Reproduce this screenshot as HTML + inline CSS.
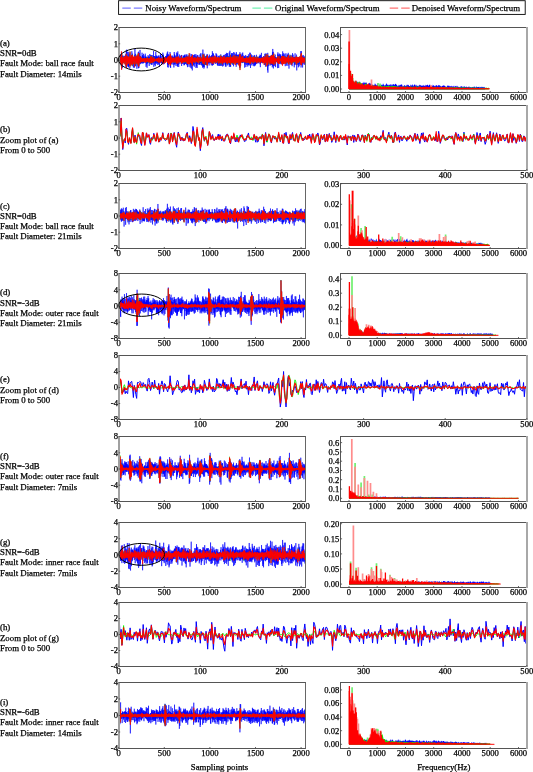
<!DOCTYPE html><html><head><meta charset="utf-8"><style>html,body{margin:0;padding:0;background:#fff;width:533px;height:772px;overflow:hidden}svg text{font-family:"Liberation Serif","Times New Roman",serif;fill:#000;stroke:#000;stroke-width:0.25px}</style></head><body><svg width="533" height="772" viewBox="0 0 533 772" style="position:absolute;left:0;top:0">
<rect width="533" height="772" fill="#fff"/>
<path transform="translate(118.7 60) scale(0.09121 0.16250)" d="M0 -19l1 29 1 111 1-160 1-8 1 106 1-77 1-6 1-20 1 65 1 17 1-19 1-37 1-8 1 38 1-3 1-20 1 9 1-9 1-7 1-16 1 35 1 8 1 1 1 5 1 9 1-37 1-16 1 54 1-4 1-54 1 34 1 55 1-59 1-41 1 56 1-26 1 1 1 20 1-31 1 10 1 62 1-53 1 2 1-25 1 1 1 38 1-24 1-3 1 14 1 20 1-21 1 8 1-17 1 9 1-6 1-14 1 43 1-24 1-11 1-11 1 15 1 10 1-14 1 11 1 11 1 6 1-23 1 16 1-26 1 29 1-26 1 27 1 13 1-29 1 8 1-18 1-15 1 73 1-62 1-17 1 52 1 13 1-87 1 80 1 21 1-38 1 10 1 17 1-95 1 43 1 44 1-72 1 87 1-23 1-37 1 13 1 16 1 16 1-18 1-18 1-8 1 1 1 6 1 56 1-92 1 41 1 54 1-32 1-23 1 7 1 12 1 29 1-72 1 4 1 63 1-52 1-19 1 14 1 8 1 31 1-27 1 65 1-99 1 10 1 53 1 3 1-18 1-14 1-3 1 3 1-7 1 30 1-13 1 9 1 0 1 13 1 12 1-63 1 39 1 6 1-16 1 22 1-17 1-57 1 13 1 31 1 5 1-25 1 68 1-42 1-35 1 58 1 2 1-11 1-10 1-5 1 18 1 12 1-40 1 27 1 34 1-30 1-33 1 17 1 23 1-24 1-4 1 14 1 6 1 34 1-77 1 24 1-23 1 51 1 17 1-26 1-10 1-75 1 89 1-12 1 30 1-31 1-44 1 74 1-27 1-28 1 8 1 11 1 22 1 2 1-3 1-3 1-33 1-3 1-7 1 36 1-23 1 8 1 58 1-68 1-2 1 22 1-18 1 30 1-32 1 25 1-15 1-15 1 41 1-54 1 50 1 20 1-53 1-32 1 53 1 45 1-23 1-79 1 0 1 36 1 42 1 22 1-76 1 17 1-19 1 7 1-20 1 40 1 5 1 26 1-9 1-26 1-7 1-49 1 72 1 13 1-44 1 43 1-17 1-19 1 9 1-17 1 28 1-17 1 24 1 7 1-15 1-1 1 13 1-10 1-23 1 34 1-22 1 25 1-1 1-65 1 11 1 43 1-31 1-5 1 10 1-12 1 28 1 13 1 9 1-39 1 38 1-15 1-20 1 34 1-14 1-43 1 51 1-35 1 26 1 8 1-4 1-21 1 16 1 9 1 4 1-6 1-23 1 22 1-1 1-3 1 9 1-42 1 32 1 9 1-52 1 17 1 34 1-28 1 3 1 25 1-31 1 5 1 3 1 53 1-59 1 11 1 16 1-5 1-2 1 24 1-4 1-44 1 32 1 4 1 33 1-42 1-4 1-3 1-15 1 37 1-27 1 22 1-20 1 3 1 1 1-30 1 25 1-13 1 33 1-10 1-27 1 10 1 7 1 11 1-6 1-10 1 19 1 23 1 5 1-48 1 20 1-25 1 10 1-15 1-16 1 44 1 15 1-41 1 28 1-11 1-29 1 42 1-22 1 10 1-4 1-3 1 34 1-18 1-20 1 26 1-40 1 56 1-22 1-32 1 45 1-50 1 46 1 0 1-12 1-36 1 60 1-33 1-12 1 14 1 5 1 4 1-12 1 2 1-10 1 17 1-5 1 4 1 10 1-36 1 42 1-75 1 60 1 23 1 15 1-49 1-15 1 10 1 18 1 2 1-3 1-28 1 13 1 13 1 27 1-53 1 27 1 11 1-36 1 15 1 44 1-8 1-27 1 14 1-14 1-46 1-7 1 51 1-17 1 0 1 23 1 18 1-51 1 28 1-5 1-9 1 29 1-44 1 17 1 4 1 21 1-30 1-6 1 36 1-27 1 18 1 24 1-26 1-24 1 8 1-6 1 37 1-5 1-23 1-14 1 29 1 19 1 3 1-57 1 2 1 48 1-36 1 7 1-4 1-4 1 18 1 7 1 32 1-47 1-10 1 10 1 1 1-9 1-13 1 45 1-20 1 4 1 3 1-42 1 24 1-16 1 10 1 30 1-36 1 6 1 16 1 0 1 18 1-13 1-1 1 0 1 16 1-29 1 5 1 34 1-15 1 2 1 3 1-12 1-9 1 26 1-1 1-21 1-45 1 46 1-10 1 32 1-33 1-23 1 33 1-27 1 41 1-8 1 20 1-35 1 26 1-15 1 3 1-22 1 23 1 17 1-6 1-2 1-16 1-12 1 17 1 4 1-25 1 9 1-6 1 14 1-3 1-18 1 20 1-21 1 14 1 5 1 1 1-19 1-4 1 19 1-17 1 16 1 13 1-17 1 0 1 7 1-31 1 45 1-30 1-25 1 3 1 44 1 11 1 14 1-42 1-37 1 95 1-9 1-63 1 22 1 54 1-56 1-18 1 54 1-24 1 27 1-66 1 30 1 31 1-5 1-23 1 11 1-13 1 15 1 14 1-40 1 10 1 4 1 7 1 7 1-39 1-22 1 68 1 9 1 16 1-74 1 11 1 68 1-65 1 26 1-27 1 43 1-28 1-3 1 27 1 4 1-6 1-19 1-28 1 29 1-12 1 15 1-3 1-1 1-14 1 14 1-18 1 0 1 11 1-21 1 29 1 26 1-27 1-5 1 2 1-17 1 11 1 11 1 4 1-14 1-13 1 10 1-1 1 57 1-62 1 46 1-27 1-52 1 50 1 24 1-60 1 50 1 5 1-15 1-30 1 0 1 23 1-7 1 35 1-41 1 23 1-19 1 18 1-3 1-32 1 49 1 15 1-42 1-9 1 19 1 12 1-62 1 54 1 15 1-19 1-2 1 2 1-10 1 6 1-12 1 50 1-50 1-7 1-22 1 82 1-44 1-50 1 43 1-8 1 32 1 16 1-34 1 17 1-31 1 39 1-26 1 48 1-36 1-21 1 6 1 5 1-6 1 17 1-42 1 38 1-3 1 11 1-15 1-9 1 36 1-13 1-9 1 9 1-14 1 12 1 0 1-2 1-33 1 24 1 4 1 3 1 4 1 6 1-10 1-24 1-8 1-4 1 62 1 6 1-29 1-38 1 41 1 2 1-32 1 22 1 10 1-9 1-15 1 33 1-22 1 7 1-8 1-2 1 27 1-31 1 20 1-17 1-6 1-16 1 17 1 3 1-17 1 20 1-13 1 49 1-62 1 11 1-4 1 51 1-45 1-14 1 58 1-4 1-9 1-16 1-34 1 1 1 53 1-37 1 37 1-39 1 44 1-24 1-8 1 30 1-49 1 23 1-13 1 21 1 6 1-3 1-7 1-28 1 21 1 28 1-57 1 66 1-47 1-2 1 52 1-37 1-3 1 51 1-36 1-1 1 0 1-29 1 38 1-25 1-19 1 17 1 29 1-20 1 7 1 0 1-17 1 3 1 30 1-17 1 38 1-49 1-24 1 42 1-17 1 9 1-9 1 29 1-32 1 7 1 25 1-62 1 62 1-26 1 50 1-18 1-12 1-33 1 22 1 11 1 16 1-9 1-26 1 26 1-13 1-22 1 64 1-19 1-70 1 38 1 7 1-10 1 22 1 2 1-22 1-10 1 73 1-60 1-5 1-19 1 17 1 36 1-44 1 28 1-35 1 18 1 8 1 3 1-42 1 64 1-32 1 4 1 1 1-2 1-19 1 0 1-16 1 42 1 30 1-17 1-16 1-18 1-25 1 12 1 36 1 12 1-50 1 42 1-13 1-15 1 5 1 1 1 0 1 2 1-1 1-32 1 85 1-35 1 1 1-32 1 8 1 6 1 43 1-38 1-23 1 19 1 13 1-12 1-21 1 71 1-80 1 8 1 44 1-17 1-9 1-10 1 40 1-55 1 37 1-3 1-13 1 15 1-7 1 13 1-32 1 23 1-2 1 3 1 16 1 10 1-44 1 5 1-9 1 44 1-1 1-10 1 13 1-29 1-8 1-2 1-23 1 9 1 44 1-20 1 17 1-11 1 14 1-60 1 26 1 28 1 17 1-30 1 18 1-16 1 7 1-11 1-13 1-1 1 49 1-29 1-10 1 13 1-6 1-42 1 73 1-31 1-8 1 5 1 49 1-57 1 35 1 0 1-89 1 51 1 53 1-4 1-60 1 13 1 22 1 32 1-35 1-41 1 44 1 42 1-41 1-3 1-48 1 34 1 50 1-52 1-9 1 47 1-7 1-23 1 0 1 26 1-18 1-9 1 27 1-51 1 54 1-40 1 5 1 2 1-1 1 14 1-16 1-19 1 51 1-30 1 19 1-25 1-18 1 59 1-24 1 19 1 2 1 4 1-69 1 4 1 84 1-33 1-50 1 53 1-15 1-25 1 7 1 30 1-16 1 6 1-4 1 6 1-13 1 4 1 21 1-31 1-14 1 30 1 2 1-8 1 33 1-25 1-21 1-21 1 33 1-6 1 2 1 6 1-6 1 23 1-15 1-20 1 36 1-45 1 40 1-22 1 16 1-2 1-21 1 1 1 17 1 9 1-7 1 7 1 20 1-46 1 19 1-32 1 35 1-4 1-36 1 40 1 5 1-33 1 10 1 41 1-86 1 28 1 60 1-12 1-31 1-3 1-19 1-12 1 40 1-15 1 13 1-1 1-32 1 68 1-38 1-10 1 35 1-9 1-3 1 8 1-40 1 7 1-4 1 18 1 10 1 10 1-5 1-3 1-14 1-6 1 17 1-17 1 26 1 11 1 1 1-7 1-8 1 2 1-5 1-9 1-39 1 58 1 2 1-3 1-6 1-30 1 19 1-34 1 57 1-35 1-14 1 42 1-25 1 1 1-1 1 43 1-33 1-8 1 25 1 19 1-39 1 9 1-8 1 17 1 13 1-33 1-16 1 4 1 35 1-37 1-4 1 61 1-30 1-22 1 17 1-30 1 28 1-8 1 28 1-30 1 29 1 17 1-13 1-37 1-7 1 20 1 31 1 5 1-46 1 26 1-23 1 34 1-61 1 21 1 20 1 5 1-2 1 27 1-61 1 9 1 36 1-4 1-35 1 20 1-5 1 38 1-56 1 34 1-20 1 10 1 18 1-35 1-3 1 58 1-24 1-30 1-10 1 21 1 8 1-12 1 42 1-66 1 27 1 1 1-14 1 10 1-4 1-11 1 8 1 12 1 4 1-5 1-2 1-27 1 12 1 32 1-10 1-3 1 29 1-11 1-9 1-12 1 20 1 24 1-42 1-35 1 67 1-18 1-35 1 26 1 38 1-26 1-13 1 9 1-55 1 2 1 46 1 10 1-6 1-22 1-2 1-20 1 40 1 18 1-51 1-14 1 27 1 49 1-9 1-28 1-20 1 17 1 24 1-16 1-26 1 18 1 28 1-25 1 6 1-3 1 8 1-15 1 36 1-54 1-20 1 63 1 25 1-24 1 12 1-49 1 1 1 21 1-60 1 52 1 27 1-19 1 37 1-48 1-17 1 25 1 42 1-35 1-30 1 8 1 7 1-3 1-9 1 40 1-48 1 47 1-61 1 43 1 1 1-14 1 16 1 18 1-2 1-61 1 38 1-5 1-18 1 55 1-6 1-28 1-37 1 58 1-11 1-3 1 0 1 18 1-40 1 2 1 57 1-56 1-32 1 75 1-26 1-5 1-18 1-2 1 41 1-36 1 5 1-17 1 40 1-26 1-27 1 36 1 27 1-36 1 29 1 5 1-27 1 6 1-12 1 21 1-38 1 26 1-26 1 36 1 13 1 27 1-39 1 4 1-55 1 41 1-6 1 35 1 4 1-19 1-37 1 27 1-6 1 36 1-35 1 12 1 4 1-21 1-20 1 28 1-26 1 48 1-7 1 12 1-28 1 28 1-34 1-22 1 36 1 27 1 3 1-17 1-41 1 21 1-11 1 12 1-2 1 21 1-48 1 32 1 49 1-75 1-21 1 95 1-42 1-40 1 59 1 3 1-4 1-42 1 55 1-56 1-18 1 22 1 25 1 5 1-15 1-14 1 10 1-23 1 10 1 5 1 29 1-9 1 5 1-16 1-2 1-34 1 45 1 0 1-8 1 9 1 13 1-65 1 37 1 23 1 3 1-3 1 1 1-16 1 12 1-21 1-4 1 20 1-34 1 41 1-26 1 3 1 11 1-22 1-3 1 37 1-6 1-29 1 69 1-48 1-10 1 6 1 33 1-29 1 20 1-6 1-28 1 18 1 9 1-43 1 21 1 53 1-13 1-42 1-11 1 15 1 14 1 11 1-30 1 36 1 7 1-24 1-8 1 16 1-2 1-5 1-28 1 27 1-28 1 10 1 17 1-26 1 61 1-64 1 13 1 28 1 11 1-16 1 19 1-66 1 57 1-4 1-30 1 12 1-8 1-3 1 8 1 37 1-52 1 33 1-23 1 17 1 15 1-23 1-46 1 74 1-8 1-6 1-17 1 17 1-59 1 49 1 44 1-37 1-1 1-39 1 19 1-12 1 27 1-17 1 5 1 17 1-45 1 12 1 26 1 0 1 29 1-46 1 11 1 1 1 7 1-7 1 24 1-36 1 1 1 23 1-32 1-7 1 20 1 6 1 25 1-37 1 49 1-32 1-2 1-1 1 8 1-20 1 25 1 4 1-40 1 43 1 19 1-29 1-41 1 66 1-18 1-2 1-31 1 29 1-40 1 33 1-5 1-14 1-5 1 52 1-26 1-23 1 44 1-36 1 3 1 4 1 21 1-32 1 12 1-17 1 13 1-9 1-20 1 44 1 12 1-21 1 0 1 0 1-20 1 37 1-15 1-24 1 7 1 3 1 14 1 0 1-10 1-7 1 25 1-31 1 34 1-26 1 30 1-25 1 6 1-7 1 12 1-23 1 26 1-3 1-21 1-10 1 25 1-5 1 16 1-1 1-16 1-18 1 23 1-29 1-3 1 59 1-37 1 19 1 36 1-27 1-19 1-29 1 23 1 15 1 7 1-3 1-16 1 7 1 16 1-11 1-51 1 37 1 8 1-19 1 23 1 3 1-11 1 20 1-5 1 1 1-22 1 16 1 7 1-31 1-1 1-1 1 4 1 29 1-20 1 10 1-9 1 10 1-15 1-14 1 43 1 0 1-31 1 19 1 0 1-27 1 9 1 42 1-28 1-7 1-10 1 21 1 18 1-22 1-41 1 65 1 3 1-33 1 15 1-50 1 79 1-18 1-34 1-4 1 16 1-6 1 7 1-43 1 36 1 20 1 2 1-4 1-33 1-7 1-7 1 35 1-23 1 22 1-8 1 23 1-16 1 1 1-31 1 94 1-25 1-82 1 42 1 80 1-81 1-10 1 4 1 47 1-40 1-22 1 19 1 30 1-22 1 20 1-49 1 16 1-11 1 30 1 9 1-23 1-10 1-4 1 0 1 10 1-13 1 18 1 39 1-44 1-15 1 26 1 11 1 2 1 10 1-41 1-5 1 50 1-34 1 7 1 9 1-40 1 58 1-14 1-30 1 33 1 11 1-32 1-22 1-7 1 35 1-31 1 15 1 58 1-34 1-60 1 32 1 46 1-97 1 80 1 25 1-29 1-24 1-1 1-33 1 102 1-28 1-33 1 0 1-21 1-4 1 72 1-9 1-25 1-26 1 25 1 13 1-38 1 15 1 11 1 31 1-33 1-11 1 17 1 4 1-33 1-12 1 34 1 4 1 39 1-60 1 19 1 0 1-6 1 8 1-23 1 30 1-2 1-17 1 5 1-3 1 5 1 14 1-23 1 3 1-7 1-2 1 16 1-3 1 4 1 22 1 26 1-85 1 10 1-22 1 55 1-3 1 5 1-27 1-12 1 41 1-18 1-1 1 56 1-49 1 10 1-15 1-20 1-15 1 45 1 13 1-52 1 35 1 18 1-36 1 1 1 16 1-9 1-6 1-7 1 9 1-23 1 30 1-23 1 52 1-43 1 15 1 2 1 16 1-36 1 37 1 13 1-34 1-4 1 30 1 4 1-33 1-4 1 32 1-44 1 29 1-19 1-19 1 26 1-8 1 36 1-18 1-54 1 76 1 4 1-21 1-23 1 15 1 26 1-29 1 2 1-38 1 41 1 11 1-26 1 33 1-48 1 3 1 36 1 2 1-9 1-15 1 7 1 7 1 11 1-51 1 43 1-5 1-13 1 34 1 18 1-55 1-5 1 26 1 11 1-25 1 28 1-10 1-49 1 13 1 22 1-12 1 53 1-51 1 21 1-21 1 16 1 21 1-16 1-12 1 19 1-31 1 16 1-28 1 46 1-49 1 26 1-15 1 24 1 35 1-25 1-18 1-26 1-11 1 44 1-3 1 26 1-4 1-53 1 9 1 29 1 49 1-48 1 13 1-23 1-18 1 11 1 1 1 20 1-9 1 16 1-15 1-29 1 56 1-31 1 13 1-27 1 27 1 5 1 6 1-21 1-3 1-29 1 3 1 7 1 30 1 7 1-1 1 2 1 7 1-36 1 40 1 2 1-38 1 22 1 25 1-63 1-1 1 26 1-8 1-34 1 48 1 12 1 1 1-16 1 13 1-49 1 18 1 5 1-8 1 0 1 14 1-11 1 21 1 6 1-9 1-19 1 31 1 25 1 5 1-30 1-16 1-4 1-14 1 34 1 16 1-29 1-33 1-10 1 64 1-17 1 0 1-21 1 4 1 6 1-2 1 7 1-15 1 18 1 28 1-21 1-28 1 15 1-25 1-5 1 49 1 48 1-58 1-18 1 35 1 7 1-29 1-4 1 6 1 0 1 14 1-7 1-13 1 6 1 9 1 14 1-6 1-22 1 4 1 43 1-63 1 25 1-7 1 6 1-18 1 13 1-6 1 44 1-50 1 38 1-16 1-25 1 5 1 5 1 14 1-4 1 6 1-36 1 1 1 26 1 6 1 5 1 15 1-39 1-1 1-1 1-43 1 39 1 62 1-5 1-39 1-56 1 21 1 51 1-11 1 9 1-27 1-20 1 38 1 3 1 0 1-7 1-1 1-13 1-13 1 70 1-39 1-12 1-3 1 21 1-2 1 16 1-58 1 38 1 2 1-15 1-1 1 14 1-25 1 33 1-16 1 6 1-30 1 21 1-10 1 25 1 18 1-23 1 0 1-15 1 4 1-9 1 5 1 26 1-19 1 8 1-3" stroke="#0000ff" stroke-width="0.6" fill="none" vector-effect="non-scaling-stroke" stroke-linejoin="round"/>
<path transform="translate(118.7 60) scale(0.09121 0.16250)" d="M0 -13l1 27 1 94 1-140 1-6 1 81 1-31 1-51 1 11 1 46 1 23 1-35 1-34 1 14 1 23 1-6 1 2 1 6 1-19 1-5 1 9 1 2 1 17 1 2 1-25 1 0 1-3 1-3 1 42 1-15 1-57 1 59 1 37 1-82 1-2 1 48 1-23 1 12 1 24 1-43 1-3 1 30 1-13 1-6 1 0 1 1 1 24 1-8 1-28 1 14 1 7 1-12 1 16 1-2 1-21 1 20 1 12 1-20 1-5 1-6 1 5 1 32 1-3 1-36 1-2 1 25 1 6 1-19 1-3 1 15 1-9 1-2 1 19 1-10 1-9 1 8 1-22 1 2 1 51 1-10 1-41 1 17 1-15 1-23 1 63 1 19 1-56 1 2 1 9 1-19 1 27 1 7 1-30 1 23 1 20 1-37 1-13 1 22 1 6 1 1 1 3 1-12 1-10 1 19 1 6 1-27 1 5 1 32 1-15 1-28 1 19 1 17 1-16 1-11 1 11 1 16 1-9 1-23 1 11 1 18 1-20 1 8 1 36 1-41 1-47 1 48 1 43 1-26 1-24 1-1 1 10 1 13 1-12 1-11 1 9 1 8 1 15 1-10 1-36 1 12 1 22 1-14 1 22 1 12 1-53 1 3 1 39 1-27 1 5 1 42 1-37 1-34 1 31 1 14 1-3 1-2 1-13 1 5 1 7 1-20 1 7 1 34 1-11 1-29 1-1 1 8 1 11 1 5 1-7 1 6 1 1 1-21 1-11 1 9 1 28 1 25 1-27 1-38 1 4 1 14 1 17 1 14 1-21 1-16 1 18 1 3 1-18 1 2 1 16 1 2 1-14 1 3 1 13 1-13 1-15 1 20 1 10 1-22 1 9 1 24 1-28 1-31 1 35 1 28 1-32 1-8 1 28 1-18 1-17 1 31 1-10 1-19 1 38 1-10 1-48 1 29 1 44 1-12 1-30 1-37 1 10 1 64 1 7 1-39 1-4 1-2 1-12 1 12 1 12 1 3 1 4 1 1 1-12 1-23 1 3 1 29 1 0 1-14 1 17 1-1 1-28 1-1 1 19 1 6 1-1 1 0 1-12 1-11 1 11 1 19 1-6 1-16 1 4 1 4 1 0 1 8 1-9 1-11 1 15 1 6 1-11 1 1 1-2 1-2 1 15 1-3 1-15 1 6 1-1 1-4 1 17 1 1 1-18 1 3 1 6 1-10 1 4 1 16 1-7 1-15 1 9 1 10 1-12 1-7 1 7 1 7 1 7 1-4 1-15 1 0 1 8 1-4 1 8 1 9 1-15 1-5 1 10 1-11 1-1 1 20 1-1 1-13 1 0 1 2 1-2 1-1 1 9 1 8 1-20 1-8 1 24 1-2 1-11 1 13 1-11 1-14 1 17 1 3 1-3 1 11 1-10 1-9 1 2 1-6 1 11 1 17 1-12 1-10 1 1 1-2 1 10 1-1 1-11 1 12 1 10 1-22 1-5 1 18 1 0 1-3 1-3 1-6 1 12 1 2 1-12 1 4 1-5 1 0 1 27 1-13 1-32 1 19 1 16 1-7 1 7 1-16 1-21 1 27 1 17 1-12 1-1 1-15 1-11 1 30 1 9 1-27 1 1 1 18 1-7 1-10 1 4 1 1 1 5 1 10 1-8 1-19 1 0 1 16 1 10 1 1 1-11 1-16 1 1 1 13 1 7 1 5 1-4 1-20 1-4 1 21 1 6 1-13 1-1 1 4 1 0 1 1 1-1 1-5 1 1 1 4 1 2 1 1 1-2 1-6 1 0 1 4 1 2 1 0 1-2 1-3 1 2 1 6 1-5 1-8 1 7 1 6 1-5 1 3 1-1 1-11 1 7 1 10 1-11 1-1 1 9 1-7 1 0 1 11 1-10 1-9 1 8 1 3 1 6 1 2 1-16 1-5 1 16 1 5 1-7 1-10 1 0 1 17 1 2 1-19 1 4 1 10 1-12 1 1 1 16 1-11 1-8 1 17 1-4 1-17 1 5 1 8 1 4 1 6 1-8 1-10 1 2 1-1 1 3 1 11 1 0 1-7 1-4 1-2 1 2 1 2 1-2 1 8 1 5 1-12 1-6 1 8 1 3 1-5 1-3 1 6 1 11 1-9 1-17 1 12 1 9 1-16 1 5 1 20 1-11 1-13 1 5 1-3 1 2 1 14 1-6 1-9 1 11 1 0 1-20 1 1 1 21 1 6 1-10 1-9 1-2 1 1 1 8 1 9 1-6 1-18 1 4 1 23 1-8 1-20 1 15 1 11 1-21 1 0 1 18 1-1 1-8 1-5 1-3 1 10 1 6 1-8 1 0 1-1 1-4 1 9 1 1 1-13 1 3 1 12 1 3 1-10 1-16 1 6 1 26 1-8 1-22 1 18 1 12 1-25 1-12 1 22 1 19 1-12 1-24 1 14 1 15 1-21 1 0 1 15 1-14 1 7 1 21 1-22 1-21 1 17 1 19 1-2 1-24 1-9 1 35 1 18 1-38 1-30 1 29 1 37 1-23 1-29 1 29 1 11 1-37 1 6 1 30 1-9 1-12 1-4 1-2 1 19 1 5 1-19 1 1 1-1 1-5 1 19 1 4 1-17 1 1 1-1 1-7 1 17 1 7 1-14 1 2 1-4 1-11 1 15 1 12 1-8 1-8 1-5 1 2 1 10 1 1 1-2 1-1 1-7 1 1 1 2 1-5 1 12 1 12 1-15 1-14 1 0 1 8 1 15 1 0 1-14 1 0 1 4 1-5 1 0 1 1 1 5 1 14 1-12 1-24 1 17 1 17 1-23 1-1 1 29 1-12 1-21 1 17 1 0 1-19 1 24 1 10 1-33 1 2 1 27 1-3 1-9 1-11 1-11 1 21 1 17 1-12 1-3 1-5 1-15 1 12 1 13 1-7 1 3 1 4 1-7 1-10 1-4 1 14 1 11 1-9 1-2 1-1 1-11 1 10 1 14 1-16 1-5 1 13 1-5 1 0 1 6 1-12 1 1 1 5 1-4 1 14 1-2 1-20 1 14 1 8 1-28 1 8 1 29 1-7 1-16 1-2 1 0 1 5 1 1 1-1 1 11 1 0 1-20 1 27 1-13 1-10 1 4 1 11 1-4 1-16 1 4 1 16 1-9 1-10 1 19 1 3 1-23 1-5 1 17 1 16 1-6 1-24 1 1 1 19 1-5 1-11 1 10 1 13 1-7 1-19 1 1 1 14 1-2 1-1 1 14 1-10 1-23 1 11 1 21 1-4 1-16 1-5 1 15 1 11 1-12 1-8 1 3 1-5 1 1 1 17 1 9 1-16 1-24 1 12 1 24 1-19 1-10 1 32 1-2 1-29 1 7 1 5 1-2 1 4 1-9 1 14 1 20 1-33 1-12 1 27 1-12 1-14 1 22 1 15 1 5 1-24 1-39 1 21 1 39 1-7 1-10 1-5 1-11 1 14 1 8 1-21 1-1 1 21 1 5 1-12 1-8 1-1 1 1 1 11 1 12 1-19 1-16 1 25 1-2 1-23 1 29 1 11 1-37 1 8 1 13 1-20 1 22 1 13 1-44 1 10 1 47 1-25 1-39 1 20 1 23 1-9 1-5 1 10 1-9 1-11 1 13 1 2 1-15 1 9 1 15 1-8 1-9 1 2 1 1 1-1 1-2 1 2 1 8 1 7 1-11 1-21 1 3 1 31 1 3 1-26 1-1 1 13 1-1 1-2 1-2 1-7 1 6 1 10 1-3 1-7 1-3 1 4 1 4 1-8 1-2 1 17 1 3 1-17 1-8 1 7 1 8 1-1 1 2 1 7 1-16 1-15 1 24 1 9 1-19 1 10 1 6 1-25 1 5 1 18 1-6 1 1 1 5 1-8 1-3 1-4 1-6 1 13 1 17 1-3 1-16 1-11 1 4 1 7 1 2 1 9 1 0 1-14 1 4 1 7 1-16 1-3 1 18 1 2 1-2 1 8 1-14 1-19 1 11 1 16 1-2 1-2 1 4 1-2 1-10 1-8 1 6 1 15 1 1 1-10 1 0 1 3 1-10 1 2 1 21 1-9 1-23 1 12 1 11 1-3 1 16 1-13 1-43 1 18 1 46 1-8 1-27 1-5 1 17 1 15 1-29 1-19 1 38 1 8 1-22 1 16 1-6 1-24 1 24 1 0 1-31 1 32 1 26 1-36 1-13 1 19 1 3 1-5 1-6 1-2 1 14 1 7 1-14 1-7 1 8 1-2 1-7 1 11 1 12 1-5 1-11 1-10 1-1 1 22 1 2 1-24 1 19 1 17 1-46 1 1 1 56 1-20 1-45 1 23 1 19 1-8 1 5 1-2 1-12 1-4 1 3 1 10 1 4 1-6 1 4 1-2 1-13 1 4 1 9 1-5 1 6 1 6 1-12 1 1 1 3 1-14 1 4 1 19 1-3 1-6 1 3 1-11 1-10 1 13 1 13 1-4 1 1 1-6 1-18 1 8 1 26 1-10 1-22 1 15 1 14 1-16 1-10 1 11 1 11 1-8 1-12 1 12 1 5 1-14 1 10 1 10 1-26 1-4 1 28 1 6 1-12 1-14 1-9 1 14 1 16 1 3 1-10 1-24 1 6 1 29 1-9 1-15 1 9 1-6 1 6 1 18 1-25 1-14 1 28 1 0 1-16 1 10 1 7 1-13 1-6 1 9 1 7 1-4 1-3 1 8 1-8 1-13 1 14 1 12 1-11 1-5 1-3 1 4 1 15 1-6 1-13 1 9 1-5 1-12 1 15 1 18 1-7 1-13 1-9 1-2 1 12 1 10 1-3 1-3 1 3 1-11 1-11 1 14 1 12 1-7 1 3 1-2 1-20 1 10 1 23 1-19 1-14 1 22 1 4 1-12 1 5 1-6 1-5 1 12 1-5 1-9 1 20 1 8 1-17 1-11 1-4 1 2 1 20 1 12 1-19 1-7 1 17 1-14 1-28 1 28 1 30 1-24 1-8 1 17 1-21 1-10 1 31 1-3 1-24 1 17 1 14 1-20 1-4 1 11 1-13 1 7 1 21 1-20 1-12 1 29 1 0 1-31 1-1 1 14 1 7 1 7 1 5 1-9 1-21 1-7 1 18 1 14 1 0 1-8 1-9 1 5 1 9 1-11 1-11 1 10 1 15 1 1 1-14 1-7 1 8 1 7 1-7 1-4 1 4 1 8 1 2 1-17 1 1 1 17 1-19 1-8 1 33 1 0 1-18 1 2 1-16 1 0 1 31 1-2 1-11 1-1 1-21 1 10 1 36 1-14 1-27 1 0 1 11 1 21 1 3 1-29 1-13 1 16 1 17 1 5 1-17 1-15 1 12 1 7 1 0 1 4 1-11 1 2 1 15 1-20 1-9 1 18 1-4 1 12 1 12 1-37 1-2 1 30 1-23 1-4 1 31 1-6 1-2 1-3 1-40 1 10 1 52 1-11 1-24 1 15 1-7 1-23 1 13 1 29 1-6 1-30 1 4 1 27 1-5 1-22 1 7 1 11 1-12 1 2 1 19 1-10 1-23 1 15 1 23 1-21 1-19 1 20 1 11 1-11 1 4 1 4 1-20 1-3 1 24 1-3 1-15 1 22 1 8 1-41 1-10 1 38 1 14 1-14 1-16 1-5 1 20 1 1 1-20 1 16 1 6 1-32 1 19 1 32 1-29 1-14 1 15 1-4 1 3 1 8 1-12 1-5 1 9 1 13 1 3 1-26 1-12 1 20 1 4 1 0 1 16 1-6 1-27 1-7 1 21 1 16 1-6 1-6 1 2 1-8 1-8 1 4 1-1 1 10 1 16 1-13 1-5 1 8 1-17 1-12 1 8 1 14 1 30 1-5 1-46 1 2 1 18 1-6 1 16 1-8 1-25 1 45 1 17 1-68 1-6 1 94 1-45 1-48 1 33 1 30 1-26 1-19 1 14 1 9 1-10 1-3 1 3 1 14 1 6 1-18 1-14 1 10 1 2 1 1 1 14 1-3 1-7 1 0 1-17 1-3 1 26 1 3 1-6 1 8 1-16 1-19 1 16 1 13 1-5 1 3 1 1 1-4 1-4 1-4 1-4 1 6 1 16 1 1 1-18 1-1 1 6 1-7 1 8 1 12 1-19 1-4 1 22 1-9 1-15 1 14 1 2 1-10 1 9 1 3 1-9 1 5 1 1 1-12 1 1 1 18 1 4 1-17 1-11 1 11 1 15 1-9 1-17 1 17 1 14 1-26 1-6 1 25 1-1 1-15 1 4 1 1 1 6 1 1 1-21 1 9 1 23 1-16 1-6 1 5 1-9 1 15 1 2 1-24 1 17 1 14 1-19 1 5 1-4 1-12 1 25 1 8 1-26 1 3 1 0 1-5 1 31 1-10 1-35 1 22 1 10 1-10 1 20 1-18 1-32 1 29 1 27 1-11 1-22 1-6 1 20 1-4 1-12 1 27 1-6 1-29 1 22 1 3 1-20 1 24 1 0 1-25 1 16 1 9 1-18 1 7 1 8 1-14 1 6 1 13 1-13 1-14 1 13 1 20 1-16 1-17 1 19 1-1 1-11 1 22 1-14 1-23 1 34 1 3 1-29 1 20 1 8 1-30 1 5 1 25 1-4 1-13 1 3 1 4 1-9 1 0 1 12 1-6 1-2 1 15 1-12 1-17 1 14 1 7 1-3 1 6 1-11 1-5 1 17 1-7 1-14 1 12 1 2 1 2 1 13 1-19 1-21 1 19 1 15 1-6 1-3 1-1 1-3 1-3 1 4 1 4 1-8 1 5 1 14 1-16 1-14 1 20 1 7 1-16 1-1 1 11 1-1 1-11 1 3 1 13 1-4 1-11 1 0 1 4 1 7 1 3 1-13 1 2 1 12 1-14 1-2 1 11 1-9 1 6 1 16 1-18 1-10 1 9 1-5 1 11 1 9 1-15 1 0 1 3 1-11 1 9 1 12 1-8 1-4 1-6 1-4 1 21 1 2 1-22 1 10 1 6 1-20 1 13 1 19 1-18 1-12 1 10 1 5 1 1 1-5 1-1 1 8 1-7 1-12 1 18 1 11 1-24 1-2 1 22 1-13 1-18 1 25 1 16 1-22 1-16 1 8 1 13 1 5 1-10 1-7 1 6 1 8 1-4 1-14 1 6 1 21 1-15 1-21 1 23 1 12 1-11 1 3 1-26 1-16 1 55 1 21 1-45 1-10 1 8 1-7 1 12 1 10 1 0 1 1 1-12 1-11 1 1 1 11 1 25 1-17 1-37 1 31 1 28 1-38 1-9 1 29 1-5 1-17 1 5 1 14 1 2 1-12 1 1 1-1 1-15 1 17 1 23 1-20 1-10 1 3 1-7 1 18 1 3 1-26 1 24 1 15 1-42 1 5 1 22 1-13 1 19 1-2 1-37 1 26 1 13 1-29 1 27 1 0 1-38 1 31 1 10 1-35 1 25 1 15 1-28 1-2 1 10 1 5 1-8 1-8 1 31 1-8 1-39 1 34 1 8 1-45 1 30 1 25 1-25 1 9 1-19 1-24 1 49 1 9 1-35 1 14 1-40 1 23 1 41 1-21 1-29 1 23 1 16 1-13 1-6 1-6 1 12 1 8 1-18 1 0 1 19 1-8 1-8 1-4 1-4 1 24 1 7 1-28 1-3 1 13 1 0 1 1 1-1 1-1 1 3 1-4 1-1 1 2 1-3 1 5 1 1 1-7 1 7 1 5 1-12 1-9 1 8 1 20 1 3 1-24 1-11 1 10 1 7 1 16 1 0 1-33 1 6 1 24 1-19 1 3 1 16 1-24 1 10 1 25 1-39 1-11 1 42 1 0 1-21 1 3 1-2 1-2 1 10 1-1 1-5 1 4 1 2 1-7 1-4 1 7 1 7 1-6 1-4 1 4 1-1 1-7 1 3 1 16 1 0 1-28 1 2 1 36 1-13 1-33 1 18 1 24 1-11 1-10 1 0 1-2 1-7 1 13 1 24 1-22 1-28 1 32 1 11 1-40 1 4 1 34 1 4 1-11 1-23 1-7 1 20 1 6 1 8 1 6 1-39 1-4 1 45 1-7 1-31 1 9 1 11 1 6 1 1 1-18 1 1 1 9 1-12 1 13 1 16 1-24 1-4 1 16 1-17 1-4 1 37 1-3 1-40 1 1 1 30 1-1 1-13 1 4 1-2 1-6 1 12 1 0 1-14 1 10 1 9 1-16 1-2 1 14 1 5 1-10 1-21 1 7 1 33 1-5 1-19 1 4 1-13 1-7 1 31 1 5 1-11 1 8 1-22 1-24 1 34 1 24 1-22 1-11 1 10 1 0 1-8 1-2 1 11 1 7 1-12 1-4 1 14 1-1 1-18 1-1 1 17 1 2 1-13 1 7 1 18 1-10 1-27 1-11 1 22 1 37 1-3 1-39 1-3 1 14 1-6 1 10 1 9 1-20 1 7 1 18 1-25 1-10 1 31 1-5 1-25 1 23 1 10 1-25 1 8 1 7 1-22 1 12 1 19 1-15 1 2 1 3 1-17 1 12 1 12 1-24 1 2 1 24 1-8 1-6 1 3 1-12 1 0 1 11 1 3 1 5 1-1 1-23 1 0 1 21 1-5 1-3 1 11 1-9 1-5 1 9 1-11 1-12 1 21 1 20 1-17 1-18 1 13 1-5 1-15 1 33 1 13 1-45 1-2 1 36 1-8 1-14 1 5 1-6 1 7 1 15 1-16 1-17 1 18 1 16 1-8 1-22 1-5 1 28 1 9 1-22 1 1 1 4 1-8 1 4 1 4 1 0 1 5 1-5 1-2 1 6 1-11 1-7 1 16 1 10 1-7 1-8 1-6 1 3 1-2 1 1 1 23 1-1 1-24 1 10 1-3 1-31 1 23 1 38 1-3 1-15 1-35 1-16 1 43 1 26 1-15 1-15 1-13 1 4 1 14 1-4 1 11 1 1 1-32 1 5 1 31 1-4 1-12 1-9 1-3 1 20 1 1 1-17 1 10 1 3 1-13 1 9 1 7 1-18 1 10 1 16 1-20 1-9 1 12 1 3 1 7 1-4 1-18 1 14 1 12 1-25 1-1 1 24 1-4 1-5 1 8 1-18" stroke="#00ff00" stroke-width="0.35" fill="none" vector-effect="non-scaling-stroke" stroke-linejoin="round"/>
<path transform="translate(118.7 60) scale(0.09121 0.16250)" d="M0 -10l1 20 1 102 1-148 1-6 1 87 1-33 1-48 1 11 1 43 1 20 1-30 1-36 1 9 1 24 1 3 1 3 1 0 1-20 1-6 1 10 1-3 1 23 1 5 1-23 1-3 1-7 1 0 1 40 1-16 1-64 1 72 1 41 1-92 1-3 1 55 1-24 1-2 1 37 1-40 1-8 1 27 1-9 1-5 1-5 1 7 1 18 1-4 1-28 1 14 1 6 1-16 1 19 1 0 1-19 1 19 1 12 1-28 1-2 1-6 1 12 1 32 1-9 1-29 1-13 1 32 1 4 1-19 1 0 1 10 1-1 1-8 1 17 1-7 1-8 1 8 1-23 1-3 1 57 1-6 1-47 1 18 1-16 1-22 1 58 1 29 1-57 1-7 1 18 1-27 1 30 1 14 1-39 1 19 1 29 1-33 1-21 1 27 1 3 1-5 1 10 1-11 1-14 1 18 1 12 1-27 1-1 1 36 1-14 1-29 1 16 1 15 1-13 1-7 1 10 1 16 1-9 1-29 1 14 1 17 1-17 1 8 1 34 1-40 1-47 1 51 1 40 1-26 1-32 1 6 1 14 1 10 1-8 1-15 1 7 1 2 1 28 1-12 1-40 1 13 1 17 1-5 1 19 1 10 1-58 1 14 1 40 1-37 1 5 1 42 1-28 1-37 1 28 1 14 1-1 1-2 1-19 1 12 1 6 1-21 1 8 1 31 1-9 1-27 1-8 1 14 1 13 1-1 1-1 1 4 1-1 1-19 1-14 1 9 1 33 1 24 1-31 1-34 1 2 1 8 1 22 1 18 1-21 1-18 1 16 1 4 1-23 1 10 1 12 1-1 1-2 1-8 1 17 1-11 1-24 1 23 1 16 1-23 1 9 1 19 1-29 1-23 1 31 1 29 1-34 1-6 1 29 1-22 1-19 1 35 1 0 1-29 1 35 1-9 1-49 1 29 1 51 1-8 1-42 1-32 1 6 1 69 1 5 1-44 1 5 1-6 1-9 1 9 1 9 1 3 1 6 1 8 1-17 1-25 1 4 1 23 1 7 1-9 1 14 1-5 1-32 1 8 1 11 1 8 1 5 1-5 1-8 1-13 1 9 1 18 1-4 1-19 1 11 1 3 1-3 1 5 1-10 1 0 1 8 1 9 1-18 1-3 1 9 1-3 1 16 1-7 1-13 1 4 1 1 1-5 1 15 1-1 1-16 1 14 1-2 1-9 1-1 1 14 1 1 1-20 1 15 1 8 1-19 1-4 1 10 1 10 1 5 1-10 1-12 1 0 1 7 1 0 1 5 1 14 1-16 1-8 1 7 1-12 1 4 1 22 1-1 1-21 1 1 1 10 1-2 1-7 1 10 1 6 1-19 1-3 1 16 1 6 1-11 1 8 1-9 1-15 1 20 1-3 1 5 1 5 1-14 1 1 1 3 1-6 1-1 1 21 1-8 1-9 1-3 1-3 1 20 1-7 1-12 1 7 1 15 1-24 1-2 1 26 1-17 1 2 1 2 1-3 1 10 1-7 1-11 1 10 1-1 1-5 1 26 1-15 1-26 1 17 1 13 1-4 1 1 1-8 1-19 1 22 1 14 1-10 1 3 1-22 1-7 1 33 1 7 1-27 1-2 1 19 1-4 1-11 1 2 1-1 1 6 1 15 1-8 1-23 1 0 1 17 1 7 1 4 1-11 1-15 1 6 1 6 1 6 1 5 1-3 1-17 1-5 1 22 1-2 1-10 1 13 1-7 1-6 1 6 1-1 1-4 1 3 1 4 1-4 1 8 1-5 1-9 1 5 1 1 1 7 1-5 1-4 1 2 1-1 1 8 1-2 1-11 1 2 1 7 1 0 1 6 1-9 1-10 1 14 1 4 1-14 1 2 1 14 1-6 1-6 1 5 1 0 1-14 1 4 1 19 1 0 1-5 1-18 1 1 1 14 1 6 1-5 1-20 1 12 1 23 1-11 1-22 1 8 1 12 1-12 1 0 1 17 1-8 1-7 1 15 1-14 1-8 1 5 1-1 1 17 1 6 1-14 1-5 1-3 1-6 1 13 1 7 1-7 1 3 1-3 1-7 1 7 1 1 1-10 1 12 1 5 1-14 1-1 1 8 1 1 1-5 1-5 1 11 1 13 1-19 1-12 1 10 1 10 1-13 1 1 1 32 1-21 1-18 1 8 1-3 1 7 1 8 1-1 1-14 1 15 1 10 1-34 1-1 1 24 1 9 1-13 1-12 1 12 1-4 1 3 1 9 1-6 1-17 1-3 1 35 1-9 1-25 1 19 1 5 1-19 1 4 1 16 1-6 1-3 1-10 1 3 1 13 1-2 1-4 1-8 1 6 1 3 1 5 1-6 1-13 1 6 1 9 1 13 1-12 1-22 1 10 1 26 1-15 1-21 1 24 1 9 1-19 1-18 1 21 1 28 1-24 1-25 1 23 1 12 1-22 1 5 1 9 1-13 1 13 1 18 1-25 1-25 1 20 1 18 1 5 1-18 1-24 1 32 1 29 1-39 1-34 1 33 1 36 1-22 1-33 1 25 1 19 1-40 1 14 1 25 1-15 1-8 1-10 1 7 1 16 1 7 1-20 1-3 1 10 1-16 1 19 1 7 1-18 1 3 1-4 1-5 1 22 1 3 1-19 1 5 1-4 1-11 1 16 1 14 1-6 1-12 1-11 1 10 1 11 1-5 1 2 1-1 1-8 1-1 1 7 1-4 1 3 1 16 1-9 1-21 1-1 1 16 1 7 1 4 1-19 1 3 1 12 1-16 1 5 1 1 1 6 1 10 1-13 1-21 1 17 1 20 1-30 1 8 1 27 1-20 1-18 1 19 1-1 1-17 1 26 1 8 1-38 1 7 1 28 1-6 1-8 1-13 1-9 1 19 1 23 1-10 1-10 1-8 1-16 1 21 1 9 1-6 1 5 1 1 1-7 1-13 1-2 1 15 1 14 1-14 1 3 1-1 1-16 1 11 1 13 1-17 1-1 1 21 1-18 1 7 1 1 1-16 1 14 1-5 1-1 1 13 1 3 1-22 1 11 1 7 1-34 1 21 1 28 1-15 1-11 1-1 1-3 1 4 1 0 1 5 1 12 1-9 1-16 1 29 1-11 1-11 1 0 1 13 1-5 1-15 1 6 1 13 1-8 1-8 1 17 1 1 1-20 1-5 1 16 1 14 1-7 1-19 1 4 1 18 1-14 1-9 1 16 1 9 1-8 1-18 1 5 1 10 1 2 1 0 1 3 1-7 1-17 1 12 1 17 1 1 1-21 1-8 1 21 1 5 1-6 1-6 1-4 1-1 1 4 1 8 1 11 1-9 1-29 1 15 1 28 1-33 1-8 1 43 1-8 1-21 1-3 1 7 1 2 1-5 1 0 1 11 1 20 1-32 1-13 1 27 1-11 1-17 1 25 1 18 1-3 1-19 1-43 1 26 1 42 1-13 1-11 1-5 1-8 1 14 1 10 1-31 1 8 1 22 1 2 1-10 1-14 1 5 1-6 1 16 1 13 1-16 1-20 1 23 1 4 1-33 1 34 1 12 1-31 1 1 1 9 1-14 1 19 1 19 1-49 1 8 1 52 1-27 1-42 1 25 1 20 1-7 1-2 1-1 1 2 1-19 1 14 1 15 1-25 1 4 1 16 1-3 1-12 1 7 1 2 1-5 1-2 1-3 1 12 1 6 1-4 1-20 1-4 1 25 1 10 1-19 1-14 1 15 1 5 1 0 1-2 1-14 1 7 1 13 1-3 1-8 1-4 1 4 1 8 1-11 1-2 1 16 1 2 1-9 1-14 1 3 1 9 1 2 1 10 1 1 1-23 1-12 1 27 1 8 1-20 1 10 1 13 1-28 1-2 1 17 1 0 1 4 1-5 1 0 1-1 1-6 1-12 1 13 1 24 1-5 1-14 1-16 1 6 1 6 1 6 1 3 1 1 1-1 1-13 1 10 1-13 1-3 1 19 1 0 1 4 1 1 1-16 1-16 1 14 1 14 1 1 1-4 1-3 1 4 1-9 1-4 1 1 1 12 1 2 1-10 1 8 1-3 1-11 1 4 1 13 1 2 1-23 1 4 1 17 1-5 1 14 1-10 1-40 1 12 1 43 1 3 1-31 1-10 1 19 1 19 1-32 1-24 1 46 1 4 1-23 1 23 1-13 1-22 1 20 1 2 1-22 1 24 1 25 1-36 1-7 1 13 1 3 1 2 1-17 1 6 1 15 1 1 1-9 1-10 1 10 1-2 1-10 1 15 1 8 1-5 1-4 1-17 1 1 1 24 1-2 1-26 1 23 1 24 1-55 1 2 1 57 1-22 1-41 1 16 1 26 1-5 1 0 1-1 1-17 1-1 1 3 1 9 1 13 1-9 1-5 1 4 1-18 1 3 1 25 1-15 1-3 1 18 1-17 1 1 1 5 1-15 1 4 1 16 1 3 1-9 1 5 1-14 1-12 1 20 1 5 1 3 1-1 1-11 1-8 1 0 1 25 1-3 1-31 1 18 1 22 1-22 1-11 1 15 1 5 1-9 1-6 1 15 1-4 1-12 1 16 1 2 1-14 1-16 1 24 1 22 1-23 1-11 1-7 1 13 1 12 1 4 1-5 1-24 1 3 1 22 1 2 1-23 1 12 1 4 1-5 1 22 1-32 1-15 1 37 1-3 1-12 1 9 1 0 1-10 1-4 1 9 1 4 1-3 1-1 1 10 1-12 1-21 1 30 1 9 1-17 1-3 1-5 1 3 1 16 1 1 1-15 1 7 1-6 1-16 1 17 1 20 1-7 1-12 1-8 1-2 1 14 1 1 1-1 1-5 1 8 1-3 1-19 1 16 1 7 1-4 1 1 1-2 1-19 1 13 1 26 1-28 1-8 1 22 1 0 1-11 1 5 1-2 1-10 1 12 1-1 1-10 1 23 1 5 1-26 1-1 1-8 1 3 1 26 1 8 1-17 1-14 1 20 1-15 1-22 1 29 1 14 1-11 1-5 1 7 1-10 1-17 1 28 1 1 1-28 1 26 1 13 1-25 1-5 1 10 1-13 1 10 1 30 1-32 1-7 1 24 1-4 1-22 1-3 1 20 1-1 1 10 1 3 1-11 1-14 1-12 1 15 1 13 1 12 1-12 1-20 1 18 1 9 1-20 1-15 1 18 1 19 1-2 1-14 1-7 1 9 1 2 1-5 1-5 1 6 1 13 1-6 1-15 1 4 1 16 1-21 1-7 1 35 1-5 1-18 1 6 1-15 1 2 1 29 1-7 1-10 1-1 1-18 1 12 1 31 1-8 1-34 1 1 1 14 1 18 1 5 1-31 1-7 1 12 1 14 1 9 1-18 1-14 1 13 1 7 1-4 1 3 1-11 1 8 1 15 1-26 1-7 1 26 1-8 1-1 1 18 1-32 1 6 1 26 1-33 1 2 1 26 1-3 1-2 1-2 1-32 1-5 1 61 1-7 1-35 1 19 1-9 1-16 1 8 1 27 1 1 1-34 1 4 1 26 1-2 1-22 1 3 1 10 1-13 1 4 1 25 1-8 1-26 1 14 1 15 1-24 1-14 1 29 1 13 1-16 1 5 1-4 1-18 1 3 1 18 1-3 1-11 1 21 1 11 1-41 1-13 1 38 1 11 1-16 1-15 1 2 1 21 1 0 1-23 1 16 1 8 1-39 1 19 1 39 1-29 1-15 1 13 1-4 1 7 1 4 1-8 1-11 1 5 1 24 1-2 1-20 1-13 1 11 1 7 1 2 1 18 1-9 1-27 1-9 1 26 1 14 1-5 1-1 1-11 1-6 1 0 1 4 1-3 1 8 1 17 1-11 1-5 1 2 1-16 1-4 1 2 1 16 1 31 1-8 1-44 1-2 1 19 1-1 1 18 1-17 1-25 1 51 1 19 1-74 1-7 1 100 1-53 1-42 1 31 1 33 1-26 1-21 1 15 1 0 1 3 1-10 1 6 1 14 1 2 1-9 1-25 1 18 1-1 1-7 1 22 1 2 1-9 1-3 1-18 1-3 1 24 1 3 1 1 1 2 1-9 1-26 1 19 1 18 1-18 1 8 1-2 1 7 1-5 1-11 1-1 1 1 1 20 1-1 1-13 1-10 1 14 1-2 1-1 1 15 1-22 1-3 1 21 1-8 1-10 1 14 1-1 1-14 1 6 1 11 1-8 1-1 1 8 1-18 1 1 1 25 1-5 1-16 1-5 1 11 1 17 1-20 1-17 1 23 1 13 1-15 1-15 1 17 1 5 1-10 1 0 1-2 1 8 1 2 1-18 1 7 1 23 1-16 1-9 1 5 1-7 1 17 1 2 1-24 1 12 1 17 1-20 1 5 1-4 1-11 1 32 1-5 1-22 1 7 1-7 1 5 1 26 1-10 1-32 1 15 1 11 1-8 1 25 1-18 1-37 1 24 1 32 1-6 1-23 1-10 1 17 1 3 1-17 1 25 1 2 1-32 1 19 1 3 1-13 1 19 1-1 1-24 1 10 1 15 1-15 1 4 1 12 1-15 1-1 1 12 1-10 1-12 1 17 1 19 1-22 1-17 1 25 1-3 1-15 1 23 1-7 1-26 1 29 1 4 1-29 1 25 1 8 1-31 1 7 1 16 1-4 1-6 1-1 1 5 1-5 1 5 1 1 1-8 1 8 1 1 1-3 1-16 1 13 1 12 1-9 1 12 1-23 1-1 1 24 1-14 1-6 1 5 1-1 1 6 1 17 1-21 1-20 1 19 1 9 1-7 1-2 1 8 1-4 1-8 1 2 1 14 1-15 1-5 1 27 1-17 1-15 1 18 1 6 1-11 1 0 1 6 1-3 1-4 1-5 1 13 1 3 1-10 1-4 1 2 1 18 1-10 1-16 1 7 1 11 1 1 1-10 1 2 1-9 1 12 1 18 1-25 1-4 1 7 1-1 1 7 1 7 1-17 1 1 1 11 1-16 1 15 1 4 1-6 1-7 1-10 1 12 1 8 1 6 1-17 1 3 1 12 1-27 1 13 1 24 1-22 1-11 1 12 1 8 1 1 1-13 1 2 1 5 1-7 1-1 1 9 1 13 1-22 1-6 1 26 1-18 1-18 1 29 1 22 1-30 1-18 1 8 1 10 1 20 1-14 1-13 1 6 1 2 1 4 1-9 1-4 1 20 1 0 1-31 1 19 1 20 1-16 1 3 1-29 1-11 1 57 1 16 1-41 1-13 1 12 1-11 1 10 1 13 1-2 1 10 1-21 1-11 1 3 1 9 1 35 1-30 1-35 1 39 1 19 1-33 1-10 1 30 1-4 1-20 1 10 1 5 1 3 1-2 1-6 1 0 1-10 1 7 1 23 1-9 1-13 1-4 1-5 1 20 1 7 1-30 1 18 1 26 1-44 1 0 1 23 1-13 1 18 1-2 1-31 1 27 1 10 1-40 1 29 1 11 1-43 1 40 1 9 1-50 1 28 1 21 1-26 1-5 1 7 1 9 1-10 1-3 1 29 1-14 1-35 1 31 1 12 1-43 1 24 1 29 1-24 1 4 1-11 1-25 1 39 1 13 1-33 1 16 1-45 1 28 1 43 1-26 1-27 1 21 1 15 1-13 1 1 1-13 1 9 1 16 1-18 1 0 1 14 1-3 1-15 1-6 1 3 1 25 1 9 1-33 1 0 1 13 1-3 1 4 1-9 1-3 1 18 1-8 1-7 1 10 1-6 1 3 1-5 1-4 1 11 1 4 1-11 1-11 1 13 1 20 1-1 1-33 1-7 1 19 1 4 1 15 1 1 1-31 1 0 1 27 1-21 1 0 1 30 1-32 1 3 1 32 1-42 1-8 1 47 1-5 1-23 1-1 1 0 1 4 1 6 1 3 1-5 1-1 1 5 1-10 1-3 1 10 1 4 1-7 1 0 1 7 1-8 1-7 1 3 1 18 1 4 1-34 1 6 1 30 1-11 1-31 1 15 1 35 1-17 1-14 1-2 1-1 1-4 1 12 1 35 1-37 1-22 1 35 1 1 1-32 1-3 1 43 1 3 1-15 1-22 1-11 1 29 1-2 1 10 1 10 1-44 1-1 1 47 1-12 1-28 1 9 1 8 1 10 1-2 1-15 1-2 1 5 1-6 1 15 1 16 1-27 1-8 1 20 1-15 1-6 1 36 1-5 1-33 1-3 1 26 1 8 1-21 1 10 1-8 1-7 1 19 1-1 1-16 1 8 1 12 1-20 1 3 1 14 1 1 1-8 1-21 1 10 1 27 1-5 1-15 1 8 1-16 1-16 1 38 1 11 1-22 1 8 1-15 1-25 1 38 1 22 1-32 1-5 1 13 1-4 1-5 1-5 1 20 1 2 1-20 1 4 1 10 1 5 1-24 1 0 1 21 1-8 1-2 1 4 1 17 1-7 1-34 1-4 1 16 1 32 1 9 1-38 1-6 1 14 1-12 1 11 1 12 1-20 1 0 1 30 1-23 1-19 1 32 1-8 1-20 1 21 1 10 1-26 1 13 1 7 1-27 1 13 1 16 1-8 1 1 1 0 1-17 1 10 1 13 1-18 1-3 1 20 1 4 1-11 1-1 1-13 1 4 1 12 1-4 1 8 1 5 1-22 1-8 1 23 1-3 1-5 1 8 1-6 1-4 1 11 1-6 1-23 1 22 1 22 1-15 1-15 1 4 1-2 1-10 1 30 1 14 1-44 1-2 1 31 1-6 1-10 1-3 1 0 1 9 1 12 1-15 1-19 1 17 1 19 1-6 1-28 1-1 1 23 1 12 1-17 1 0 1 6 1-20 1 8 1 8 1 2 1 1 1-5 1-2 1 9 1-8 1-20 1 29 1 3 1-9 1 3 1-14 1 2 1 1 1-4 1 31 1 2 1-39 1 19 1-6 1-31 1 28 1 37 1-3 1-21 1-30 1-20 1 48 1 27 1-18 1-14 1-15 1 1 1 18 1 1 1 1 1 9 1-35 1 3 1 34 1-3 1-17 1-8 1 1 1 14 1 6 1-17 1 18 1-5 1-20 1 13 1 6 1-13 1 4 1 25 1-24 1-11 1 17 1 1 1 2 1-7 1-12 1 13 1 13 1-23 1 6 1 18 1-13 1-1 1 10 1-26" stroke="#ff0000" stroke-width="0.7" fill="none" vector-effect="non-scaling-stroke" stroke-linejoin="round"/>
<path d="M118 27.5H306M118 92.5H306" stroke="#555" stroke-width="1" fill="none"/>
<line x1="119" y1="27" x2="119" y2="93" stroke="#a0a0a0" stroke-width="2"/>
<line x1="305.5" y1="27.5" x2="305.5" y2="92.5" stroke="#666" stroke-width="1"/>
<line x1="118.7" y1="27.5" x2="120.2" y2="27.5" stroke="#444" stroke-width="0.8"/>
<text x="118" y="30.4" font-size="8.6" text-anchor="end">2</text>
<line x1="118.7" y1="43.8" x2="120.2" y2="43.8" stroke="#444" stroke-width="0.8"/>
<text x="118" y="46.6" font-size="8.6" text-anchor="end">1</text>
<line x1="118.7" y1="60" x2="120.2" y2="60" stroke="#444" stroke-width="0.8"/>
<text x="118" y="62.9" font-size="8.6" text-anchor="end">0</text>
<line x1="118.7" y1="76.2" x2="120.2" y2="76.2" stroke="#444" stroke-width="0.8"/>
<text x="118" y="79.2" font-size="8.6" text-anchor="end">-1</text>
<line x1="118.7" y1="92.5" x2="120.2" y2="92.5" stroke="#444" stroke-width="0.8"/>
<text x="118" y="95.4" font-size="8.6" text-anchor="end">-2</text>
<line x1="118.7" y1="92.5" x2="118.7" y2="91" stroke="#444" stroke-width="0.8"/>
<text x="118.7" y="99.9" font-size="8.6" text-anchor="middle">0</text>
<line x1="164.3" y1="92.5" x2="164.3" y2="91" stroke="#444" stroke-width="0.8"/>
<text x="164.3" y="99.9" font-size="8.6" text-anchor="middle">500</text>
<line x1="209.9" y1="92.5" x2="209.9" y2="91" stroke="#444" stroke-width="0.8"/>
<text x="209.9" y="99.9" font-size="8.6" text-anchor="middle">1000</text>
<line x1="255.5" y1="92.5" x2="255.5" y2="91" stroke="#444" stroke-width="0.8"/>
<text x="255.5" y="99.9" font-size="8.6" text-anchor="middle">1500</text>
<line x1="301.1" y1="92.5" x2="301.1" y2="91" stroke="#444" stroke-width="0.8"/>
<text x="301.1" y="99.9" font-size="8.6" text-anchor="middle">2000</text>
<polygon points="349.0,89.0 349.0,75.6 349.5,77.1 350.0,73.6 350.5,73.9 351.0,78.5 351.5,81.2 352.0,79.0 352.5,79.3 353.0,79.7 353.5,83.7 354.0,82.7 354.5,80.7 355.0,83.0 355.5,82.4 356.0,80.0 356.5,82.2 357.0,82.6 357.5,82.3 358.0,81.0 358.5,84.7 359.0,83.1 359.5,82.1 360.0,81.2 360.5,83.6 361.0,83.2 361.5,84.6 362.0,84.1 362.5,82.4 363.0,83.7 363.5,82.7 364.0,81.5 364.5,83.6 365.0,82.3 365.5,83.1 366.0,82.5 366.5,82.6 367.0,84.0 367.5,84.4 368.0,85.0 368.5,83.4 369.0,83.6 369.5,82.5 370.0,83.8 370.5,83.6 371.0,83.5 371.5,85.0 372.0,85.1 372.5,84.7 373.0,84.5 373.5,85.4 374.0,85.3 374.5,84.7 375.0,83.1 375.5,84.4 376.0,84.5 376.5,85.2 377.0,85.6 377.5,83.3 378.0,83.2 378.5,84.7 379.0,84.4 379.5,84.5 380.0,84.9 380.5,84.7 381.0,84.3 381.5,85.2 382.0,84.4 382.5,85.4 383.0,83.2 383.5,84.2 384.0,85.2 384.5,85.8 385.0,85.0 385.5,85.6 386.0,83.7 386.5,83.3 387.0,84.4 387.5,85.0 388.0,84.3 388.5,85.2 389.0,85.6 389.5,84.8 390.0,84.5 390.5,84.1 391.0,86.0 391.5,83.8 392.0,85.9 392.5,84.3 393.0,84.5 393.5,84.0 394.0,84.5 394.5,85.2 395.0,83.8 395.5,84.0 396.0,83.7 396.5,84.9 397.0,84.7 397.5,86.2 398.0,86.2 398.5,85.5 399.0,84.4 399.5,85.5 400.0,85.6 400.5,84.5 401.0,85.0 401.5,84.3 402.1,84.5 402.6,86.4 403.1,86.4 403.6,86.2 404.1,85.1 404.6,85.2 405.1,86.0 405.6,86.2 406.1,84.4 406.6,86.2 407.1,84.2 407.6,85.5 408.1,84.7 408.6,85.0 409.1,86.1 409.6,86.0 410.1,86.6 410.6,84.3 411.1,85.7 411.6,85.5 412.1,84.2 412.6,84.8 413.1,86.2 413.6,85.6 414.1,84.8 414.6,84.6 415.1,84.6 415.6,85.4 416.1,86.5 416.6,84.6 417.1,86.0 417.6,85.4 418.1,86.4 418.6,85.9 419.1,84.4 419.6,85.2 420.1,85.6 420.6,84.7 421.1,85.9 421.6,85.6 422.1,85.6 422.6,86.0 423.1,84.7 423.6,85.8 424.1,85.4 424.6,85.8 425.1,86.6 425.6,84.4 426.1,85.8 426.6,85.1 427.1,85.1 427.6,84.4 428.1,85.2 428.6,86.2 429.1,84.4 429.6,84.9 430.1,84.6 430.6,86.0 431.1,86.3 431.6,85.9 432.1,84.5 432.6,86.4 433.1,84.9 433.6,85.6 434.1,85.8 434.6,86.5 435.1,85.1 435.6,86.4 436.1,85.2 436.6,85.3 437.1,85.2 437.6,86.4 438.1,85.8 438.6,84.8 439.1,85.5 439.6,85.3 440.1,85.5 440.6,86.3 441.1,86.5 441.6,86.7 442.1,85.5 442.6,85.9 443.1,86.0 443.6,85.0 444.1,85.7 444.6,85.4 445.1,86.3 445.6,86.6 446.1,86.9 446.6,86.8 447.1,86.2 447.6,85.3 448.1,86.1 448.6,85.3 449.1,86.7 449.6,85.4 450.1,86.5 450.6,85.9 451.1,86.8 451.6,85.4 452.1,86.8 452.6,86.4 453.1,85.4 453.6,87.0 454.1,85.5 454.6,87.2 455.1,86.2 455.6,85.7 456.1,87.0 456.6,85.6 457.1,87.2 457.6,85.6 458.1,86.9 458.6,86.8 459.1,86.8 459.6,87.2 460.1,86.8 460.6,86.5 461.1,86.7 461.6,85.9 462.1,86.6 462.6,87.0 463.1,86.6 463.6,87.1 464.1,86.3 464.6,86.4 465.1,87.1 465.6,86.7 466.1,87.3 466.6,86.3 467.1,87.3 467.6,87.3 468.1,86.9 468.6,86.8 469.1,86.3 469.6,87.2 470.1,87.2 470.6,87.0 471.1,87.4 471.6,87.2 472.1,87.0 472.6,87.3 473.1,86.6 473.6,87.4 474.1,86.5 474.6,86.7 475.1,86.8 475.6,87.7 476.1,87.1 476.6,86.3 477.1,87.3 477.6,86.9 478.1,86.9 478.6,87.1 479.1,86.4 479.6,87.7 480.1,86.7 480.6,87.2 481.1,87.5 481.6,86.8 482.1,86.8 482.6,87.1 483.1,87.5 483.6,86.9 484.1,86.8 484.6,87.8 485.1,86.8 485.1,89.0" fill="#0000ff"/>
<line x1="349" y1="89.00" x2="485.1" y2="89.00" stroke="#0000ff" stroke-width="0.9"/>
<path d="M351.0 89.0V73.6M352.7 89.0V78.1M378.1 89.0V82.9M380.1 89.0V83.6" stroke="#70f070" stroke-width="1.7"/>
<polygon points="349.0,89.0 349.0,75.1 349.5,73.7 350.0,74.1 350.5,81.4 351.0,79.2 351.5,76.8 352.0,81.9 352.5,80.0 353.0,82.5 353.5,81.7 354.0,82.8 354.5,81.8 355.0,81.0 355.5,81.8 356.0,80.9 356.5,81.8 357.0,81.4 357.5,84.1 358.0,81.7 358.5,81.9 359.0,83.5 359.5,81.5 360.0,82.1 360.5,82.7 361.0,83.3 361.5,83.0 362.0,84.4 362.5,84.2 363.0,84.0 363.5,85.6 364.0,85.6 364.5,85.1 365.0,84.7 365.5,83.5 366.0,83.8 366.5,83.4 367.0,84.7 367.5,85.5 368.0,84.9 368.5,83.8 369.0,84.4 369.5,85.6 370.0,84.8 370.5,84.9 371.0,85.2 371.5,85.9 372.0,84.9 372.6,85.4 373.1,85.5 373.6,86.5 374.1,84.7 374.6,85.7 375.1,86.1 375.6,85.8 376.1,86.1 376.6,86.5 377.1,85.9 377.6,86.2 378.1,86.6 378.6,86.8 379.1,85.4 379.6,85.7 380.1,85.4 380.6,85.9 381.1,85.6 381.6,85.7 382.1,85.9 382.6,86.8 383.1,85.8 383.6,86.6 384.1,86.5 384.6,85.5 385.1,86.2 385.6,87.0 386.1,85.9 386.6,85.8 387.1,86.7 387.6,85.7 388.1,85.8 388.6,86.0 389.1,86.1 389.6,85.8 390.1,86.8 390.6,86.3 391.1,85.9 391.6,86.3 392.1,86.7 392.6,85.7 393.1,86.0 393.6,86.1 394.1,86.0 394.6,85.8 395.1,87.0 395.6,86.1 396.1,86.4 396.6,86.3 397.1,85.9 397.6,87.2 398.1,86.7 398.6,86.2 399.1,87.3 399.6,87.1 400.1,86.5 400.6,87.0 401.1,86.3 401.6,87.1 402.1,86.9 402.6,87.3 403.1,86.2 403.6,86.7 404.1,86.8 404.6,86.7 405.1,86.3 405.6,86.9 406.1,86.7 406.6,87.0 407.1,86.2 407.6,86.4 408.1,87.0 408.6,87.2 409.1,87.0 409.6,87.1 410.1,86.5 410.6,86.4 411.1,86.3 411.6,87.4 412.1,86.5 412.6,87.5 413.1,86.3 413.6,86.5 414.1,87.3 414.6,87.1 415.1,86.4 415.6,87.1 416.1,86.4 416.6,86.4 417.1,87.0 417.6,86.7 418.1,86.5 418.6,86.9 419.2,86.6 419.7,86.7 420.2,86.7 420.7,86.5 421.2,87.4 421.7,87.5 422.2,87.3 422.7,86.7 423.2,87.3 423.7,86.8 424.2,87.1 424.7,87.3 425.2,87.1 425.7,86.9 426.2,87.5 426.7,87.6 427.2,87.4 427.7,87.5 428.2,86.9 428.7,87.3 429.2,87.4 429.7,87.4 430.2,87.6 430.7,87.6 431.2,87.2 431.7,86.9 432.2,86.6 432.7,87.0 433.2,87.0 433.7,87.5 434.2,87.4 434.7,87.3 435.2,87.2 435.7,86.6 436.2,87.5 436.7,87.5 437.2,87.4 437.7,87.5 438.2,87.7 438.7,86.8 439.2,86.8 439.7,87.5 440.2,87.2 440.7,87.1 441.2,86.7 441.7,87.3 442.2,87.4 442.7,87.6 443.2,87.6 443.7,87.1 444.2,87.2 444.7,87.0 445.2,87.0 445.7,87.1 446.2,87.4 446.7,87.5 447.2,87.2 447.7,87.0 448.2,87.7 448.7,87.8 449.2,87.8 449.7,86.9 450.2,87.3 450.7,87.6 451.2,87.1 451.7,87.6 452.2,87.1 452.7,87.8 453.2,87.9 453.7,87.5 454.2,87.5 454.7,87.0 455.2,87.1 455.7,87.8 456.2,87.0 456.7,87.0 457.2,87.8 457.7,87.4 458.2,87.7 458.7,87.7 459.2,87.1 459.7,87.6 460.2,87.5 460.7,87.2 461.2,87.7 461.7,87.7 462.2,87.6 462.7,87.3 463.2,87.2 463.7,87.5 464.2,87.9 464.7,87.3 465.2,87.4 465.8,87.6 466.3,87.6 466.8,88.0 467.3,87.8 467.8,87.9 468.3,88.0 468.8,87.2 469.3,87.4 469.8,87.8 470.3,87.8 470.8,87.4 471.3,87.8 471.8,87.5 472.3,87.4 472.8,87.8 473.3,87.6 473.8,87.8 474.3,87.5 474.8,87.6 475.3,87.9 475.8,88.1 476.3,87.3 476.8,87.5 477.3,87.9 477.8,87.8 478.3,87.9 478.8,87.7 479.3,88.1 479.8,87.6 480.3,88.1 480.8,87.6 481.3,88.0 481.8,88.1 482.3,87.8 482.8,87.5 483.3,88.0 483.8,87.7 484.3,88.1 484.8,87.7 485.3,87.8 485.8,88.1 486.3,87.7 486.8,87.6 487.3,88.0 487.8,88.1 488.3,87.6 488.8,87.9 488.8,89.0" fill="#00ff00"/>
<line x1="349" y1="89.00" x2="488.8" y2="89.00" stroke="#00ff00" stroke-width="0.9"/>
<path d="M351.4 89.0V77.0M349.5 89.0V69.1M352.8 89.0V81.0M351.3 89.0V77.4M353.5 89.0V80.5M350.7 89.0V75.7M351.7 89.0V76.9M349.4 89.0V30.0M371.5 89.0V79.6M430.9 89.0V84.9" stroke="#ff8c8c" stroke-width="1.7"/>
<path d="M349.2 89.0V64.0M350.7 89.0V76.8M353.8 89.0V84.6M352.5 89.0V73.9M350.5 89.0V70.8M349.7 89.0V71.8M351.0 89.0V75.9M352.5 89.0V81.9" stroke="#ff0000" stroke-width="1.3"/>
<path d="M349.1 89.0V41.4" stroke="#ff0000" stroke-width="1.5"/>
<polygon points="349.0,89.0 349.0,67.0 349.5,66.2 350.0,73.9 350.5,73.9 351.0,77.5 351.5,73.8 352.0,81.1 352.5,78.3 353.0,80.7 353.5,81.1 354.0,81.7 354.5,82.6 355.0,82.3 355.5,80.8 356.0,80.3 356.5,81.5 357.0,83.1 357.5,83.2 358.0,84.5 358.5,81.9 359.0,83.1 359.5,82.3 360.0,84.9 360.5,83.8 361.0,82.7 361.5,83.4 362.0,84.7 362.5,83.3 363.0,83.8 363.5,85.4 364.0,84.6 364.5,83.7 365.0,84.4 365.5,85.5 366.0,85.0 366.5,84.4 367.0,83.3 367.5,84.7 368.0,84.1 368.5,83.4 369.0,83.6 369.5,85.4 370.0,84.0 370.5,85.9 371.0,84.1 371.5,85.5 372.0,86.2 372.5,84.2 373.0,86.4 373.5,85.9 374.0,85.1 374.5,85.5 375.0,85.4 375.5,86.3 376.0,85.3 376.5,86.5 377.0,85.7 377.5,85.4 378.0,85.5 378.5,87.0 379.0,85.7 379.5,86.7 380.0,85.9 380.5,86.2 381.0,86.5 381.5,87.0 382.0,87.2 382.5,86.9 383.0,85.8 383.5,86.4 384.0,86.2 384.5,87.2 385.0,86.2 385.5,87.2 386.0,86.7 386.5,86.9 387.0,86.7 387.5,86.7 388.0,86.7 388.5,87.3 389.0,86.5 389.5,86.4 390.0,86.6 390.5,86.9 391.0,87.0 391.5,86.4 392.0,87.0 392.5,87.5 393.0,86.4 393.5,86.6 394.0,87.3 394.5,86.4 395.0,86.5 395.5,87.1 396.0,86.4 396.5,86.9 397.1,87.5 397.6,86.7 398.1,86.7 398.6,86.9 399.1,87.4 399.6,86.5 400.1,87.1 400.6,86.6 401.1,86.5 401.6,86.4 402.1,87.3 402.6,86.8 403.1,86.4 403.6,86.4 404.1,86.7 404.6,86.8 405.1,87.2 405.6,87.2 406.1,87.1 406.6,86.4 407.1,86.7 407.6,86.4 408.1,87.1 408.6,86.6 409.1,87.4 409.6,86.7 410.1,86.9 410.6,86.6 411.1,86.4 411.6,87.2 412.1,87.5 412.6,87.0 413.1,87.1 413.6,86.7 414.1,86.9 414.6,86.4 415.1,86.4 415.6,86.4 416.1,86.8 416.6,86.9 417.1,87.4 417.6,87.4 418.1,87.0 418.6,87.1 419.1,86.6 419.6,86.8 420.1,86.8 420.6,86.5 421.1,87.5 421.6,86.9 422.1,87.1 422.6,87.1 423.1,87.1 423.6,86.4 424.1,87.1 424.6,86.7 425.1,86.9 425.6,86.5 426.1,87.1 426.6,86.4 427.1,86.6 427.6,87.0 428.1,86.9 428.6,87.2 429.1,86.9 429.6,87.5 430.1,86.5 430.6,86.5 431.1,87.1 431.6,86.9 432.1,86.6 432.6,86.8 433.1,87.1 433.6,87.4 434.1,86.4 434.6,86.9 435.1,87.1 435.6,87.5 436.1,87.4 436.6,86.9 437.1,86.5 437.6,86.9 438.1,87.0 438.6,87.3 439.1,87.3 439.6,87.4 440.1,86.6 440.6,87.4 441.1,86.8 441.6,87.5 442.1,86.8 442.6,87.2 443.1,87.2 443.6,87.1 444.1,87.5 444.6,86.8 445.1,86.8 445.6,87.5 446.1,87.4 446.6,87.8 447.1,87.4 447.6,87.1 448.1,87.4 448.6,87.6 449.1,87.2 449.6,87.1 450.1,87.8 450.6,87.4 451.1,87.2 451.6,87.3 452.1,87.4 452.6,87.9 453.1,87.2 453.6,87.5 454.1,87.6 454.6,87.7 455.1,87.6 455.6,87.9 456.1,87.4 456.6,87.5 457.1,87.6 457.6,87.5 458.1,87.8 458.6,87.8 459.1,87.3 459.6,87.9 460.1,87.7 460.6,87.7 461.1,88.0 461.6,88.0 462.1,87.8 462.6,87.8 463.1,88.1 463.6,87.8 464.1,87.9 464.6,88.0 465.1,87.6 465.6,87.9 466.1,87.7 466.6,88.0 467.1,87.6 467.6,87.8 468.1,87.7 468.6,87.6 469.1,87.7 469.6,88.1 470.1,87.7 470.6,88.2 471.1,88.1 471.6,88.1 472.1,88.1 472.6,87.8 473.1,88.0 473.6,87.8 474.1,88.3 474.6,88.3 475.1,88.3 475.6,88.2 476.1,88.0 476.6,87.8 477.1,88.3 477.6,88.1 478.1,88.0 478.6,88.0 479.1,88.0 479.6,87.9 480.1,88.0 480.6,88.3 481.1,88.3 481.6,88.2 482.1,88.3 482.6,88.2 483.1,88.1 483.6,88.1 484.1,88.4 484.6,88.3 485.1,88.1 485.6,88.4 486.1,88.0 486.6,88.1 487.1,88.1 487.6,88.2 488.1,88.5 488.6,88.3 489.1,88.3 489.6,88.2 489.6,89.0" fill="#ff0000"/>
<line x1="349" y1="89.00" x2="489.6" y2="89.00" stroke="#ff0000" stroke-width="0.9"/>
<path d="M340 27.5H527M340 92.5H527" stroke="#555" stroke-width="1" fill="none"/>
<line x1="340.5" y1="27.5" x2="340.5" y2="92.5" stroke="#555" stroke-width="1"/>
<line x1="527" y1="27" x2="527" y2="93" stroke="#a8a8a8" stroke-width="2"/>
<line x1="349" y1="92.5" x2="349" y2="91" stroke="#444" stroke-width="0.8"/>
<text x="349" y="99.9" font-size="8.6" text-anchor="middle">0</text>
<line x1="377.2" y1="92.5" x2="377.2" y2="91" stroke="#444" stroke-width="0.8"/>
<text x="377.2" y="99.9" font-size="8.6" text-anchor="middle">1000</text>
<line x1="405.5" y1="92.5" x2="405.5" y2="91" stroke="#444" stroke-width="0.8"/>
<text x="405.5" y="99.9" font-size="8.6" text-anchor="middle">2000</text>
<line x1="433.7" y1="92.5" x2="433.7" y2="91" stroke="#444" stroke-width="0.8"/>
<text x="433.7" y="99.9" font-size="8.6" text-anchor="middle">3000</text>
<line x1="462" y1="92.5" x2="462" y2="91" stroke="#444" stroke-width="0.8"/>
<text x="462" y="99.9" font-size="8.6" text-anchor="middle">4000</text>
<line x1="490.2" y1="92.5" x2="490.2" y2="91" stroke="#444" stroke-width="0.8"/>
<text x="490.2" y="99.9" font-size="8.6" text-anchor="middle">5000</text>
<line x1="518.5" y1="92.5" x2="518.5" y2="91" stroke="#444" stroke-width="0.8"/>
<text x="518.5" y="99.9" font-size="8.6" text-anchor="middle">6000</text>
<path transform="translate(118.7 138) scale(0.81620 0.16250)" d="M0 -17l1 10 1-8 1-108 1 120 1 74 1-50 1-16 1 26 1-88 1-2 1 67 1 31 1-29 1 3 1 18 1-49 1-38 1 53 1 30 1-45 1 39 1-2 1-26 1-13 1 14 1 11 1 25 1 16 1-76 1-2 1 44 1 29 1-26 1-46 1 15 1 10 1-14 1 49 1 10 1-42 1 15 1-4 1-37 1 27 1 11 1 10 1-45 1 32 1 6 1 13 1-15 1-4 1-1 1-38 1 35 1 6 1 7 1-2 1-5 1-15 1-24 1 64 1-16 1-47 1 8 1 42 1-31 1-23 1 31 1 38 1 22 1-62 1-32 1 24 1 15 1 16 1-21 1-1 1 22 1-2 1-1 1-19 1-20 1-11 1 38 1 11 1-28 1 23 1 25 1-27 1-78 1 30 1 83 1-3 1-43 1-48 1 39 1 16 1 11 1 64 1-43 1-75 1-24 1 59 1 25 1-20 1 9 1 8 1 28 1-38 1-45 1 15 1 29 1-17 1-10 1 29 1 8 1-5 1-6 1 3 1-14 1-18 1 32 1-29 1 13 1 24 1-20 1 20 1 2 1 0 1-29 1-10 1-4 1 7 1 25 1 10 1 19 1-31 1-10 1 7 1-26 1 33 1 15 1-25 1 24 1-30 1 23 1-14 1-21 1 13 1-5 1 7 1 6 1 20 1-4 1-1 1-30 1-2 1-16 1 33 1 0 1 2 1 4 1-7 1 6 1-28 1 31 1 16 1-37 1 37 1-5 1-27 1 2 1-3 1-2 1-12 1 5 1 64 1-52 1-30 1 59 1-18 1-14 1-14 1 4 1 12 1 36 1-25 1-20 1 9 1 12 1-11 1 2 1 12 1-5 1-29 1 19 1 28 1-26 1-13 1 45 1 4 1-62 1 22 1-28 1 28 1 4 1 37 1-1 1-50 1 28 1-30 1-15 1 47 1-2 1 7 1-39 1 1 1 16 1 31 1-41 1 2 1-22 1 29 1 5 1 14 1-2 1-4 1-13 1 8 1 2 1-23 1 12 1-18 1 29 1 18 1-49 1 5 1 22 1 23 1-7 1-33 1 0 1-15 1 20 1 54 1-11 1-42 1 6 1 15 1-18 1-16 1 47 1-4 1-44 1 32 1-8 1-28 1 24 1-12 1 43 1-11 1-11 1-43 1 31 1 35 1-43 1 1 1 18 1 10 1-18 1 4 1 1 1-3 1 15 1-6 1 6 1-17 1 1 1 46 1-57 1 11 1-4 1-3 1 27 1-18 1-18 1 46 1-43 1 17 1 21 1-18 1-28 1 8 1 33 1 5 1-16 1-25 1 2 1 12 1 33 1-46 1 12 1 16 1-29 1-7 1 7 1 39 1 7 1-29 1-5 1 2 1-12 1 10 1 4 1 10 1-14 1 15 1-5 1 12 1-29 1 11 1-15 1-29 1 52 1-1 1-7 1 27 1-18 1-25 1-17 1 34 1-3 1-13 1 16 1 32 1-5 1-55 1-7 1 36 1 10 1-12 1-16 1 46 1-35 1-3 1 29 1-6 1-23 1 0 1 14 1 0 1 17 1-19 1-8 1 13 1-25 1 11 1 1 1 24 1-4 1-28 1-14 1 45 1-4 1-37 1 21 1 13 1 25 1-32 1-33 1 26 1-28 1 46 1 12 1-30 1 25 1 3 1-10 1-31 1-1 1 11 1 15 1 3 1-5 1-8 1 17 1 2 1-39 1 47 1-5 1-60 1 35 1 39 1-18 1-10 1-22 1 1 1 21 1 1 1-3 1-6 1 15 1-21 1 7 1-7 1 2 1-6 1 3 1 31 1 18 1-55 1-18 1 20 1 19 1-30 1 15 1 15 1-12 1 5 1 18 1 5 1-57 1 39 1-5 1 3 1 4 1 1 1 3 1 0 1-21 1 5 1 8 1-11 1-14 1 41 1 17 1-33 1-35 1 23 1 28 1-37 1-11 1 53 1-19 1-5 1 4 1 11 1 26 1-15 1-25 1-22 1 30 1-10 1-39 1 33 1 43 1-30 1-37 1 32 1 17 1-28 1-20 1 33 1 32 1-25 1-32 1 20 1 13 1-20 1-3 1 25 1 7 1-4 1-17 1-21 1 54 1-2 1-27 1-31 1 34 1 22 1-52 1 41 1-19 1 5 1 32 1-18 1-30 1 0 1 36 1-45 1 12 1 33 1 1 1-34 1 1 1 28 1-12 1 6" stroke="#0000ff" stroke-width="1.0" fill="none" vector-effect="non-scaling-stroke" stroke-linejoin="round"/>
<path transform="translate(118.7 138) scale(0.81620 0.16250)" d="M0 -1l1-5 1-9 1-90 1 102 1 52 1-28 1-15 1 0 1-34 1-10 1 41 1 23 1-19 1 13 1 11 1-59 1-31 1 60 1 24 1-31 1 21 1 23 1-44 1-27 1 21 1 9 1 11 1 17 1-29 1-27 1 33 1 27 1-21 1-17 1 3 1-4 1 0 1 9 1 6 1 7 1 3 1-16 1-16 1 13 1 17 1-16 1-21 1 21 1 26 1-14 1-12 1 10 1-8 1-17 1 13 1 13 1-8 1 5 1 1 1-20 1 9 1 34 1-18 1-42 1 17 1 32 1-18 1-20 1 22 1 23 1-3 1-25 1-21 1 7 1 17 1 1 1 1 1 7 1-3 1-3 1 6 1-7 1-17 1-1 1 14 1 7 1-5 1 4 1 20 1-9 1-48 1-1 1 63 1 15 1-58 1-25 1 24 1 13 1 15 1 32 1-12 1-60 1-24 1 39 1 30 1-19 1-11 1 35 1 16 1-41 1-32 1 21 1 20 1-8 1-3 1 10 1 1 1-5 1-3 1-2 1 2 1 5 1-2 1-9 1-2 1 9 1 5 1-1 1 4 1 1 1-9 1-12 1-4 1 7 1 17 1 12 1-13 1-16 1 8 1 6 1-14 1 4 1 15 1-13 1-15 1 21 1 19 1-12 1-11 1-6 1-9 1 3 1 17 1 8 1-2 1-3 1-7 1-11 1-1 1 13 1 8 1-12 1-3 1 20 1 0 1-29 1 0 1 22 1-7 1-6 1 17 1-2 1-14 1 10 1-6 1-24 1 21 1 33 1-25 1-28 1 29 1 21 1-28 1-24 1 11 1 25 1 9 1-14 1-12 1 5 1-3 1-6 1 20 1 14 1-28 1-22 1 27 1 18 1-24 1-5 1 29 1-1 1-30 1-3 1 15 1-4 1 2 1 18 1-4 1-16 1 8 1 1 1-24 1 2 1 33 1 5 1-28 1-6 1 24 1 11 1-22 1-23 1 9 1 22 1 5 1-6 1-5 1-7 1 3 1 10 1-5 1-9 1 5 1-1 1 0 1 17 1-3 1-28 1 6 1 29 1-7 1-21 1-4 1 0 1 16 1 28 1-14 1-34 1 7 1 13 1-13 1 7 1 20 1-10 1-9 1 12 1-9 1-20 1 9 1 20 1 7 1-5 1-18 1-9 1 19 1 6 1-20 1 3 1 26 1-2 1-25 1-7 1 12 1 12 1 1 1-9 1-6 1 3 1 7 1 1 1-7 1-7 1 8 1 14 1-7 1-16 1 2 1 9 1-1 1 3 1 5 1-4 1-8 1-6 1 4 1 15 1 2 1-21 1-3 1 27 1-1 1-28 1 10 1 26 1-23 1-28 1 27 1 27 1-20 1-10 1 16 1-9 1-18 1 14 1 12 1-16 1 1 1 17 1-7 1-9 1 14 1 0 1-21 1-3 1 12 1 2 1 5 1 16 1-2 1-28 1-12 1 20 1 9 1-20 1 4 1 35 1 0 1-39 1-10 1 20 1 6 1-2 1 4 1 0 1-7 1 0 1 2 1 0 1-3 1-3 1 9 1 9 1-12 1-9 1 12 1 0 1-14 1 5 1 14 1 1 1-1 1-9 1-15 1 10 1 16 1-12 1-6 1 18 1 1 1-14 1 2 1-2 1-9 1 11 1 10 1-11 1 0 1 13 1-4 1-14 1-6 1 5 1 18 1 4 1-18 1-5 1 12 1-4 1-4 1 14 1-4 1-21 1 9 1 23 1-3 1-18 1-9 1 0 1 14 1 17 1-3 1-14 1-6 1-3 1-1 1 9 1 8 1-7 1-1 1 15 1 0 1-26 1-10 1 20 1 10 1-6 1 2 1-1 1-12 1 12 1 19 1-22 1-28 1 17 1 22 1-4 1-5 1 4 1-2 1-8 1-7 1 9 1 15 1-13 1-22 1 20 1 23 1-17 1-9 1 13 1-11 1-12 1 15 1 6 1-7 1 3 1-5 1-3 1 22 1-2 1-32 1 5 1 23 1-17 1-7 1 31 1 3 1-33 1-2 1 28 1 3 1-29 1-11 1 27 1 17 1-23 1-8 1 24 1 0 1-25 1 3 1 12 1-4 1 1 1-3 1-7 1 22 1 13 1-31 1-15 1 23 1 3 1-10 1 4 1-3 1 3 1 21 1-9 1-30 1 13 1 18 1-22 1-6 1 28 1 1 1-19 1 2 1 8 1 0 1 0" stroke="#00ff00" stroke-width="0.9" fill="none" vector-effect="non-scaling-stroke" stroke-linejoin="round"/>
<path transform="translate(118.7 138) scale(0.81620 0.16250)" d="M0 -8l1 3 1-29 1-87 1 121 1 63 1-38 1-18 1 8 1-68 1 13 1 64 1 5 1-31 1 16 1 20 1-64 1-33 1 72 1 20 1-38 1 30 1 7 1-39 1-13 1 10 1 1 1 39 1 8 1-68 1 3 1 44 1 32 1-34 1-42 1 25 1-1 1-13 1 27 1 22 1-23 1-2 1-5 1-20 1 8 1 31 1 0 1-50 1 20 1 36 1-15 1-10 1 14 1-19 1-22 1 29 1 4 1 1 1 1 1 3 1-26 1-9 1 60 1-13 1-50 1 10 1 41 1-27 1-26 1 30 1 27 1 14 1-45 1-25 1 8 1 9 1 25 1-13 1 3 1 12 1-10 1 10 1-14 1-26 1-2 1 25 1 24 1-21 1-1 1 26 1-14 1-55 1 7 1 78 1 9 1-56 1-61 1 44 1 37 1-17 1 67 1-23 1-81 1-14 1 38 1 28 1-17 1 2 1 17 1 29 1-29 1-54 1 12 1 37 1-11 1-11 1 22 1 3 1-7 1-13 1 16 1-15 1-3 1 19 1-24 1 17 1-4 1-9 1 23 1 5 1-10 1-12 1-9 1-8 1 9 1 9 1 30 1 3 1-42 1 8 1 10 1-36 1 24 1 20 1-16 1 2 1 2 1 23 1-25 1-10 1 2 1-13 1 23 1 5 1 7 1-9 1 3 1-10 1-16 1 12 1 1 1 13 1-1 1-1 1 3 1-10 1-21 1 21 1 7 1-17 1 26 1-5 1-11 1-5 1 3 1 9 1-26 1 8 1 49 1-34 1-29 1 41 1-2 1-17 1-19 1 7 1 33 1 8 1-22 1-17 1 8 1-3 1 11 1 4 1 19 1-25 1-35 1 35 1 13 1-16 1-17 1 51 1-2 1-51 1 7 1 1 1 14 1-9 1 34 1 6 1-53 1 25 1-9 1-19 1 28 1 13 1 2 1-32 1-12 1 41 1 12 1-23 1-21 1-5 1 16 1 20 1-1 1-11 1-4 1-9 1 19 1 0 1-25 1 21 1-13 1 5 1 36 1-38 1-20 1 22 1 32 1-9 1-40 1 4 1 1 1 14 1 38 1-20 1-36 1 18 1 6 1-18 1-3 1 38 1-4 1-39 1 43 1-18 1-25 1 18 1 1 1 19 1-10 1-6 1-19 1 26 1 11 1-37 1 10 1 14 1 17 1-30 1-7 1 22 1 2 1-10 1-9 1 19 1-30 1 22 1 31 1-40 1 2 1 1 1 1 1 19 1-25 1-1 1 24 1-16 1-1 1 22 1-11 1-27 1 9 1 15 1 10 1-5 1-24 1-2 1 24 1 20 1-36 1 13 1 9 1-34 1 1 1 5 1 40 1-5 1-18 1 6 1-16 1-8 1 7 1 14 1-17 1 19 1 6 1-12 1 16 1-21 1 4 1-12 1-24 1 43 1 4 1 0 1 18 1-29 1-12 1-6 1 13 1 4 1-13 1 20 1 20 1-1 1-37 1-19 1 25 1 22 1-18 1-3 1 18 1-19 1 4 1 9 1-2 1-12 1-4 1 11 1 6 1 2 1-14 1 14 1-8 1-15 1 7 1 8 1 20 1-3 1-22 1-21 1 27 1 5 1-19 1 18 1 2 1 13 1-24 1-8 1 18 1-28 1 21 1 14 1-23 1 18 1 16 1-21 1-16 1-8 1 8 1 26 1 1 1-7 1-13 1 20 1-15 1-39 1 58 1 2 1-46 1 24 1 27 1-14 1-17 1-12 1 2 1 21 1 3 1 5 1-10 1-1 1-3 1-10 1 5 1 0 1 8 1-13 1 31 1 17 1-45 1-23 1 15 1 29 1-19 1 11 1 13 1-29 1 8 1 21 1-11 1-28 1 12 1 10 1-11 1 16 1 8 1 0 1-12 1-20 1 20 1-1 1-10 1-7 1 11 1 41 1-24 1-30 1 13 1 15 1-21 1-4 1 32 1-20 1 0 1 1 1-2 1 23 1-6 1-19 1-13 1 22 1-4 1-29 1 47 1 25 1-47 1-19 1 23 1 20 1-23 1-21 1 14 1 34 1-12 1-29 1 33 1 0 1-29 1-4 1 22 1 3 1-4 1-10 1-16 1 46 1 5 1-29 1-31 1 32 1 29 1-55 1 17 1 7 1 4 1 26 1-11 1-38 1 8 1 26 1-31 1 9 1 17 1 8 1-21 1-2 1 26 1-24 1 10" stroke="#ff0000" stroke-width="1.1" fill="none" vector-effect="non-scaling-stroke" stroke-linejoin="round"/>
<path d="M118 105.5H527M118 170.5H527" stroke="#555" stroke-width="1" fill="none"/>
<line x1="119" y1="105" x2="119" y2="171" stroke="#a0a0a0" stroke-width="2"/>
<line x1="527" y1="105" x2="527" y2="171" stroke="#a8a8a8" stroke-width="2"/>
<line x1="118.7" y1="105.5" x2="120.2" y2="105.5" stroke="#444" stroke-width="0.8"/>
<text x="118" y="108.4" font-size="8.6" text-anchor="end">2</text>
<line x1="118.7" y1="121.8" x2="120.2" y2="121.8" stroke="#444" stroke-width="0.8"/>
<text x="118" y="124.7" font-size="8.6" text-anchor="end">1</text>
<line x1="118.7" y1="138" x2="120.2" y2="138" stroke="#444" stroke-width="0.8"/>
<text x="118" y="140.9" font-size="8.6" text-anchor="end">0</text>
<line x1="118.7" y1="154.2" x2="120.2" y2="154.2" stroke="#444" stroke-width="0.8"/>
<text x="118" y="157.2" font-size="8.6" text-anchor="end">-1</text>
<line x1="118.7" y1="170.5" x2="120.2" y2="170.5" stroke="#444" stroke-width="0.8"/>
<text x="118" y="173.4" font-size="8.6" text-anchor="end">-2</text>
<line x1="118.7" y1="170.5" x2="118.7" y2="169" stroke="#444" stroke-width="0.8"/>
<text x="118.7" y="177.9" font-size="8.6" text-anchor="middle">0</text>
<line x1="200.3" y1="170.5" x2="200.3" y2="169" stroke="#444" stroke-width="0.8"/>
<text x="200.3" y="177.9" font-size="8.6" text-anchor="middle">100</text>
<line x1="281.9" y1="170.5" x2="281.9" y2="169" stroke="#444" stroke-width="0.8"/>
<text x="281.9" y="177.9" font-size="8.6" text-anchor="middle">200</text>
<line x1="363.6" y1="170.5" x2="363.6" y2="169" stroke="#444" stroke-width="0.8"/>
<text x="363.6" y="177.9" font-size="8.6" text-anchor="middle">300</text>
<line x1="445.2" y1="170.5" x2="445.2" y2="169" stroke="#444" stroke-width="0.8"/>
<text x="445.2" y="177.9" font-size="8.6" text-anchor="middle">400</text>
<line x1="526.8" y1="170.5" x2="526.8" y2="169" stroke="#444" stroke-width="0.8"/>
<text x="526.8" y="177.9" font-size="8.6" text-anchor="middle">500</text>
<path transform="translate(118.7 216) scale(0.09121 0.16250)" d="M0 27l1-35 1 8 1 5 1 9 1 4 1-43 1 26 1 2 1-27 1 2 1 26 1-17 1 9 1-22 1 44 1-9 1 14 1-33 1-11 1 28 1-16 1 23 1-54 1 40 1-36 1 17 1 17 1 35 1-33 1-47 1 81 1-2 1-46 1-5 1 30 1-5 1-5 1 12 1-28 1-26 1 38 1 27 1 3 1-7 1-27 1 37 1-32 1 21 1-12 1-58 1 75 1-21 1 8 1-16 1 4 1 13 1-43 1 10 1 86 1-55 1-27 1 12 1 2 1 10 1 2 1-30 1 38 1-6 1-4 1 1 1 1 1-27 1 35 1-67 1 75 1 29 1-37 1-4 1-34 1 11 1 21 1 6 1-1 1-71 1 56 1-8 1-21 1 37 1 8 1-17 1-2 1 11 1 6 1-16 1 27 1-10 1-7 1 1 1-39 1 29 1 39 1-23 1-17 1 11 1-22 1 4 1 1 1 35 1-37 1-16 1-1 1 20 1 58 1-59 1-11 1 18 1 35 1-48 1 13 1 24 1-31 1 15 1-16 1 7 1-7 1 7 1 26 1-28 1-16 1-15 1 24 1 1 1-28 1 74 1-18 1 8 1-40 1-3 1 10 1 6 1-11 1-1 1 23 1-9 1 7 1-34 1 17 1 6 1 26 1-20 1 19 1 15 1-44 1 0 1 20 1 22 1-60 1 1 1 15 1-13 1-23 1 24 1 50 1-32 1 0 1-6 1 19 1-35 1 16 1-7 1 14 1-5 1 7 1-37 1 58 1-29 1 35 1-24 1 27 1-16 1-9 1-49 1-1 1 31 1-2 1 13 1 6 1 9 1 14 1-35 1-28 1 54 1-9 1 9 1-61 1 17 1 29 1-40 1 19 1 0 1 24 1-3 1-26 1 21 1-11 1-20 1 21 1 26 1-17 1 34 1-28 1-28 1 15 1-16 1 47 1-13 1-30 1 27 1-16 1 26 1-19 1 1 1-2 1-22 1 28 1 8 1-25 1 4 1 20 1-11 1-37 1 64 1-3 1-7 1 35 1-52 1-28 1 44 1-10 1-11 1 30 1-8 1-11 1-4 1 4 1 4 1 5 1-37 1 15 1 11 1-13 1 9 1-13 1 21 1 35 1-23 1-32 1 5 1 20 1-22 1 24 1 17 1-26 1-21 1 31 1 1 1 3 1-71 1 84 1-25 1-18 1 20 1-19 1 43 1-25 1 3 1 19 1 2 1-42 1 46 1-59 1-5 1 44 1 15 1-31 1 16 1 6 1-4 1-12 1-6 1-10 1 20 1-25 1-26 1 49 1 0 1-7 1-12 1-2 1 3 1 14 1-10 1-2 1 27 1-32 1 40 1-12 1-28 1 46 1 6 1-50 1 47 1-14 1-66 1 26 1-2 1 2 1 34 1-18 1-9 1 9 1-17 1-12 1 34 1 31 1-62 1 38 1-24 1-19 1 73 1-48 1 10 1-46 1 9 1 16 1 21 1-32 1 19 1 42 1-39 1-29 1 25 1 27 1 3 1 7 1-21 1-57 1 50 1 9 1-16 1 0 1 17 1 36 1-33 1-2 1-21 1 21 1 3 1 16 1-20 1-42 1 27 1-3 1 23 1 12 1-37 1 20 1-22 1 3 1 24 1 42 1-78 1-10 1 32 1 5 1 6 1-2 1 17 1-14 1-7 1-10 1 38 1-51 1-6 1 40 1-25 1 6 1-3 1 20 1-45 1 59 1-68 1 34 1 39 1 0 1-44 1 8 1-35 1 101 1-54 1 26 1-30 1 23 1-28 1 23 1-24 1 23 1-2 1-11 1 2 1 26 1-29 1-42 1 23 1 58 1-29 1 14 1 20 1-73 1 33 1 21 1-66 1 21 1 39 1-29 1 9 1 27 1-32 1 19 1-91 1 48 1 67 1-19 1-13 1-9 1-42 1 23 1 25 1 0 1-24 1 10 1 13 1-35 1 36 1-2 1-25 1 32 1 12 1-21 1-3 1 6 1-31 1 11 1 20 1-19 1 18 1-10 1 1 1 10 1-37 1 17 1 17 1-1 1-14 1 12 1-3 1-11 1 22 1 8 1-23 1-12 1 32 1-5 1-24 1 17 1-6 1-20 1 22 1 32 1-34 1 20 1 2 1-13 1 17 1-10 1-39 1 34 1 1 1-30 1 51 1-14 1-41 1 18 1 3 1 13 1-8 1-15 1 11 1 15 1-8 1 15 1-32 1-6 1-1 1 16 1 18 1-23 1-19 1 12 1 20 1-37 1 56 1-3 1-22 1-11 1 29 1-26 1-7 1-14 1 66 1-35 1-13 1-13 1 63 1-12 1 20 1-87 1 34 1 26 1-22 1-1 1 22 1-43 1-46 1 81 1-22 1 34 1-6 1 0 1-44 1 51 1-26 1-45 1 75 1 0 1-34 1 22 1 23 1-5 1-39 1-20 1 31 1 8 1-21 1 12 1-41 1 2 1 64 1-38 1-30 1 35 1 35 1-42 1 27 1 21 1-68 1-23 1 59 1-3 1 43 1-11 1-46 1-6 1 33 1 18 1-32 1-2 1-10 1-12 1 9 1 8 1 21 1-22 1 30 1 20 1-50 1-3 1 19 1-3 1 6 1 39 1-37 1-26 1 69 1-62 1 18 1-8 1-35 1-25 1 72 1-9 1-24 1 28 1-5 1-19 1-17 1 67 1 9 1-51 1-40 1 46 1 3 1 6 1-23 1 34 1-60 1 53 1-5 1 17 1-4 1-28 1-30 1 34 1-10 1 3 1 29 1-13 1-37 1 30 1 26 1-12 1-32 1 11 1-9 1 52 1-45 1 34 1-10 1-61 1 14 1 42 1 0 1-16 1 3 1 1 1-17 1 32 1 39 1-74 1 20 1-16 1 48 1 12 1-31 1-60 1 15 1 28 1 12 1-18 1 34 1 5 1-53 1 37 1 17 1-7 1-29 1-14 1-9 1 50 1-16 1-6 1 16 1 9 1-19 1-22 1 42 1-16 1 26 1-54 1-23 1 51 1 13 1-28 1-1 1 27 1-8 1-1 1-5 1-50 1 71 1-8 1-8 1-28 1 43 1-18 1 19 1-18 1 5 1 11 1-17 1-14 1 3 1-5 1 2 1-7 1 20 1 18 1-47 1 41 1 1 1 18 1-65 1 40 1-35 1 17 1 32 1 12 1-31 1-25 1 17 1 0 1 1 1 9 1-9 1-9 1 4 1 24 1-21 1-4 1 6 1-4 1-17 1 12 1-39 1 9 1 62 1 3 1-30 1-14 1 82 1-67 1-12 1 31 1-21 1 2 1 32 1-37 1 29 1-33 1-7 1-6 1 39 1-18 1 6 1 13 1-31 1-3 1 32 1 37 1-25 1-60 1 30 1 1 1 50 1-30 1 0 1-25 1 11 1-7 1-30 1 35 1-12 1 29 1-32 1-18 1 41 1-21 1 21 1 5 1-16 1-7 1 12 1-1 1 22 1-6 1 7 1-9 1-36 1 44 1 8 1-10 1-7 1-17 1 34 1-43 1-8 1 14 1 51 1-25 1-41 1 30 1 7 1 3 1-19 1 26 1-50 1 31 1 26 1-42 1 58 1-21 1-40 1-25 1 74 1 5 1-46 1 3 1 24 1-10 1-40 1 46 1 11 1-15 1-34 1 8 1 27 1 11 1-46 1-32 1 57 1-20 1 53 1-15 1-18 1-50 1 42 1 5 1 16 1 47 1-64 1 39 1-50 1 30 1-10 1-19 1 28 1-1 1 29 1-50 1-44 1 27 1 52 1-39 1-5 1 35 1-22 1 13 1-19 1 10 1-37 1 61 1 0 1-45 1-8 1 47 1-11 1-23 1 0 1 31 1-26 1 33 1 1 1-14 1-16 1 12 1-23 1-21 1 50 1 26 1-67 1 2 1 36 1-8 1 8 1-24 1 12 1 6 1-5 1 9 1-1 1 1 1-20 1 18 1 10 1 13 1-59 1 55 1-57 1 30 1-7 1 4 1 16 1-46 1 20 1 10 1 15 1-40 1 20 1 30 1-32 1-15 1 27 1 19 1-25 1-46 1 49 1-8 1 3 1 28 1-42 1 24 1-12 1-30 1 71 1-11 1 8 1-11 1-54 1 28 1 16 1 29 1-39 1-6 1 17 1 12 1-11 1 10 1 18 1-54 1 19 1 5 1-9 1-17 1 35 1 3 1 0 1-63 1 69 1 13 1-47 1 25 1-11 1 19 1 24 1-47 1-16 1 14 1 22 1-29 1-21 1 60 1-9 1-60 1 41 1 38 1-35 1-22 1 31 1-17 1-13 1 40 1 1 1-41 1 19 1 4 1 19 1-10 1 2 1-29 1-29 1 59 1-30 1 4 1 8 1 12 1-16 1 13 1-9 1-1 1-39 1 70 1-35 1-28 1 31 1-40 1 32 1 2 1-4 1 27 1-18 1-9 1 23 1-23 1-15 1 46 1-11 1-15 1 7 1-26 1 14 1 26 1-28 1 21 1-11 1-14 1 30 1-9 1-8 1-14 1 6 1 3 1 1 1-18 1 19 1-36 1 12 1 45 1-40 1 56 1-54 1 11 1-8 1 18 1-7 1-11 1 1 1 22 1-4 1-2 1 11 1 11 1 0 1-27 1 22 1 7 1 3 1-22 1 4 1 13 1-62 1 45 1-14 1-13 1 15 1 30 1-36 1 1 1 44 1-46 1 22 1 31 1-34 1-22 1 18 1 6 1-44 1 19 1 63 1-12 1-46 1 21 1 10 1-21 1 3 1 24 1 17 1-89 1 62 1 12 1-41 1 4 1 37 1 3 1-55 1 25 1 44 1-34 1-20 1-11 1 28 1-9 1 41 1-15 1 5 1-38 1-6 1 17 1 40 1-77 1 57 1-61 1 19 1 56 1-20 1-2 1-37 1 27 1-31 1 48 1 5 1-35 1 3 1 36 1-25 1-28 1 21 1 20 1 3 1-31 1 21 1-17 1-33 1 49 1 27 1-14 1-56 1 11 1 14 1 36 1-35 1 6 1 45 1-71 1-1 1 21 1 0 1 5 1 49 1-52 1-33 1 49 1-9 1-3 1 15 1-22 1 23 1 14 1-56 1 48 1-33 1 26 1 5 1 16 1-43 1 8 1-6 1 31 1 8 1-9 1-31 1 18 1-53 1 45 1 0 1 40 1-33 1 20 1 8 1-12 1-17 1-2 1-54 1 73 1 15 1-9 1-89 1 34 1 58 1-18 1 1 1-30 1 45 1-5 1-6 1-46 1 27 1 41 1-81 1 32 1 51 1-58 1-29 1 28 1 13 1-19 1 31 1-18 1-30 1 48 1 8 1 0 1-4 1 25 1-24 1 7 1-12 1 16 1-26 1 1 1-11 1-4 1-15 1 32 1 36 1-43 1-23 1 26 1 8 1-38 1 19 1 35 1-24 1 0 1-41 1 70 1 10 1-43 1-8 1 25 1-18 1-16 1 52 1-29 1-23 1-14 1 40 1-22 1 5 1 9 1-16 1 11 1 18 1-18 1-22 1 67 1-29 1 1 1-22 1 31 1-13 1-5 1-9 1 13 1 19 1-15 1 34 1-52 1-15 1 23 1 39 1-6 1-13 1 4 1-59 1 33 1-9 1 58 1-53 1-2 1-4 1 11 1 24 1-14 1-9 1-15 1 44 1-27 1-38 1 25 1 27 1-1 1 2 1-57 1 14 1 3 1 55 1-38 1 51 1-61 1 8 1 22 1 1 1-22 1 26 1 23 1-62 1 60 1-25 1-9 1-34 1 42 1-39 1 55 1 52 1-65 1-9 1-1 1-22 1 34 1-22 1 1 1 12 1 21 1-50 1 12 1 0 1 5 1 21 1 9 1-16 1 22 1-49 1-7 1 31 1-12 1 4 1 1 1 21 1-33 1-25 1 30 1 18 1-19 1-1 1 2 1 46 1-39 1-17 1 10 1-3 1 25 1 8 1-9 1-30 1-29 1 56 1-18 1-11 1 52 1-16 1-11 1-14 1 26 1-36 1 27 1 28 1-41 1 19 1 6 1-35 1 15 1 16 1-33 1 19 1 15 1-42 1-5 1 2 1 33 1 5 1 53 1-68 1-53 1 72 1 8 1-15 1 22 1-36 1-39 1 11 1 57 1-1 1-21 1-5 1 11 1-31 1 30 1 34 1-32 1-32 1 20 1 1 1-22 1 44 1-20 1-16 1 17 1 57 1-58 1-7 1 18 1 9 1-40 1 21 1 20 1-14 1 0 1-66 1 87 1-9 1-5 1-5 1 25 1 0 1-8 1-11 1-66 1 40 1 42 1 0 1-57 1 1 1-28 1 76 1 5 1-45 1 35 1-31 1 23 1-4 1-9 1 17 1 21 1-65 1 29 1 37 1-42 1 8 1 16 1 2 1-48 1 16 1 32 1-12 1-6 1 33 1-47 1 16 1-9 1 23 1 4 1-42 1 8 1 62 1-64 1 26 1-27 1 13 1 39 1-17 1-27 1-15 1 32 1-33 1 18 1 6 1 4 1-18 1-4 1 7 1-13 1 27 1 3 1 2 1-10 1 29 1-6 1-28 1 10 1 14 1 1 1-20 1 17 1-9 1 6 1 10 1 9 1-36 1 28 1-24 1 9 1-31 1 47 1-21 1-8 1-3 1-13 1 60 1-23 1-40 1 29 1 21 1-30 1-26 1 48 1-6 1-30 1 23 1-19 1-10 1 13 1 28 1 6 1 27 1-71 1 12 1 19 1 1 1 19 1-35 1 18 1-37 1 12 1 22 1 1 1-4 1-20 1-7 1 0 1 4 1-11 1 72 1-38 1-24 1 12 1 12 1-17 1 5 1-34 1-4 1 30 1 36 1-8 1-44 1 11 1 30 1-37 1 36 1 3 1-9 1 32 1-27 1-12 1 7 1-11 1 25 1 24 1-46 1-4 1-11 1 19 1-4 1 8 1-39 1 61 1-10 1-11 1-26 1 28 1 13 1-28 1 45 1-39 1-28 1 68 1-36 1-15 1 16 1 11 1-31 1 17 1-18 1 10 1 27 1-25 1-18 1 37 1-6 1-63 1 34 1 24 1-13 1 9 1 12 1-14 1 40 1 8 1-43 1-42 1 20 1 5 1 43 1-14 1 1 1-19 1-20 1 5 1 33 1 1 1-43 1 46 1 30 1-45 1-11 1 3 1 20 1-22 1 11 1-8 1 15 1-26 1-1 1 18 1-4 1 17 1 14 1-15 1-9 1-24 1 21 1 7 1-18 1 4 1-8 1 5 1 4 1-8 1 50 1-37 1 5 1 0 1 6 1 0 1 14 1-6 1-15 1 22 1-23 1-18 1 10 1-12 1-11 1 52 1-11 1-39 1 33 1-12 1-8 1 42 1-35 1 0 1 34 1-28 1-45 1 45 1 33 1-21 1 4 1 11 1-21 1-3 1 4 1 1 1 21 1-34 1-16 1 37 1 4 1-15 1-12 1 8 1 9 1-11 1 14 1-48 1 41 1-47 1 39 1 8 1-22 1 4 1 15 1 1 1 11 1 6 1-29 1 53 1-75 1 8 1 20 1-26 1 11 1 8 1 46 1-3 1-52 1 17 1 2 1 34 1-43 1 16 1 10 1-14 1-36 1 69 1-34 1 6 1 1 1-15 1-18 1 33 1-7 1-6 1 11 1 28 1-35 1-20 1 30 1-32 1-5 1 59 1-43 1 19 1 10 1-41 1-25 1 54 1 4 1-19 1-5 1 12 1-11 1-1 1 30 1-41 1 30 1-29 1 44 1-1 1 10 1-17 1-9 1-6 1 1 1 6 1 14 1-3 1-13 1 9 1-20 1 26 1 15 1-45 1 22 1-5 1 18 1 7 1 3 1-20 1-45 1 48 1-10 1 5 1-7 1 21 1-41 1 15 1 4 1-17 1 52 1-19 1-26 1-15 1 39 1-48 1 7 1 41 1-18 1-14 1 27 1-29 1 66 1-75 1-18 1 12 1 30 1 9 1 45 1-75 1-20 1 16 1 55 1 14 1-40 1 35 1-44 1-18 1 46 1-30 1 42 1 5 1-62 1 23 1 10 1 12 1-18 1 4 1-31 1 40 1 13 1-26 1-21 1 18 1 9 1 5 1-43 1 8 1 58 1 12 1-82 1 37 1-1 1-21 1 17 1 13 1-4 1 32 1-26 1 1 1-44 1-1 1 50 1-4 1-19 1-22 1 10 1 16 1-23 1 45 1-41 1 27 1 12 1-21 1 12 1-21 1-15 1 52 1-21 1-16 1 14 1-18 1-6 1 13 1-9 1 22 1 37 1-47 1 10 1 20 1-17 1 6 1-24 1 59 1-39 1-33 1 1 1 59 1-12 1-48 1 16 1 4 1 16 1-9 1 8 1-31 1 38 1-22 1-8 1 27 1-26 1 29 1-34 1 24 1-5 1 8 1-2 1-10 1-8 1 32 1-7 1-29 1 4 1 30 1-23 1-27 1 35 1-41 1 36 1 27 1 16 1-43 1-13 1 8 1 23 1-49 1 40 1-23 1 0 1 45 1 2 1-54 1 28 1-1 1 50 1-36 1-24 1-19 1-9 1 38 1-37 1 38 1-2 1-13 1 13 1 30 1-38 1 16 1-22 1-41 1 75 1-55 1 42 1 1 1-23 1-12 1-12 1 14 1 30 1-3 1-19 1 11 1-24 1 39 1-54 1 43 1 24 1-10 1-15 1-6 1-26 1 43 1-16 1-13 1 18 1-12 1-2 1 27 1 0 1-44 1 26 1 33 1-23 1-30 1 11 1-8 1-16 1 38 1-7 1 11 1-43 1 14 1 27 1 17 1-19 1 3 1 4 1-22 1 23 1-12 1 29 1-19 1-54 1 16 1 40 1-37 1 24 1-11 1 2 1 21 1 2 1-59 1 35 1 22 1-31 1 40 1-11 1-1 1 3 1-33 1 24 1 31 1-9 1-43 1-13 1 37 1-26 1-4 1 22 1-15 1 18 1 38 1-42 1 7 1-32 1 61 1 4 1-48 1 34 1-18 1-18 1 20 1-16 1-10 1 27 1-17 1-16 1 30 1 36 1-29 1-54 1 43 1-1 1-28 1 30 1-17 1 63 1-46" stroke="#0000ff" stroke-width="0.6" fill="none" vector-effect="non-scaling-stroke" stroke-linejoin="round"/>
<path transform="translate(118.7 216) scale(0.09121 0.16250)" d="M0 -4l1-2 1 8 1 6 1-3 1-16 1-1 1 26 1-4 1-29 1 18 1 23 1-22 1-15 1 7 1 11 1 13 1-10 1-19 1 6 1 9 1 6 1-2 1-17 1 8 1 13 1-16 1 4 1 15 1-21 1-4 1 24 1-7 1-14 1 12 1 2 1-14 1 6 1 12 1-5 1-12 1 2 1 16 1-4 1-17 1 3 1 11 1 7 1 4 1-19 1-21 1 19 1 26 1-6 1-13 1-1 1-7 1-12 1 20 1 29 1-18 1-30 1 8 1 15 1-1 1-1 1-2 1-1 1 5 1-5 1-6 1 6 1 7 1-4 1-9 1 3 1 15 1-7 1-13 1 9 1-2 1-7 1 22 1-3 1-20 1 13 1-6 1-16 1 32 1 3 1-32 1 16 1 12 1-21 1 9 1 4 1-18 1 21 1 12 1-32 1 3 1 22 1-12 1-7 1 14 1-11 1-8 1 23 1 5 1-18 1-12 1-5 1 21 1 30 1-25 1-35 1 25 1 19 1-24 1-1 1 20 1-6 1-11 1 4 1 4 1-1 1-1 1 3 1-4 1-12 1 12 1 23 1-16 1-26 1 11 1 18 1-2 1-9 1-4 1 9 1 7 1-15 1-9 1 15 1 13 1-5 1-15 1-10 1 8 1 18 1 5 1-6 1-13 1-17 1 2 1 33 1 15 1-31 1-15 1 26 1-6 1-28 1 21 1 26 1-17 1-8 1 9 1-5 1-13 1-4 1 14 1 23 1-5 1-22 1-6 1 4 1 4 1 7 1 1 1 6 1 4 1-20 1-14 1 15 1 8 1 0 1 3 1-3 1 6 1-2 1-28 1 0 1 32 1 5 1-13 1-5 1 0 1 4 1-5 1-5 1 10 1 2 1-8 1 6 1 10 1-10 1-16 1 5 1 16 1-2 1-4 1 5 1-10 1-9 1 21 1 8 1-25 1-1 1 13 1-3 1 4 1 2 1-6 1 0 1-10 1-1 1 18 1-2 1 6 1 11 1-44 1-14 1 53 1-1 1-28 1 25 1 2 1-31 1 4 1 9 1-3 1 18 1 12 1-27 1-22 1 21 1 19 1-18 1-9 1 21 1 3 1-13 1-3 1-2 1-1 1 6 1 6 1 6 1-3 1-16 1-7 1 15 1 9 1-12 1-1 1 19 1-5 1-31 1 5 1 26 1-4 1-5 1 10 1-8 1-13 1 1 1 6 1 8 1-3 1 1 1 8 1-16 1-9 1 22 1-4 1-16 1 13 1 7 1-5 1 2 1-12 1-6 1 21 1-4 1-11 1 13 1-1 1-9 1 8 1-7 1-7 1 9 1 3 1 6 1 2 1-18 1 2 1 8 1-8 1 10 1 7 1-20 1 8 1 16 1-25 1-4 1 23 1-1 1-8 1-7 1 0 1 22 1-11 1-24 1 27 1 6 1-25 1 10 1 3 1-12 1 23 1 14 1-29 1-24 1 7 1 32 1 9 1-24 1 5 1 14 1-29 1-14 1 30 1 12 1-12 1-2 1 3 1-6 1-5 1 3 1 3 1 2 1 7 1-1 1-11 1-1 1 1 1-1 1 11 1 0 1-10 1 6 1 3 1-10 1 1 1 5 1 2 1 2 1-12 1-2 1 21 1-3 1-18 1 4 1 3 1 0 1 13 1-10 1-10 1 11 1 0 1 8 1 3 1-40 1 0 1 47 1 2 1-17 1-3 1-12 1 4 1 1 1-15 1 26 1 25 1-20 1-16 1-9 1-3 1 25 1-1 1-21 1 17 1 16 1-7 1-12 1-22 1 3 1 28 1-1 1-5 1 13 1-16 1-27 1 18 1 18 1-4 1 7 1-12 1-14 1 28 1-3 1-39 1 17 1 26 1-16 1 0 1 20 1-2 1-27 1-31 1 20 1 55 1-4 1-37 1 0 1 0 1-4 1 15 1 0 1-5 1 10 1-10 1-8 1 15 1-2 1-11 1 6 1-3 1 4 1 15 1-15 1-10 1 17 1-8 1-12 1 15 1 4 1-2 1 5 1-16 1-1 1 16 1-19 1 0 1 34 1-14 1-21 1 18 1-7 1-19 1 19 1 15 1-5 1-4 1-12 1-6 1 13 1 8 1-7 1-7 1 7 1 7 1-8 1-8 1 7 1 5 1-1 1-5 1-4 1 10 1 6 1-15 1-4 1 9 1 3 1 2 1-9 1-4 1 20 1-6 1-23 1 18 1 10 1-19 1 6 1 8 1-10 1 8 1 4 1-18 1 1 1 18 1-2 1-14 1 3 1 14 1-5 1-19 1 9 1 15 1-10 1-3 1 2 1 0 1 20 1-10 1-45 1 17 1 41 1-10 1-3 1 3 1-29 1-3 1 19 1-4 1 16 1 17 1-28 1-20 1 15 1 3 1-5 1 12 1 9 1-8 1-12 1 1 1 7 1-7 1-4 1 13 1 8 1-4 1-7 1-17 1 4 1 33 1-10 1-40 1 21 1 37 1-24 1-13 1 15 1-20 1-10 1 30 1 10 1-2 1-6 1-33 1-3 1 42 1 7 1-25 1-4 1 4 1-4 1 6 1 16 1-6 1-26 1 5 1 23 1-6 1-9 1 11 1-9 1-10 1 22 1-9 1-20 1 28 1 6 1-17 1 12 1-19 1-23 1 40 1 14 1-24 1 12 1-1 1-39 1 2 1 52 1 16 1-45 1-25 1 25 1 2 1 3 1 33 1-21 1-45 1 19 1 22 1-5 1 7 1-4 1-13 1 6 1-2 1-5 1 18 1-4 1-20 1 15 1 17 1-14 1-16 1-3 1 14 1 10 1-7 1 6 1 3 1-22 1-4 1 14 1 2 1 7 1 4 1-17 1-3 1 11 1-2 1-6 1-8 1 4 1 34 1 10 1-41 1-32 1 17 1 35 1 3 1-23 1 17 1 15 1-46 1-15 1 41 1 10 1-12 1-3 1-4 1 6 1-1 1-16 1 10 1 18 1-11 1-10 1 1 1 8 1 11 1-12 1-17 1 13 1 8 1-4 1 5 1-7 1 1 1 11 1-28 1-5 1 45 1-7 1-29 1 14 1-3 1-7 1 22 1-10 1-19 1 23 1 7 1-25 1 6 1 10 1-7 1 2 1 3 1 2 1-2 1-19 1 7 1 22 1-3 1 1 1-18 1-30 1 40 1 37 1-44 1-15 1 26 1-10 1 1 1 12 1-17 1 1 1 15 1-9 1 0 1 6 1-13 1-2 1 18 1-1 1-19 1 2 1 23 1-4 1-22 1 6 1 10 1-10 1 9 1 11 1-17 1-8 1 8 1 9 1 7 1-20 1-15 1 28 1 13 1-19 1-2 1-1 1-9 1 9 1 13 1-1 1-1 1-12 1-14 1 14 1 13 1-6 1-5 1 4 1 9 1-9 1-22 1 9 1 25 1-5 1-11 1 3 1-5 1-5 1 12 1 9 1-12 1-14 1 14 1 11 1-15 1 5 1 11 1-24 1-6 1 30 1 1 1-19 1 1 1 7 1 3 1-4 1-13 1 8 1 17 1-10 1-9 1 5 1 1 1 3 1 1 1-13 1 0 1 17 1 4 1-13 1-1 1 6 1-14 1-4 1 27 1 1 1-23 1 6 1 9 1-10 1 1 1 2 1 0 1 5 1-3 1-3 1 14 1-12 1-24 1 20 1 17 1-12 1 7 1 5 1-21 1-9 1 6 1 9 1 9 1 6 1 6 1-15 1-26 1 12 1 7 1-16 1 26 1 34 1-17 1-35 1-29 1 10 1 50 1 4 1-25 1 7 1-3 1-7 1 5 1-24 1 2 1 54 1-1 1-50 1-5 1 29 1 4 1-13 1-3 1 7 1 0 1 2 1 9 1-15 1-13 1 21 1-8 1-15 1 39 1 5 1-40 1 6 1 5 1-16 1 26 1 13 1-27 1 8 1 10 1-24 1 1 1 18 1-3 1-2 1 4 1-6 1-1 1 5 1-12 1-6 1 27 1 14 1-30 1-21 1 23 1 19 1-12 1-13 1 0 1 10 1 4 1-11 1 5 1 17 1-10 1-29 1-3 1 33 1 20 1-23 1-16 1 15 1-8 1-14 1 21 1 9 1-8 1 7 1-15 1-23 1 26 1 27 1-22 1-19 1 9 1 12 1 1 1-9 1-3 1 9 1 0 1-8 1 0 1-2 1 7 1 18 1-9 1-32 1 4 1 31 1 2 1-20 1-4 1 11 1 5 1-8 1-2 1 8 1-6 1-16 1 17 1 28 1-22 1-28 1 20 1 10 1-18 1 10 1 12 1-16 1 0 1 15 1-11 1-15 1 7 1 16 1 6 1-10 1-11 1 2 1 0 1 3 1 12 1-4 1-15 1 5 1 12 1-3 1-8 1-4 1 3 1 8 1 1 1-2 1 0 1-5 1-6 1 5 1 7 1 0 1-4 1 0 1 2 1-4 1-3 1 5 1 8 1-5 1-14 1 6 1 17 1-5 1-14 1 5 1-2 1-3 1 18 1-2 1-20 1 15 1 1 1-24 1 22 1 19 1-36 1-3 1 34 1-5 1-22 1 3 1 9 1-2 1-4 1 6 1 7 1-8 1-6 1 4 1-2 1 1 1 7 1 0 1-8 1-6 1 8 1 16 1-12 1-24 1 20 1 17 1-20 1 5 1 6 1-22 1 11 1 19 1-19 1-1 1 10 1-10 1 7 1 7 1-19 1 3 1 22 1-12 1-21 1 12 1 22 1-4 1-22 1 0 1 15 1-5 1-8 1 17 1 5 1-28 1 1 1 29 1-14 1-18 1 23 1 0 1-15 1 19 1-4 1-25 1 16 1 6 1-10 1 17 1-3 1-17 1 13 1-8 1-11 1 26 1-4 1-16 1 21 1-7 1-24 1 19 1 12 1-17 1 6 1 4 1-13 1 11 1 6 1-19 1 1 1 19 1 1 1-17 1-6 1 17 1 3 1-12 1 9 1-7 1-21 1 24 1 27 1-14 1-24 1-18 1 18 1 29 1-14 1-2 1 16 1-33 1-11 1 35 1-11 1-6 1 33 1-17 1-28 1 10 1 6 1 7 1 4 1-13 1 10 1 9 1-23 1-4 1 8 1 1 1 20 1 3 1-28 1-6 1 10 1 1 1 14 1 8 1-18 1-8 1-3 1 3 1 21 1-7 1-18 1 20 1 5 1-19 1 3 1-9 1-11 1 43 1 22 1-52 1-24 1 34 1 11 1-17 1 6 1 9 1-4 1 0 1-16 1-12 1 37 1 8 1-42 1 14 1 33 1-33 1-16 1 27 1 0 1-5 1 8 1-12 1-4 1 14 1-5 1-6 1 8 1 0 1-7 1 3 1 6 1-5 1-4 1 3 1 3 1 0 1-5 1-1 1 16 1-4 1-30 1 11 1 30 1-16 1-10 1 21 1-13 1-20 1 10 1 14 1 13 1-6 1-30 1 7 1 21 1-13 1 3 1 11 1-17 1 1 1 16 1-17 1-7 1 21 1 1 1-7 1-6 1-8 1 14 1 10 1-17 1 0 1 13 1-8 1-5 1 1 1 3 1 14 1-13 1-15 1 29 1-7 1-39 1 31 1 35 1-32 1-16 1 14 1-4 1-10 1 8 1 30 1 12 1-47 1-34 1 30 1 39 1-2 1-33 1 3 1 37 1-28 1-49 1 40 1 39 1-21 1-4 1-1 1-23 1 2 1 17 1 8 1 3 1-11 1-8 1 7 1-2 1-7 1 16 1 0 1-13 1 14 1 0 1-16 1 2 1-12 1 6 1 45 1-7 1-39 1 4 1-8 1 1 1 40 1-13 1-31 1 35 1 7 1-37 1 2 1 1 1-1 1 37 1 2 1-36 1 2 1 6 1-11 1 15 1 11 1-18 1 0 1 16 1-3 1-15 1-6 1 10 1 12 1-5 1-3 1 10 1-8 1-19 1 1 1 10 1 14 1 18 1-16 1-35 1 7 1 25 1-6 1-6 1 19 1-3 1-23 1-1 1 8 1 0 1 11 1 7 1-11 1-7 1-2 1-2 1 9 1 2 1-7 1 14 1 10 1-28 1-18 1 20 1 17 1 4 1-2 1-25 1-13 1 29 1 16 1-21 1-2 1 6 1-16 1 7 1 24 1-13 1-15 1 13 1-4 1-11 1 22 1 7 1-30 1 3 1 19 1-13 1 3 1 17 1-23 1-12 1 27 1 7 1-15 1-7 1 1 1 9 1-4 1-8 1 22 1 7 1-37 1-1 1 31 1-8 1-19 1 9 1 20 1 8 1-19 1-34 1-3 1 33 1 40 1-2 1-56 1-22 1 36 1 14 1-6 1 12 1-8 1-23 1 4 1 10 1 4 1 14 1-6 1-31 1 2 1 24 1 1 1-2 1 6 1-7 1-21 1-3 1 25 1 10 1-11 1 7 1-4 1-36 1 7 1 44 1-5 1-26 1 5 1 9 1 1 1-5 1-18 1-1 1 34 1 13 1-31 1-18 1 15 1 7 1-3 1 10 1-5 1-14 1 11 1 5 1-12 1 9 1 4 1-21 1 7 1 23 1-11 1-13 1 11 1 0 1-16 1 5 1 22 1-4 1-16 1 3 1 0 1-4 1 18 1-3 1-27 1 18 1 20 1-22 1-2 1 7 1-11 1 14 1 0 1-23 1 31 1 15 1-49 1-4 1 38 1-3 1-9 1 0 1-9 1 8 1 4 1-11 1 10 1 11 1-18 1-10 1 12 1 9 1 1 1-5 1-7 1-6 1 0 1 17 1 12 1-18 1-16 1 15 1 7 1-15 1 4 1 20 1-8 1-27 1 5 1 28 1 8 1-20 1-23 1 1 1 28 1 15 1-20 1-14 1 7 1 7 1-1 1-7 1-4 1 11 1 11 1-7 1-10 1-2 1 0 1 2 1 6 1 8 1-3 1-11 1-3 1 11 1-6 1-13 1 21 1 15 1-25 1-5 1 17 1-19 1-3 1 34 1-15 1-21 1 34 1-9 1-39 1 24 1 23 1-13 1 4 1-15 1-10 1 33 1-12 1-26 1 38 1-3 1-41 1 30 1 25 1-31 1-11 1 5 1 9 1 20 1-9 1-14 1 2 1-18 1 7 1 39 1-10 1-25 1 9 1-12 1-3 1 33 1-3 1-31 1 14 1 15 1-19 1-3 1 14 1-4 1-6 1 7 1 6 1-6 1-7 1 1 1 0 1-2 1 12 1 10 1-14 1-17 1 7 1 17 1-3 1-14 1 3 1 16 1-5 1-17 1 10 1 10 1-18 1 1 1 19 1-10 1-3 1 14 1-18 1-13 1 28 1 0 1-19 1 18 1 3 1-24 1 6 1 9 1-2 1 9 1-7 1-12 1 15 1-5 1-9 1 19 1-4 1-22 1 13 1 14 1-1 1-10 1-15 1 12 1 12 1-19 1 15 1 21 1-40 1-15 1 39 1 4 1-13 1 0 1-9 1 3 1 11 1-5 1 0 1 0 1-9 1 10 1 9 1-13 1-4 1 6 1-3 1 2 1 5 1 1 1-2 1-5 1-5 1-1 1 9 1 14 1-6 1-14 1 4 1-7 1-14 1 29 1 20 1-29 1 3 1 16 1-43 1-8 1 54 1-1 1-23 1 20 1-13 1-31 1 22 1 10 1-11 1 26 1-1 1-39 1 12 1 22 1-15 1-3 1 4 1-7 1 18 1 8 1-26 1-8 1 18 1 5 1-6 1-4 1-2 1 6 1 7 1-2 1-10 1-5 1 5 1 7 1 0 1 1 1 1 1-5 1-7 1-3 1 8 1 10 1-1 1-4 1-4 1-7 1 5 1 10 1-9 1-4 1 10 1-1 1-1 1 5 1-12 1-8 1 14 1 6 1-5 1 0 1-1 1-2 1 0 1-7 1 5 1 12 1-5 1-9 1 7 1 3 1-8 1-4 1 5 1 7 1-4 1-8 1 13 1 13 1-24 1-22 1 20 1 16 1 0 1 13 1-17 1-39 1 19 1 30 1-14 1 6 1 12 1-29 1-8 1 14 1 0 1 21 1 9 1-40 1-14 1 24 1 18 1 4 1-15 1-18 1 9 1 6 1-2 1 9 1-1 1-7 1 1 1-9 1-4 1 23 1 2 1-14 1 6 1-4 1-15 1 10 1 11 1-2 1-1 1 2 1 0 1-18 1-3 1 26 1 1 1-15 1 11 1-6 1-15 1 14 1 4 1-5 1 9 1-10 1-9 1 17 1 1 1-11 1-1 1 1 1 11 1 4 1-18 1-4 1 16 1 0 1-8 1 6 1 0 1-10 1 2 1 13 1-8 1-12 1 25 1 6 1-44 1 5 1 43 1-12 1-19 1 11 1-11 1-1 1 20 1-9 1-7 1 11 1-7 1-5 1 11 1-7 1-4 1 13 1-6 1-6 1 13 1-6 1-15 1 7 1 19 1-2 1-21 1-2 1 19 1 4 1-7 1-8 1-16 1 9 1 35 1 2 1-35 1-16 1 19 1 20 1-6 1-12 1 2 1 3 1 1 1 3 1-10 1-7 1 14 1 10 1-10 1-9 1 5 1 6 1-7 1-1 1 12 1-6 1-13 1 13 1 8 1-13 1-2 1 3 1 0 1 6 1-4 1-6 1 15 1 1 1-21 1-1 1 16 1 3 1-7 1 0 1 9 1-4 1-25 1-1 1 35 1 10 1-19 1-15 1-5 1 15 1 15 1-21 1-7 1 27 1-9 1-15 1 23 1-10 1-31 1 24 1 25 1-17 1-3 1 3 1-17 1-1 1 20 1 11 1-9 1-18 1-2 1 13 1 2 1 4 1 2 1-17 1-6 1 16 1 2 1 3 1 3 1-21 1 0 1 22 1-9 1-10 1 10 1-7 1 9 1 18 1-27 1-20 1 21 1 13 1 0 1-2 1-7 1-2 1-11 1-2 1 31 1 4 1-30 1 3 1 12 1-10 1 4 1 6 1-9 1 1 1 14 1-1 1-26 1-3 1 37 1-1 1-31 1 15 1 5 1-23 1 19 1 14 1-21 1 8 1 1 1-22 1 17 1 19 1-19 1-9 1 12 1 7 1-9 1-11 1 14 1 0 1-19" stroke="#00ff00" stroke-width="0.35" fill="none" vector-effect="non-scaling-stroke" stroke-linejoin="round"/>
<path transform="translate(118.7 216) scale(0.09121 0.16250)" d="M0 0l1-6 1 9 1 1 1 1 1-15 1-5 1 31 1-5 1-33 1 25 1 20 1-24 1-17 1 7 1 13 1 12 1-3 1-21 1 5 1 7 1 3 1 2 1-19 1 2 1 19 1-7 1-4 1 18 1-21 1-12 1 27 1-8 1-8 1 9 1-1 1-8 1 4 1 13 1-1 1-19 1-10 1 26 1 7 1-23 1 3 1 11 1 5 1-2 1-15 1-16 1 18 1 23 1-9 1-6 1-1 1-12 1-12 1 24 1 28 1-23 1-26 1 10 1 12 1 2 1-1 1-4 1-4 1 4 1 4 1-11 1 1 1 18 1-8 1-8 1-2 1 11 1-2 1-12 1 15 1-7 1-5 1 20 1-10 1-17 1 16 1-1 1-20 1 33 1 1 1-38 1 23 1 12 1-19 1 5 1-1 1-12 1 23 1 12 1-34 1 7 1 15 1-13 1-4 1 15 1-7 1-17 1 35 1 2 1-31 1-3 1-2 1 23 1 21 1-28 1-27 1 29 1 16 1-23 1-5 1 16 1 0 1-11 1 0 1 2 1 10 1-7 1 6 1-4 1-22 1 23 1 17 1-20 1-22 1 21 1 12 1-3 1-6 1-17 1 19 1 5 1-17 1-6 1 21 1 9 1-8 1-12 1-16 1 12 1 15 1 13 1-12 1-17 1-5 1-7 1 32 1 22 1-37 1-16 1 34 1-12 1-29 1 27 1 22 1-22 1-4 1 12 1-3 1-13 1-16 1 21 1 23 1-2 1-19 1-14 1 7 1 2 1 15 1-6 1 2 1 13 1-24 1-12 1 7 1 13 1 5 1-2 1 1 1 2 1-1 1-27 1-7 1 35 1 17 1-23 1-10 1 14 1-8 1-4 1 2 1 2 1 9 1-9 1 0 1 10 1 0 1-22 1 3 1 23 1-13 1 4 1 0 1-10 1-2 1 16 1 10 1-26 1 3 1 7 1-2 1 0 1 4 1 3 1-3 1-14 1-4 1 25 1-6 1 6 1 11 1-46 1-8 1 49 1 2 1-31 1 29 1 1 1-38 1 13 1 4 1-6 1 23 1 11 1-25 1-20 1 18 1 16 1-19 1-7 1 22 1 4 1-13 1-3 1-2 1-5 1 6 1 14 1 2 1-6 1-17 1-3 1 18 1-1 1-1 1-5 1 14 1 5 1-39 1 2 1 27 1 3 1-4 1 7 1-8 1-17 1 5 1 1 1 11 1-2 1 3 1 12 1-26 1-5 1 23 1-6 1-16 1 11 1 14 1-6 1-4 1-8 1-4 1 15 1-4 1-6 1 10 1 2 1-6 1-3 1 1 1-8 1 4 1 10 1 6 1 0 1-20 1 0 1 9 1-3 1 9 1 6 1-24 1 5 1 23 1-20 1-7 1 20 1-7 1-7 1 2 1-1 1 21 1-14 1-24 1 28 1 7 1-26 1 7 1 10 1-23 1 31 1 19 1-37 1-18 1-1 1 31 1 12 1-21 1 8 1 16 1-35 1-21 1 36 1 12 1-6 1-5 1-2 1-3 1-5 1 1 1 2 1 9 1 7 1-9 1-11 1 7 1-6 1 7 1 6 1-7 1 4 1-3 1 5 1-9 1-5 1 10 1 4 1 2 1-15 1-3 1 19 1 5 1-17 1-3 1 8 1-3 1 4 1-2 1-5 1 12 1-5 1 5 1 7 1-44 1 2 1 48 1 4 1-15 1-11 1-8 1-1 1 9 1-11 1 12 1 35 1-24 1-17 1-7 1-7 1 34 1-5 1-20 1 15 1 13 1-5 1-14 1-17 1-1 1 32 1 1 1-7 1 10 1-24 1-14 1 18 1 11 1 2 1 3 1-14 1-12 1 31 1-1 1-44 1 15 1 28 1-19 1 6 1 17 1 2 1-23 1-42 1 23 1 50 1 0 1-30 1-5 1 1 1-3 1 15 1-5 1-2 1 7 1-8 1-6 1 16 1 3 1-24 1 6 1 5 1 5 1 14 1-20 1-9 1 17 1-6 1-8 1 12 1 0 1 0 1 6 1-10 1-9 1 12 1-11 1-5 1 39 1-11 1-25 1 16 1-9 1-13 1 10 1 20 1-2 1-2 1-15 1-10 1 23 1-9 1 2 1 1 1-3 1 12 1-10 1-9 1 5 1 15 1-9 1-9 1 6 1 2 1 4 1-7 1-1 1 4 1 2 1-1 1-6 1-4 1 16 1-1 1-21 1 19 1 3 1-15 1 5 1 5 1-7 1 6 1 7 1-21 1 7 1 19 1-9 1-16 1 6 1 18 1-10 1-18 1 11 1 15 1-9 1-5 1-1 1 3 1 18 1-8 1-41 1 11 1 40 1-8 1 8 1-12 1-26 1 5 1 3 1 9 1 9 1 24 1-23 1-31 1 20 1-3 1-6 1 19 1 11 1-12 1-14 1 2 1 9 1-9 1-2 1 17 1-6 1 4 1-4 1-20 1 10 1 29 1-13 1-38 1 22 1 31 1-18 1-12 1 14 1-18 1-17 1 34 1 16 1-12 1-8 1-24 1-4 1 42 1 6 1-27 1-5 1 1 1 7 1 2 1 13 1-4 1-25 1 5 1 14 1-1 1-8 1 14 1-5 1-15 1 20 1-11 1-20 1 29 1 7 1-12 1 12 1-28 1-16 1 36 1 15 1-20 1 5 1 7 1-44 1 2 1 52 1 17 1-44 1-25 1 26 1-5 1 13 1 25 1-26 1-31 1 15 1 22 1-9 1 8 1 0 1-19 1 4 1 7 1-6 1 13 1-5 1-13 1 17 1 9 1-11 1-24 1 2 1 19 1 6 1-2 1 3 1 3 1-21 1-9 1 9 1 12 1 14 1-7 1-20 1 6 1 9 1-6 1-3 1-13 1 6 1 38 1 9 1-41 1-31 1 10 1 39 1 7 1-28 1 23 1 9 1-47 1-12 1 44 1 13 1-26 1 4 1-2 1 7 1 1 1-23 1 11 1 23 1-9 1-24 1 8 1 18 1 4 1-14 1-17 1 18 1 1 1-4 1 8 1-7 1 7 1 4 1-28 1-1 1 39 1-7 1-24 1 15 1-5 1-12 1 20 1 5 1-26 1 14 1 16 1-29 1 7 1 11 1-5 1 4 1-5 1 9 1-7 1-20 1 11 1 19 1 3 1 1 1-23 1-30 1 38 1 39 1-44 1-14 1 31 1-14 1-4 1 18 1-20 1-1 1 20 1-10 1-3 1 5 1-8 1 0 1 12 1 5 1-23 1-4 1 28 1-3 1-19 1 5 1 8 1-9 1 4 1 13 1-13 1-12 1 12 1 9 1 6 1-24 1-13 1 34 1 2 1-11 1-5 1-2 1-2 1 2 1 13 1-1 1 5 1-15 1-15 1 13 1 9 1 1 1-7 1 6 1 12 1-12 1-26 1 4 1 26 1 6 1-12 1 3 1-5 1-16 1 16 1 12 1-11 1-15 1 13 1 16 1-17 1-1 1 12 1-18 1-9 1 29 1 4 1-20 1 3 1 0 1 1 1 6 1-15 1 6 1 18 1-12 1-10 1 6 1 6 1-4 1 7 1-16 1-6 1 28 1-2 1-13 1-1 1 9 1-17 1-5 1 32 1-2 1-26 1 11 1 12 1-18 1 2 1 2 1 5 1 7 1-11 1-4 1 16 1-7 1-28 1 24 1 16 1-14 1 4 1 9 1-22 1-12 1 14 1 4 1 11 1 3 1 11 1-26 1-24 1 26 1-5 1-12 1 24 1 35 1-17 1-33 1-32 1 6 1 59 1 1 1-27 1 7 1 0 1-12 1 11 1-27 1-3 1 63 1-9 1-45 1-1 1 19 1 6 1-5 1-8 1 7 1 3 1-8 1 17 1-13 1-18 1 24 1-11 1-12 1 40 1 2 1-37 1 0 1 4 1-8 1 24 1 17 1-31 1 2 1 16 1-22 1-7 1 26 1-1 1-14 1 13 1-9 1 3 1 4 1-14 1-6 1 17 1 28 1-29 1-27 1 25 1 16 1-9 1-14 1-6 1 19 1 4 1-17 1 11 1 13 1-8 1-28 1-8 1 37 1 17 1-24 1-6 1 8 1-8 1-14 1 14 1 19 1-14 1 16 1-20 1-30 1 39 1 15 1-16 1-18 1 6 1 12 1 0 1-7 1-1 1 17 1-15 1-11 1 7 1 1 1 10 1 12 1-9 1-28 1 2 1 26 1 5 1-19 1-5 1 16 1 1 1-8 1 0 1 6 1-11 1-17 1 31 1 25 1-32 1-26 1 21 1 17 1-22 1 6 1 14 1-12 1 0 1 10 1-11 1-19 1 21 1 10 1-3 1 2 1-17 1-2 1 9 1 0 1 2 1 10 1-14 1-6 1 17 1-3 1-9 1-6 1 8 1 6 1 0 1 4 1-8 1 0 1-9 1-5 1 23 1 0 1-7 1 0 1-2 1-1 1-13 1 15 1 13 1-14 1-7 1 2 1 17 1-8 1-13 1 10 1-6 1-5 1 23 1-2 1-23 1 19 1-4 1-23 1 26 1 7 1-26 1 6 1 25 1-9 1-20 1 1 1 7 1 11 1-7 1-3 1 11 1-11 1-2 1 6 1-10 1 7 1 10 1-7 1-2 1-10 1 7 1 19 1-17 1-15 1 13 1 18 1-17 1 1 1 11 1-27 1 14 1 19 1-23 1 1 1 17 1-18 1 6 1 16 1-28 1 8 1 18 1-10 1-24 1 13 1 33 1-14 1-21 1-2 1 15 1-1 1-11 1 17 1 10 1-28 1-9 1 31 1-5 1-19 1 12 1 6 1-8 1 12 1-8 1-22 1 18 1 8 1-8 1 17 1-6 1-26 1 13 1 4 1-8 1 21 1-8 1-14 1 21 1-9 1-25 1 22 1 13 1-18 1 7 1 5 1-16 1 11 1 6 1-21 1 5 1 18 1 5 1-20 1-12 1 19 1 11 1-11 1-2 1-2 1-24 1 23 1 37 1-15 1-30 1-20 1 21 1 30 1-16 1-2 1 16 1-32 1-8 1 33 1-13 1-9 1 38 1-15 1-35 1 14 1 4 1 12 1 3 1-15 1 10 1 5 1-16 1-9 1 9 1 4 1 19 1 3 1-26 1-11 1 4 1 11 1 13 1 8 1-17 1-9 1 1 1-10 1 23 1 5 1-26 1 22 1 10 1-25 1 2 1-5 1-12 1 37 1 32 1-60 1-28 1 54 1 1 1-25 1 10 1 13 1-13 1 4 1-7 1-21 1 38 1 9 1-39 1 9 1 33 1-27 1-19 1 21 1 0 1 7 1 1 1-11 1-1 1 7 1-7 1-4 1 16 1-4 1-9 1 3 1 7 1-2 1-10 1 6 1 8 1-8 1-6 1 6 1 16 1-6 1-39 1 23 1 34 1-27 1-7 1 18 1-5 1-31 1 12 1 31 1-3 1-10 1-21 1 13 1 12 1-18 1 9 1 7 1-13 1 7 1 13 1-24 1-1 1 21 1-4 1-5 1-9 1 3 1 11 1 1 1-13 1 3 1 12 1-10 1-1 1-6 1 4 1 18 1-15 1-12 1 30 1-13 1-34 1 33 1 25 1-24 1-19 1 10 1 7 1-13 1 1 1 35 1 12 1-50 1-31 1 28 1 41 1-4 1-34 1 6 1 38 1-28 1-51 1 41 1 37 1-22 1-7 1 6 1-22 1-1 1 23 1-1 1 8 1-13 1-14 1 11 1 0 1-3 1 15 1-3 1-13 1 13 1-4 1-9 1 6 1-22 1 3 1 55 1-7 1-40 1 1 1-8 1 7 1 32 1-10 1-35 1 29 1 24 1-41 1 2 1 1 1-5 1 37 1-4 1-33 1 7 1 10 1-16 1 17 1 12 1-23 1 2 1 14 1-4 1-13 1-4 1 8 1 15 1 1 1-12 1 7 1-6 1-21 1 7 1 9 1 16 1 17 1-20 1-31 1 2 1 24 1 0 1-5 1 16 1-3 1-23 1-7 1 15 1 4 1 5 1 11 1-17 1-4 1-3 1-6 1 19 1-4 1-9 1 22 1 9 1-34 1-21 1 22 1 20 1 5 1 0 1-25 1-17 1 27 1 17 1-14 1-10 1 6 1-7 1-1 1 25 1-14 1-12 1 15 1-10 1-7 1 21 1 10 1-36 1 1 1 28 1-17 1 6 1 15 1-28 1-8 1 28 1 10 1-24 1-9 1 16 1-2 1 2 1-5 1 13 1 8 1-41 1 6 1 32 1-8 1-22 1 14 1 17 1 2 1-14 1-36 1 2 1 28 1 44 1 1 1-64 1-21 1 38 1 15 1-14 1 24 1-10 1-28 1 5 1 10 1 12 1 1 1 0 1-27 1-8 1 27 1 9 1 0 1-4 1-5 1-23 1-2 1 30 1 6 1-9 1 11 1-10 1-37 1 10 1 38 1 2 1-27 1 4 1 13 1-7 1 2 1-21 1-2 1 32 1 13 1-23 1-26 1 20 1 8 1-7 1 11 1-6 1-16 1 7 1 18 1-13 1 6 1 1 1-23 1 10 1 15 1 1 1-9 1 5 1-6 1-18 1 14 1 19 1-3 1-18 1 7 1 1 1-13 1 18 1 1 1-23 1 15 1 23 1-24 1-4 1 8 1-15 1 18 1 0 1-22 1 36 1 9 1-53 1-2 1 38 1 5 1-13 1-5 1-8 1 9 1 6 1-13 1 13 1 10 1-19 1-8 1 8 1 7 1 2 1 1 1-6 1-11 1-1 1 23 1 8 1-23 1-13 1 17 1 11 1-16 1-3 1 21 1 0 1-33 1 6 1 32 1-4 1-15 1-16 1 0 1 24 1 19 1-23 1-19 1 17 1-1 1 1 1-3 1-6 1 9 1 13 1-5 1-16 1 1 1-1 1 0 1 10 1 13 1-11 1-12 1 3 1 4 1 2 1-18 1 19 1 23 1-30 1-7 1 17 1-17 1 0 1 32 1-17 1-18 1 31 1-7 1-44 1 23 1 31 1-13 1 4 1-18 1-12 1 31 1-8 1-25 1 38 1-6 1-42 1 43 1 11 1-29 1-7 1 0 1 9 1 24 1-3 1-23 1 1 1-19 1 15 1 36 1-13 1-22 1 3 1-3 1-5 1 31 1-8 1-26 1 14 1 16 1-12 1-15 1 15 1 1 1-9 1 7 1 10 1-8 1-8 1 3 1-4 1-5 1 18 1 15 1-24 1-14 1 8 1 17 1-1 1-18 1 9 1 9 1-1 1-15 1 4 1 7 1-10 1 6 1 12 1-9 1-9 1 21 1-20 1-19 1 40 1-7 1-21 1 28 1-1 1-29 1 7 1 3 1 3 1 18 1-14 1-13 1 20 1-3 1-20 1 16 1 4 1-21 1 17 1 9 1-5 1-2 1-22 1 15 1 15 1-23 1 12 1 24 1-33 1-22 1 41 1 1 1-11 1 2 1-13 1 9 1 3 1 0 1 4 1-8 1-10 1 12 1 16 1-13 1-10 1-2 1 8 1 0 1 6 1 5 1-10 1-1 1-7 1-1 1 12 1 11 1-3 1-16 1-2 1-1 1-10 1 26 1 23 1-36 1 2 1 22 1-47 1-7 1 57 1 0 1-28 1 24 1-14 1-35 1 29 1 4 1-12 1 31 1-6 1-34 1 15 1 14 1-12 1 1 1-6 1-5 1 26 1 5 1-28 1-3 1 10 1 12 1-5 1-17 1 7 1 7 1 9 1-2 1-17 1-2 1 9 1 1 1 0 1 12 1-7 1-8 1-1 1-13 1 15 1 15 1-5 1-7 1-5 1 2 1-3 1 9 1-8 1-5 1 22 1-13 1 2 1 9 1-20 1-2 1 5 1 11 1 1 1-3 1-2 1 2 1-5 1-8 1 7 1 9 1 0 1-14 1 12 1 4 1-12 1 0 1-2 1 15 1-12 1-6 1 18 1 10 1-20 1-33 1 28 1 20 1-6 1 16 1-21 1-36 1 18 1 27 1-11 1 6 1 15 1-28 1-9 1 8 1-4 1 29 1 2 1-28 1-16 1 19 1 27 1-12 1-10 1-19 1 13 1 13 1-8 1 10 1-10 1 3 1 0 1-17 1 7 1 22 1-7 1-19 1 22 1-1 1-24 1 6 1 11 1 3 1-1 1-1 1 2 1-11 1-10 1 26 1 0 1-20 1 17 1-6 1-9 1 11 1-3 1 0 1 7 1-9 1-8 1 16 1-1 1-11 1 6 1-3 1 14 1-2 1-22 1 3 1 14 1 3 1-11 1 10 1 4 1-21 1 0 1 19 1-4 1-16 1 21 1 12 1-47 1 4 1 54 1-22 1-22 1 11 1-8 1 6 1 13 1-5 1-12 1 11 1-3 1-5 1 10 1-13 1 1 1 7 1 5 1-3 1 3 1-2 1-22 1 9 1 19 1 4 1-22 1-8 1 28 1 0 1-10 1-6 1-15 1 3 1 38 1 10 1-41 1-14 1 17 1 14 1-3 1-5 1 2 1-1 1 1 1 0 1-8 1-8 1 19 1 9 1-12 1-7 1 0 1 8 1-7 1-1 1 13 1-1 1-19 1 13 1 12 1-20 1 6 1 0 1-4 1 8 1-4 1 1 1 10 1-2 1-21 1-1 1 16 1 9 1-8 1-5 1 12 1-6 1-29 1 9 1 33 1 3 1-14 1-19 1 0 1 17 1 9 1-19 1-10 1 31 1-9 1-16 1 24 1-10 1-30 1 22 1 20 1-12 1-1 1-2 1-10 1-4 1 17 1 12 1-7 1-15 1-11 1 13 1 11 1-1 1 5 1-11 1-20 1 21 1 2 1 0 1 12 1-32 1 9 1 24 1-16 1-9 1 14 1-9 1 2 1 23 1-24 1-18 1 11 1 22 1 5 1-18 1-2 1 4 1-15 1-2 1 35 1 1 1-30 1-3 1 18 1-4 1-2 1 7 1-16 1 2 1 24 1 2 1-37 1-6 1 44 1-4 1-28 1 18 1 0 1-27 1 25 1 15 1-25 1 10 1 4 1-24 1 12 1 22 1-16 1-11 1 9 1 7 1-2 1-15 1 18 1 2 1-35" stroke="#ff0000" stroke-width="0.7" fill="none" vector-effect="non-scaling-stroke" stroke-linejoin="round"/>
<path d="M118 183.5H306M118 248.5H306" stroke="#555" stroke-width="1" fill="none"/>
<line x1="119" y1="183" x2="119" y2="249" stroke="#a0a0a0" stroke-width="2"/>
<line x1="305.5" y1="183.5" x2="305.5" y2="248.5" stroke="#666" stroke-width="1"/>
<line x1="118.7" y1="183.5" x2="120.2" y2="183.5" stroke="#444" stroke-width="0.8"/>
<text x="118" y="186.4" font-size="8.6" text-anchor="end">2</text>
<line x1="118.7" y1="199.8" x2="120.2" y2="199.8" stroke="#444" stroke-width="0.8"/>
<text x="118" y="202.7" font-size="8.6" text-anchor="end">1</text>
<line x1="118.7" y1="216" x2="120.2" y2="216" stroke="#444" stroke-width="0.8"/>
<text x="118" y="218.9" font-size="8.6" text-anchor="end">0</text>
<line x1="118.7" y1="232.2" x2="120.2" y2="232.2" stroke="#444" stroke-width="0.8"/>
<text x="118" y="235.2" font-size="8.6" text-anchor="end">-1</text>
<line x1="118.7" y1="248.5" x2="120.2" y2="248.5" stroke="#444" stroke-width="0.8"/>
<text x="118" y="251.4" font-size="8.6" text-anchor="end">-2</text>
<line x1="118.7" y1="248.5" x2="118.7" y2="247" stroke="#444" stroke-width="0.8"/>
<text x="118.7" y="255.9" font-size="8.6" text-anchor="middle">0</text>
<line x1="164.3" y1="248.5" x2="164.3" y2="247" stroke="#444" stroke-width="0.8"/>
<text x="164.3" y="255.9" font-size="8.6" text-anchor="middle">500</text>
<line x1="209.9" y1="248.5" x2="209.9" y2="247" stroke="#444" stroke-width="0.8"/>
<text x="209.9" y="255.9" font-size="8.6" text-anchor="middle">1000</text>
<line x1="255.5" y1="248.5" x2="255.5" y2="247" stroke="#444" stroke-width="0.8"/>
<text x="255.5" y="255.9" font-size="8.6" text-anchor="middle">1500</text>
<line x1="301.1" y1="248.5" x2="301.1" y2="247" stroke="#444" stroke-width="0.8"/>
<text x="301.1" y="255.9" font-size="8.6" text-anchor="middle">2000</text>
<polygon points="349.0,245.5 349.0,234.1 349.5,235.9 350.0,231.2 350.5,227.9 351.0,236.5 351.5,234.6 352.0,234.5 352.5,233.7 353.0,230.1 353.5,235.8 354.0,238.2 354.5,232.4 355.0,236.1 355.5,237.9 356.0,236.0 356.5,235.0 357.0,237.7 357.5,239.1 358.0,236.5 358.5,238.3 359.0,239.2 359.5,234.2 360.0,236.0 360.5,239.5 361.0,238.2 361.5,238.0 362.0,238.4 362.5,240.7 363.0,238.4 363.5,237.7 364.0,238.7 364.6,239.8 365.1,240.6 365.6,238.4 366.1,238.3 366.6,237.7 367.1,240.0 367.6,238.3 368.1,240.9 368.6,239.9 369.1,238.6 369.6,241.3 370.1,237.9 370.6,241.5 371.1,237.9 371.6,238.9 372.1,240.2 372.6,239.6 373.1,239.0 373.6,240.6 374.1,241.9 374.6,239.9 375.1,240.0 375.6,241.7 376.1,238.4 376.6,239.5 377.1,242.0 377.6,241.1 378.1,240.2 378.6,240.9 379.1,239.9 379.6,238.5 380.1,240.1 380.6,239.9 381.1,240.5 381.6,241.2 382.1,239.2 382.6,241.9 383.1,240.2 383.6,240.9 384.1,241.7 384.6,239.8 385.1,238.4 385.6,241.2 386.1,241.5 386.6,239.0 387.1,240.6 387.6,239.9 388.1,241.3 388.6,240.3 389.1,238.9 389.6,240.4 390.1,239.9 390.6,240.2 391.1,238.5 391.6,240.9 392.1,241.3 392.6,238.6 393.1,240.1 393.6,239.6 394.1,238.9 394.6,241.6 395.1,238.8 395.7,241.7 396.2,239.2 396.7,240.9 397.2,239.1 397.7,238.9 398.2,239.6 398.7,242.0 399.2,238.9 399.7,239.2 400.2,238.6 400.7,240.7 401.2,240.8 401.7,239.3 402.2,241.4 402.7,241.2 403.2,240.4 403.7,240.7 404.2,241.5 404.7,239.0 405.2,241.3 405.7,240.6 406.2,239.9 406.7,239.0 407.2,238.6 407.7,241.0 408.2,240.6 408.7,241.5 409.2,241.7 409.7,239.6 410.2,241.3 410.7,241.0 411.2,240.2 411.7,240.0 412.2,240.2 412.7,239.9 413.2,241.1 413.7,239.7 414.2,241.1 414.7,242.1 415.2,242.0 415.7,240.4 416.2,240.9 416.7,240.7 417.2,242.1 417.7,240.4 418.2,240.0 418.7,241.7 419.2,240.7 419.7,240.4 420.2,242.3 420.7,239.7 421.2,239.6 421.7,241.1 422.2,240.5 422.7,241.1 423.2,241.4 423.7,239.8 424.2,239.6 424.7,242.0 425.2,240.9 425.7,240.3 426.2,240.9 426.8,240.4 427.3,241.3 427.8,241.4 428.3,240.1 428.8,241.6 429.3,240.7 429.8,241.8 430.3,241.3 430.8,240.1 431.3,241.9 431.8,240.2 432.3,241.6 432.8,239.7 433.3,240.4 433.8,242.1 434.3,240.8 434.8,240.4 435.3,239.6 435.8,240.3 436.3,242.1 436.8,240.1 437.3,240.7 437.8,242.2 438.3,242.6 438.8,241.5 439.3,242.0 439.8,242.0 440.3,241.9 440.8,240.3 441.3,240.5 441.8,242.8 442.3,240.8 442.8,240.4 443.3,241.6 443.8,241.9 444.3,240.8 444.8,243.0 445.3,243.0 445.8,241.5 446.3,240.9 446.8,241.6 447.3,241.8 447.8,242.4 448.3,241.3 448.8,241.4 449.3,241.2 449.8,242.9 450.3,242.5 450.8,242.6 451.3,241.9 451.8,242.9 452.3,241.7 452.8,241.6 453.3,242.7 453.8,242.2 454.3,243.4 454.8,242.1 455.3,241.6 455.8,242.5 456.3,241.8 456.8,242.8 457.3,242.2 457.9,242.7 458.4,242.4 458.9,242.3 459.4,243.1 459.9,242.3 460.4,243.1 460.9,242.9 461.4,242.1 461.9,241.9 462.4,242.8 462.9,243.1 463.4,243.0 463.9,242.0 464.4,243.5 464.9,242.6 465.4,242.2 465.9,242.9 466.4,242.5 466.9,243.4 467.4,242.2 467.9,242.6 468.4,242.1 468.9,243.0 469.4,243.3 469.9,242.6 470.4,243.0 470.9,242.2 471.4,242.7 471.9,242.9 472.4,242.8 472.9,242.9 473.4,243.0 473.9,243.1 474.4,243.3 474.9,243.7 475.4,242.5 475.9,243.6 476.4,243.4 476.9,243.6 477.4,243.5 477.9,243.7 478.4,243.5 478.9,242.5 479.4,243.1 479.9,243.0 480.4,242.6 480.9,243.7 481.4,242.5 481.9,244.0 482.4,243.5 482.9,243.5 483.4,243.4 483.4,245.5" fill="#0000ff"/>
<line x1="349" y1="245.50" x2="483.4" y2="245.50" stroke="#0000ff" stroke-width="0.9"/>
<path d="M351.3 245.5V204.3M354.4 245.5V218.7M361.1 245.5V228.0M365.1 245.5V225.9M400.7 245.5V236.2M445.6 245.5V234.6M392.2 245.5V236.8" stroke="#70f070" stroke-width="1.7"/>
<polygon points="349.0,245.5 349.0,235.6 349.5,235.3 350.0,231.6 350.5,231.1 351.0,235.1 351.5,231.8 352.0,231.9 352.5,234.6 353.0,233.4 353.5,233.7 354.0,234.1 354.5,235.7 355.0,238.1 355.5,235.7 356.0,239.1 356.5,236.3 357.0,235.7 357.5,239.0 358.0,239.3 358.5,237.3 359.0,239.1 359.5,239.4 360.0,240.7 360.5,239.2 361.0,237.9 361.5,241.1 362.0,241.0 362.5,240.1 363.0,238.4 363.5,238.7 364.0,239.6 364.5,241.0 365.0,239.6 365.5,240.3 366.0,240.6 366.5,239.7 367.0,241.6 367.5,241.0 368.0,242.0 368.5,240.8 369.0,241.7 369.5,242.4 370.0,240.5 370.5,242.3 371.0,242.5 371.5,241.5 372.0,240.8 372.6,241.9 373.1,242.2 373.6,241.3 374.1,241.7 374.6,242.3 375.1,240.9 375.6,241.7 376.1,241.5 376.6,241.4 377.1,242.7 377.6,240.8 378.1,242.5 378.6,241.5 379.1,242.4 379.6,241.6 380.1,242.3 380.6,242.2 381.1,241.2 381.6,242.6 382.1,241.4 382.6,240.6 383.1,240.9 383.6,242.4 384.1,241.2 384.6,241.5 385.1,242.5 385.6,241.1 386.1,240.7 386.6,242.2 387.1,241.7 387.6,242.2 388.1,242.7 388.6,242.6 389.1,241.8 389.6,242.0 390.1,242.5 390.6,240.9 391.1,240.9 391.6,241.5 392.1,242.5 392.6,241.8 393.1,240.9 393.6,242.4 394.1,242.0 394.6,241.9 395.1,242.7 395.6,241.4 396.1,242.2 396.6,242.4 397.1,242.6 397.6,240.7 398.1,240.9 398.6,240.6 399.1,242.5 399.6,241.1 400.1,242.5 400.6,241.2 401.1,242.8 401.6,242.9 402.1,242.9 402.6,241.5 403.1,242.3 403.6,241.8 404.1,242.8 404.6,242.3 405.1,242.8 405.6,242.7 406.1,242.4 406.6,241.2 407.1,240.9 407.6,242.8 408.1,241.8 408.6,241.5 409.1,242.1 409.6,241.9 410.1,242.5 410.6,241.9 411.1,242.9 411.6,241.2 412.1,242.7 412.6,242.9 413.1,242.7 413.6,241.9 414.1,241.6 414.6,242.6 415.1,241.5 415.6,243.0 416.1,241.0 416.6,242.5 417.1,241.0 417.6,242.8 418.1,242.4 418.6,241.0 419.2,241.0 419.7,242.2 420.2,241.8 420.7,241.5 421.2,241.5 421.7,241.7 422.2,241.8 422.7,241.3 423.2,243.1 423.7,241.3 424.2,242.6 424.7,242.0 425.2,241.2 425.7,242.9 426.2,241.6 426.7,242.5 427.2,241.8 427.7,242.1 428.2,241.7 428.7,242.7 429.2,242.6 429.7,241.3 430.2,242.4 430.7,243.1 431.2,241.9 431.7,241.8 432.2,243.1 432.7,242.9 433.2,243.1 433.7,241.3 434.2,243.0 434.7,241.9 435.2,242.1 435.7,243.1 436.2,241.9 436.7,242.9 437.2,243.2 437.7,241.5 438.2,241.7 438.7,242.2 439.2,241.4 439.7,242.0 440.2,242.8 440.7,241.9 441.2,242.7 441.7,242.3 442.2,242.3 442.7,241.5 443.2,243.1 443.7,241.9 444.2,242.1 444.7,242.3 445.2,243.2 445.7,241.5 446.2,241.7 446.7,242.9 447.2,242.6 447.7,242.7 448.2,242.6 448.7,241.6 449.2,242.0 449.7,243.3 450.2,243.3 450.7,242.7 451.2,243.4 451.7,242.4 452.2,242.9 452.7,242.2 453.2,243.1 453.7,243.5 454.2,243.3 454.7,243.0 455.2,242.7 455.7,242.2 456.2,242.3 456.7,242.3 457.2,243.4 457.7,242.6 458.2,243.1 458.7,243.4 459.2,243.5 459.7,243.2 460.2,242.4 460.7,242.4 461.2,243.4 461.7,243.0 462.2,242.5 462.7,242.9 463.2,243.4 463.7,242.3 464.2,243.4 464.7,243.3 465.2,243.8 465.8,242.7 466.3,242.6 466.8,242.5 467.3,243.0 467.8,243.8 468.3,242.7 468.8,242.8 469.3,242.8 469.8,242.6 470.3,243.7 470.8,243.4 471.3,243.6 471.8,243.8 472.3,243.8 472.8,243.2 473.3,243.7 473.8,243.9 474.3,243.9 474.8,243.5 475.3,243.4 475.8,243.6 476.3,244.0 476.8,243.7 477.3,243.5 477.8,243.6 478.3,244.0 478.8,243.9 479.3,243.7 479.8,243.7 480.3,244.1 480.8,243.4 481.3,244.1 481.8,243.8 482.3,243.7 482.8,244.1 483.3,244.0 483.8,243.8 484.3,243.4 484.8,244.3 485.3,244.0 485.8,244.3 486.3,244.0 486.8,243.9 487.3,243.6 487.8,244.0 488.3,244.4 488.8,244.1 488.8,245.5" fill="#00ff00"/>
<line x1="349" y1="245.50" x2="488.8" y2="245.50" stroke="#00ff00" stroke-width="0.9"/>
<path d="M388.0 245.5V242.1M383.6 245.5V239.7M417.2 245.5V241.7M393.0 245.5V240.6M429.7 245.5V239.6M396.4 245.5V241.4M424.3 245.5V239.6M473.0 245.5V243.2M371.2 245.5V240.3M462.4 245.5V242.8M473.4 245.5V242.2M467.3 245.5V241.3M389.3 245.5V240.1M398.9 245.5V241.8M475.1 245.5V241.6M443.1 245.5V243.1M421.0 245.5V240.3M451.2 245.5V240.5M436.7 245.5V240.9M435.2 245.5V242.6M419.1 245.5V242.9M352.4 245.5V219.8M358.9 245.5V236.4M351.7 245.5V220.8M353.2 245.5V230.4M365.4 245.5V238.5M366.4 245.5V239.3M363.0 245.5V237.0M358.7 245.5V236.7M366.8 245.5V237.6M353.9 245.5V228.6M356.7 245.5V236.7M362.5 245.5V238.2M357.2 245.5V236.7M354.8 245.5V224.6M361.0 245.5V238.4M358.1 245.5V232.7M358.5 245.5V236.3M350.3 245.5V217.9M352.3 245.5V225.5M353.2 245.5V221.1M349.8 245.5V200.2M350.7 245.5V208.4M358.3 245.5V215.6M361.9 245.5V230.3M398.7 245.5V233.1M402.4 245.5V237.3M419.6 245.5V238.3M421.0 245.5V238.3M439.4 245.5V234.0M445.6 245.5V236.0M443.6 245.5V237.1M450.7 245.5V240.3M468.7 245.5V240.8M385.7 245.5V239.3M411.1 245.5V239.3M428.1 245.5V239.7" stroke="#ff8c8c" stroke-width="1.7"/>
<path d="M382.8 245.5V238.6M470.2 245.5V240.7M460.8 245.5V240.5M422.5 245.5V239.5M358.1 245.5V237.5M358.2 245.5V231.2M353.4 245.5V229.1M362.2 245.5V235.4M352.5 245.5V223.0M364.4 245.5V239.7M353.2 245.5V229.4M358.5 245.5V231.7M368.6 245.5V241.8M362.3 245.5V236.3M351.9 245.5V226.2M361.1 245.5V232.4M359.5 245.5V234.2M367.7 245.5V236.6M360.4 245.5V234.7M360.3 245.5V235.8M361.8 245.5V233.5M357.9 245.5V231.3M360.2 245.5V234.2M368.6 245.5V241.7M349.3 245.5V194.2M354.6 245.5V218.7M358.3 245.5V225.7M366.2 245.5V227.0M378.7 245.5V234.6" stroke="#ff0000" stroke-width="1.3"/>
<path d="M352.6 245.5V190.7" stroke="#ff0000" stroke-width="1.9"/>
<polygon points="349.0,245.5 349.0,231.7 349.5,233.0 350.0,233.1 350.5,235.5 351.0,233.9 351.5,233.4 352.0,235.5 352.5,236.4 353.0,233.2 353.5,235.8 354.0,237.2 354.5,238.5 355.0,237.0 355.5,236.3 356.0,239.5 356.5,237.5 357.0,236.2 357.5,238.7 358.0,236.2 358.5,237.1 359.0,240.3 359.5,236.8 360.0,240.4 360.5,239.6 361.0,236.3 361.5,238.2 362.0,236.9 362.5,239.0 363.0,239.7 363.5,237.0 364.0,236.7 364.5,239.9 365.0,240.2 365.6,237.9 366.1,239.2 366.6,239.3 367.1,239.0 367.6,241.0 368.1,241.5 368.6,241.7 369.1,241.2 369.6,241.3 370.1,242.2 370.6,241.7 371.1,241.8 371.6,241.7 372.1,240.4 372.6,240.5 373.1,240.7 373.6,241.6 374.1,241.2 374.6,242.2 375.1,241.7 375.6,241.1 376.1,241.2 376.6,242.2 377.1,240.9 377.6,241.5 378.1,241.4 378.6,242.0 379.1,241.3 379.6,242.1 380.1,241.1 380.6,241.6 381.1,242.0 381.6,240.7 382.1,241.9 382.6,240.9 383.1,241.4 383.6,241.1 384.1,240.9 384.6,242.7 385.1,242.7 385.6,242.1 386.1,241.0 386.6,242.1 387.1,242.0 387.6,241.0 388.1,241.1 388.6,241.3 389.1,241.4 389.6,240.9 390.1,242.2 390.6,241.2 391.1,241.7 391.6,241.3 392.1,240.5 392.6,242.2 393.1,241.5 393.6,242.3 394.1,241.9 394.6,241.0 395.1,242.6 395.6,241.1 396.1,242.1 396.6,241.7 397.1,242.5 397.6,241.8 398.1,242.0 398.7,241.5 399.2,241.5 399.7,241.4 400.2,240.5 400.7,241.7 401.2,242.0 401.7,241.7 402.2,241.6 402.7,242.1 403.2,242.4 403.7,242.0 404.2,240.7 404.7,240.5 405.2,242.0 405.7,240.7 406.2,242.4 406.7,241.5 407.2,242.6 407.7,242.4 408.2,242.4 408.7,241.3 409.2,242.5 409.7,240.5 410.2,242.5 410.7,240.5 411.2,241.8 411.7,241.5 412.2,242.7 412.7,240.5 413.2,242.6 413.7,242.5 414.2,241.0 414.7,242.4 415.2,240.4 415.7,240.9 416.2,241.2 416.7,242.4 417.2,241.3 417.7,241.8 418.2,242.3 418.7,241.3 419.2,240.5 419.7,240.8 420.2,240.4 420.7,242.3 421.2,240.2 421.7,240.6 422.2,240.3 422.7,240.8 423.2,241.2 423.7,241.0 424.2,240.5 424.7,242.0 425.2,242.4 425.7,240.6 426.2,242.2 426.7,241.5 427.2,240.4 427.7,242.5 428.2,241.6 428.7,241.2 429.2,240.6 429.7,240.5 430.2,240.5 430.7,242.3 431.3,242.3 431.8,242.1 432.3,241.1 432.8,240.6 433.3,240.3 433.8,242.6 434.3,242.2 434.8,241.5 435.3,240.2 435.8,241.3 436.3,241.0 436.8,241.3 437.3,242.6 437.8,240.3 438.3,240.6 438.8,240.3 439.3,241.8 439.8,240.2 440.3,240.2 440.8,240.4 441.3,242.2 441.8,241.5 442.3,241.6 442.8,241.3 443.3,241.0 443.8,242.2 444.3,241.2 444.8,241.8 445.3,240.2 445.8,242.2 446.3,242.0 446.8,241.8 447.3,241.7 447.8,241.9 448.3,240.3 448.8,241.1 449.3,242.3 449.8,242.2 450.3,241.3 450.8,242.2 451.3,240.7 451.8,240.8 452.3,242.3 452.8,241.1 453.3,241.2 453.8,242.4 454.3,242.4 454.8,242.2 455.3,243.0 455.8,241.6 456.3,242.3 456.8,243.3 457.3,243.0 457.8,242.8 458.3,243.1 458.8,243.3 459.3,243.2 459.8,242.7 460.3,242.2 460.8,243.1 461.3,242.8 461.8,243.0 462.3,242.8 462.8,242.5 463.3,242.7 463.9,243.6 464.4,242.8 464.9,243.2 465.4,243.7 465.9,243.6 466.4,242.7 466.9,243.1 467.4,243.7 467.9,244.0 468.4,243.1 468.9,243.2 469.4,243.7 469.9,243.4 470.4,243.4 470.9,244.0 471.4,243.8 471.9,243.5 472.4,243.4 472.9,243.7 473.4,243.6 473.9,243.3 474.4,243.5 474.9,244.0 475.4,243.7 475.9,244.0 476.4,244.0 476.9,244.1 477.4,244.3 477.9,244.2 478.4,244.2 478.9,244.3 479.4,244.3 479.9,243.8 480.4,243.8 480.9,244.0 481.4,244.1 481.9,244.2 482.4,244.2 482.9,244.0 483.4,244.0 483.9,244.5 484.4,244.0 484.9,244.7 485.4,244.4 485.9,244.4 486.4,244.3 486.9,244.5 487.4,244.6 487.9,244.6 488.4,244.8 488.9,244.4 489.4,244.7 489.9,244.9 489.9,245.5" fill="#ff0000"/>
<line x1="349" y1="245.50" x2="489.9" y2="245.50" stroke="#ff0000" stroke-width="0.9"/>
<path d="M340 183.5H527M340 248.5H527" stroke="#555" stroke-width="1" fill="none"/>
<line x1="340.5" y1="183.5" x2="340.5" y2="248.5" stroke="#555" stroke-width="1"/>
<line x1="527" y1="183" x2="527" y2="249" stroke="#a8a8a8" stroke-width="2"/>
<line x1="349" y1="248.5" x2="349" y2="247" stroke="#444" stroke-width="0.8"/>
<text x="349" y="255.9" font-size="8.6" text-anchor="middle">0</text>
<line x1="377.2" y1="248.5" x2="377.2" y2="247" stroke="#444" stroke-width="0.8"/>
<text x="377.2" y="255.9" font-size="8.6" text-anchor="middle">1000</text>
<line x1="405.5" y1="248.5" x2="405.5" y2="247" stroke="#444" stroke-width="0.8"/>
<text x="405.5" y="255.9" font-size="8.6" text-anchor="middle">2000</text>
<line x1="433.7" y1="248.5" x2="433.7" y2="247" stroke="#444" stroke-width="0.8"/>
<text x="433.7" y="255.9" font-size="8.6" text-anchor="middle">3000</text>
<line x1="462" y1="248.5" x2="462" y2="247" stroke="#444" stroke-width="0.8"/>
<text x="462" y="255.9" font-size="8.6" text-anchor="middle">4000</text>
<line x1="490.2" y1="248.5" x2="490.2" y2="247" stroke="#444" stroke-width="0.8"/>
<text x="490.2" y="255.9" font-size="8.6" text-anchor="middle">5000</text>
<line x1="518.5" y1="248.5" x2="518.5" y2="247" stroke="#444" stroke-width="0.8"/>
<text x="518.5" y="255.9" font-size="8.6" text-anchor="middle">6000</text>
<path transform="translate(118.7 306) scale(0.09121 0.04063)" d="M0 -37l1-111 1-59 1 97 1 248 1-51 1 10 1-61 1 119 1-63 1 44 1 17 1-319 1 154 1-102 1-21 1-18 1 165 1 239 1-306 1 64 1 166 1 97 1-398 1 5 1-9 1-24 1 18 1 83 1 13 1-83 1 45 1 49 1-48 1 124 1 43 1-292 1-28 1 108 1 199 1-71 1-143 1 83 1 81 1-212 1 168 1 0 1-2 1 81 1-163 1 267 1-187 1-56 1-88 1 85 1 184 1-203 1 14 1 79 1 64 1 51 1-100 1-38 1-264 1 227 1 40 1 208 1-59 1-69 1-40 1 3 1-139 1-60 1 33 1 213 1-20 1 30 1 55 1-10 1-158 1 135 1-161 1 100 1 27 1-77 1-19 1-283 1 388 1-109 1 170 1-104 1-196 1 93 1-135 1 381 1-80 1-99 1 119 1-52 1 76 1-209 1 109 1-38 1 137 1-87 1-226 1 93 1 71 1 90 1-53 1-32 1-205 1 181 1 57 1-3 1 83 1-140 1 149 1-26 1-36 1-277 1 45 1 198 1-119 1 61 1-50 1 85 1-79 1-108 1 180 1-119 1 158 1-107 1 180 1-173 1 159 1-24 1-96 1-214 1 215 1-102 1 55 1 96 1 94 1-25 1 97 1-217 1 53 1-29 1-42 1-159 1 246 1-73 1-33 1-24 1 107 1-167 1 202 1-65 1 200 1-209 1 42 1 33 1 32 1-145 1-30 1-166 1 339 1-152 1-21 1-69 1 230 1 5 1-106 1 58 1-22 1 103 1-115 1-130 1 121 1-25 1-39 1-5 1 39 1 202 1-37 1-254 1 226 1-86 1-125 1 208 1 112 1-124 1-149 1-10 1-67 1-81 1 362 1 365 1-133 1-516 1 141 1-381 1 538 1 127 1 222 1-271 1-419 1-92 1 256 1-87 1 295 1 50 1-151 1 45 1-93 1-61 1 68 1 102 1-34 1 17 1-37 1-25 1-195 1 174 1-177 1 310 1 88 1-230 1 43 1-262 1 215 1-71 1 43 1-88 1-6 1 260 1 27 1-138 1-123 1-1 1 155 1-267 1 223 1-182 1 138 1 138 1-95 1-149 1 5 1 119 1-211 1 177 1-63 1 4 1 104 1 108 1-145 1 18 1 47 1-77 1 44 1-152 1 28 1 145 1-204 1 172 1 150 1-53 1-88 1-95 1 130 1-174 1-98 1 321 1-127 1 116 1-225 1 309 1-287 1 149 1-59 1-29 1 95 1 26 1-292 1 150 1 41 1-121 1 222 1-164 1 115 1 139 1-94 1-87 1 93 1-1 1-152 1 80 1 50 1 97 1-228 1-42 1 113 1-57 1 78 1-148 1 22 1 92 1-79 1 91 1-177 1 57 1 145 1-148 1 93 1 43 1-48 1 81 1-94 1 85 1-34 1-229 1 482 1-203 1-198 1 209 1 76 1-253 1-57 1 195 1-63 1 92 1 57 1-175 1-18 1 74 1 134 1-124 1 65 1-18 1-73 1 36 1 152 1-243 1 119 1-6 1 90 1-36 1 82 1-146 1 62 1-39 1-159 1 208 1-162 1 178 1-104 1 162 1-172 1-39 1 392 1-235 1-135 1 10 1 72 1-41 1-60 1 26 1 201 1-243 1 167 1-97 1-15 1 42 1-162 1 50 1 26 1-126 1 237 1-26 1-109 1 97 1 81 1-145 1-25 1 189 1-201 1 154 1-58 1-38 1-130 1 138 1-82 1 127 1-49 1 112 1-219 1 114 1 64 1-169 1 13 1 52 1 40 1-15 1-29 1 47 1 61 1-85 1 78 1-177 1 144 1-11 1 180 1-133 1-40 1 164 1-102 1 20 1-84 1-89 1 290 1-241 1-91 1 8 1 139 1 153 1-230 1 57 1-58 1-23 1 85 1 132 1-58 1 96 1-190 1 52 1 176 1 25 1-267 1 176 1 35 1-280 1 121 1 45 1-45 1-131 1 135 1-161 1 72 1 77 1-90 1 218 1 17 1-97 1-171 1 217 1-54 1 37 1-92 1 77 1-140 1 136 1-72 1-83 1 209 1 35 1-23 1 51 1-291 1 101 1-84 1 159 1-42 1-127 1 41 1-80 1 180 1 166 1-97 1-3 1-69 1 54 1 37 1-42 1 86 1-166 1 12 1-66 1-89 1 153 1-205 1 238 1 22 1-4 1 31 1-218 1 355 1-251 1-10 1 18 1 25 1-95 1-62 1 193 1-42 1-124 1 311 1-304 1 205 1-42 1-152 1 17 1 82 1 69 1 17 1-96 1-68 1-29 1 73 1 2 1-89 1 171 1-35 1-43 1 46 1-104 1 115 1 4 1-280 1 349 1-168 1 23 1 100 1-100 1 178 1-9 1-234 1 340 1 125 1 1 1-142 1-380 1-21 1-269 1 439 1 279 1 263 1-158 1-665 1 68 1-48 1-14 1 250 1 595 1-329 1-278 1 56 1-72 1-52 1 155 1 120 1 105 1-133 1-93 1-102 1-146 1 223 1 291 1-75 1-258 1 142 1-73 1-159 1-155 1 490 1-326 1 87 1 52 1 164 1-62 1-233 1 334 1-424 1 174 1 49 1 199 1-240 1-86 1 73 1-12 1 19 1-13 1-44 1-133 1 290 1-56 1-115 1 153 1 129 1-205 1 76 1-178 1-13 1 8 1-29 1 36 1 137 1 90 1-168 1-168 1 150 1-100 1 83 1 61 1 169 1-146 1-123 1 130 1 1 1 108 1 30 1-71 1 98 1-257 1-76 1 305 1-206 1 50 1 79 1-62 1-178 1 196 1-74 1 126 1-59 1 228 1-228 1-70 1 238 1-163 1 223 1-282 1 94 1-80 1 232 1-206 1-1 1 152 1-248 1-99 1 221 1 63 1-130 1-175 1 268 1 88 1-119 1 93 1-104 1 127 1-4 1-313 1 150 1 118 1-14 1-233 1 225 1-156 1 56 1-55 1 37 1 132 1 24 1-97 1 39 1-136 1 135 1 131 1-131 1-229 1 356 1-140 1-91 1-83 1 123 1-162 1 207 1-72 1 73 1 154 1-190 1 265 1-432 1-50 1 117 1 222 1-75 1-100 1-72 1 167 1 19 1-72 1-122 1 203 1-212 1 152 1 71 1-33 1 45 1-106 1 43 1 57 1-105 1 94 1-64 1-102 1 22 1 98 1-14 1 2 1 323 1-270 1-11 1-118 1-51 1 180 1 33 1 34 1-191 1-5 1 141 1-180 1 7 1 125 1 22 1 21 1-55 1 226 1-55 1-154 1-49 1-87 1 352 1-402 1 354 1-227 1 34 1 145 1-198 1 74 1 21 1-50 1 137 1-5 1 86 1-249 1-16 1 141 1 23 1-96 1 89 1-154 1-25 1 226 1-145 1 60 1-139 1 291 1-334 1 136 1-29 1 53 1 159 1-216 1-63 1 5 1 80 1 122 1 14 1-224 1 123 1-41 1 51 1 28 1-123 1 175 1-238 1 67 1-40 1 18 1-72 1 150 1-87 1 31 1 16 1 39 1 122 1-256 1-67 1 136 1-85 1 139 1 137 1-319 1 207 1 75 1-158 1 161 1-189 1-3 1 103 1-75 1 172 1-233 1 126 1 113 1-131 1 23 1-51 1-46 1 47 1 47 1 5 1-2 1-106 1 250 1-227 1 36 1 220 1-149 1-47 1-124 1 123 1 67 1-98 1-8 1-9 1-229 1 263 1 185 1-272 1 187 1-286 1 142 1 81 1-19 1-19 1-100 1 50 1 56 1 108 1-134 1-48 1 75 1 31 1 85 1-305 1 210 1-12 1 6 1 67 1 18 1-347 1 353 1-42 1 92 1-129 1-58 1 82 1-214 1 78 1 175 1 25 1-309 1 246 1-13 1-164 1 33 1 118 1-38 1 5 1 15 1 66 1-173 1 66 1 7 1 73 1 69 1-210 1 93 1 88 1-95 1 204 1-176 1-116 1 67 1 82 1-24 1 15 1-25 1-10 1 158 1-22 1-109 1-35 1-79 1 43 1 11 1 150 1-172 1 243 1-128 1-71 1 104 1-212 1-8 1 252 1 3 1-144 1 28 1-226 1 138 1-160 1 386 1-37 1-34 1 57 1-6 1-310 1 144 1-50 1 19 1 69 1 83 1-158 1-91 1 347 1-319 1 53 1 139 1 67 1-107 1 24 1-103 1 82 1 131 1-140 1 50 1-176 1-1 1 83 1-66 1 103 1 14 1-241 1 399 1-286 1-89 1 78 1 191 1-190 1 113 1-38 1 89 1-15 1-141 1 213 1 31 1-32 1 36 1-193 1-113 1-26 1 409 1-133 1-140 1 0 1 58 1-125 1 39 1 132 1 169 1-91 1-221 1-247 1-77 1 199 1 604 1 111 1-372 1-144 1-310 1-79 1 161 1 154 1 339 1 137 1-177 1-117 1-133 1-47 1-18 1 178 1 83 1 15 1-145 1-312 1 197 1 75 1 43 1 196 1-165 1-42 1-68 1-95 1 245 1-3 1-6 1 102 1-159 1 98 1-46 1-6 1-214 1 32 1 23 1 86 1-13 1 48 1-34 1-24 1-78 1 331 1-319 1-20 1 93 1-183 1 123 1 71 1 30 1-70 1 142 1-275 1 361 1-128 1-61 1 85 1 115 1-292 1 391 1-364 1 89 1-48 1-13 1 192 1-81 1 203 1-34 1-260 1-198 1 203 1 99 1-158 1 41 1-70 1-45 1 68 1 67 1 181 1-128 1 3 1 21 1-91 1 32 1 79 1-156 1 64 1 94 1-111 1 80 1-111 1-95 1 309 1-170 1 55 1-73 1-101 1-69 1 214 1 69 1-307 1 103 1 92 1-59 1 220 1-212 1 39 1 37 1 110 1-150 1-197 1 394 1-349 1 138 1-11 1 107 1-296 1 253 1 94 1-8 1-198 1-22 1 352 1-29 1-118 1 176 1-171 1 14 1-162 1-56 1 163 1-119 1 379 1-222 1 22 1-125 1 69 1-162 1 173 1-32 1 143 1-297 1 285 1-295 1 169 1-234 1 91 1 263 1-90 1 42 1-2 1-97 1-1 1 102 1 15 1-176 1 81 1 17 1-247 1 201 1 65 1-76 1-39 1 2 1 62 1 134 1-162 1-169 1 214 1-9 1 108 1-53 1-27 1 87 1-161 1 122 1 84 1-18 1-127 1 265 1-454 1 79 1 68 1 132 1 19 1-59 1-248 1 123 1-38 1-21 1 246 1 71 1-161 1 98 1-176 1 60 1-19 1 47 1 47 1-165 1 167 1-104 1 184 1-56 1-38 1-194 1-81 1 164 1-67 1 86 1-166 1 333 1-129 1-68 1-85 1 179 1 42 1-80 1 61 1 57 1 40 1-77 1-168 1 27 1 35 1-23 1 92 1-189 1 253 1-57 1-58 1 208 1-232 1-184 1 204 1-71 1 151 1-55 1 103 1-35 1 130 1-370 1 17 1 102 1-9 1 18 1-33 1-41 1-46 1 156 1-11 1-115 1 86 1-43 1 34 1-55 1 127 1-18 1 9 1-21 1-134 1 119 1-78 1 0 1-9 1-126 1 241 1 62 1-13 1-61 1-124 1 172 1-87 1 55 1 96 1 5 1-12 1-66 1-73 1 81 1-243 1 219 1 28 1 61 1-138 1-35 1-46 1 66 1 7 1 20 1-105 1 223 1 25 1-25 1-60 1-174 1 89 1-43 1 15 1 87 1-187 1 243 1-109 1 49 1 72 1-52 1-78 1-39 1-76 1 287 1-74 1-164 1 75 1-39 1 274 1-260 1 51 1-4 1-79 1 94 1 126 1-80 1 55 1-336 1 420 1-229 1 174 1-204 1 140 1 100 1-127 1-141 1-62 1-4 1-63 1 196 1-69 1-50 1 28 1 70 1 133 1-9 1 209 1-211 1-110 1-215 1 37 1 202 1 131 1-50 1 137 1-207 1-175 1-174 1 503 1-77 1 179 1-342 1 147 1-89 1-86 1 51 1 5 1 3 1-23 1 223 1-54 1-142 1 17 1-27 1 201 1-104 1 28 1-112 1 87 1-258 1 174 1 76 1-32 1-126 1 172 1 63 1-172 1 9 1 80 1-72 1-37 1 71 1-252 1 308 1-26 1 133 1-328 1 81 1 17 1 175 1-318 1-39 1 249 1 182 1-236 1 170 1-67 1-168 1 166 1-125 1 38 1-21 1-5 1 56 1 37 1 6 1 170 1-290 1 164 1-21 1 85 1-119 1 88 1-122 1 105 1-154 1 68 1-18 1 173 1-163 1 149 1-136 1 194 1-205 1 0 1-54 1 67 1-74 1 2 1 165 1-52 1 205 1-343 1-56 1 313 1-136 1-18 1 80 1-17 1-169 1 139 1-83 1 112 1 21 1-215 1 229 1-119 1-16 1 43 1-237 1 291 1-235 1 52 1-54 1 564 1-2 1 72 1-458 1-92 1-258 1 543 1-206 1 273 1-45 1-161 1-115 1-240 1 266 1 38 1 29 1 195 1-111 1-171 1-48 1 76 1-4 1 95 1 46 1-117 1 4 1-113 1-129 1 197 1-112 1 178 1 58 1-163 1 49 1 53 1-111 1 138 1-71 1-62 1 154 1-48 1 31 1 99 1-128 1 118 1 58 1-190 1 35 1-52 1 18 1-87 1-43 1 52 1 48 1-34 1 226 1-241 1 28 1 43 1 81 1-157 1-72 1 271 1-146 1 131 1 93 1-175 1-40 1 0 1 26 1-38 1-33 1 187 1 9 1-136 1-99 1-34 1 194 1 7 1-210 1 46 1 62 1 36 1-9 1 89 1-377 1 339 1 65 1-77 1-135 1 111 1 159 1-253 1 118 1-126 1 159 1-107 1-123 1 72 1-33 1 153 1-72 1 36 1 68 1-182 1 89 1 194 1-31 1-236 1 72 1 96 1-150 1 130 1-10 1-89 1-42 1-121 1 48 1 121 1 104 1-89 1 41 1-185 1 97 1 164 1 19 1-226 1-36 1 138 1 121 1-71 1-23 1 78 1 45 1-30 1-212 1 261 1-200 1 190 1 71 1-85 1-203 1-80 1 256 1 124 1-449 1 140 1-33 1 258 1-236 1 206 1-223 1 149 1 14 1 59 1-189 1 185 1 18 1-64 1-19 1 36 1-250 1 76 1 2 1 302 1-13 1-7 1-164 1-25 1-122 1 141 1-228 1 243 1-186 1 236 1 77 1-170 1-48 1 42 1-33 1-27 1 55 1 72 1-164 1 159 1-31 1 18 1 142 1-183 1 112 1-65 1 0 1-41 1-111 1 14 1 47 1-83 1 285 1-247 1-83 1 295 1-173 1 167 1-47 1-41 1-9 1 6 1 134 1-98 1-143 1 69 1-8 1 270 1-124 1-275 1-9 1 166 1 144 1-128 1-138 1 137 1-87 1 213 1-167 1-10 1 114 1-2 1-217 1 162 1 10 1-2 1-30 1 145 1-94 1-222 1 217 1-117 1 53 1 27 1-89 1-11 1 11 1 156 1-65 1-95 1 136 1-251 1 375 1-69 1 16 1-165 1 74 1-141 1 161 1 28 1-20 1-84 1-124 1 181 1-58 1 117 1-34 1-111 1-23 1 170 1-23 1-217 1 296 1-204 1 123 1-150 1-97 1 261 1-129 1 177 1-150 1-4 1 21 1-72 1 54 1-22 1 42 1 275 1-119 1-184 1-27 1 57 1-123 1 162 1 25 1-6 1-171 1 36 1-160 1 130 1-50 1 246 1-213 1 168 1-70 1 9 1-36 1 37 1 49 1 65 1-106 1-125 1 64 1 137 1-268 1 226 1 160 1-80 1 97 1-273 1 67 1 35 1-55 1 17 1-178 1 276 1-70 1-71 1-94 1 551 1-164 1-112 1-218 1-545 1 132 1 230 1 635 1-267 1 329 1-299 1-496 1 132 1 171 1 95 1 154 1-156 1 82 1-221 1-32 1-63 1 264 1 25 1 122 1 93 1-296 1-121 1-33 1 194 1-62 1 357 1-195 1-167 1-111 1-80 1 95 1 142 1-35 1-88 1 80 1-96 1-34 1 252 1-73 1-28 1 118 1-92 1-162 1 130 1 25 1 20 1-63 1 56 1 69 1-165 1 204 1-43 1-237 1 129 1-33 1 101 1 91 1-174 1 202 1-417 1 383 1-202 1 107 1 109 1-252 1 121 1 89 1 144 1-234 1-209 1 49 1 274 1-288 1 123 1-8 1-67 1 248 1-66 1-268 1 235 1-13 1 90 1-115 1-76 1-121 1 90 1 93 1 34 1-134 1 111 1 46 1 155 1-137 1-41 1 8 1-39 1-131 1 374 1-273 1 38 1 187 1-206 1 15 1 170 1-173 1-34 1 56 1-91 1 148 1-81 1 2 1-62 1 175 1-363 1 421 1-301 1 116 1-16 1-104 1 214 1 80 1-259 1-98 1-82 1 189 1 338 1-307 1-42 1 53 1-25 1-23 1 20 1 87 1 142 1-74 1-158 1-67 1-13 1 106 1 145 1-182 1 184 1-147 1 187 1-212 1-18 1 147 1-97 1-26 1 87 1-41 1 19 1 163 1-108 1-280 1 187 1 217 1-225 1-6 1 31 1-63 1-45 1-93 1 73 1 131 1 194 1-8 1-255 1 51 1 46 1-130 1 261 1-27 1-55 1-72 1 142 1-132 1 27 1-23 1 10 1 154 1-217 1-40 1 283 1-110 1-112 1-9 1 190 1-136 1 83 1-226 1 58 1-88 1 216 1-138 1 163 1-136 1 78 1 98 1-34 1-62 1-110 1 229 1-408 1 212 1 31 1-7 1 73 1-41 1-149 1 297 1-188 1-66 1-22 1 310 1-223 1 217 1-117 1-62 1-9 1 32 1-88 1-39 1 66 1 129 1-35 1-111 1-38 1 90 1 166 1-91 1-90 1 149 1-132 1 40 1-99 1-25 1 187 1-263 1-11 1 209 1-27 1 59 1 15 1 70 1 137 1-288 1-169 1 288 1-179 1 131 1-89 1 44 1-72 1-17 1-12 1-5 1-55 1 236 1-51 1-162 1 215 1-215 1 94 1-96 1 96 1 19 1-21" stroke="#0000ff" stroke-width="0.6" fill="none" vector-effect="non-scaling-stroke" stroke-linejoin="round"/>
<path transform="translate(118.7 306) scale(0.09121 0.04063)" d="M0 0l1 11 1-166 1 70 1 216 1-77 1-80 1-44 1 72 1 66 1-31 1-56 1-26 1 12 1 22 1 21 1-1 1-1 1-5 1-7 1 8 1 14 1-9 1-20 1 6 1 14 1-8 1-7 1 11 1 0 1-17 1-5 1 9 1 3 1 6 1 10 1 2 1 0 1 4 1-15 1-29 1 2 1 31 1 13 1-10 1-11 1-6 1-1 1 11 1 6 1-12 1-4 1 16 1 4 1-15 1-8 1 7 1 10 1 7 1-7 1-20 1-4 1 19 1 7 1-10 1 2 1 10 1-6 1-6 1 9 1 4 1-13 1-10 1 4 1 9 1 3 1-11 1-13 1 7 1 23 1 7 1-8 1 4 1 3 1-18 1-15 1 10 1 13 1-4 1-8 1-1 1 1 1 1 1 2 1 2 1 8 1 8 1-9 1-13 1 4 1 8 1-6 1-5 1 8 1 8 1-3 1-8 1-7 1-2 1 8 1 5 1-7 1-3 1 11 1 2 1-12 1-1 1 14 1 7 1-5 1-1 1-1 1-7 1-9 1-7 1-2 1 10 1 10 1-8 1-5 1 23 1 22 1-16 1-25 1 5 1 8 1-15 1-8 1 18 1 10 1-12 1-8 1 3 1-4 1-5 1 13 1 17 1 3 1-8 1-5 1 1 1-1 1-6 1-8 1 0 1 4 1-3 1-2 1 5 1 4 1-1 1 6 1 10 1-4 1-15 1 2 1 19 1 6 1-23 1-24 1 11 1 30 1-6 1-39 1-4 1 45 1 22 1-29 1-22 1 13 1 13 1-2 1-2 1-8 1-9 1 13 1 20 1-10 1-21 1 3 1 2 1-15 1 2 1 32 1 7 1-104 1 94 1 252 1 29 1-125 1-340 1-38 1-84 1 222 1 344 1 109 1-98 1-266 1-300 1-20 1 106 1 283 1 141 1 4 1-163 1-121 1-138 1 48 1 135 1 86 1 100 1-81 1-104 1-99 1 62 1 8 1 61 1 50 1-42 1-37 1-48 1 4 1 32 1 42 1 7 1 3 1-19 1-46 1-7 1 23 1 25 1 0 1 3 1 7 1-22 1-17 1-4 1-1 1 3 1 23 1 21 1 2 1-18 1-20 1-5 1 13 1 16 1-9 1-5 1 13 1 3 1-20 1-6 1 8 1 2 1 4 1 11 1-11 1-24 1 0 1 15 1 6 1 10 1 13 1-9 1-14 1 10 1 4 1-18 1-6 1 14 1-3 1-14 1 1 1 1 1-5 1 15 1 21 1-3 1-10 1 6 1-1 1-14 1 2 1 5 1-18 1-11 1 25 1 20 1-16 1-20 1 5 1 15 1 5 1-2 1-8 1-4 1 9 1 12 1-7 1-21 1-6 1 14 1 12 1-2 1-8 1-5 1-5 1 4 1 21 1 14 1-19 1-22 1 9 1 14 1-16 1-15 1 23 1 24 1-17 1-27 1 7 1 23 1 1 1-18 1-9 1 9 1 18 1 5 1-16 1-15 1 8 1 18 1 0 1-15 1-8 1 4 1 5 1 4 1 3 1-5 1-8 1-2 1 9 1 12 1 6 1-7 1-18 1-8 1 12 1 12 1-1 1-1 1 0 1-11 1-15 1 5 1 18 1 2 1-6 1 7 1 10 1-5 1-12 1-5 1-3 1-4 1 2 1 9 1 9 1 8 1 2 1-9 1-7 1 2 1-7 1-19 1 1 1 25 1 6 1-19 1 0 1 23 1 1 1-14 1 10 1 15 1-16 1-21 1 2 1-3 1-10 1 19 1 27 1-17 1-30 1 12 1 23 1-6 1-3 1 17 1-3 1-22 1 1 1 12 1-13 1-11 1 16 1 6 1-15 1 5 1 22 1-9 1-24 1 5 1 19 1 0 1-4 1 6 1-3 1-16 1-8 1 4 1 14 1 16 1-3 1-22 1 0 1 24 1-2 1-25 1-2 1 13 1-13 1-7 1 29 1 16 1-19 1-14 1 3 1-2 1 7 1 19 1-10 1-27 1 12 1 29 1-12 1-26 1 8 1 12 1-14 1-12 1 5 1 12 1 21 1 15 1-17 1-26 1 1 1 5 1-1 1 18 1 14 1-30 1-26 1 26 1 22 1-27 1-16 1 25 1 10 1-14 1 6 1 17 1-5 1-15 1-1 1 5 1-1 1-9 1-10 1 4 1 16 1 1 1-12 1 6 1 18 1-1 1-10 1-1 1-7 1-16 1 6 1 25 1 7 1-20 1-18 1 2 1 17 1 12 1-12 1-11 1 16 1 21 1-9 1-21 1-2 1 6 1-6 1-9 1 5 1 12 1 3 1-10 1-5 1 8 1 6 1-2 1 7 1 16 1-6 1-29 1-12 1 20 1 15 1-9 1-79 1 81 1 150 1 125 1-142 1-283 1-248 1-30 1 340 1 322 1 168 1-151 1-277 1-183 1-90 1 187 1 191 1 140 1-12 1-191 1-94 1-57 1 74 1 44 1 127 1 13 1-37 1-99 1-65 1-53 1 90 1 85 1 22 1-30 1-27 1-30 1-27 1 2 1 46 1 29 1-26 1-4 1-16 1-7 1 13 1 17 1 11 1-16 1 2 1-25 1-8 1 21 1 16 1-11 1-1 1 8 1 1 1-16 1 0 1 5 1-1 1 3 1 2 1-12 1-3 1 16 1 6 1-11 1 3 1 9 1-10 1-8 1 12 1-1 1-22 1 0 1 25 1 11 1-5 1-5 1-11 1-11 1 8 1 7 1-13 1 0 1 25 1 3 1-25 1-4 1 23 1 6 1-13 1-2 1 3 1-4 1 1 1 3 1-9 1-9 1 5 1 3 1-10 1 4 1 21 1 11 1-6 1-7 1 0 1 2 1 1 1-5 1-16 1-15 1 5 1 17 1 5 1-1 1 10 1 10 1-10 1-18 1-4 1 6 1 2 1 3 1 8 1 3 1-6 1-3 1 1 1-2 1 3 1 2 1-9 1-13 1 2 1 16 1 8 1-8 1-9 1 2 1 11 1 5 1-6 1-2 1 15 1 6 1-20 1-24 1-2 1 9 1 0 1 6 1 19 1 8 1-11 1-7 1 10 1 4 1-17 1-16 1 3 1 10 1 3 1 0 1 1 1 4 1 4 1 1 1 0 1 3 1 1 1-13 1-17 1 1 1 11 1-1 1-6 1 9 1 17 1 5 1-7 1-13 1-7 1 6 1 12 1 2 1-3 1 1 1-10 1-19 1-4 1 14 1 10 1 2 1 0 1 0 1 3 1 12 1 1 1-18 1-11 1 9 1 7 1-7 1-8 1-3 1 6 1 18 1 9 1-23 1-22 1 17 1 23 1-7 1-15 1 8 1 18 1-1 1-24 1-18 1 12 1 21 1-7 1-19 1 8 1 22 1-3 1-8 1 10 1 1 1-16 1-5 1 2 1-11 1-2 1 25 1 18 1-11 1-17 1-12 1-4 1 19 1 27 1-1 1-24 1-8 1 4 1-5 1-5 1 6 1 4 1-2 1 5 1 5 1-1 1 6 1 10 1-6 1-17 1-8 1 4 1-1 1-13 1-8 1 22 1 35 1 4 1-25 1-9 1 11 1-5 1-13 1 7 1 4 1-24 1-9 1 33 1 27 1-15 1-25 1 1 1 15 1 2 1-6 1 0 1 8 1-1 1-12 1-4 1 9 1-5 1-14 1 10 1 23 1-2 1-17 1 3 1 6 1-16 1-6 1 24 1 16 1-15 1-18 1 2 1 6 1 1 1 2 1 1 1 4 1 7 1-6 1-22 1-6 1 20 1 8 1-17 1-5 1 20 1 9 1-12 1 3 1 16 1-7 1-23 1 0 1 12 1-7 1-11 1 6 1 5 1-4 1 12 1 13 1-14 1-13 1 11 1 6 1-10 1 7 1 13 1-15 1-15 1 18 1 7 1-27 1-10 1 24 1 6 1-12 1 9 1 16 1-8 1-14 1 1 1 2 1-1 1 6 1 2 1-6 1-6 1-10 1-4 1 26 1 28 1-12 1-28 1-2 1 0 1-14 1 8 1 30 1 2 1-18 1-2 1 0 1-14 1 4 1 23 1 7 1-11 1-3 1-1 1-6 1 3 1 2 1-12 1-6 1 11 1 3 1-5 1 9 1 7 1-10 1 0 1 19 1 4 1-14 1-4 1-6 1-23 1-8 1 24 1 20 1-8 1-10 1 10 1 14 1-1 1-12 1-10 1 1 1 9 1 3 1-7 1-4 1-3 1-7 1 4 1 18 1 6 1-17 1-7 1 14 1 3 1-16 1-2 1 22 1 11 1-12 1-12 1-3 1-3 1-3 1 1 1 7 1 9 1 0 1-12 1-8 1 9 1 11 1 5 1 5 1 81 1-122 1-262 1-45 1 165 1 327 1 201 1-76 1-212 1-297 1-74 1 25 1 281 1 152 1 285 1-247 1-257 1-180 1 17 1 156 1 146 1 47 1 20 1-125 1-140 1-20 1 9 1 126 1 115 1 21 1-96 1-71 1-29 1 25 1 36 1 47 1 20 1-34 1-32 1-46 1 7 1 4 1 28 1 34 1 28 1-22 1-35 1-27 1 10 1 16 1 23 1-4 1-25 1-12 1 5 1 12 1 21 1 23 1-2 1-36 1-26 1-2 1 6 1 14 1 11 1 0 1 0 1 10 1-4 1-17 1 2 1 14 1-8 1-12 1 12 1 6 1-14 1-1 1 12 1 2 1-1 1 7 1-4 1-16 1 0 1 7 1-8 1-10 1 10 1 16 1 6 1-2 1-5 1-7 1-1 1 4 1 5 1 0 1-9 1-11 1 1 1 11 1 6 1-2 1-3 1 3 1 5 1-9 1-24 1-5 1 33 1 28 1-13 1-16 1 7 1-2 1-13 1 10 1 14 1-25 1-30 1 14 1 24 1-8 1-8 1 22 1 25 1-10 1-30 1-5 1 30 1 18 1-31 1-35 1 10 1 23 1-5 1-7 1 11 1 4 1-11 1 0 1 9 1 4 1 2 1 1 1-9 1-8 1-1 1 1 1 11 1 19 1-3 1-33 1-18 1 17 1 21 1 2 1-11 1-7 1 8 1 19 1 2 1-22 1-13 1 7 1 5 1-4 1 4 1 10 1 9 1 1 1-13 1-20 1-1 1 17 1 9 1-8 1-12 1-3 1 8 1 13 1 6 1-1 1 2 1-6 1-17 1-6 1 11 1 1 1-7 1 12 1 17 1-10 1-20 1-2 1 8 1 5 1 9 1 4 1-9 1-10 1 3 1 7 1 3 1-7 1-15 1-6 1 15 1 16 1 4 1-1 1-2 1-17 1-14 1 11 1 21 1-1 1-16 1-2 1 13 1 5 1-12 1-10 1 6 1 3 1-10 1 3 1 22 1 4 1-18 1-2 1 15 1-2 1-11 1-1 1-3 1-6 1 10 1 5 1-20 1-10 1 26 1 16 1-11 1 4 1 22 1-8 1-37 1-14 1 17 1 12 1-1 1 2 1 4 1-7 1-8 1 1 1 7 1 1 1 5 1 11 1 0 1-21 1-11 1 12 1 9 1-6 1 2 1 4 1-15 1-13 1 24 1 28 1-11 1-25 1 1 1 10 1-7 1-6 1 9 1 5 1-14 1-13 1 10 1 25 1 11 1-16 1-14 1 12 1 15 1-12 1-20 1 1 1 6 1-8 1-9 1 11 1 19 1 7 1-10 1-17 1-2 1 16 1 12 1 1 1 2 1-1 1-18 1-22 1 1 1 14 1 11 1 3 1-8 1-15 1 9 1 30 1-7 1-42 1 1 1 51 1 17 1-34 1-17 1 12 1-4 1-15 1 8 1 12 1-10 1-8 1 14 1 12 1-9 1-10 1 5 1 6 1-9 1-4 1 23 1 19 1-24 1-8 1-32 1-77 1-4 1 1 1 181 1 28 1 86 1-173 1-138 1-88 1 10 1 231 1 124 1-7 1-69 1-120 1-123 1 21 1 143 1 74 1 9 1-32 1-25 1-39 1-76 1 44 1 71 1 33 1-16 1-33 1-44 1 0 1 24 1 26 1 25 1-12 1-18 1-7 1-8 1-11 1-3 1 28 1 21 1-4 1-21 1-10 1-12 1-1 1 16 1 24 1 4 1-17 1-6 1 2 1-3 1-7 1 5 1 12 1 5 1-5 1-10 1-5 1-4 1-2 1 3 1 11 1 11 1-2 1-12 1-6 1 10 1 10 1-8 1-14 1 6 1 16 1 0 1-14 1-9 1 0 1 0 1 4 1 15 1 13 1-11 1-28 1-6 1 28 1 18 1-16 1-13 1 12 1 1 1-20 1 2 1 25 1 3 1-19 1-3 1 11 1-9 1-18 1 6 1 22 1 12 1-4 1-11 1-7 1 2 1 3 1-4 1-4 1 8 1 9 1-5 1-13 1-2 1 9 1 7 1 43 1-61 1-140 1-79 1 76 1 305 1 130 1 51 1-265 1-211 1-80 1 114 1 107 1 161 1 25 1-48 1-169 1-223 1 141 1 57 1 137 1 52 1-27 1-107 1-61 1-43 1 75 1 45 1 20 1 28 1-56 1-40 1-10 1 5 1 41 1 38 1 9 1-41 1-32 1 11 1 19 1-1 1-4 1-3 1 2 1 4 1-1 1-9 1 0 1 22 1 10 1-19 1-23 1-2 1 14 1 17 1 6 1-10 1-8 1 4 1-6 1-12 1 13 1 28 1-7 1-33 1-9 1 18 1 6 1-6 1 6 1 12 1-4 1-12 1 0 1 14 1 7 1-12 1-12 1 3 1 4 1-11 1-5 1 15 1 13 1-8 1-14 1 2 1 12 1 2 1-8 1-1 1 15 1 6 1-18 1-14 1 12 1 15 1-5 1-9 1 0 1-8 1-13 1 4 1 16 1 10 1 4 1-1 1-11 1-8 1 9 1 10 1-3 1-5 1 2 1-5 1-7 1 6 1 8 1-11 1-13 1 3 1 4 1-5 1 6 1 22 1 9 1-8 1 4 1 8 1-18 1-25 1 1 1 7 1-9 1 2 1 27 1 8 1-27 1-14 1 21 1 13 1-8 1 3 1 11 1-13 1-23 1 11 1 26 1-13 1-31 1 12 1 31 1-11 1-27 1 18 1 27 1-25 1-30 1 19 1 25 1-7 1 1 1 14 1-17 1-30 1 10 1 27 1-6 1-16 1 12 1 14 1-11 1-20 1-6 1 13 1 19 1 1 1-12 1 6 1 12 1-15 1-21 1 10 1 11 1-11 1 1 1 19 1-4 1-18 1 8 1 10 1-12 1-4 1 12 1-2 1-4 1 21 1 10 1-33 1-25 1 17 1 12 1-16 1-3 1 22 1 11 1-4 1 4 1 9 1-10 1-20 1-3 1 3 1-13 1-9 1 24 1 35 1 1 1-30 1-14 1 7 1 0 1-7 1 9 1 14 1-4 1-12 1 6 1 17 1 0 1-19 1-8 1 7 1-1 1-8 1 8 1 11 1-10 1-9 1 16 1 14 1-9 1-12 1-5 1-6 1 10 1 19 1-5 1-20 1 8 1 17 1-12 1-11 1 15 1-1 1-27 1 2 1 28 1 2 1-19 1 0 1 7 1-3 1 7 1 17 1-3 1-16 1-2 1 4 1-3 1-1 1 1 1-10 1-12 1 4 1 13 1 7 1 2 1 8 1 12 1-4 1-18 1-9 1 6 1 0 1-9 1 2 1 6 1-8 1-5 1 16 1 14 1-6 1-5 1 5 1-2 1-11 1-9 1-3 1 10 1 18 1 3 1-8 1-1 1-9 1-22 1 5 1 33 1 3 1-22 1 7 1 14 1-21 1-12 1 28 1 9 1-26 1-5 1 19 1-4 1-15 1 7 1 5 1-7 1 11 1 18 1-91 1 82 1 286 1-32 1-75 1-352 1-480 1 82 1 434 1 417 1-64 1 169 1-405 1-348 1 1 1 180 1 279 1 144 1-30 1-115 1-242 1-77 1 115 1 100 1 67 1 157 1-119 1-123 1-84 1 0 1 59 1 66 1 49 1 21 1-92 1-47 1-3 1-2 1 60 1 48 1 14 1-61 1-32 1-10 1 15 1 4 1 19 1-6 1-3 1 6 1 13 1-9 1-7 1 17 1 4 1-29 1-14 1 15 1 5 1-16 1 3 1 38 1 14 1-36 1-29 1 18 1 15 1-17 1 3 1 32 1-1 1-30 1 3 1 18 1-12 1-13 1 17 1 1 1-27 1-7 1 22 1 17 1 4 1 1 1-10 1-6 1 6 1-6 1-16 1 13 1 20 1-16 1-20 1 12 1 8 1-10 1 11 1 19 1-16 1-17 1 18 1 5 1-26 1-1 1 25 1-2 1-14 1 16 1 9 1-24 1-10 1 21 1 2 1-20 1 1 1 20 1 1 1-13 1-3 1 1 1 6 1 16 1 6 1-22 1-24 1 6 1 20 1 11 1 4 1-3 1-17 1-16 1 5 1 12 1-3 1-1 1 14 1 4 1-13 1 0 1 16 1 0 1-19 1-9 1 8 1 7 1-7 1-14 1 4 1 32 1 18 1-27 1-26 1 14 1 14 1-16 1-8 1 12 1-4 1-11 1 23 1 25 1-16 1-25 1 7 1 12 1-6 1-12 1-4 1 5 1 11 1 3 1-10 1-6 1 4 1 2 1 12 1 20 1-7 1-34 1-8 1 26 1 9 1-14 1-10 1-7 1 0 1 18 1 13 1-11 1-2 1 19 1-8 1-32 1 2 1 29 1 5 1-13 1-1 1-9 1-18 1 7 1 24 1 7 1-6 1 4 1 2 1-10 1-6 1 1 1-5 1-5 1 7 1 10 1-3 1-8 1 1 1 6 1-1 1-1 1 11 1 5 1-16 1-9 1 15 1 7 1-16 1-4 1 7 1-10 1-4 1 24 1 7 1-32 1-7 1 35 1 19 1-13 1-15 1-17 1-17 1 20 1 39 1-1 1-32 1-7 1 6 1-8 1 3 1 17 1-2 1-9 1 10 1 10 1-12 1-8 1 7 1 0 1-6 1 7 1 2 1-13 1-2 1 15 1 0 1-15 1 2 1 15 1 1 1-12 1 3 1 12 1-2 1-14 1-5" stroke="#00ff00" stroke-width="0.35" fill="none" vector-effect="non-scaling-stroke" stroke-linejoin="round"/>
<path transform="translate(118.7 306) scale(0.09121 0.04063)" d="M0 -37l1 8 1-185 1 47 1 335 1-41 1-80 1-51 1 61 1-27 1 20 1-16 1-84 1 32 1-71 1 74 1-21 1 28 1 77 1-90 1 47 1 65 1 10 1-171 1 70 1-67 1-42 1 94 1 2 1-8 1-5 1-38 1 23 1 11 1 34 1 21 1-99 1 26 1 40 1 33 1-48 1-29 1 29 1 21 1-71 1 48 1 18 1 32 1 10 1-87 1 107 1-96 1-7 1-5 1 51 1 55 1-106 1 61 1 11 1-11 1-10 1-33 1 63 1-140 1 62 1 63 1 55 1-58 1 54 1-30 1-54 1-25 1-18 1 2 1 71 1 3 1 7 1 48 1-23 1-75 1 76 1-92 1 99 1-33 1-25 1 32 1-218 1 235 1-39 1-8 1 71 1-136 1-27 1 50 1 89 1-14 1 34 1-22 1-5 1-1 1-100 1 109 1-87 1 61 1 68 1-159 1 13 1 76 1-12 1 18 1 12 1-163 1 99 1 72 1-52 1 32 1-24 1 42 1 6 1-11 1-122 1 16 1 36 1-36 1 79 1-20 1 11 1-49 1-49 1 125 1-67 1-1 1 39 1 73 1-136 1 110 1-22 1-81 1-35 1 111 1-96 1 53 1 64 1-12 1-1 1 23 1-71 1 83 1-20 1-82 1-119 1 144 1 30 1-22 1-28 1 53 1-84 1 52 1 0 1 79 1-77 1 80 1-4 1-81 1-37 1 24 1-104 1 190 1-61 1-82 1-2 1 164 1-6 1-117 1 50 1 1 1 17 1 0 1-78 1 0 1 56 1 9 1-60 1 47 1 74 1-25 1-96 1 53 1 16 1-63 1 82 1 86 1-93 1-115 1 8 1-20 1 25 1 300 1 166 1-133 1-435 1 3 1-136 1 366 1 191 1 138 1-121 1-295 1-254 1 41 1 56 1 315 1 97 1-53 1-96 1-101 1-84 1 41 1 125 1 56 1 9 1-71 1-15 1-136 1 123 1-129 1 139 1 147 1-157 1-41 1-106 1 118 1 10 1-18 1-15 1 49 1 70 1-22 1-141 1 5 1 136 1-39 1-103 1 138 1-177 1 87 1 75 1-75 1-38 1-23 1 119 1-33 1-20 1 10 1 4 1-26 1 80 1-36 1 3 1 29 1-85 1 41 1-53 1-15 1 80 1-66 1 90 1 20 1-56 1-31 1 13 1 55 1-64 1 12 1 55 1-67 1 47 1-20 1 16 1-55 1 63 1-55 1 15 1 12 1 16 1-61 1 39 1 22 1-55 1 48 1-15 1 34 1 28 1-22 1-40 1 8 1 7 1-12 1 6 1 0 1 4 1-48 1 38 1 29 1-17 1-5 1-30 1 20 1 24 1-18 1-2 1-15 1 17 1 9 1-31 1 29 1-34 1 14 1 33 1-3 1 29 1-63 1-18 1 40 1 11 1-33 1 15 1 50 1-66 1 30 1-21 1 2 1 24 1-13 1 13 1-40 1 28 1 18 1-5 1 4 1-50 1 18 1 26 1 16 1-37 1-8 1 9 1 23 1 4 1 36 1-37 1-19 1-6 1 3 1-3 1-6 1 43 1-54 1 49 1-43 1 22 1 64 1-67 1 20 1-28 1-12 1-1 1-6 1 33 1 62 1-44 1-38 1 18 1 16 1-37 1-17 1 15 1 8 1-30 1 34 1 33 1-16 1 20 1-26 1-3 1 26 1-47 1-29 1 31 1 16 1 22 1-29 1 0 1 3 1 31 1-17 1 33 1-69 1-3 1 48 1-57 1-8 1 38 1 34 1-13 1-45 1 40 1 20 1-28 1 21 1-27 1 30 1-36 1 23 1-13 1-32 1 52 1-16 1 27 1-13 1-20 1 45 1-30 1-25 1-9 1 37 1-22 1 2 1 20 1-22 1 6 1-7 1 17 1-17 1 59 1-38 1-24 1 53 1 29 1-63 1-28 1 40 1-54 1 33 1 31 1-38 1 7 1 30 1-40 1-11 1 23 1-14 1 41 1 17 1-42 1-24 1 25 1 18 1 2 1-28 1 40 1-49 1-7 1 12 1-2 1 45 1-2 1-19 1-7 1-27 1 37 1 0 1 4 1-5 1-1 1-46 1 9 1 38 1-12 1-4 1-11 1 30 1 14 1-4 1 1 1-9 1-20 1-2 1 22 1-29 1 1 1 0 1-4 1 14 1 25 1-28 1-24 1 56 1-34 1 17 1-3 1 5 1-11 1-49 1 55 1 21 1-58 1 13 1-7 1 78 1-33 1-41 1-11 1 24 1 53 1-39 1-21 1-23 1 10 1 45 1-36 1-7 1 49 1 5 1-33 1-2 1-3 1 4 1-12 1-22 1 65 1-27 1 2 1-3 1-6 1 31 1-4 1-110 1 133 1 170 1 66 1-125 1-305 1-209 1-74 1 332 1 351 1 166 1-131 1-344 1-154 1-79 1 173 1 216 1 169 1-58 1-224 1-32 1-48 1 38 1 60 1 100 1 32 1-35 1-102 1-63 1-80 1 99 1 165 1-20 1-90 1 39 1-44 1-64 1-5 1 110 1-45 1-11 1 32 1-13 1-9 1 6 1 32 1-25 1 6 1-37 1 39 1-47 1 8 1 55 1-50 1-1 1 28 1-9 1-40 1 40 1 18 1-16 1-12 1 40 1-31 1-15 1-5 1-17 1 29 1 6 1 0 1 13 1 2 1-7 1-46 1-9 1-9 1 81 1 9 1-25 1 13 1-50 1 27 1 12 1-38 1 38 1-1 1 7 1 3 1-18 1 5 1-13 1 17 1-16 1-8 1-18 1 32 1 3 1 20 1-23 1 23 1-24 1 13 1 29 1-95 1 67 1 0 1-7 1-9 1 37 1 4 1-50 1 39 1-36 1-36 1 21 1 5 1 39 1-47 1 39 1 25 1-14 1-21 1-25 1 59 1-43 1-21 1 41 1-13 1 13 1-31 1 10 1 22 1-13 1-17 1 35 1-50 1 25 1 22 1-22 1-2 1 20 1 15 1-24 1-20 1 38 1-26 1 16 1-11 1 1 1-52 1 24 1 28 1-6 1 42 1-36 1 29 1-47 1-31 1 71 1 2 1-37 1 2 1-9 1 14 1 24 1-23 1-65 1 93 1-30 1 15 1 15 1-21 1 22 1-32 1 0 1 0 1 4 1 3 1-5 1-38 1 35 1 55 1-26 1-1 1-8 1-5 1-25 1 16 1 10 1-13 1 57 1-77 1-27 1 33 1 43 1-20 1-22 1 52 1-33 1 4 1 24 1 12 1-57 1 13 1 9 1-32 1 73 1-81 1 47 1-33 1 33 1 29 1-84 1 56 1 11 1-31 1 5 1 32 1 40 1-76 1-4 1-5 1 14 1 10 1-19 1-11 1-9 1 50 1 7 1-15 1-3 1 41 1-76 1 34 1-1 1-28 1 29 1-22 1 15 1-10 1 1 1 28 1-23 1-16 1 50 1 11 1-40 1-3 1 4 1-16 1-25 1 39 1 1 1-18 1-11 1 34 1-12 1-5 1 20 1 26 1-7 1-56 1 3 1 8 1-35 1 31 1 13 1-16 1 53 1-3 1-14 1 17 1-24 1-19 1-2 1 8 1 1 1-42 1 47 1 24 1-12 1-9 1-2 1 1 1-8 1 15 1-14 1-1 1-17 1 47 1-20 1-2 1 23 1-60 1 44 1-1 1-5 1 7 1-13 1 12 1-52 1-8 1 66 1 19 1-50 1 6 1-22 1 27 1 19 1-14 1 16 1-20 1-17 1 20 1 19 1-32 1-5 1 35 1-36 1 4 1-15 1 31 1 22 1-31 1 21 1 28 1-63 1 51 1-9 1-18 1-36 1 21 1 29 1-52 1 14 1 36 1 4 1-43 1 25 1 12 1-14 1-1 1 32 1-24 1-22 1 12 1-4 1-9 1-9 1 12 1 43 1-14 1-25 1-1 1 11 1 16 1 30 1-47 1-9 1 27 1-7 1 0 1-22 1-23 1 1 1 55 1 41 1-45 1-16 1-1 1-14 1-8 1 31 1 3 1 33 1-29 1-36 1 10 1 2 1-14 1 49 1 11 1-58 1 31 1-23 1-10 1-14 1 64 1 1 1-42 1 10 1 28 1-50 1 32 1 3 1-21 1 24 1 10 1-31 1-7 1 25 1-41 1 9 1 10 1 25 1 4 1 13 1-20 1-15 1 25 1-30 1 19 1-24 1-14 1 79 1-49 1-19 1 12 1-43 1 54 1-39 1 24 1 9 1 36 1-35 1-15 1 25 1 0 1-23 1-3 1 48 1-17 1-5 1 17 1-69 1-6 1 38 1 43 1 7 1-47 1 3 1 31 1-80 1 42 1 24 1 16 1 71 1-136 1-248 1-62 1 194 1 319 1 206 1-107 1-217 1-274 1-84 1 57 1 251 1 176 1 251 1-213 1-249 1-189 1 38 1 91 1 175 1 50 1-4 1-138 1-121 1 27 1-5 1 140 1 117 1 4 1-124 1-72 1-24 1 22 1 50 1 54 1 10 1-41 1 5 1-68 1 23 1-28 1 41 1 24 1 19 1-5 1-56 1 5 1 0 1-11 1 62 1-33 1-14 1 5 1 5 1-17 1 28 1 8 1-16 1 10 1-51 1 38 1-16 1 38 1 1 1 13 1-45 1 54 1-37 1-27 1 19 1 15 1 22 1-36 1 11 1 24 1-35 1-49 1 52 1 30 1-44 1 9 1-21 1 2 1 17 1 12 1 23 1-42 1 18 1 20 1-19 1-1 1-11 1-9 1 33 1-27 1-21 1 35 1-6 1-16 1 36 1-12 1-12 1 23 1-21 1-39 1 71 1-18 1-87 1 57 1 28 1-43 1 50 1-14 1 13 1-1 1-18 1-5 1 3 1 21 1-91 1 85 1 5 1-30 1-15 1 16 1 44 1-11 1-53 1 10 1 57 1 21 1-21 1-2 1-55 1 16 1-3 1-2 1 31 1-51 1 62 1-20 1-13 1 21 1 12 1-9 1-17 1-48 1 57 1-27 1 39 1-14 1-2 1-50 1-7 1 38 1 52 1-10 1-23 1-8 1-27 1 59 1 22 1-57 1-24 1 2 1-8 1 19 1 8 1 21 1 18 1-27 1 12 1-17 1-29 1 12 1 5 1 15 1-11 1 16 1 7 1-38 1 31 1 30 1-4 1-12 1-29 1 43 1-63 1 3 1 16 1 37 1 9 1-46 1-42 1 46 1-4 1-28 1 53 1 30 1-43 1 10 1-7 1 13 1-13 1-10 1-7 1-26 1 44 1 13 1 17 1-21 1-4 1-39 1-6 1 22 1-7 1 35 1-48 1 59 1 1 1-49 1 9 1 4 1-11 1 32 1-19 1-9 1 43 1 16 1-29 1-6 1-11 1-36 1 62 1-32 1-1 1 21 1-34 1 31 1-19 1-44 1 39 1 42 1-7 1 1 1 40 1-51 1 13 1-63 1 6 1 17 1 15 1 2 1-19 1 12 1-26 1 32 1-5 1-11 1 5 1 14 1 15 1-12 1 24 1-69 1 43 1 21 1-55 1 52 1-33 1-40 1 17 1 4 1 47 1-11 1 3 1 13 1-29 1 32 1-46 1 30 1 1 1-39 1 55 1-14 1-7 1 15 1-23 1-1 1 13 1 24 1-66 1 18 1-10 1 13 1 4 1-1 1 6 1 33 1-23 1-9 1 14 1-8 1 40 1-62 1 2 1 26 1-31 1 25 1-34 1 29 1 8 1 10 1-59 1 8 1 28 1 26 1 26 1-64 1 12 1 33 1 32 1-69 1-5 1 20 1-38 1 12 1 25 1-1 1 0 1-52 1 100 1-28 1-38 1 8 1 35 1 1 1-14 1-46 1 32 1 32 1-55 1-4 1-29 1-69 1-4 1 29 1 175 1 26 1 111 1-179 1-148 1-108 1 13 1 210 1 134 1 8 1-39 1-123 1-159 1-17 1 204 1 59 1 57 1-88 1-18 1-45 1-88 1 78 1 32 1 23 1 32 1-11 1-72 1-9 1 24 1 10 1 73 1-44 1-15 1 5 1-22 1-55 1 42 1 46 1-9 1-1 1-8 1-23 1-28 1 6 1 65 1 7 1-15 1-2 1-39 1 31 1-22 1 2 1-3 1 12 1-14 1 59 1-71 1-14 1 30 1 18 1-16 1 11 1 22 1-27 1 36 1-61 1 20 1 48 1-68 1 33 1-13 1 19 1 32 1-74 1 58 1-36 1-9 1 2 1 40 1 15 1-9 1-54 1 9 1 21 1 33 1-28 1 14 1-8 1 5 1-27 1-21 1 9 1 27 1-10 1 6 1-15 1 17 1 20 1-47 1 6 1 47 1 10 1-40 1 10 1 1 1-21 1 17 1-43 1 27 1 21 1-25 1 3 1-7 1 38 1 5 1-1 1-29 1-151 1-77 1 74 1 338 1 104 1 79 1-321 1-191 1-103 1 162 1 111 1 174 1 11 1-109 1-132 1-231 1 118 1 125 1 105 1 60 1-54 1-118 1-29 1-48 1 89 1 42 1 20 1 18 1-80 1-34 1 3 1 3 1 2 1 92 1-1 1-65 1-5 1-8 1 29 1 17 1-17 1-14 1 14 1 27 1-24 1 2 1-4 1 36 1 1 1-41 1 20 1-51 1 2 1 25 1 7 1 19 1-25 1-5 1 40 1-42 1 9 1 15 1 22 1-41 1-32 1 38 1-18 1 45 1 9 1-20 1-15 1-14 1 18 1 4 1 25 1-29 1 0 1 1 1-19 1-3 1 3 1 32 1-20 1 18 1-31 1-7 1 31 1 16 1-57 1 12 1 53 1-5 1-40 1-11 1 33 1 0 1 19 1-44 1 19 1 27 1-89 1 25 1 16 1 27 1 22 1-32 1 4 1-45 1 55 1 27 1-48 1-3 1 37 1-2 1-54 1 23 1 21 1-13 1-31 1 0 1 5 1-4 1 36 1 4 1 2 1-19 1 19 1 16 1-25 1-35 1 3 1 10 1 29 1-11 1 11 1 12 1-24 1-7 1-3 1 54 1-33 1 14 1-8 1 20 1-60 1-25 1 78 1-6 1-61 1 23 1 35 1 4 1-45 1 27 1-1 1 13 1-70 1 65 1-15 1 4 1 11 1 24 1-14 1-27 1 20 1-27 1-13 1 24 1-1 1 49 1-36 1-28 1-26 1 41 1 17 1-11 1-60 1 91 1 19 1-61 1-10 1 3 1-9 1 18 1 4 1 15 1-16 1-7 1 2 1 2 1 15 1-27 1 71 1-32 1-53 1 45 1 13 1-30 1-58 1 33 1 41 1-25 1-27 1 32 1 29 1 2 1 22 1-40 1-10 1-8 1 30 1 0 1-66 1 19 1 4 1 85 1-25 1-45 1-12 1 22 1 36 1-62 1 0 1 17 1 4 1 45 1-56 1-3 1 66 1-28 1-65 1 46 1 2 1 0 1-10 1 30 1-45 1-21 1 89 1-22 1-29 1-3 1 9 1-24 1-13 1 50 1 12 1-51 1 9 1 19 1 42 1-52 1 12 1 9 1-20 1-30 1 43 1 6 1-15 1 17 1-30 1 5 1 9 1 39 1-6 1-65 1 15 1 16 1 24 1-20 1 15 1-5 1-36 1-34 1 23 1 54 1-26 1 49 1-7 1-6 1-32 1-48 1 46 1 3 1 17 1 16 1-20 1-32 1 6 1 32 1-35 1 23 1-10 1 8 1-20 1 30 1-30 1-15 1 0 1 70 1-8 1-39 1 26 1-37 1-46 1 54 1 42 1-7 1-51 1 26 1-2 1 10 1-25 1 30 1 32 1-37 1 4 1-15 1 23 1-16 1-20 1 17 1-30 1 24 1 25 1-86 1 70 1 329 1-78 1-68 1-307 1-506 1 53 1 426 1 439 1-94 1 229 1-409 1-372 1 19 1 157 1 287 1 156 1-51 1-95 1-279 1-55 1 95 1 114 1 84 1 145 1-96 1-130 1-74 1-44 1 92 1 63 1 59 1 6 1-120 1-25 1 15 1-8 1 53 1 17 1-6 1-20 1-33 1-13 1 40 1-35 1 36 1 22 1 10 1-28 1 19 1 18 1-48 1 9 1 15 1 4 1-47 1 15 1 23 1-55 1 25 1 6 1 58 1 18 1-100 1 55 1-20 1 16 1-18 1 22 1 5 1-26 1 9 1 0 1 31 1-58 1-9 1 37 1-34 1-11 1 55 1-11 1-2 1 44 1-2 1-93 1 43 1 19 1-29 1 8 1 18 1-20 1-12 1 8 1 9 1-9 1 22 1 10 1 0 1-23 1 22 1 0 1-32 1-27 1 89 1-47 1-15 1 56 1-35 1 5 1 17 1-46 1 2 1 15 1-39 1 45 1 22 1-36 1 1 1 28 1-42 1 53 1-39 1-1 1-19 1 13 1 26 1 5 1-23 1-4 1-30 1 11 1 56 1-25 1 0 1-36 1 25 1 28 1-28 1 8 1 3 1 15 1-5 1-42 1-8 1 31 1 42 1-45 1-31 1 34 1 67 1-53 1-11 1 5 1 8 1-18 1-36 1 3 1 38 1 43 1-5 1-43 1-5 1 45 1-28 1-4 1-10 1-22 1 17 1-14 1 9 1 1 1 62 1-21 1-67 1 54 1-3 1 8 1 37 1-49 1-37 1 36 1 39 1-53 1 32 1-35 1-11 1 62 1-27 1-19 1 9 1 15 1 5 1-37 1 32 1 14 1 5 1-35 1 6 1-41 1 9 1-2 1 29 1 1 1 2 1 22 1 22 1-30 1-22 1 14 1-38 1 38 1-27 1 27 1-3 1-25 1-5 1 22 1 16 1-14 1-1 1 61 1-84 1 27 1 11 1 12 1-6 1-45 1 5 1 20 1-3 1 9 1 10 1-21 1-33 1 57 1 47 1-58 1-28 1 30 1-12 1-7 1 29 1-8 1-16 1 3 1-33 1 35 1 8 1-5 1 20 1-32 1 49 1-11 1-41 1 31 1-25 1 10 1-29 1 29 1 9 1-24 1-4 1 46 1-42 1-6 1 25 1-21 1 31 1-42 1 10 1 17 1 26 1-14 1-14" stroke="#ff0000" stroke-width="0.7" fill="none" vector-effect="non-scaling-stroke" stroke-linejoin="round"/>
<path d="M118 273.5H306M118 338.5H306" stroke="#555" stroke-width="1" fill="none"/>
<line x1="119" y1="273" x2="119" y2="339" stroke="#a0a0a0" stroke-width="2"/>
<line x1="305.5" y1="273.5" x2="305.5" y2="338.5" stroke="#666" stroke-width="1"/>
<line x1="118.7" y1="273.5" x2="120.2" y2="273.5" stroke="#444" stroke-width="0.8"/>
<text x="118" y="276.4" font-size="8.6" text-anchor="end">8</text>
<line x1="118.7" y1="289.8" x2="120.2" y2="289.8" stroke="#444" stroke-width="0.8"/>
<text x="118" y="292.6" font-size="8.6" text-anchor="end">4</text>
<line x1="118.7" y1="306" x2="120.2" y2="306" stroke="#444" stroke-width="0.8"/>
<text x="118" y="308.9" font-size="8.6" text-anchor="end">0</text>
<line x1="118.7" y1="322.2" x2="120.2" y2="322.2" stroke="#444" stroke-width="0.8"/>
<text x="118" y="325.1" font-size="8.6" text-anchor="end">-4</text>
<line x1="118.7" y1="338.5" x2="120.2" y2="338.5" stroke="#444" stroke-width="0.8"/>
<text x="118" y="341.4" font-size="8.6" text-anchor="end">-8</text>
<line x1="118.7" y1="338.5" x2="118.7" y2="337" stroke="#444" stroke-width="0.8"/>
<text x="118.7" y="345.9" font-size="8.6" text-anchor="middle">0</text>
<line x1="164.3" y1="338.5" x2="164.3" y2="337" stroke="#444" stroke-width="0.8"/>
<text x="164.3" y="345.9" font-size="8.6" text-anchor="middle">500</text>
<line x1="209.9" y1="338.5" x2="209.9" y2="337" stroke="#444" stroke-width="0.8"/>
<text x="209.9" y="345.9" font-size="8.6" text-anchor="middle">1000</text>
<line x1="255.5" y1="338.5" x2="255.5" y2="337" stroke="#444" stroke-width="0.8"/>
<text x="255.5" y="345.9" font-size="8.6" text-anchor="middle">1500</text>
<line x1="301.1" y1="338.5" x2="301.1" y2="337" stroke="#444" stroke-width="0.8"/>
<text x="301.1" y="345.9" font-size="8.6" text-anchor="middle">2000</text>
<polygon points="349.0,335.3 349.0,330.0 349.5,329.8 350.0,330.0 350.5,330.5 351.0,330.5 351.5,330.3 352.0,328.8 352.5,332.0 353.0,329.4 353.5,331.8 354.0,330.7 354.5,331.2 355.0,329.5 355.5,330.1 356.0,332.4 356.5,331.7 357.0,331.1 357.5,332.5 358.0,330.7 358.5,331.3 359.0,332.2 359.5,332.6 360.0,330.7 360.5,331.1 361.0,332.0 361.5,331.7 362.0,332.7 362.5,331.3 363.0,331.9 363.5,332.0 364.0,333.2 364.5,332.3 365.0,331.5 365.5,333.4 366.0,333.1 366.5,332.1 367.0,333.2 367.5,331.9 368.0,332.6 368.5,332.9 369.0,332.3 369.5,331.8 370.0,331.9 370.5,332.5 371.0,332.3 371.5,333.4 372.0,333.6 372.5,333.0 373.0,332.9 373.5,332.8 374.0,332.2 374.5,333.4 375.0,333.7 375.5,333.2 376.0,332.7 376.5,333.8 377.0,332.7 377.6,332.8 378.1,333.6 378.6,333.3 379.1,332.6 379.6,333.8 380.1,333.9 380.6,332.6 381.1,333.4 381.6,333.2 382.1,333.6 382.6,332.6 383.1,332.7 383.6,333.8 384.1,332.7 384.6,332.8 385.1,333.0 385.6,332.9 386.1,333.4 386.6,333.1 387.1,333.6 387.6,334.0 388.1,333.8 388.6,333.8 389.1,333.2 389.6,333.5 390.1,333.4 390.6,334.0 391.1,333.5 391.6,333.7 392.1,333.5 392.6,333.5 393.1,334.0 393.6,333.6 394.1,333.3 394.6,333.8 395.1,334.0 395.6,332.9 396.1,333.5 396.6,333.6 397.1,333.2 397.6,333.6 398.1,333.0 398.6,333.7 399.1,332.9 399.6,333.6 400.1,333.1 400.6,333.3 401.1,333.3 401.6,333.3 402.1,333.3 402.6,333.3 403.1,333.9 403.6,333.9 404.1,334.1 404.6,333.4 405.1,333.4 405.6,333.9 406.1,333.2 406.6,333.5 407.1,333.4 407.6,333.8 408.1,333.6 408.6,333.9 409.1,333.3 409.6,334.0 410.1,333.2 410.6,334.2 411.1,333.6 411.6,333.5 412.1,333.7 412.6,333.3 413.1,334.1 413.6,334.1 414.1,333.4 414.6,333.3 415.1,334.1 415.6,334.0 416.1,333.5 416.6,333.8 417.1,333.4 417.6,333.7 418.1,333.2 418.6,333.1 419.1,333.7 419.6,333.8 420.1,334.0 420.6,333.9 421.1,334.2 421.6,333.5 422.1,333.5 422.6,333.9 423.1,334.0 423.6,334.0 424.1,334.1 424.6,333.4 425.1,334.2 425.6,333.1 426.1,333.4 426.6,333.9 427.1,333.3 427.6,333.1 428.1,333.3 428.6,333.1 429.1,333.7 429.6,333.9 430.1,334.2 430.6,334.1 431.1,334.0 431.6,334.0 432.1,333.2 432.6,333.4 433.1,333.3 433.6,334.0 434.2,333.1 434.7,333.3 435.2,334.2 435.7,333.8 436.2,334.2 436.7,333.7 437.2,333.6 437.7,333.8 438.2,333.5 438.7,333.4 439.2,334.1 439.7,333.8 440.2,333.5 440.7,333.8 441.2,333.2 441.7,333.5 442.2,333.5 442.7,333.3 443.2,333.8 443.7,333.3 444.2,334.1 444.7,333.8 445.2,333.6 445.7,333.2 446.2,333.1 446.7,334.2 447.2,333.4 447.7,333.6 448.2,333.1 448.7,333.4 449.2,333.1 449.7,333.2 450.2,333.4 450.7,333.6 451.2,333.1 451.7,333.2 452.2,334.1 452.7,334.1 453.2,333.2 453.7,334.2 454.2,333.9 454.7,334.1 455.2,333.2 455.7,333.9 456.2,334.1 456.7,334.0 457.2,333.3 457.7,333.9 458.2,334.0 458.7,333.8 459.2,333.2 459.7,333.5 460.2,334.2 460.7,333.3 461.2,333.3 461.7,334.1 462.2,333.9 462.7,334.1 463.2,333.2 463.7,333.4 464.2,333.2 464.7,333.8 465.2,334.1 465.7,333.9 466.2,334.2 466.7,333.9 467.2,333.6 467.7,333.2 468.2,334.2 468.7,334.1 469.2,333.8 469.7,333.4 470.2,333.3 470.7,333.3 471.2,334.1 471.7,334.1 472.2,334.0 472.7,333.4 473.2,333.3 473.7,333.6 474.2,333.7 474.7,333.4 475.2,333.4 475.7,333.8 476.2,333.7 476.7,333.8 477.2,333.4 477.7,333.3 478.2,333.8 478.7,333.2 479.2,333.3 479.7,333.8 480.2,333.7 480.7,333.2 481.2,333.5 481.7,333.6 482.2,333.8 482.7,334.2 483.2,333.7 483.7,333.6 484.2,333.3 484.7,333.7 485.2,333.3 485.7,333.8 486.2,333.2 486.7,333.6 487.2,333.3 487.7,334.3 488.2,333.6 488.7,333.6 489.2,333.7 489.7,333.5 490.2,333.4 490.8,333.3 491.3,333.4 491.8,333.9 492.3,333.7 492.8,333.4 492.8,335.3" fill="#0000ff"/>
<line x1="349" y1="335.30" x2="492.8" y2="335.30" stroke="#0000ff" stroke-width="0.9"/>
<path d="M352.0 335.3V276.3M352.7 335.3V307.2M358.0 335.3V323.6M365.9 335.3V326.9M370.5 335.3V328.3" stroke="#70f070" stroke-width="1.7"/>
<polygon points="349.0,335.3 349.0,326.5 349.5,329.5 350.0,329.1 350.5,328.3 351.0,329.9 351.5,327.6 352.0,327.6 352.5,328.5 353.0,327.1 353.5,327.7 354.0,327.5 354.5,330.2 355.0,328.5 355.5,328.0 356.0,327.1 356.5,329.1 357.0,326.8 357.5,330.3 358.0,330.0 358.5,330.9 359.0,327.8 359.5,330.4 360.0,331.7 360.5,329.1 361.0,329.7 361.5,330.5 362.0,331.6 362.5,332.7 363.0,331.8 363.5,332.4 364.0,332.2 364.5,331.8 365.0,331.3 365.5,330.5 366.0,330.1 366.5,331.3 367.0,331.5 367.5,331.4 368.0,331.1 368.5,327.5 369.0,328.5 369.6,329.7 370.1,327.9 370.6,328.7 371.1,329.2 371.6,328.8 372.1,330.6 372.6,330.6 373.1,330.1 373.6,331.0 374.1,330.9 374.6,331.2 375.1,332.3 375.6,331.3 376.1,332.7 376.6,331.6 377.1,331.7 377.6,332.5 378.1,332.8 378.6,333.8 379.1,333.6 379.6,333.5 380.1,333.5 380.6,333.8 381.1,334.0 381.6,333.7 382.1,333.9 382.6,334.2 383.1,334.2 383.6,333.6 384.1,334.2 384.6,334.1 385.1,334.1 385.6,333.6 386.1,333.8 386.6,333.7 387.1,333.9 387.6,334.2 388.1,333.8 388.6,334.2 389.1,334.1 389.6,334.0 390.1,334.2 390.6,334.1 391.1,333.7 391.6,334.1 392.1,334.3 392.6,334.0 393.1,333.8 393.6,334.0 394.1,333.7 394.6,333.7 395.1,334.2 395.6,334.1 396.1,333.7 396.6,333.7 397.1,334.3 397.6,333.7 398.1,333.7 398.6,333.8 399.1,334.1 399.6,333.8 400.1,333.7 400.6,334.2 401.1,333.8 401.6,334.4 402.1,333.9 402.6,334.0 403.1,334.3 403.6,333.9 404.1,334.3 404.6,334.2 405.1,333.9 405.6,333.8 406.1,334.4 406.6,334.1 407.1,334.3 407.6,334.0 408.1,333.8 408.6,333.8 409.1,333.9 409.6,334.5 410.2,334.0 410.7,334.4 411.2,334.1 411.7,334.0 412.2,334.1 412.7,333.8 413.2,334.3 413.7,333.8 414.2,334.2 414.7,334.2 415.2,334.1 415.7,334.3 416.2,334.1 416.7,334.2 417.2,334.3 417.7,334.3 418.2,334.3 418.7,333.9 419.2,334.1 419.7,333.9 420.2,334.0 420.7,334.4 421.2,333.9 421.7,334.1 422.2,334.4 422.7,334.2 423.2,333.9 423.7,334.4 424.2,334.1 424.7,334.1 425.2,334.0 425.7,334.3 426.2,334.2 426.7,334.5 427.2,334.0 427.7,334.1 428.2,334.2 428.7,334.0 429.2,334.4 429.7,334.5 430.2,334.5 430.7,334.2 431.2,334.1 431.7,334.4 432.2,334.0 432.7,334.4 433.2,334.3 433.7,334.0 434.2,334.4 434.7,334.2 435.2,334.2 435.7,334.5 436.2,334.3 436.7,334.6 437.2,334.5 437.7,334.4 438.2,334.3 438.7,334.2 439.2,334.4 439.7,334.3 440.2,334.0 440.7,334.5 441.2,334.3 441.7,334.5 442.2,334.2 442.7,334.6 443.2,334.3 443.7,334.4 444.2,334.2 444.7,334.2 445.2,334.4 445.7,334.3 446.2,334.3 446.7,334.5 447.2,334.3 447.7,334.4 448.2,334.2 448.7,334.3 449.2,334.4 449.7,334.5 450.2,334.3 450.7,334.2 451.3,334.6 451.8,334.3 452.3,334.5 452.8,334.4 453.3,334.4 453.8,334.3 454.3,334.7 454.8,334.2 455.3,334.3 455.8,334.3 456.3,334.7 456.8,334.5 457.3,334.2 457.8,334.3 458.3,334.5 458.8,334.5 459.3,334.4 459.8,334.6 460.3,334.5 460.8,334.6 461.3,334.4 461.8,334.6 462.3,334.4 462.8,334.7 463.3,334.7 463.8,334.4 464.3,334.7 464.8,334.6 465.3,334.5 465.8,334.6 466.3,334.4 466.8,334.5 467.3,334.5 467.8,334.6 468.3,334.5 468.8,334.7 469.3,334.5 469.8,334.6 470.3,334.6 470.8,334.6 471.3,334.6 471.8,334.4 472.3,334.7 472.8,334.5 473.3,334.5 473.8,334.5 474.3,334.6 474.8,334.4 475.3,334.4 475.8,334.5 476.3,334.6 476.8,334.8 477.3,334.8 477.8,334.6 478.3,334.7 478.8,334.5 479.3,334.7 479.8,334.8 480.3,334.6 480.8,334.5 481.3,334.6 481.8,334.6 482.3,334.6 482.8,334.5 483.3,334.8 483.8,334.8 484.3,334.7 484.8,334.5 485.3,334.5 485.8,334.7 486.3,334.6 486.8,334.7 487.3,334.7 487.8,334.8 488.3,334.7 488.8,334.9 489.3,334.6 489.8,334.8 490.3,334.8 490.8,334.6 491.3,334.8 491.9,334.7 492.4,334.9 492.9,334.9 493.4,334.6 493.9,334.7 494.4,334.9 494.9,334.7 495.4,334.6 495.9,334.8 495.9,335.3" fill="#00ff00"/>
<line x1="349" y1="335.30" x2="495.9" y2="335.30" stroke="#00ff00" stroke-width="0.9"/>
<path d="M369.6 335.3V328.8M364.7 335.3V329.8M368.5 335.3V330.7M369.4 335.3V328.4M366.8 335.3V327.3M364.6 335.3V330.6M366.0 335.3V329.2M368.1 335.3V331.5M372.6 335.3V331.1M366.6 335.3V328.7M374.0 335.3V329.4M349.6 335.3V316.5M354.3 335.3V325.3M356.2 335.3V325.6M356.2 335.3V324.0M351.7 335.3V326.1M349.4 335.3V325.0M352.7 335.3V322.0M357.6 335.3V330.2M355.2 335.3V324.2M350.8 335.3V322.4M352.4 335.3V324.3M354.9 335.3V323.3M349.3 335.3V323.7M355.3 335.3V323.9M357.9 335.3V325.1M355.4 335.3V321.7M354.6 335.3V321.3M355.3 335.3V321.5M351.2 335.3V322.8M350.0 335.3V317.8M352.0 335.3V295.0M355.1 335.3V307.9M354.4 335.3V321.2M366.5 335.3V324.2M368.8 335.3V324.8M371.0 335.3V325.5M372.7 335.3V326.9M357.5 335.3V329.7M377.2 335.3V331.1" stroke="#ff8c8c" stroke-width="1.7"/>
<path d="M375.5 335.3V330.7M371.0 335.3V330.0M371.9 335.3V332.0M366.4 335.3V327.8M367.9 335.3V327.7M368.2 335.3V327.9M366.2 335.3V328.6M374.0 335.3V328.7M369.3 335.3V330.9M351.6 335.3V319.0M350.5 335.3V319.2M352.6 335.3V324.5M356.2 335.3V329.3M354.1 335.3V320.9M356.0 335.3V328.4M349.0 335.3V314.8M351.7 335.3V321.6M350.0 335.3V319.0M350.9 335.3V323.0M349.4 335.3V282.1M352.7 335.3V307.2" stroke="#ff0000" stroke-width="1.3"/>
<path d="M349.6 335.3V308.6" stroke="#ff0000" stroke-width="1.9"/>
<polygon points="349.0,335.3 349.0,320.6 349.5,314.5 350.0,320.6 350.5,323.6 351.0,319.0 351.5,315.7 352.0,321.3 352.5,320.7 353.0,321.1 353.5,315.2 354.0,322.8 354.5,321.9 355.0,317.8 355.5,321.4 356.0,320.6 356.5,319.3 357.0,322.5 357.5,320.9 358.0,325.1 358.5,326.0 359.0,330.0 359.5,328.5 360.0,330.7 360.5,328.4 361.0,331.5 361.5,329.7 362.0,330.6 362.5,332.0 363.0,333.0 363.5,332.3 364.0,330.8 364.5,329.0 365.0,328.0 365.5,327.3 366.0,329.9 366.5,328.0 367.0,329.0 367.5,326.1 368.1,328.1 368.6,325.6 369.1,328.3 369.6,328.4 370.1,328.6 370.6,325.8 371.1,329.1 371.6,326.8 372.1,326.0 372.6,326.0 373.1,328.8 373.6,328.7 374.1,330.5 374.6,329.2 375.1,328.6 375.6,331.3 376.1,330.3 376.6,331.6 377.1,333.0 377.6,333.2 378.1,332.7 378.6,332.6 379.1,332.9 379.6,333.4 380.1,333.4 380.6,333.3 381.1,334.2 381.6,333.9 382.1,333.7 382.6,333.9 383.1,333.7 383.6,334.0 384.1,333.3 384.6,333.4 385.1,333.9 385.6,333.7 386.1,333.6 386.6,334.1 387.1,333.3 387.6,333.8 388.1,333.7 388.6,333.9 389.1,333.6 389.6,333.4 390.1,333.4 390.6,333.5 391.1,333.3 391.6,333.8 392.1,333.5 392.6,333.9 393.1,333.9 393.6,333.5 394.1,333.4 394.6,334.1 395.1,333.8 395.6,334.0 396.1,333.8 396.6,334.1 397.1,333.8 397.6,333.9 398.1,334.1 398.6,333.8 399.1,334.0 399.6,334.1 400.1,334.0 400.6,333.9 401.1,333.4 401.6,333.5 402.1,333.8 402.6,333.9 403.1,333.4 403.6,334.1 404.1,334.0 404.6,333.6 405.2,333.4 405.7,333.3 406.2,333.5 406.7,333.6 407.2,334.1 407.7,333.7 408.2,333.4 408.7,334.2 409.2,333.8 409.7,333.9 410.2,333.6 410.7,333.8 411.2,334.0 411.7,333.4 412.2,333.7 412.7,333.9 413.2,333.5 413.7,333.7 414.2,334.0 414.7,333.5 415.2,333.9 415.7,333.7 416.2,333.8 416.7,334.0 417.2,334.2 417.7,333.5 418.2,334.0 418.7,333.9 419.2,333.4 419.7,334.0 420.2,333.3 420.7,334.0 421.2,334.2 421.7,334.1 422.2,333.4 422.7,333.8 423.2,333.2 423.7,333.2 424.2,333.6 424.7,332.7 425.2,333.6 425.7,332.3 426.2,332.8 426.7,332.6 427.2,332.1 427.7,332.7 428.2,331.7 428.7,332.5 429.2,332.1 429.7,332.4 430.2,332.3 430.7,333.4 431.2,333.2 431.7,332.6 432.2,333.8 432.7,333.0 433.2,333.5 433.7,334.0 434.2,333.6 434.7,333.4 435.2,333.4 435.7,334.1 436.2,333.6 436.7,333.8 437.2,333.5 437.7,333.6 438.2,333.7 438.7,334.2 439.2,334.2 439.7,333.7 440.2,333.8 440.7,333.8 441.2,333.8 441.7,333.8 442.3,334.3 442.8,333.7 443.3,333.8 443.8,334.2 444.3,334.2 444.8,334.1 445.3,334.1 445.8,334.3 446.3,334.0 446.8,333.9 447.3,334.1 447.8,333.8 448.3,334.3 448.8,334.4 449.3,334.1 449.8,333.9 450.3,334.4 450.8,334.2 451.3,334.1 451.8,334.1 452.3,334.2 452.8,334.3 453.3,334.2 453.8,334.1 454.3,334.2 454.8,334.2 455.3,334.2 455.8,334.4 456.3,334.2 456.8,334.5 457.3,334.1 457.8,334.3 458.3,334.6 458.8,334.4 459.3,334.3 459.8,334.2 460.3,334.3 460.8,334.7 461.3,334.3 461.8,334.4 462.3,334.3 462.8,334.6 463.3,334.5 463.8,334.6 464.3,334.5 464.8,334.6 465.3,334.5 465.8,334.6 466.3,334.7 466.8,334.3 467.3,334.6 467.8,334.8 468.3,334.7 468.8,334.5 469.3,334.7 469.8,334.4 470.3,334.4 470.8,334.6 471.3,334.5 471.8,334.7 472.3,334.6 472.8,334.5 473.3,334.6 473.8,334.5 474.3,334.5 474.8,334.5 475.3,334.8 475.8,334.5 476.3,334.7 476.8,334.7 477.3,334.8 477.8,334.6 478.3,334.6 478.8,334.8 479.4,334.8 479.9,334.7 480.4,334.6 480.9,334.8 481.4,334.8 481.9,334.7 482.4,334.8 482.9,334.7 483.4,334.9 483.9,334.8 484.4,334.8 484.9,334.9 485.4,334.8 485.9,334.8 486.4,334.9 486.9,334.7 487.4,334.8 487.9,334.8 488.4,335.0 488.9,334.9 489.4,334.8 489.9,335.0 490.4,334.9 490.9,334.8 491.4,334.8 491.9,334.9 492.4,335.0 492.9,335.0 493.4,335.0 493.9,334.9 494.4,334.9 494.9,335.0 495.4,334.9 495.9,335.1 496.4,334.9 496.9,334.9 497.4,335.0 497.9,335.0 498.4,335.1 498.4,335.3" fill="#ff0000"/>
<line x1="349" y1="335.30" x2="498.4" y2="335.30" stroke="#ff0000" stroke-width="0.9"/>
<path d="M340 273.5H527M340 338.5H527" stroke="#555" stroke-width="1" fill="none"/>
<line x1="340.5" y1="273.5" x2="340.5" y2="338.5" stroke="#555" stroke-width="1"/>
<line x1="527" y1="273" x2="527" y2="339" stroke="#a8a8a8" stroke-width="2"/>
<line x1="349" y1="338.5" x2="349" y2="337" stroke="#444" stroke-width="0.8"/>
<text x="349" y="345.9" font-size="8.6" text-anchor="middle">0</text>
<line x1="377.2" y1="338.5" x2="377.2" y2="337" stroke="#444" stroke-width="0.8"/>
<text x="377.2" y="345.9" font-size="8.6" text-anchor="middle">1000</text>
<line x1="405.5" y1="338.5" x2="405.5" y2="337" stroke="#444" stroke-width="0.8"/>
<text x="405.5" y="345.9" font-size="8.6" text-anchor="middle">2000</text>
<line x1="433.7" y1="338.5" x2="433.7" y2="337" stroke="#444" stroke-width="0.8"/>
<text x="433.7" y="345.9" font-size="8.6" text-anchor="middle">3000</text>
<line x1="462" y1="338.5" x2="462" y2="337" stroke="#444" stroke-width="0.8"/>
<text x="462" y="345.9" font-size="8.6" text-anchor="middle">4000</text>
<line x1="490.2" y1="338.5" x2="490.2" y2="337" stroke="#444" stroke-width="0.8"/>
<text x="490.2" y="345.9" font-size="8.6" text-anchor="middle">5000</text>
<line x1="518.5" y1="338.5" x2="518.5" y2="337" stroke="#444" stroke-width="0.8"/>
<text x="518.5" y="345.9" font-size="8.6" text-anchor="middle">6000</text>
<path transform="translate(118.7 387.5) scale(0.81620 0.04000)" d="M0 -37l1-111 1-59 1 97 1 248 1-51 1 10 1-61 1 119 1-63 1 44 1 17 1-319 1 154 1-102 1-21 1-18 1 165 1 239 1-306 1 64 1 166 1 97 1-398 1 5 1-9 1-24 1 18 1 83 1 13 1-83 1 45 1 49 1-48 1 124 1 43 1-292 1-28 1 108 1 199 1-71 1-143 1 83 1 81 1-212 1 168 1 0 1-2 1 81 1-163 1 267 1-187 1-56 1-88 1 85 1 184 1-203 1 14 1 79 1 64 1 51 1-100 1-38 1-264 1 227 1 40 1 208 1-59 1-69 1-40 1 3 1-139 1-60 1 33 1 213 1-20 1 30 1 55 1-10 1-158 1 135 1-161 1 100 1 27 1-77 1-19 1-283 1 388 1-109 1 170 1-104 1-196 1 93 1-135 1 381 1-80 1-99 1 119 1-52 1 76 1-209 1 109 1-38 1 137 1-87 1-226 1 93 1 71 1 90 1-53 1-32 1-205 1 181 1 57 1-3 1 83 1-140 1 149 1-26 1-36 1-277 1 45 1 198 1-119 1 61 1-50 1 85 1-79 1-108 1 180 1-119 1 158 1-107 1 180 1-173 1 159 1-24 1-96 1-214 1 215 1-102 1 55 1 96 1 94 1-25 1 97 1-217 1 53 1-29 1-42 1-159 1 246 1-73 1-33 1-24 1 107 1-167 1 202 1-65 1 200 1-209 1 42 1 33 1 32 1-145 1-30 1-166 1 339 1-152 1-21 1-69 1 230 1 5 1-106 1 58 1-22 1 103 1-115 1-130 1 121 1-25 1-39 1-5 1 39 1 202 1-37 1-254 1 226 1-86 1-125 1 208 1 112 1-124 1-149 1-10 1-67 1-81 1 362 1 365 1-133 1-516 1 141 1-381 1 538 1 127 1 222 1-271 1-419 1-92 1 256 1-87 1 295 1 50 1-151 1 45 1-93 1-61 1 68 1 102 1-34 1 17 1-37 1-25 1-195 1 174 1-177 1 310 1 88 1-230 1 43 1-262 1 215 1-71 1 43 1-88 1-6 1 260 1 27 1-138 1-123 1-1 1 155 1-267 1 223 1-182 1 138 1 138 1-95 1-149 1 5 1 119 1-211 1 177 1-63 1 4 1 104 1 108 1-145 1 18 1 47 1-77 1 44 1-152 1 28 1 145 1-204 1 172 1 150 1-53 1-88 1-95 1 130 1-174 1-98 1 321 1-127 1 116 1-225 1 309 1-287 1 149 1-59 1-29 1 95 1 26 1-292 1 150 1 41 1-121 1 222 1-164 1 115 1 139 1-94 1-87 1 93 1-1 1-152 1 80 1 50 1 97 1-228 1-42 1 113 1-57 1 78 1-148 1 22 1 92 1-79 1 91 1-177 1 57 1 145 1-148 1 93 1 43 1-48 1 81 1-94 1 85 1-34 1-229 1 482 1-203 1-198 1 209 1 76 1-253 1-57 1 195 1-63 1 92 1 57 1-175 1-18 1 74 1 134 1-124 1 65 1-18 1-73 1 36 1 152 1-243 1 119 1-6 1 90 1-36 1 82 1-146 1 62 1-39 1-159 1 208 1-162 1 178 1-104 1 162 1-172 1-39 1 392 1-235 1-135 1 10 1 72 1-41 1-60 1 26 1 201 1-243 1 167 1-97 1-15 1 42 1-162 1 50 1 26 1-126 1 237 1-26 1-109 1 97 1 81 1-145 1-25 1 189 1-201 1 154 1-58 1-38 1-130 1 138 1-82 1 127 1-49 1 112 1-219 1 114 1 64 1-169 1 13 1 52 1 40 1-15 1-29 1 47 1 61 1-85 1 78 1-177 1 144 1-11 1 180 1-133 1-40 1 164 1-102 1 20 1-84 1-89 1 290 1-241 1-91 1 8 1 139 1 153 1-230 1 57 1-58 1-23 1 85 1 132 1-58 1 96 1-190 1 52 1 176 1 25 1-267 1 176 1 35 1-280 1 121 1 45 1-45 1-131 1 135 1-161 1 72 1 77 1-90 1 218 1 17 1-97 1-171 1 217 1-54 1 37 1-92 1 77 1-140 1 136 1-72 1-83 1 209 1 35 1-23 1 51 1-291 1 101 1-84 1 159 1-42 1-127 1 41 1-80 1 180 1 166 1-97 1-3 1-69 1 54 1 37 1-42 1 86 1-166 1 12 1-66 1-89 1 153 1-205 1 238 1 22 1-4 1 31 1-218 1 355 1-251 1-10 1 18" stroke="#0000ff" stroke-width="1.0" fill="none" vector-effect="non-scaling-stroke" stroke-linejoin="round"/>
<path transform="translate(118.7 387.5) scale(0.81620 0.04000)" d="M0 0l1 11 1-166 1 70 1 216 1-77 1-80 1-44 1 72 1 66 1-31 1-56 1-26 1 12 1 22 1 21 1-1 1-1 1-5 1-7 1 8 1 14 1-9 1-20 1 6 1 14 1-8 1-7 1 11 1 0 1-17 1-5 1 9 1 3 1 6 1 10 1 2 1 0 1 4 1-15 1-29 1 2 1 31 1 13 1-10 1-11 1-6 1-1 1 11 1 6 1-12 1-4 1 16 1 4 1-15 1-8 1 7 1 10 1 7 1-7 1-20 1-4 1 19 1 7 1-10 1 2 1 10 1-6 1-6 1 9 1 4 1-13 1-10 1 4 1 9 1 3 1-11 1-13 1 7 1 23 1 7 1-8 1 4 1 3 1-18 1-15 1 10 1 13 1-4 1-8 1-1 1 1 1 1 1 2 1 2 1 8 1 8 1-9 1-13 1 4 1 8 1-6 1-5 1 8 1 8 1-3 1-8 1-7 1-2 1 8 1 5 1-7 1-3 1 11 1 2 1-12 1-1 1 14 1 7 1-5 1-1 1-1 1-7 1-9 1-7 1-2 1 10 1 10 1-8 1-5 1 23 1 22 1-16 1-25 1 5 1 8 1-15 1-8 1 18 1 10 1-12 1-8 1 3 1-4 1-5 1 13 1 17 1 3 1-8 1-5 1 1 1-1 1-6 1-8 1 0 1 4 1-3 1-2 1 5 1 4 1-1 1 6 1 10 1-4 1-15 1 2 1 19 1 6 1-23 1-24 1 11 1 30 1-6 1-39 1-4 1 45 1 22 1-29 1-22 1 13 1 13 1-2 1-2 1-8 1-9 1 13 1 20 1-10 1-21 1 3 1 2 1-15 1 2 1 32 1 7 1-104 1 94 1 252 1 29 1-125 1-340 1-38 1-84 1 222 1 344 1 109 1-98 1-266 1-300 1-20 1 106 1 283 1 141 1 4 1-163 1-121 1-138 1 48 1 135 1 86 1 100 1-81 1-104 1-99 1 62 1 8 1 61 1 50 1-42 1-37 1-48 1 4 1 32 1 42 1 7 1 3 1-19 1-46 1-7 1 23 1 25 1 0 1 3 1 7 1-22 1-17 1-4 1-1 1 3 1 23 1 21 1 2 1-18 1-20 1-5 1 13 1 16 1-9 1-5 1 13 1 3 1-20 1-6 1 8 1 2 1 4 1 11 1-11 1-24 1 0 1 15 1 6 1 10 1 13 1-9 1-14 1 10 1 4 1-18 1-6 1 14 1-3 1-14 1 1 1 1 1-5 1 15 1 21 1-3 1-10 1 6 1-1 1-14 1 2 1 5 1-18 1-11 1 25 1 20 1-16 1-20 1 5 1 15 1 5 1-2 1-8 1-4 1 9 1 12 1-7 1-21 1-6 1 14 1 12 1-2 1-8 1-5 1-5 1 4 1 21 1 14 1-19 1-22 1 9 1 14 1-16 1-15 1 23 1 24 1-17 1-27 1 7 1 23 1 1 1-18 1-9 1 9 1 18 1 5 1-16 1-15 1 8 1 18 1 0 1-15 1-8 1 4 1 5 1 4 1 3 1-5 1-8 1-2 1 9 1 12 1 6 1-7 1-18 1-8 1 12 1 12 1-1 1-1 1 0 1-11 1-15 1 5 1 18 1 2 1-6 1 7 1 10 1-5 1-12 1-5 1-3 1-4 1 2 1 9 1 9 1 8 1 2 1-9 1-7 1 2 1-7 1-19 1 1 1 25 1 6 1-19 1 0 1 23 1 1 1-14 1 10 1 15 1-16 1-21 1 2 1-3 1-10 1 19 1 27 1-17 1-30 1 12 1 23 1-6 1-3 1 17 1-3 1-22 1 1 1 12 1-13 1-11 1 16 1 6 1-15 1 5 1 22 1-9 1-24 1 5 1 19 1 0 1-4 1 6 1-3 1-16 1-8 1 4 1 14 1 16 1-3 1-22 1 0 1 24 1-2 1-25 1-2 1 13 1-13 1-7 1 29 1 16 1-19 1-14 1 3 1-2 1 7 1 19 1-10 1-27 1 12 1 29 1-12 1-26 1 8 1 12 1-14 1-12 1 5 1 12 1 21 1 15 1-17 1-26 1 1 1 5 1-1 1 18 1 14 1-30 1-26 1 26 1 22 1-27 1-16 1 25 1 10 1-14 1 6 1 17 1-5 1-15 1-1 1 5 1-1 1-9 1-10 1 4 1 16 1 1 1-12 1 6 1 18 1-1 1-10 1-1" stroke="#00ff00" stroke-width="0.9" fill="none" vector-effect="non-scaling-stroke" stroke-linejoin="round"/>
<path transform="translate(118.7 387.5) scale(0.81620 0.04000)" d="M0 -37l1 8 1-185 1 47 1 335 1-41 1-80 1-51 1 61 1-27 1 20 1-16 1-84 1 32 1-71 1 74 1-21 1 28 1 77 1-90 1 47 1 65 1 10 1-171 1 70 1-67 1-42 1 94 1 2 1-8 1-5 1-38 1 23 1 11 1 34 1 21 1-99 1 26 1 40 1 33 1-48 1-29 1 29 1 21 1-71 1 48 1 18 1 32 1 10 1-87 1 107 1-96 1-7 1-5 1 51 1 55 1-106 1 61 1 11 1-11 1-10 1-33 1 63 1-140 1 62 1 63 1 55 1-58 1 54 1-30 1-54 1-25 1-18 1 2 1 71 1 3 1 7 1 48 1-23 1-75 1 76 1-92 1 99 1-33 1-25 1 32 1-218 1 235 1-39 1-8 1 71 1-136 1-27 1 50 1 89 1-14 1 34 1-22 1-5 1-1 1-100 1 109 1-87 1 61 1 68 1-159 1 13 1 76 1-12 1 18 1 12 1-163 1 99 1 72 1-52 1 32 1-24 1 42 1 6 1-11 1-122 1 16 1 36 1-36 1 79 1-20 1 11 1-49 1-49 1 125 1-67 1-1 1 39 1 73 1-136 1 110 1-22 1-81 1-35 1 111 1-96 1 53 1 64 1-12 1-1 1 23 1-71 1 83 1-20 1-82 1-119 1 144 1 30 1-22 1-28 1 53 1-84 1 52 1 0 1 79 1-77 1 80 1-4 1-81 1-37 1 24 1-104 1 190 1-61 1-82 1-2 1 164 1-6 1-117 1 50 1 1 1 17 1 0 1-78 1 0 1 56 1 9 1-60 1 47 1 74 1-25 1-96 1 53 1 16 1-63 1 82 1 86 1-93 1-115 1 8 1-20 1 25 1 300 1 166 1-133 1-435 1 3 1-136 1 366 1 191 1 138 1-121 1-295 1-254 1 41 1 56 1 315 1 97 1-53 1-96 1-101 1-84 1 41 1 125 1 56 1 9 1-71 1-15 1-136 1 123 1-129 1 139 1 147 1-157 1-41 1-106 1 118 1 10 1-18 1-15 1 49 1 70 1-22 1-141 1 5 1 136 1-39 1-103 1 138 1-177 1 87 1 75 1-75 1-38 1-23 1 119 1-33 1-20 1 10 1 4 1-26 1 80 1-36 1 3 1 29 1-85 1 41 1-53 1-15 1 80 1-66 1 90 1 20 1-56 1-31 1 13 1 55 1-64 1 12 1 55 1-67 1 47 1-20 1 16 1-55 1 63 1-55 1 15 1 12 1 16 1-61 1 39 1 22 1-55 1 48 1-15 1 34 1 28 1-22 1-40 1 8 1 7 1-12 1 6 1 0 1 4 1-48 1 38 1 29 1-17 1-5 1-30 1 20 1 24 1-18 1-2 1-15 1 17 1 9 1-31 1 29 1-34 1 14 1 33 1-3 1 29 1-63 1-18 1 40 1 11 1-33 1 15 1 50 1-66 1 30 1-21 1 2 1 24 1-13 1 13 1-40 1 28 1 18 1-5 1 4 1-50 1 18 1 26 1 16 1-37 1-8 1 9 1 23 1 4 1 36 1-37 1-19 1-6 1 3 1-3 1-6 1 43 1-54 1 49 1-43 1 22 1 64 1-67 1 20 1-28 1-12 1-1 1-6 1 33 1 62 1-44 1-38 1 18 1 16 1-37 1-17 1 15 1 8 1-30 1 34 1 33 1-16 1 20 1-26 1-3 1 26 1-47 1-29 1 31 1 16 1 22 1-29 1 0 1 3 1 31 1-17 1 33 1-69 1-3 1 48 1-57 1-8 1 38 1 34 1-13 1-45 1 40 1 20 1-28 1 21 1-27 1 30 1-36 1 23 1-13 1-32 1 52 1-16 1 27 1-13 1-20 1 45 1-30 1-25 1-9 1 37 1-22 1 2 1 20 1-22 1 6 1-7 1 17 1-17 1 59 1-38 1-24 1 53 1 29 1-63 1-28 1 40 1-54 1 33 1 31 1-38 1 7 1 30 1-40 1-11 1 23 1-14 1 41 1 17 1-42 1-24 1 25 1 18 1 2 1-28 1 40 1-49 1-7 1 12 1-2 1 45 1-2 1-19 1-7 1-27 1 37 1 0 1 4 1-5 1-1 1-46 1 9 1 38 1-12 1-4 1-11 1 30 1 14 1-4 1 1 1-9 1-20 1-2 1 22 1-29 1 1 1 0 1-4 1 14 1 25 1-28 1-24 1 56 1-34 1 17 1-3" stroke="#ff0000" stroke-width="1.1" fill="none" vector-effect="non-scaling-stroke" stroke-linejoin="round"/>
<path d="M118 355.5H527M118 419.5H527" stroke="#555" stroke-width="1" fill="none"/>
<line x1="119" y1="355" x2="119" y2="420" stroke="#a0a0a0" stroke-width="2"/>
<line x1="527" y1="355" x2="527" y2="420" stroke="#a8a8a8" stroke-width="2"/>
<line x1="118.7" y1="355.5" x2="120.2" y2="355.5" stroke="#444" stroke-width="0.8"/>
<text x="118" y="358.4" font-size="8.6" text-anchor="end">8</text>
<line x1="118.7" y1="371.5" x2="120.2" y2="371.5" stroke="#444" stroke-width="0.8"/>
<text x="118" y="374.4" font-size="8.6" text-anchor="end">4</text>
<line x1="118.7" y1="387.5" x2="120.2" y2="387.5" stroke="#444" stroke-width="0.8"/>
<text x="118" y="390.4" font-size="8.6" text-anchor="end">0</text>
<line x1="118.7" y1="403.5" x2="120.2" y2="403.5" stroke="#444" stroke-width="0.8"/>
<text x="118" y="406.4" font-size="8.6" text-anchor="end">-4</text>
<line x1="118.7" y1="419.5" x2="120.2" y2="419.5" stroke="#444" stroke-width="0.8"/>
<text x="118" y="422.4" font-size="8.6" text-anchor="end">-8</text>
<line x1="118.7" y1="419.5" x2="118.7" y2="418" stroke="#444" stroke-width="0.8"/>
<text x="118.7" y="426.9" font-size="8.6" text-anchor="middle">0</text>
<line x1="200.3" y1="419.5" x2="200.3" y2="418" stroke="#444" stroke-width="0.8"/>
<text x="200.3" y="426.9" font-size="8.6" text-anchor="middle">100</text>
<line x1="281.9" y1="419.5" x2="281.9" y2="418" stroke="#444" stroke-width="0.8"/>
<text x="281.9" y="426.9" font-size="8.6" text-anchor="middle">200</text>
<line x1="363.6" y1="419.5" x2="363.6" y2="418" stroke="#444" stroke-width="0.8"/>
<text x="363.6" y="426.9" font-size="8.6" text-anchor="middle">300</text>
<line x1="445.2" y1="419.5" x2="445.2" y2="418" stroke="#444" stroke-width="0.8"/>
<text x="445.2" y="426.9" font-size="8.6" text-anchor="middle">400</text>
<line x1="526.8" y1="419.5" x2="526.8" y2="418" stroke="#444" stroke-width="0.8"/>
<text x="526.8" y="426.9" font-size="8.6" text-anchor="middle">500</text>
<path transform="translate(118.7 469) scale(0.09121 0.04063)" d="M0 -175l1 128 1-79 1-21 1 14 1 72 1 47 1 1 1-41 1 248 1-125 1-183 1-99 1 153 1 256 1-20 1-161 1-257 1 182 1 202 1 119 1-228 1-220 1 302 1 136 1 35 1-295 1-92 1 10 1 166 1 27 1-174 1 1 1-82 1 318 1-56 1-84 1-267 1 308 1-2 1 4 1-178 1 44 1 12 1 102 1 51 1-110 1-56 1-69 1 284 1-205 1-49 1 81 1-44 1 203 1-152 1 149 1-230 1 183 1 10 1-28 1-86 1 38 1-92 1 93 1-104 1 18 1-125 1 109 1-73 1 136 1 176 1-312 1 200 1-105 1 84 1-109 1 51 1-4 1 108 1-75 1-161 1 67 1-67 1 232 1-184 1 85 1-37 1 98 1 34 1 9 1-86 1-14 1-92 1 90 1-10 1 53 1-10 1-105 1 39 1-13 1 146 1-120 1 79 1-216 1 124 1 37 1-23 1-35 1 23 1 93 1 92 1-166 1 27 1 152 1-160 1 42 1 14 1 191 1-248 1 4 1-307 1 301 1 260 1-150 1-330 1-105 1 292 1 351 1-248 1-66 1-137 1 111 1 306 1-269 1-175 1 118 1 10 1 260 1-209 1 6 1 21 1-109 1 114 1-65 1-102 1-37 1 201 1-94 1 73 1 24 1-33 1-56 1 128 1-150 1-134 1 93 1 228 1-153 1 132 1-117 1-22 1 99 1 51 1-111 1 97 1-66 1 155 1-257 1 145 1-73 1 62 1 27 1-247 1 48 1 282 1-195 1 85 1-70 1 47 1 15 1 4 1-175 1 181 1-116 1-12 1 81 1-71 1 144 1-76 1 132 1-133 1 24 1 43 1-7 1-186 1 14 1 107 1 9 1 96 1-114 1-95 1 48 1-135 1 372 1-42 1-55 1 41 1-157 1-43 1-10 1 59 1-66 1 47 1 126 1 142 1-261 1 137 1-113 1-3 1-139 1 113 1 83 1 4 1 116 1-56 1-332 1 205 1 113 1-104 1-287 1 108 1 254 1 259 1-269 1-173 1-86 1 379 1 147 1-140 1-349 1 48 1 52 1 370 1-215 1 23 1-341 1 238 1 18 1 78 1-180 1-46 1 206 1 284 1-324 1-43 1-107 1 117 1 53 1 15 1-21 1-20 1-149 1 233 1-124 1-21 1 110 1-75 1-49 1 122 1-47 1-41 1 28 1-61 1 60 1 32 1-58 1 158 1-131 1 44 1 11 1-138 1 258 1-195 1-66 1 156 1-40 1-128 1 204 1-71 1 3 1-32 1-45 1 32 1 189 1-28 1-262 1-66 1 263 1-67 1 18 1-36 1 25 1-103 1 115 1-111 1 108 1-92 1 12 1 83 1-112 1 143 1-79 1-157 1-21 1 190 1 84 1-157 1-41 1 98 1-63 1 207 1-308 1 239 1-38 1-69 1 116 1-297 1 236 1 100 1 1 1-212 1 120 1-66 1 71 1-44 1-203 1 9 1 439 1-109 1-140 1-233 1 103 1 387 1-3 1-315 1-131 1 90 1 132 1 97 1-91 1-139 1 90 1 123 1-151 1-2 1-76 1 137 1 157 1-113 1-134 1-21 1-67 1 339 1 3 1-322 1 1 1 120 1 112 1 37 1-126 1-125 1 174 1-9 1-154 1 66 1 25 1-76 1 175 1-163 1 169 1-181 1 38 1 21 1 37 1 35 1 47 1-130 1 111 1 16 1 46 1-231 1 131 1-107 1-36 1 107 1 56 1 72 1-124 1-151 1 213 1 89 1-112 1-35 1-85 1-24 1 72 1-27 1-8 1 22 1 25 1 50 1-10 1 56 1 22 1-125 1 63 1 22 1-185 1 259 1-93 1-1 1-81 1 2 1 165 1-181 1 15 1 53 1-1 1 68 1-160 1 26 1 75 1 9 1 47 1-160 1 95 1 4 1 108 1 14 1 16 1-215 1-5 1 307 1-321 1-71 1 127 1 253 1 144 1-256 1-357 1-21 1 156 1 485 1-356 1-317 1 150 1 283 1-122 1 117 1-400 1 129 1 345 1-106 1 8 1-280 1 197 1 84 1-172 1 147 1-249 1 86 1 188 1-126 1 99 1-49 1 109 1-92 1-61 1 91 1-223 1 124 1 89 1-31 1-55 1-155 1 386 1-247 1-84 1 223 1-91 1 128 1-153 1 64 1-51 1 22 1-186 1 83 1 202 1-90 1-101 1 75 1 201 1-343 1 159 1 174 1-121 1-39 1-155 1 215 1-14 1-34 1-13 1-70 1 91 1 204 1-318 1 134 1-87 1 8 1-79 1 144 1-125 1 104 1-10 1-15 1-55 1-40 1 134 1-174 1 381 1-314 1-25 1 33 1 147 1-117 1-205 1 7 1 198 1 57 1 40 1-22 1-73 1 40 1 78 1 17 1-7 1-10 1-220 1 32 1 147 1-31 1-34 1-63 1-6 1 128 1-31 1 96 1-400 1 72 1 325 1-90 1-46 1-163 1 61 1 56 1 293 1-42 1-349 1 24 1 310 1 45 1-117 1-152 1-186 1 399 1 125 1-258 1-105 1-57 1 137 1 181 1-171 1 26 1-28 1 27 1 7 1-1 1-22 1-223 1 184 1 53 1-98 1 32 1 104 1 84 1-189 1 1 1 217 1-195 1 119 1-58 1-34 1-75 1-24 1 31 1 158 1-50 1-48 1-7 1 29 1-58 1-36 1 14 1 156 1-26 1-71 1-118 1-46 1 128 1 28 1 34 1-19 1-14 1-32 1-42 1 82 1-49 1-12 1-33 1 60 1 86 1-47 1 24 1 72 1 151 1-342 1 116 1-104 1 217 1-60 1 110 1-181 1 117 1 13 1-75 1-137 1 36 1 24 1 82 1-38 1-101 1-90 1 115 1-20 1 66 1 35 1 29 1-110 1-52 1 111 1-140 1 219 1-79 1-75 1 137 1-114 1 256 1-178 1-153 1-62 1 179 1 170 1-263 1 24 1-260 1 354 1 125 1-51 1-104 1-208 1 249 1 92 1-4 1-240 1-131 1 200 1 237 1-90 1-118 1-102 1 110 1 178 1-129 1-120 1-41 1 116 1-68 1 145 1 23 1-31 1-57 1 64 1 176 1-334 1 5 1 177 1-32 1 29 1-43 1-118 1 11 1 118 1-32 1-75 1 124 1 1 1-125 1-206 1 171 1-91 1 273 1-37 1 3 1-122 1 93 1-172 1 87 1 45 1-149 1 15 1 21 1 149 1 98 1-118 1-97 1 124 1-76 1 188 1-87 1 19 1-38 1 68 1-135 1 48 1 37 1 63 1-158 1 176 1-200 1 187 1-279 1 22 1 39 1 15 1 22 1 82 1 1 1-32 1-219 1 243 1-91 1 53 1-28 1-93 1 59 1 21 1-77 1 40 1 162 1-111 1-148 1 107 1 124 1 322 1-201 1-113 1-404 1 268 1 417 1-302 1-253 1-2 1 67 1 305 1-114 1-163 1 90 1 82 1 103 1-75 1-146 1 7 1 54 1-62 1 244 1-158 1-95 1 249 1-25 1-70 1-68 1-2 1-26 1 138 1-29 1 28 1-189 1 55 1 32 1-7 1 6 1 96 1-83 1-87 1 41 1 12 1-43 1 101 1 151 1-188 1 87 1-108 1 73 1-205 1 247 1-158 1-22 1-42 1 231 1-232 1 182 1-155 1 10 1 22 1 42 1 149 1-293 1 226 1-121 1 65 1 191 1-241 1 13 1 92 1-12 1 3 1-34 1 27 1-34 1-147 1 258 1 12 1-34 1-32 1-4 1-43 1 89 1-189 1 121 1 54 1 22 1-115 1 28 1 63 1-215 1-81 1 153 1-86 1-143 1 151 1 141 1-114 1-19 1 80 1-5 1 73 1-147 1 281 1-122 1-71 1-140 1 70 1 172 1 112 1-303 1 45 1-26 1 416 1-218 1-282 1-22 1 116 1 313 1-25 1-385 1-4 1 251 1 135 1-179 1-149 1 121 1 88 1-56 1 37 1-287 1 152 1 117 1 2 1 78 1-139 1-220 1 196 1 120 1-12 1-114 1-59 1 101 1 82 1 54 1-149 1 133 1-43 1-84 1 11 1-108 1 22 1-1 1 161 1 89 1-240 1 125 1-17 1 164 1-129 1-115 1-27 1 71 1 0 1-82 1-175 1 264 1 185 1-332 1 177 1-33 1-192 1 281 1-99 1 31 1-19 1-125 1 199 1-114 1-46 1 36 1-67 1 116 1-45 1 91 1-92 1-65 1 185 1-101 1-90 1 149 1 49 1-30 1-100 1 84 1-117 1 170 1-168 1 186 1-137 1 55 1-72 1-9 1-5 1 149 1 19 1-30 1 99 1-117 1-88 1 37 1 79 1 30 1 8 1-84 1-44 1 22 1 50 1-292 1 80 1 89 1 288 1 153 1-676 1-38 1 299 1 353 1-216 1-502 1 228 1 171 1 197 1-233 1-74 1-136 1 349 1 41 1-150 1-171 1-26 1 171 1 37 1-6 1-272 1 230 1-8 1 274 1-192 1-264 1 70 1 85 1 178 1-102 1-44 1-110 1 173 1-65 1 76 1 14 1-112 1 67 1 119 1-152 1 133 1-11 1-24 1-46 1-124 1 244 1-151 1 13 1-50 1 61 1-23 1 89 1 57 1-295 1 190 1-48 1-59 1 119 1 15 1-19 1-94 1 199 1-219 1-25 1-65 1 168 1 2 1-24 1-74 1-64 1 59 1-18 1 55 1 119 1 14 1-131 1 102 1 18 1-106 1 72 1 99 1-180 1 142 1 23 1-153 1-6 1 205 1-107 1-75 1 74 1-12 1 59 1-133 1-28 1 159 1-91 1-8 1-65 1 5 1 51 1 35 1 34 1 86 1 56 1-401 1 115 1-80 1 292 1-14 1-162 1-3 1 120 1 267 1-116 1-249 1-59 1 25 1 109 1 72 1-49 1-275 1 310 1-3 1 291 1-284 1-265 1 75 1 236 1-81 1-127 1 60 1 16 1 48 1-182 1 124 1-133 1 34 1 92 1 7 1-23 1-130 1 122 1-5 1 13 1-40 1 123 1-32 1 33 1-33 1 37 1 87 1-213 1 76 1 32 1-61 1 43 1-80 1 123 1-99 1 0 1-187 1 247 1 80 1 30 1-111 1-31 1-15 1 61 1 51 1-153 1-107 1-27 1 146 1-32 1 18 1 66 1-55 1 58 1 39 1-34 1-141 1-22 1 149 1-51 1 50 1-9 1 14 1-51 1 35 1 54 1-10 1-52 1 216 1-308 1 167 1 153 1-211 1 51 1-178 1 140 1 2 1 7 1-67 1-13 1 51 1 54 1-159 1 89 1-93 1 97 1 81 1 7 1-242 1 246 1 227 1-241 1-243 1-3 1 306 1-15 1-106 1-133 1-61 1 299 1 226 1-144 1-396 1 3 1 149 1 308 1-127 1-202 1-10 1 230 1 95 1-52 1-266 1-82 1 278 1 67 1-80 1 37 1-139 1-125 1 102 1 194 1-178 1 36 1-1 1-15 1-41 1 61 1-63 1-59 1 177 1-62 1-12 1-129 1 188 1-37 1 104 1-300 1 234 1 80 1-67 1-90 1 18 1-91 1-4 1 106 1 136 1-225 1-19 1 26 1 45 1 71 1-103 1 72 1 11 1 71 1-189 1 15 1 149 1-87 1 37 1 70 1-50 1-160 1 125 1-70 1 107 1-140 1 10 1-76 1 129 1 16 1-47 1-57 1 58 1-46 1 34 1 181 1-122 1 1 1 41 1 33 1 53 1-109 1 135 1 1 1-116 1-135 1 29 1 36 1 75 1-47 1 61 1 6 1 16 1-85 1-128 1 187 1-44 1 14 1-233 1 102 1 305 1-136 1 58 1-364 1 129 1 237 1 3 1-112 1-177 1 276 1 17 1 67 1-193 1-76 1-78 1 387 1-142 1-252 1 154 1-130 1 132 1 79 1-196 1 77 1-96 1 164 1 106 1-166 1-267 1 335 1 9 1 131 1-184 1-188 1 264 1-169 1 199 1-160 1 81 1-81 1 127 1-238 1 190 1-6 1 182 1-269 1 114 1-28 1-106 1 128 1-129 1-86 1 75 1-20 1 216 1-83 1 74 1-12 1-11 1-50 1-89 1 234 1-239 1 234 1-203 1 76 1-51 1 29 1 6 1-29 1 49 1-50 1-42 1 177 1-141 1-74 1 58 1-11 1 51 1 84 1-75 1-107 1 77 1-61 1 96 1-53 1 112 1-132 1 62 1-45 1 65 1-85 1 82 1 82 1-81 1 31 1 22 1-223 1 70 1 142 1-123 1-12 1 78 1 71 1-175 1 26 1 72 1 208 1-252 1-140 1-88 1 341 1 20 1 52 1-259 1-10 1 138 1 218 1-20 1-371 1 63 1 116 1 199 1-84 1-285 1 88 1 129 1 91 1-78 1-75 1-98 1 102 1 67 1 66 1-169 1-18 1 142 1-98 1-40 1-111 1 177 1 129 1 30 1-131 1-28 1-20 1-11 1 128 1-62 1-47 1 24 1-15 1-95 1 125 1-105 1-22 1 228 1-140 1-164 1 101 1 97 1-169 1 139 1-95 1 57 1 0 1-60 1 88 1 4 1 67 1-63 1 21 1-62 1-5 1 51 1-13 1 182 1-203 1-82 1 95 1 61 1-47 1 33 1 1 1 12 1-69 1 173 1-109 1-188 1 61 1 123 1-12 1-96 1-54 1 76 1 158 1-136 1-66 1 219 1-211 1 170 1-93 1-37 1 177 1-234 1 38 1-33 1 146 1-126 1-31 1 113 1 94 1-110 1 5 1 271 1-253 1-120 1-53 1 513 1-112 1-144 1-250 1-59 1 432 1-116 1-288 1-33 1 76 1 385 1-127 1-318 1 83 1 182 1-91 1 127 1-40 1-206 1 254 1-56 1 44 1-87 1 58 1-112 1 73 1 130 1-111 1-129 1 19 1 119 1 40 1-257 1 101 1 57 1 178 1-138 1 131 1-161 1 102 1-135 1-5 1 88 1-5 1-2 1-119 1 170 1-216 1 183 1-98 1 144 1-257 1 26 1 229 1-40 1-87 1-96 1 3 1 177 1-180 1 104 1 87 1-122 1 128 1 28 1-83 1-33 1-7 1 2 1-76 1 187 1-157 1 90 1-231 1 228 1 57 1-167 1-9 1 207 1-206 1 17 1 41 1 3 1 12 1-29 1 23 1 20 1-4 1-134 1 102 1 42 1-24 1-55 1 177 1-21 1-131 1-20 1 64 1-61 1 85 1 29 1-120 1 31 1 178 1-142 1 79 1-305 1 202 1 257 1-30 1-169 1-197 1-105 1 364 1 180 1-399 1-37 1 11 1 115 1 105 1-149 1 117 1-24 1-62 1 118 1-77 1-130 1-45 1 455 1-253 1 70 1-44 1 24 1 64 1 66 1-311 1 21 1 86 1 90 1-58 1 24 1-19 1-134 1 109 1 54 1-28 1-176 1 168 1-71 1 238 1-285 1-49 1 87 1-57 1 217 1-28 1-90 1 11 1 59 1-56 1-209 1 320 1-74 1 11 1-129 1 17 1 82 1 129 1-116 1-6 1-25 1 65 1-33 1-96 1 45 1 106 1-63 1 7 1-138 1 106 1 68 1-15 1 19 1-59 1 82 1-217 1 123 1-85 1 86 1 31 1-10 1-124 1 330 1-366 1 256 1-86 1 38 1-272 1 183 1 141 1-115 1 30 1-74 1 43 1-90 1 135 1-31 1-35 1-45 1-87 1 292 1-168 1-88 1 220 1-72 1 84 1 21 1-99 1-306 1-15 1 485 1-107 1-122 1-197 1 211 1 162 1 27 1-366 1-135 1 81 1 380 1-69 1 64 1-282 1 62 1 199 1 41 1-76 1-9 1-174 1 57 1 67 1-160 1 32 1 38 1 161 1-66 1-173 1 120 1 120 1-206 1 267 1-93 1-124 1 83 1 38 1-35 1-167 1 71 1 187 1-117 1 37 1-100 1 10 1 116 1-162 1 285 1-130 1-30 1-64 1 55 1 18 1-58 1 52 1 56 1-287 1 300 1-62 1-155 1 211 1-58 1 230 1-342 1 62 1 63 1 120 1-3 1-54 1-206 1 31 1-62 1 211 1-9 1-154 1 84 1 56 1 31 1 1 1 5 1-113 1 37 1-55 1 4 1-30 1 115 1 45 1-34 1 81 1-229 1 75 1-157 1 201 1-52 1 142 1-18 1-76 1 28 1-119 1 40 1-45 1-21 1 49 1 14 1-18 1 74 1-148 1-159 1 352 1 246 1-42 1-679 1 216 1 326 1 172 1-200 1-141 1-186 1 126 1 396 1-225 1-171 1-123 1 118 1 456 1-293 1-218 1 24 1 167 1 28 1 163 1-363 1-67 1 241 1-61 1 87 1-264 1 166 1 153 1-246 1 79 1-88 1 210 1-10 1-195 1 124 1 208 1-235 1 93 1 13 1-170 1 102 1-227 1 113 1 122 1-39 1 0 1-58 1 118 1-100 1 252 1-119 1-88 1-104 1 76 1 254 1-146 1 2 1-47 1 45 1 69 1-275 1 199 1-71 1-33 1 103 1-107 1 11 1 51 1-84 1 48 1-43 1-8 1-90 1 102 1-101 1 58 1 6 1 134 1-42 1 48 1 13 1 135 1-203 1-131 1 36 1 211 1-128 1 63 1-115 1 7 1 30 1 138 1-93 1 3 1 249 1-122 1-147 1 61 1-57 1-37 1-61 1 15 1-75 1 86 1-147 1-17 1 247 1 143 1-204 1-134 1 72 1 299 1 66 1-245 1-185 1 135 1 157 1 43 1-200 1-156 1 53 1 381 1-10 1-109 1-389 1 175 1 78 1 48 1 41 1-122 1-1 1 200 1-61 1-99 1 16 1 59 1-35 1 146 1-234 1 28 1 146 1-273 1 383 1-93 1 26 1-224 1-21 1 83 1-38 1-2 1 87 1 11 1 25 1-99 1 29 1 106 1-64 1-172 1 98 1 283 1-275 1-95 1 170 1 57 1-190 1 148 1-57 1 66 1-92 1-64 1 135 1-140 1 79 1-7 1 163 1-194" stroke="#0000ff" stroke-width="0.6" fill="none" vector-effect="non-scaling-stroke" stroke-linejoin="round"/>
<path transform="translate(118.7 469) scale(0.09121 0.04063)" d="M0 9l1 5 1-6 1-16 1-3 1 42 1-80 1-104 1 132 1 249 1-103 1-210 1-145 1 194 1 252 1-80 1-244 1-229 1 326 1 159 1-8 1-262 1-111 1 205 1 239 1-52 1-228 1-60 1 112 1 136 1-25 1-145 1-68 1 107 1 96 1-28 1-95 1-52 1 83 1 63 1-17 1-63 1-33 1 51 1 45 1-21 1-49 1 5 1 33 1 27 1-23 1-27 1-9 1 20 1 28 1 2 1-26 1-17 1 20 1 16 1-17 1-15 1 15 1 10 1-6 1-8 1 1 1-2 1 1 1 4 1 1 1 2 1 4 1-3 1-8 1-1 1 0 1-1 1 9 1 15 1-6 1-20 1-5 1 12 1 8 1-1 1-8 1-7 1 5 1 9 1-7 1-11 1 7 1 11 1 2 1 1 1-4 1-10 1 9 1 21 1-11 1-32 1 2 1 23 1-8 1-16 1 13 1 12 1-8 1 2 1 13 1-8 1-19 1 1 1 12 1 10 1-2 1 21 1 124 1-93 1-248 1-50 1 278 1 214 1-155 1-273 1-63 1 272 1 179 1-145 1-224 1-51 1 262 1 119 1-117 1-227 1 43 1 161 1 152 1-170 1-95 1 7 1 87 1 47 1-30 1-80 1-21 1 87 1 40 1-44 1-51 1 4 1 45 1 21 1-12 1-47 1-12 1 33 1 17 1-4 1-11 1 0 1-10 1 14 1 11 1-12 1-21 1 15 1 25 1-3 1-27 1-4 1 18 1 11 1-17 1-12 1 9 1 17 1-1 1-14 1-8 1-1 1 5 1 9 1 5 1-1 1-4 1-5 1 3 1 12 1 1 1-17 1-11 1 11 1 8 1-11 1-5 1 15 1 9 1-9 1-6 1 7 1 3 1-9 1-9 1 3 1 12 1 6 1-5 1-7 1-2 1-1 1 1 1 8 1 2 1-8 1-1 1 9 1-2 1-10 1 3 1 7 1-5 1-4 1 33 1-136 1-38 1 217 1 161 1-171 1-316 1 30 1 250 1 228 1-113 1-343 1-63 1 306 1 222 1-173 1-256 1 17 1 199 1 178 1-135 1-192 1-32 1 157 1 116 1-104 1-149 1-23 1 161 1 88 1-81 1-95 1 2 1 79 1 46 1-38 1-62 1-22 1 67 1 37 1-29 1-61 1-3 1 47 1 33 1-20 1-23 1-7 1 22 1 11 1-5 1-9 1-6 1-12 1 10 1 18 1-10 1-19 1 2 1 13 1 1 1 1 1 5 1 3 1-6 1 7 1-1 1-13 1-5 1 9 1-3 1-14 1 1 1 18 1 14 1-2 1-11 1-9 1 4 1 8 1-10 1-12 1 13 1 20 1-9 1-17 1 9 1 15 1-8 1-12 1-2 1-5 1-5 1 10 1 14 1 3 1-3 1-2 1-6 1-3 1 12 1 9 1-9 1-13 1-5 1-5 1-1 1 12 1-20 1 88 1 32 1-94 1-245 1 131 1 234 1 45 1-171 1-273 1 146 1 238 1 112 1-213 1-150 1 35 1 241 1-18 1-118 1-151 1 96 1 156 1-6 1-90 1-79 1-8 1 111 1 60 1-90 1-93 1 40 1 76 1 36 1-47 1-46 1 26 1 51 1 2 1-49 1-39 1 15 1 42 1 29 1-38 1-27 1 25 1 31 1-10 1-23 1-12 1 10 1 10 1 8 1-8 1-17 1-4 1 23 1 19 1-17 1-26 1-1 1 16 1 0 1 1 1 9 1 8 1-8 1-6 1-1 1 1 1 10 1 7 1-19 1-26 1 4 1 22 1 0 1-12 1 11 1 20 1-4 1-15 1 1 1 10 1 0 1-7 1-9 1-5 1 4 1 10 1 2 1-5 1-7 1-4 1 5 1 13 1 4 1-9 1-6 1 5 1-1 1-7 1 7 1 13 1-6 1-15 1 3 1 11 1-4 1-38 1 62 1 189 1-175 1-273 1 116 1 225 1 202 1-187 1-342 1-3 1 321 1 240 1-264 1-304 1 95 1 202 1 89 1-105 1-239 1 76 1 186 1 13 1-22 1-215 1 48 1 118 1 101 1-59 1-113 1-35 1 107 1 54 1-41 1-84 1 15 1 62 1 33 1-48 1-58 1 11 1 53 1 15 1-29 1-26 1 19 1 24 1 4 1-23 1-11 1 19 1-3 1 10 1 1 1-24 1-10 1 14 1 10 1-10 1-4 1 11 1 9 1-2 1-9 1-2 1 0 1 3 1-1 1-1 1 0 1 3 1-1 1 1 1 0 1-8 1-5 1 10 1 9 1-1 1-1 1 3 1-12 1-14 1 7 1 12 1-7 1-4 1 19 1 14 1-14 1-19 1 2 1 12 1 1 1-12 1-10 1 5 1 14 1 6 1-2 1-5 1-4 1 0 1 6 1 3 1-8 1-7 1 3 1 7 1 0 1-5 1-4 1 5 1-20 1 49 1 50 1-14 1-250 1-27 1 254 1 83 1-50 1-190 1-8 1 174 1 123 1-97 1-217 1-26 1 226 1 140 1-143 1-127 1-46 1 127 1 145 1-89 1-144 1-35 1 129 1 76 1-63 1-80 1-1 1 63 1 50 1-43 1-63 1 25 1 34 1 28 1-33 1-37 1 0 1 47 1-4 1-18 1-8 1-8 1 25 1 12 1-8 1-24 1-9 1 25 1 20 1-10 1-7 1-5 1 1 1 5 1-9 1-13 1 0 1 22 1 8 1-12 1-2 1 10 1-8 1-10 1 12 1 13 1-13 1-14 1 4 1 5 1-2 1 4 1 9 1-1 1-9 1-6 1 4 1 7 1 1 1-9 1-7 1 4 1 5 1 2 1 7 1 10 1 0 1-12 1-15 1-9 1 7 1 17 1 6 1-10 1-7 1 3 1 0 1 1 1 6 1 3 1-8 1-7 1 5 1 10 1 6 1-2 1-13 1-19 1 4 1 118 1 15 1-200 1-64 1 120 1 185 1-85 1-159 1-181 1 255 1 166 1 2 1-228 1-111 1 180 1 67 1 56 1-196 1-131 1 183 1 125 1-54 1-101 1-56 1 96 1 119 1-38 1-89 1-42 1 64 1 64 1-26 1-62 1-21 1 35 1 35 1-2 1-32 1-7 1 9 1 16 1 5 1-5 1-21 1 9 1 17 1 3 1-17 1-16 1 11 1 5 1-5 1-6 1 6 1 11 1 7 1-1 1-11 1-7 1 0 1 14 1 0 1-6 1-6 1-3 1 2 1 10 1 5 1-9 1-8 1 9 1 13 1-3 1-13 1-6 1 2 1 2 1 0 1 0 1 4 1 5 1-2 1-6 1 3 1 9 1-2 1-10 1 0 1 6 1-5 1-8 1 7 1 12 1-1 1-9 1-5 1 2 1 6 1 2 1-6 1-5 1 5 1 4 1 27 1-86 1-29 1 100 1 205 1-116 1-216 1-128 1 247 1 226 1-106 1-240 1-61 1 186 1 149 1-101 1-153 1-41 1 136 1 117 1-44 1-158 1-27 1 123 1 90 1-56 1-120 1-13 1 94 1 79 1-44 1-83 1-37 1 78 1 53 1-25 1-51 1-22 1 35 1 36 1-1 1-27 1-18 1 16 1 15 1-4 1-20 1 0 1 11 1 14 1-2 1-16 1-3 1 20 1 16 1-20 1-25 1 2 1 16 1 7 1-11 1-6 1 5 1 6 1 4 1 3 1 3 1-5 1-8 1 1 1 7 1-9 1-14 1 8 1 18 1 0 1-16 1-1 1 8 1 0 1-4 1 1 1 4 1 6 1 7 1-6 1-11 1 0 1 5 1-4 1-4 1 3 1-4 1-6 1 11 1 17 1-2 1-11 1-5 1-4 1-3 1 9 1 10 1-4 1-3 1 5 1-4 1-12 1-2 1 9 1 4 1 1 1 3 1-4 1 20 1-87 1-36 1 107 1 180 1-120 1-218 1-6 1 192 1 124 1-61 1-240 1-48 1 217 1 107 1-53 1-191 1-41 1 166 1 92 1-31 1-217 1-1 1 161 1 105 1-65 1-102 1-54 1 87 1 31 1 24 1-72 1-33 1 68 1 70 1-41 1-58 1-13 1 27 1 35 1-13 1-43 1 20 1 21 1 13 1-16 1-14 1-5 1 6 1 10 1 0 1-13 1-11 1 24 1 16 1-17 1-18 1 3 1 3 1 1 1 8 1 6 1-6 1 2 1 9 1-10 1-15 1 7 1 11 1-6 1-8 1 6 1 4 1-2 1 3 1 1 1-5 1 2 1 4 1-8 1-9 1 9 1 13 1-4 1-12 1 1 1 8 1 2 1-4 1 0 1 3 1-8 1-11 1 9 1 17 1-5 1-10 1 10 1 10 1-16 1-15 1 8 1 4 1-7 1 8 1 12 1-6 1-6 1 44 1-118 1-47 1 163 1 192 1-94 1-485 1 70 1 307 1 270 1-245 1-344 1 70 1 266 1 151 1-108 1-261 1-26 1 229 1 149 1-103 1-179 1-78 1 198 1 87 1-26 1-175 1 47 1 71 1 73 1-66 1-110 1-23 1 120 1 62 1-55 1-68 1-18 1 80 1 26 1-36 1-42 1 13 1 33 1 0 1 3 1-21 1-2 1 0 1 5 1 12 1-10 1-7 1 9 1 14 1-11 1-13 1 9 1 3 1-6 1-4 1 4 1 3 1 0 1 8 1 4 1-9 1-9 1 6 1 5 1-9 1-10 1 3 1 10 1 5 1 5 1 1 1-6 1-5 1 4 1 2 1-10 1-7 1 9 1 5 1-11 1-2 1 20 1 15 1-15 1-21 1 1 1 15 1 2 1-10 1-1 1 7 1-1 1-9 1 3 1 12 1 1 1-4 1 5 1 2 1-18 1-25 1-6 1 172 1 7 1-184 1-88 1 119 1 159 1 14 1-270 1-91 1 174 1 204 1 21 1-264 1-132 1 146 1 187 1 2 1-174 1-89 1 100 1 167 1 23 1-205 1-48 1 71 1 83 1-30 1-73 1-44 1 71 1 51 1 18 1-74 1-44 1 49 1 60 1-37 1-36 1 3 1 27 1 14 1-23 1-13 1 5 1 9 1 8 1-8 1-10 1 5 1 19 1 17 1-22 1-24 1 9 1 5 1 3 1-2 1 2 1 9 1 2 1-3 1-16 1-8 1 7 1 7 1 5 1-1 1-9 1-1 1 13 1 5 1-7 1-1 1 0 1-9 1-2 1 12 1 2 1-10 1-5 1 4 1 4 1 7 1 4 1-10 1-9 1 3 1 2 1 0 1 9 1 8 1-6 1-5 1 7 1 2 1-16 1-14 1 2 1 10 1 5 1 0 1 2 1 6 1 1 1-1 1 1 1-1 1-8 1 25 1-85 1-107 1 169 1 250 1-195 1-203 1-158 1 323 1 112 1-25 1-276 1-75 1 265 1 185 1-92 1-268 1-4 1 170 1 194 1-113 1-161 1-61 1 137 1 142 1-72 1-121 1-80 1 130 1 111 1-61 1-85 1-5 1 56 1 51 1-62 1-48 1-32 1 61 1 45 1-12 1-39 1-6 1 24 1 17 1-3 1-31 1-1 1 32 1 16 1-24 1-35 1-4 1 29 1 11 1-4 1-8 1 2 1 5 1 11 1-7 1-23 1-5 1 22 1 14 1-8 1-9 1 0 1 1 1-2 1-1 1-4 1 2 1 12 1 3 1-12 1-2 1 9 1-3 1-6 1 7 1 1 1-8 1 3 1 3 1-19 1-8 1 30 1 20 1-12 1-5 1 6 1-16 1-12 1 18 1 5 1-27 1-5 1 26 1 2 1-17 1 4 1 17 1-1 1-7 1 2 1 7 1 8 1-2 1-22 1-42 1 80 1 68 1-106 1-209 1 153 1 181 1 15 1-156 1-164 1 66 1 289 1-43 1-159 1-166 1 135 1 173 1 44 1-175 1-105 1 51 1 169 1-31 1-88 1-61 1 20 1 94 1 29 1-52 1-38 1 24 1 33 1 9 1-38 1-66 1 48 1 68 1-10 1-43 1-24 1 26 1 28 1 3 1-28 1-19 1 12 1 27 1 7 1-22 1-17 1 7 1 23 1 7 1-25 1-10 1 15 1 4 1-16 1-9 1 14 1 14 1 6 1-1 1-8 1-10 1-1 1 2 1-1 1 4 1 7 1 0 1-6 1-3 1 3 1 4 1-4 1-14 1-5 1 20 1 18 1-3 1-13 1-8 1-2 1 6 1 10 1-1 1-8 1-2 1-5 1-11 1 3 1 14 1 2 1 1 1 16 1 3 1-21 1-10 1 12 1 6 1-5 1-2 1-5 1-9 1 4 1 7 1-7 1 1 1 18 1 3 1-32 1 49 1 76 1-58 1-182 1-41 1 245 1 128 1-143 1-240 1 68 1 171 1 146 1-162 1-213 1 38 1 193 1 163 1-193 1-112 1-11 1 126 1 48 1-59 1-76 1 12 1 74 1 48 1-62 1-82 1 22 1 67 1 21 1-35 1-54 1 3 1 59 1 29 1-44 1-28 1 17 1 37 1 6 1-16 1-32 1-4 1 17 1 22 1-14 1-28 1-6 1 20 1 22 1 0 1-12 1-6 1 9 1 8 1 0 1-9 1-7 1-4 1-1 1 3 1 6 1 3 1-4 1 2 1 10 1-1 1-18 1-11 1 13 1 20 1-4 1-17 1 0 1 12 1-6 1-14 1 13 1 22 1-4 1-16 1 0 1-1 1-15 1-1 1 19 1 9 1-4 1-3 1-3 1-7 1 3 1 3 1-8 1 0 1 18 1 7 1-15 1-12 1 0 1 2 1 8 1 10 1-2 1-27 1 107 1 58 1-204 1-84 1 43 1 352 1-52 1-253 1-155 1 103 1 304 1 31 1-284 1-174 1 165 1 198 1 30 1-219 1-123 1 132 1 145 1 21 1-151 1-72 1 52 1 117 1 2 1-92 1-29 1 34 1 58 1 32 1-74 1-31 1 9 1 53 1 6 1-47 1-35 1 34 1 14 1 15 1-18 1-14 1 0 1 17 1 3 1-8 1 5 1 5 1-3 1 5 1 3 1-19 1 2 1 18 1-9 1-22 1-1 1 18 1 0 1 2 1 9 1-2 1-9 1 2 1-1 1-9 1-1 1 10 1 8 1 0 1-5 1-9 1 7 1 18 1-9 1-27 1 4 1 23 1-9 1-22 1 8 1 20 1 1 1-1 1 0 1-13 1-12 1 16 1 20 1-1 1-14 1-10 1 0 1 12 1 6 1-16 1-13 1 14 1 12 1-15 1-12 1 19 1 19 1-7 1-18 1-1 1 9 1 28 1-41 1-121 1 54 1 295 1 6 1-255 1-177 1 109 1 195 1 110 1-228 1-245 1 147 1 165 1 39 1-105 1-93 1 39 1 165 1 42 1-145 1-76 1 52 1 124 1-16 1-79 1-57 1 22 1 81 1 31 1-78 1-41 1 21 1 81 1-7 1-35 1-37 1 12 1 35 1 11 1-35 1-16 1 9 1 37 1-3 1-22 1-21 1 1 1 16 1 14 1-9 1-11 1 19 1 3 1-17 1-5 1 14 1 5 1-2 1 1 1-4 1-11 1-2 1 5 1-3 1-3 1 6 1 6 1 6 1 2 1-10 1-10 1 9 1 15 1-4 1-14 1-2 1 5 1-2 1-1 1 2 1 3 1 1 1-2 1-3 1 2 1 4 1-3 1-4 1 5 1 11 1 1 1-12 1-13 1-1 1 8 1 6 1-2 1 1 1 5 1 3 1-1 1-1 1-8 1-7 1 5 1 5 1-6 1 2 1 0 1 86 1 46 1-139 1-185 1 136 1 220 1-14 1-158 1-168 1 78 1 248 1 45 1-213 1-188 1 88 1 246 1 65 1-201 1-126 1 49 1 161 1 36 1-116 1-68 1 47 1 66 1 52 1-100 1-81 1 53 1 71 1 34 1-65 1-45 1 19 1 38 1-6 1-21 1-15 1 25 1 28 1-2 1-28 1-8 1 10 1 17 1-1 1-26 1-10 1 28 1 17 1-13 1-19 1-1 1 8 1 8 1 7 1-6 1-18 1-7 1 15 1 18 1-7 1-13 1 7 1 12 1-9 1-13 1 1 1 6 1 1 1 7 1 8 1-9 1-18 1 0 1 15 1 3 1-7 1 0 1 8 1 1 1-10 1-10 1 3 1 16 1 12 1-4 1-11 1-8 1-5 1 0 1 6 1 6 1 2 1 0 1-5 1-12 1 3 1 24 1 9 1-21 1-17 1 11 1 14 1-5 1-11 1-1 1 7 1 18 1-114 1 5 1 104 1 159 1-41 1-409 1 71 1 281 1 115 1-103 1-199 1-46 1 190 1 191 1-113 1-217 1-100 1 261 1 162 1-177 1-135 1 16 1 98 1 119 1-87 1-121 1-46 1 125 1 85 1-48 1-90 1-10 1 78 1 34 1-54 1-52 1 12 1 56 1 45 1-48 1-49 1 6 1 39 1 1 1-10 1-13 1-1 1 4 1 10 1 14 1-16 1-13 1 18 1 9 1-22 1-4 1 17 1 2 1-14 1 5 1 2 1-13 1 1 1 24 1 4 1-16 1-4 1 10 1 1 1-6 1-1 1-3 1-3 1 3 1 1 1-3 1 2 1 3 1-1 1-1 1 4 1 8 1 5 1-9 1-15 1-1 1 12 1 1 1-8 1 3 1 7 1-7 1-7 1 8 1 7 1-4 1-4 1-2 1 0 1 7 1 8 1 0 1-5 1-5 1-9 1-8 1 7 1 26 1-25 1-141 1 67 1 181 1 53 1-179 1-222 1 154 1 252 1 91 1-296 1-197 1 165 1 193 1 112 1-257 1-155 1 104 1 200 1 24 1-165 1-107 1 72 1 151 1 40 1-135 1-93 1 55 1 97 1 0 1-64 1-74 1 40 1 73 1-3 1-27 1-29 1 20 1 39 1-3 1-28 1-23 1 19 1 26 1-6 1-29 1-15 1 4 1 19 1 13 1-4 1-10 1 11 1 17 1-7 1-17 1-10 1 8 1 13 1 0 1-11 1-7 1 1 1 6 1 2 1-1 1-4 1-6 1 3 1 8 1 5 1-3 1 6" stroke="#00ff00" stroke-width="0.35" fill="none" vector-effect="non-scaling-stroke" stroke-linejoin="round"/>
<path transform="translate(118.7 469) scale(0.09121 0.04063)" d="M0 -21l1 23 1-5 1-5 1-6 1 39 1-59 1-98 1 104 1 252 1-117 1-202 1-124 1 165 1 252 1-54 1-229 1-223 1 287 1 164 1 24 1-276 1-124 1 207 1 245 1-54 1-244 1-33 1 84 1 148 1-26 1-140 1-61 1 63 1 134 1-31 1-81 1-74 1 118 1 29 1-43 1-39 1-39 1 55 1 58 1-12 1-63 1 0 1 36 1 37 1-34 1-18 1 2 1-10 1 37 1-8 1-11 1-30 1 45 1 12 1-22 1-10 1 6 1 10 1-2 1-21 1-5 1-6 1 43 1-51 1 4 1 49 1-21 1 15 1-14 1-4 1-19 1 20 1-13 1 32 1 10 1-56 1 6 1 13 1 19 1-5 1-2 1-41 1 33 1 25 1-14 1-13 1 1 1-7 1 13 1 14 1-9 1-11 1 6 1 38 1-34 1-31 1 4 1 10 1-3 1-8 1 18 1 27 1-24 1 11 1 5 1-6 1-43 1 29 1 56 1-43 1-6 1 30 1 133 1-110 1-246 1-57 1 286 1 224 1-167 1-295 1-9 1 247 1 171 1-133 1-207 1-62 1 223 1 170 1-154 1-222 1 69 1 119 1 176 1-175 1-67 1 0 1 54 1 73 1-36 1-113 1-4 1 112 1 11 1-11 1-60 1 4 1 34 1 31 1-20 1-68 1-4 1 46 1 10 1 21 1-8 1-27 1 2 1 13 1 3 1 4 1-23 1 46 1-37 1 13 1-11 1-2 1-15 1 13 1 12 1 0 1 7 1 1 1 3 1-40 1 0 1 6 1-6 1 48 1-42 1 34 1-27 1-18 1 50 1-2 1 23 1-46 1-1 1 12 1-16 1-41 1 26 1 35 1-17 1 19 1-11 1-12 1 20 1-22 1 15 1-5 1 3 1 26 1-28 1-30 1 32 1 12 1-36 1 23 1 4 1-1 1-3 1 11 1-23 1 7 1 7 1-30 1 30 1 4 1 6 1-81 1-89 1 222 1 160 1-162 1-304 1 2 1 265 1 225 1-140 1-338 1-22 1 343 1 169 1-171 1-263 1 3 1 202 1 206 1-161 1-149 1-51 1 147 1 103 1-105 1-140 1-20 1 172 1 118 1-128 1-96 1 0 1 78 1 56 1-29 1-61 1-33 1 57 1 68 1-60 1-53 1 18 1 39 1 28 1-6 1-34 1-36 1 26 1 28 1-8 1-17 1 4 1-6 1 8 1 32 1-11 1-14 1 6 1-25 1 5 1 17 1 4 1-9 1-6 1 8 1 7 1-3 1-12 1-10 1 33 1-16 1-16 1 9 1 14 1 2 1-5 1-9 1-4 1-2 1 23 1-30 1 16 1 12 1-18 1 3 1-4 1 28 1-17 1-30 1 11 1-3 1 17 1-4 1-16 1 22 1 2 1 37 1-63 1 0 1 44 1-2 1 4 1-39 1-7 1 9 1 10 1-10 1-9 1 81 1 32 1-90 1-251 1 125 1 269 1 20 1-157 1-274 1 145 1 237 1 91 1-210 1-166 1 59 1 231 1 11 1-124 1-172 1 125 1 127 1-3 1-81 1-100 1 28 1 106 1 45 1-110 1-73 1 71 1 45 1 37 1-57 1-55 1 54 1 31 1 37 1-66 1-52 1 33 1 14 1 65 1-69 1-14 1 22 1 25 1 1 1-48 1 4 1 27 1-24 1 13 1 38 1-24 1-41 1 78 1-19 1-32 1-22 1 18 1 3 1-25 1 36 1 20 1 0 1-19 1-34 1 18 1 25 1 29 1 7 1-73 1-44 1 34 1 6 1 35 1 2 1-26 1 49 1-20 1-8 1-11 1 0 1 43 1-39 1-15 1 0 1 20 1 23 1-33 1-1 1-13 1 33 1-17 1-8 1 30 1-22 1-8 1 13 1 24 1-20 1-14 1 21 1 9 1-45 1 16 1 22 1 9 1-56 1 35 1 223 1-204 1-245 1 118 1 223 1 225 1-219 1-330 1-15 1 269 1 289 1-265 1-314 1 112 1 214 1 72 1-90 1-277 1 93 1 217 1-17 1-22 1-202 1 67 1 107 1 67 1-35 1-137 1-13 1 135 1 11 1-35 1-80 1 44 1 46 1 2 1-23 1-75 1 41 1 56 1-32 1-9 1-21 1 33 1 29 1-14 1-13 1-18 1 7 1 7 1 33 1-14 1-45 1-13 1 15 1 12 1 23 1-28 1 16 1 45 1-56 1 9 1 30 1-35 1-3 1 19 1 3 1-24 1 5 1 13 1-13 1 5 1 24 1-53 1 41 1 6 1-22 1 33 1-11 1-67 1 30 1 7 1 28 1 2 1-52 1 57 1 7 1-11 1-35 1-20 1 18 1 59 1-25 1-63 1 13 1 31 1 15 1 17 1-35 1-5 1-7 1 34 1 38 1-46 1-19 1-12 1 24 1 0 1 12 1-14 1-32 1 17 1 45 1 44 1 5 1-279 1-37 1 269 1 103 1-62 1-203 1 26 1 162 1 115 1-87 1-246 1 0 1 224 1 131 1-133 1-147 1-11 1 119 1 132 1-108 1-141 1 11 1 96 1 75 1-43 1-93 1-10 1 91 1 34 1-40 1-70 1 1 1 46 1 16 1-14 1-56 1 21 1 79 1-16 1-6 1-19 1-40 1 43 1 2 1-16 1-30 1 18 1 15 1-9 1 57 1-29 1-31 1 30 1-39 1 15 1 3 1 2 1-6 1 27 1-25 1-6 1 24 1-51 1 33 1 5 1 19 1 3 1-16 1-8 1-23 1 20 1-13 1 22 1 1 1-15 1 10 1 25 1 6 1-33 1 15 1-25 1 9 1-25 1 80 1-48 1-5 1 46 1-52 1-6 1 5 1 28 1 9 1-23 1-17 1-23 1 6 1 0 1 28 1 10 1 28 1-26 1-27 1 14 1 2 1 37 1-37 1-26 1-14 1-1 1 158 1 21 1-196 1-80 1 108 1 167 1-84 1-145 1-185 1 270 1 156 1 26 1-235 1-133 1 202 1 45 1 46 1-179 1-137 1 183 1 150 1-63 1-88 1-68 1 79 1 131 1-29 1-82 1-100 1 91 1 70 1-37 1-37 1-33 1 50 1 40 1 8 1-69 1-7 1 43 1-18 1 28 1 5 1-61 1 2 1 56 1 14 1-58 1-1 1 19 1-15 1-17 1 9 1 11 1 29 1-7 1-4 1-29 1 33 1-16 1 4 1 2 1-23 1 3 1 28 1 6 1-15 1 6 1-34 1 34 1-9 1 4 1 13 1-24 1 17 1 9 1-20 1-13 1 26 1 16 1-19 1 37 1-47 1 22 1-43 1 10 1-17 1 0 1 36 1-12 1 8 1-10 1 7 1 17 1-11 1 11 1-23 1 4 1-21 1 12 1 6 1-16 1 38 1 15 1-112 1 14 1 95 1 188 1-106 1-217 1-153 1 255 1 234 1-96 1-232 1-86 1 190 1 165 1-119 1-147 1-2 1 96 1 84 1 9 1-177 1-35 1 136 1 92 1-56 1-135 1 15 1 81 1 90 1-62 1-74 1-18 1 56 1 59 1-52 1-15 1-54 1 57 1 32 1-25 1 13 1-17 1-5 1 6 1-6 1-31 1 21 1 20 1 16 1 1 1-10 1-16 1 11 1-19 1 44 1-28 1-33 1 35 1 0 1-46 1 48 1-30 1-11 1 29 1 16 1 3 1-12 1 2 1-13 1 11 1 13 1 1 1-25 1 9 1 11 1-31 1 22 1-8 1-26 1 47 1-14 1-18 1 55 1-16 1-24 1-3 1 13 1-13 1 33 1-36 1 7 1 9 1-28 1 27 1-18 1 2 1 5 1 0 1-44 1-3 1 63 1-4 1-4 1-16 1 16 1 0 1-25 1 14 1-4 1 24 1-11 1 6 1-14 1 37 1-120 1-14 1 100 1 184 1-101 1-221 1-9 1 154 1 152 1-45 1-277 1-25 1 249 1 83 1-87 1-185 1-18 1 168 1 66 1 6 1-238 1 25 1 153 1 75 1-31 1-140 1-35 1 68 1 21 1 60 1-79 1-33 1 63 1 78 1-31 1-52 1-15 1 19 1 17 1-7 1-26 1 3 1 2 1 24 1 7 1-53 1 18 1 0 1 45 1 9 1-48 1 1 1 5 1 20 1-27 1-32 1 34 1 23 1-10 1-11 1-7 1-20 1 47 1-2 1-15 1-11 1-8 1 41 1-6 1-9 1-27 1 3 1 24 1-18 1 19 1-9 1-10 1 30 1-18 1-20 1 20 1 17 1 6 1-40 1 12 1-4 1 10 1-2 1 8 1-1 1-4 1-19 1 15 1 21 1-6 1-6 1 16 1-10 1-11 1-12 1-4 1 6 1 33 1-21 1-28 1 51 1-23 1 46 1-128 1-55 1 187 1 169 1-84 1-464 1 64 1 290 1 264 1-236 1-359 1 59 1 262 1 186 1-104 1-251 1-40 1 234 1 139 1-94 1-197 1-86 1 197 1 91 1-28 1-178 1 76 1 36 1 113 1-74 1-140 1 12 1 99 1 79 1-56 1-103 1 9 1 92 1-10 1 0 1-52 1-8 1 55 1 15 1-8 1-30 1-4 1 19 1-15 1 8 1 41 1-62 1 17 1 28 1-33 1 6 1 12 1-6 1-37 1 34 1 7 1-28 1 46 1-7 1-12 1 4 1-20 1-6 1 11 1-2 1 8 1-21 1 25 1-24 1 13 1 17 1-46 1 40 1 10 1-4 1-20 1-10 1 45 1-30 1-11 1 15 1-14 1 57 1-24 1-39 1 20 1 15 1 2 1-28 1-11 1 33 1-2 1-24 1 21 1 14 1-18 1-8 1-4 1 16 1-6 1-20 1 7 1 157 1-17 1-197 1-57 1 81 1 180 1 29 1-262 1-75 1 173 1 187 1 18 1-245 1-152 1 135 1 173 1 8 1-162 1-84 1 117 1 108 1 85 1-206 1-67 1 84 1 76 1-29 1-76 1-29 1 52 1 57 1-14 1-85 1-35 1 46 1 87 1-27 1-33 1 7 1 11 1 23 1-33 1-21 1 27 1-1 1 35 1-44 1-20 1 20 1 5 1 39 1-28 1-18 1 5 1 16 1 5 1-29 1 18 1-15 1 22 1 8 1 0 1-20 1-21 1-10 1 42 1 11 1-14 1-34 1-11 1 59 1-32 1 28 1-5 1-38 1 8 1 14 1 32 1-22 1-15 1-29 1 9 1 40 1 19 1-19 1-32 1 15 1-6 1 21 1-23 1 43 1-20 1-8 1 23 1-19 1 8 1-54 1 24 1 30 1 7 1-33 1-14 1 12 1 38 1-12 1-17 1 15 1-37 1 52 1-72 1-125 1 191 1 234 1-190 1-237 1-110 1 318 1 92 1-6 1-289 1-86 1 271 1 193 1-96 1-279 1 3 1 183 1 176 1-105 1-158 1-49 1 134 1 120 1-12 1-180 1-89 1 143 1 118 1-37 1-125 1 9 1 49 1 56 1-42 1-53 1-34 1 29 1 65 1-18 1-36 1 6 1 18 1 30 1-4 1-57 1-6 1 61 1-14 1 3 1-71 1 22 1 60 1-8 1-9 1-9 1-10 1 19 1 7 1-13 1-47 1 22 1 33 1-6 1 16 1-37 1 0 1 26 1-10 1-25 1 12 1 33 1-2 1-20 1-25 1 35 1 13 1-17 1-16 1 16 1-14 1-4 1-7 1-1 1 16 1-17 1-14 1 55 1 8 1-33 1 17 1 4 1-27 1 20 1 12 1-23 1-23 1 18 1 18 1-20 1 0 1 13 1 9 1-12 1-5 1 29 1-23 1 18 1-12 1-50 1 79 1 28 1-72 1-201 1 147 1 174 1 2 1-114 1-195 1 83 1 280 1-46 1-146 1-186 1 153 1 176 1 39 1-186 1-96 1 42 1 183 1-47 1-101 1-33 1-5 1 111 1 52 1-70 1-37 1-4 1 46 1 26 1-56 1-78 1 72 1 51 1 10 1-47 1-36 1 51 1 10 1 15 1-42 1-1 1-7 1 26 1-4 1-11 1-20 1 52 1-8 1 0 1-17 1-31 1 25 1-4 1-14 1 3 1 2 1 41 1-25 1 15 1 10 1-20 1 14 1-32 1 3 1 4 1 32 1-30 1-4 1 23 1-7 1-9 1 5 1-23 1-11 1 25 1 48 1-35 1-20 1 12 1-6 1 31 1 4 1-39 1-3 1 25 1-40 1-4 1 4 1 32 1 10 1-13 1 21 1 0 1-20 1-3 1 6 1 13 1-20 1 16 1-22 1-7 1-2 1-9 1 25 1-7 1 27 1-8 1-40 1 61 1 87 1-85 1-160 1-44 1 237 1 112 1-121 1-228 1 41 1 183 1 154 1-170 1-190 1 22 1 165 1 185 1-167 1-139 1-33 1 163 1 62 1-91 1-67 1-12 1 84 1 59 1-50 1-80 1 9 1 76 1-1 1-24 1-74 1 2 1 99 1 14 1-33 1-32 1-5 1 70 1-1 1-37 1-31 1 3 1 30 1 7 1-34 1-51 1 27 1 54 1 5 1-11 1-3 1-6 1-12 1 20 1-10 1 33 1-23 1-41 1 22 1-18 1 27 1 3 1-19 1 18 1 7 1 3 1 0 1-1 1 0 1-4 1-19 1 27 1-14 1-2 1 3 1-22 1 10 1 40 1 4 1-41 1 2 1-1 1-9 1 11 1-11 1 29 1 5 1-26 1-1 1 17 1-12 1 22 1-11 1-24 1 38 1-11 1-19 1-18 1 6 1 5 1 22 1-1 1 1 1-2 1 86 1 57 1-191 1-86 1 11 1 399 1-60 1-279 1-144 1 76 1 327 1 13 1-280 1-143 1 144 1 241 1-12 1-234 1-100 1 111 1 133 1 40 1-103 1-89 1 30 1 105 1 15 1-91 1-5 1 26 1 22 1 57 1-72 1-71 1 49 1 48 1 6 1-35 1-60 1 26 1 36 1-2 1 13 1-6 1 5 1-21 1 5 1 15 1-16 1-7 1 0 1 22 1-8 1 4 1-9 1 3 1-33 1 18 1-4 1 26 1 17 1-36 1-11 1 17 1-14 1 23 1 8 1-25 1 19 1 0 1 6 1-11 1-14 1 6 1-28 1 68 1-22 1-28 1-9 1 9 1 36 1-39 1 8 1 42 1-59 1 22 1-2 1-4 1 15 1 8 1 2 1-17 1 6 1-37 1 23 1 19 1-22 1 5 1 10 1 0 1 6 1 11 1-30 1-20 1 54 1 2 1-44 1 11 1 23 1-8 1-14 1-145 1 79 1 306 1-12 1-211 1-216 1 51 1 265 1 119 1-274 1-214 1 142 1 129 1 45 1-83 1-54 1 43 1 116 1 32 1-117 1-89 1 37 1 172 1-59 1-68 1-41 1 23 1 77 1 20 1-91 1-32 1 46 1 74 1-27 1-5 1-68 1 21 1 52 1-14 1-15 1-53 1 24 1 39 1 30 1-71 1-18 1 33 1-30 1 66 1-15 1-5 1 41 1-31 1-34 1-31 1 62 1 0 1 6 1-42 1-4 1 30 1 14 1 3 1-52 1 26 1 26 1-25 1 14 1-23 1 22 1-3 1-18 1 20 1 3 1-3 1 13 1-22 1-11 1 13 1-17 1 23 1-30 1 24 1 4 1-28 1 31 1 24 1-65 1 60 1 8 1-10 1-52 1 2 1 22 1-2 1 14 1-26 1 19 1 1 1 8 1 11 1-21 1-8 1-32 1 54 1 1 1-57 1 45 1 1 1 79 1 45 1-130 1-189 1 117 1 266 1-60 1-152 1-162 1 61 1 267 1 35 1-198 1-205 1 66 1 301 1 35 1-193 1-145 1 106 1 145 1 13 1-85 1-93 1 35 1 51 1 67 1-116 1-65 1 66 1 60 1 53 1-100 1-15 1 34 1-15 1 35 1-15 1-28 1 20 1 39 1-12 1-48 1 6 1 23 1 14 1 3 1-49 1 3 1 30 1-7 1 38 1-28 1-26 1 5 1 33 1-15 1-1 1-18 1-2 1 20 1 15 1-14 1-21 1 27 1 7 1 5 1-45 1 15 1-1 1 20 1 6 1-20 1 34 1-35 1-35 1 49 1 1 1-2 1-18 1 7 1 9 1-10 1-15 1 17 1 17 1-11 1 11 1-16 1 16 1-21 1 6 1-5 1-17 1 28 1-38 1 43 1-26 1 11 1 32 1-8 1-15 1-16 1 23 1-14 1-21 1 9 1 20 1-20 1 24 1-105 1-32 1 136 1 175 1-41 1-420 1 74 1 277 1 148 1-126 1-224 1-56 1 206 1 226 1-147 1-215 1-82 1 223 1 191 1-183 1-148 1 49 1 80 1 114 1-62 1-164 1-31 1 130 1 90 1-52 1-109 1 38 1 78 1-4 1-76 1-45 1 61 1 34 1 28 1-35 1-53 1 28 1 46 1-16 1-15 1-33 1 2 1 8 1 27 1 29 1-42 1 7 1-8 1-10 1 45 1-45 1 16 1 6 1-28 1 29 1 4 1 11 1-32 1 28 1 28 1-70 1 28 1-3 1-1 1 9 1-18 1-2 1-9 1 33 1-4 1-34 1 12 1 6 1 8 1-4 1 5 1-23 1 35 1 0 1-14 1-12 1 18 1 1 1-19 1 16 1 8 1-30 1 21 1 5 1-15 1-2 1 29 1-18 1-7 1 25 1 1 1-11 1 5 1-12 1-13 1-18 1-8 1 40 1-10 1-150 1 72 1 194 1 38 1-181 1-202 1 133 1 265 1 72 1-282 1-188 1 146 1 204 1 106 1-236 1-178 1 96 1 242 1 3 1-158 1-134 1 69 1 154 1 52 1-119 1-111 1 60 1 125 1-44 1-66 1-45 1 30 1 76 1 10 1-41 1-40 1 23 1 29 1 25 1-22 1-17 1-10 1 20 1 4 1-40 1-15 1 14 1 17 1 26 1-21 1 1 1 11 1 20 1-18 1-13 1 33 1-66 1 11 1 31 1-1 1 5 1-19 1 18 1 14 1-46 1-4 1 37 1-29 1 3 1 14 1-11 1 32" stroke="#ff0000" stroke-width="0.7" fill="none" vector-effect="non-scaling-stroke" stroke-linejoin="round"/>
<path d="M118 436.5H306M118 501.5H306" stroke="#555" stroke-width="1" fill="none"/>
<line x1="119" y1="436" x2="119" y2="502" stroke="#a0a0a0" stroke-width="2"/>
<line x1="305.5" y1="436.5" x2="305.5" y2="501.5" stroke="#666" stroke-width="1"/>
<line x1="118.7" y1="436.5" x2="120.2" y2="436.5" stroke="#444" stroke-width="0.8"/>
<text x="118" y="439.4" font-size="8.6" text-anchor="end">8</text>
<line x1="118.7" y1="452.8" x2="120.2" y2="452.8" stroke="#444" stroke-width="0.8"/>
<text x="118" y="455.6" font-size="8.6" text-anchor="end">4</text>
<line x1="118.7" y1="469" x2="120.2" y2="469" stroke="#444" stroke-width="0.8"/>
<text x="118" y="471.9" font-size="8.6" text-anchor="end">0</text>
<line x1="118.7" y1="485.2" x2="120.2" y2="485.2" stroke="#444" stroke-width="0.8"/>
<text x="118" y="488.1" font-size="8.6" text-anchor="end">-4</text>
<line x1="118.7" y1="501.5" x2="120.2" y2="501.5" stroke="#444" stroke-width="0.8"/>
<text x="118" y="504.4" font-size="8.6" text-anchor="end">-8</text>
<line x1="118.7" y1="501.5" x2="118.7" y2="500" stroke="#444" stroke-width="0.8"/>
<text x="118.7" y="508.9" font-size="8.6" text-anchor="middle">0</text>
<line x1="164.3" y1="501.5" x2="164.3" y2="500" stroke="#444" stroke-width="0.8"/>
<text x="164.3" y="508.9" font-size="8.6" text-anchor="middle">500</text>
<line x1="209.9" y1="501.5" x2="209.9" y2="500" stroke="#444" stroke-width="0.8"/>
<text x="209.9" y="508.9" font-size="8.6" text-anchor="middle">1000</text>
<line x1="255.5" y1="501.5" x2="255.5" y2="500" stroke="#444" stroke-width="0.8"/>
<text x="255.5" y="508.9" font-size="8.6" text-anchor="middle">1500</text>
<line x1="301.1" y1="501.5" x2="301.1" y2="500" stroke="#444" stroke-width="0.8"/>
<text x="301.1" y="508.9" font-size="8.6" text-anchor="middle">2000</text>
<polygon points="349.0,498.3 349.0,496.0 349.5,496.4 350.0,496.5 350.5,496.7 351.0,497.1 351.5,496.6 352.0,496.7 352.5,497.1 353.0,496.5 353.5,496.3 354.0,496.9 354.5,496.7 355.0,496.6 355.5,496.7 356.0,496.9 356.5,496.4 357.0,496.9 357.5,497.0 358.0,496.5 358.5,496.3 359.0,497.1 359.5,496.2 360.0,496.8 360.5,496.5 361.0,496.5 361.5,496.9 362.0,496.4 362.5,496.3 363.0,496.3 363.5,496.8 364.0,496.2 364.5,497.2 365.0,496.7 365.5,496.2 366.0,496.9 366.5,496.6 367.0,496.4 367.5,496.4 368.0,496.6 368.5,497.0 369.0,496.3 369.5,497.2 370.0,496.6 370.5,497.1 371.0,496.8 371.5,496.8 372.0,496.8 372.5,497.3 373.0,497.3 373.5,497.0 374.0,496.4 374.5,496.4 375.0,496.6 375.5,496.8 376.0,496.6 376.5,497.4 377.0,497.0 377.5,496.6 378.0,497.0 378.5,496.9 379.0,497.2 379.5,497.2 380.0,496.6 380.5,496.7 381.0,496.9 381.5,497.4 382.0,496.6 382.6,497.0 383.1,497.0 383.6,496.6 384.1,496.9 384.6,496.8 385.1,496.5 385.6,496.5 386.1,497.1 386.6,497.0 387.1,497.1 387.6,497.2 388.1,496.9 388.6,497.1 389.1,496.8 389.6,497.4 390.1,497.4 390.6,497.3 391.1,497.3 391.6,497.4 392.1,497.0 392.6,497.2 393.1,496.9 393.6,497.2 394.1,496.9 394.6,496.8 395.1,497.0 395.6,496.8 396.1,497.0 396.6,496.9 397.1,497.3 397.6,496.6 398.1,497.2 398.6,496.9 399.1,496.7 399.6,497.0 400.1,497.0 400.6,497.2 401.1,497.2 401.6,496.6 402.1,496.8 402.6,496.6 403.1,497.0 403.6,497.3 404.1,497.0 404.6,496.9 405.1,496.9 405.6,497.3 406.1,497.3 406.6,497.4 407.1,497.3 407.6,496.8 408.1,497.3 408.6,497.1 409.1,497.0 409.6,497.2 410.1,497.4 410.6,497.0 411.1,497.0 411.6,496.7 412.1,497.3 412.6,496.7 413.1,496.8 413.6,496.8 414.1,497.4 414.6,497.3 415.1,497.1 415.6,497.0 416.1,496.7 416.6,497.3 417.1,497.5 417.6,496.8 418.1,496.9 418.6,496.8 419.1,496.7 419.6,496.9 420.1,496.8 420.6,496.7 421.1,496.7 421.6,497.2 422.1,496.9 422.6,497.0 423.1,496.9 423.6,497.3 424.1,497.4 424.6,497.3 425.1,497.5 425.6,496.9 426.1,497.4 426.6,496.9 427.1,497.5 427.6,497.4 428.1,496.9 428.6,497.1 429.1,497.1 429.6,497.3 430.1,497.5 430.6,497.3 431.1,497.0 431.6,497.0 432.1,496.8 432.6,497.4 433.1,496.8 433.6,497.5 434.1,497.4 434.6,497.0 435.1,496.9 435.6,497.0 436.1,497.2 436.6,496.9 437.1,497.3 437.6,496.9 438.1,497.5 438.6,496.9 439.1,497.1 439.6,497.3 440.1,496.9 440.6,497.0 441.1,497.6 441.6,497.2 442.1,497.0 442.6,497.5 443.1,497.3 443.6,497.0 444.1,497.4 444.6,497.0 445.1,496.9 445.6,497.0 446.1,497.2 446.6,497.1 447.1,497.4 447.6,497.1 448.1,497.5 448.6,497.4 449.2,497.5 449.7,497.4 450.2,497.3 450.7,497.2 451.2,497.5 451.7,497.5 452.2,497.1 452.7,497.3 453.2,497.3 453.7,497.5 454.2,497.4 454.7,497.3 455.2,497.5 455.7,497.3 456.2,497.0 456.7,497.4 457.2,497.3 457.7,497.0 458.2,497.2 458.7,497.1 459.2,497.3 459.7,497.2 460.2,497.1 460.7,497.2 461.2,497.5 461.7,497.1 462.2,497.5 462.7,497.3 463.2,497.7 463.7,497.4 464.2,497.4 464.7,497.6 465.2,497.3 465.7,497.7 466.2,497.7 466.7,497.6 467.2,497.1 467.7,497.1 468.2,497.4 468.7,497.5 469.2,497.6 469.7,497.4 470.2,497.4 470.7,497.4 471.2,497.5 471.7,497.6 472.2,497.7 472.7,497.3 473.2,497.6 473.7,497.2 474.2,497.2 474.7,497.2 475.2,497.3 475.7,497.5 476.2,497.7 476.7,497.4 477.2,497.3 477.7,497.3 478.2,497.5 478.7,497.6 479.2,497.4 479.7,497.3 480.2,497.4 480.7,497.2 481.2,497.3 481.7,497.2 482.2,497.4 482.7,497.6 483.2,497.3 483.7,497.7 484.2,497.8 484.7,497.8 485.2,497.4 485.7,497.3 486.2,497.4 486.7,497.6 487.2,497.7 487.7,497.5 488.2,497.5 488.7,497.4 489.2,497.5 489.7,497.4 490.2,497.6 490.2,498.3" fill="#0000ff"/>
<line x1="349" y1="498.30" x2="490.2" y2="498.30" stroke="#0000ff" stroke-width="0.9"/>
<path d="M355.1 498.3V463.0M361.1 498.3V482.5M364.4 498.3V476.0M368.8 498.3V494.6M372.2 498.3V494.6" stroke="#70f070" stroke-width="1.7"/>
<polygon points="349.0,498.3 349.0,493.8 349.5,494.2 350.0,494.9 350.5,495.2 351.0,495.5 351.5,495.6 352.0,495.2 352.5,495.7 353.0,495.4 353.5,495.6 354.0,495.9 354.5,494.6 355.0,495.0 355.5,495.3 356.0,496.2 356.5,495.7 357.0,495.4 357.5,494.9 358.0,495.0 358.5,495.3 359.0,495.9 359.5,496.3 360.0,495.5 360.5,495.2 361.0,496.5 361.5,495.2 362.0,496.6 362.5,496.6 363.0,495.9 363.5,496.1 364.0,496.2 364.5,496.1 365.0,495.8 365.5,496.3 366.0,496.8 366.5,496.2 367.0,496.8 367.5,496.8 368.1,496.5 368.6,497.1 369.1,496.9 369.6,496.3 370.1,496.5 370.6,496.8 371.1,497.1 371.6,497.0 372.1,497.0 372.6,497.0 373.1,496.8 373.6,497.4 374.1,496.9 374.6,497.2 375.1,497.2 375.6,497.2 376.1,497.5 376.6,497.7 377.1,497.6 377.6,497.6 378.1,497.5 378.6,497.4 379.1,497.8 379.6,497.4 380.1,497.5 380.6,497.4 381.1,497.5 381.6,497.5 382.1,497.4 382.6,497.7 383.1,497.7 383.6,497.5 384.1,497.7 384.6,497.5 385.1,497.4 385.6,497.7 386.1,497.6 386.6,497.7 387.1,497.6 387.6,497.5 388.1,497.6 388.6,497.7 389.1,497.8 389.6,497.7 390.1,497.7 390.6,497.4 391.1,497.7 391.6,497.6 392.1,497.6 392.6,497.4 393.1,497.7 393.6,497.4 394.1,497.5 394.6,497.8 395.1,497.8 395.6,497.7 396.1,497.7 396.6,497.6 397.1,497.6 397.6,497.7 398.1,497.6 398.6,497.6 399.1,497.5 399.6,497.8 400.1,497.6 400.6,497.5 401.1,497.5 401.6,497.5 402.1,497.5 402.6,497.7 403.1,497.7 403.6,497.6 404.1,497.6 404.6,497.6 405.2,497.6 405.7,497.6 406.2,497.7 406.7,497.5 407.2,497.5 407.7,497.7 408.2,497.5 408.7,497.6 409.2,497.5 409.7,497.6 410.2,497.6 410.7,497.6 411.2,497.8 411.7,497.5 412.2,497.8 412.7,497.8 413.2,497.6 413.7,497.9 414.2,497.7 414.7,497.8 415.2,497.8 415.7,497.7 416.2,497.7 416.7,497.8 417.2,497.7 417.7,497.9 418.2,497.6 418.7,497.5 419.2,497.9 419.7,497.5 420.2,497.9 420.7,497.6 421.2,497.7 421.7,497.8 422.2,497.5 422.7,497.7 423.2,497.7 423.7,497.6 424.2,497.7 424.7,497.6 425.2,497.7 425.7,497.6 426.2,497.7 426.7,497.7 427.2,497.7 427.7,497.8 428.2,497.6 428.7,497.7 429.2,497.7 429.7,497.6 430.2,497.6 430.7,497.6 431.2,497.6 431.7,497.7 432.2,497.7 432.7,497.9 433.2,497.6 433.7,497.6 434.2,497.6 434.7,497.8 435.2,497.8 435.7,497.8 436.2,497.8 436.7,497.7 437.2,497.9 437.7,497.9 438.2,497.9 438.7,497.8 439.2,497.8 439.7,497.9 440.2,497.8 440.7,497.7 441.2,497.6 441.7,497.7 442.3,497.8 442.8,497.7 443.3,497.9 443.8,497.7 444.3,497.8 444.8,497.8 445.3,497.9 445.8,497.9 446.3,497.6 446.8,497.9 447.3,497.8 447.8,497.8 448.3,497.9 448.8,497.7 449.3,497.8 449.8,497.8 450.3,497.8 450.8,497.8 451.3,497.8 451.8,497.8 452.3,497.8 452.8,497.8 453.3,497.9 453.8,498.0 454.3,497.9 454.8,497.9 455.3,497.8 455.8,497.7 456.3,497.8 456.8,497.9 457.3,497.9 457.8,497.7 458.3,497.7 458.8,497.8 459.3,497.8 459.8,497.9 460.3,497.8 460.8,497.8 461.3,497.8 461.8,497.9 462.3,497.8 462.8,497.9 463.3,497.9 463.8,497.7 464.3,497.9 464.8,497.8 465.3,497.9 465.8,497.8 466.3,498.0 466.8,497.8 467.3,497.8 467.8,497.9 468.3,497.7 468.8,497.9 469.3,497.9 469.8,497.8 470.3,498.0 470.8,497.9 471.3,497.8 471.8,497.9 472.3,498.0 472.8,497.9 473.3,497.8 473.8,498.0 474.3,497.8 474.8,497.9 475.3,497.9 475.8,497.9 476.3,497.8 476.8,497.9 477.3,497.8 477.8,497.9 478.3,497.9 478.8,497.8 479.3,497.8 479.9,497.8 480.4,498.0 480.9,497.9 481.4,497.9 481.9,497.8 482.4,497.9 482.9,497.9 483.4,497.8 483.9,497.8 484.4,498.0 484.9,498.0 485.4,497.8 485.9,497.8 486.4,497.9 486.9,498.0 487.4,497.9 487.9,498.0 488.4,498.0 488.9,498.0 489.4,498.0 489.9,498.0 490.4,497.9 490.9,498.0 491.4,497.8 491.9,497.9 492.4,498.0 492.9,498.0 493.4,497.9 493.9,497.9 494.4,498.0 494.9,497.9 495.4,497.9 495.9,497.9 496.4,498.0 496.9,498.0 497.4,497.9 497.9,497.9 498.4,497.9 498.9,497.9 499.4,497.9 499.9,497.9 500.4,497.9 500.9,497.9 501.4,498.0 501.9,498.0 502.4,497.9 502.9,497.9 503.4,497.9 503.9,498.0 504.4,498.0 504.9,498.0 505.4,498.0 505.9,498.0 506.4,497.9 506.9,497.9 507.4,498.0 507.9,498.0 508.4,498.0 508.9,498.0 509.4,497.9 509.9,498.0 510.4,498.0 510.9,497.9 511.4,498.0 511.9,498.0 512.4,498.0 512.9,498.0 513.4,498.1 513.9,497.9 514.4,498.0 514.9,498.0 515.4,498.1 515.9,498.1 516.4,497.9 517.0,498.1 517.5,498.0 518.0,498.0 518.5,498.0 518.5,498.3" fill="#00ff00"/>
<line x1="349" y1="498.30" x2="518.5" y2="498.30" stroke="#00ff00" stroke-width="0.9"/>
<path d="M351.8 498.3V438.9M355.1 498.3V466.7M358.3 498.3V484.4M361.1 498.3V487.2M364.4 498.3V477.9M367.5 498.3V480.7M370.5 498.3V483.0M373.4 498.3V491.8M376.5 498.3V493.2" stroke="#ff8c8c" stroke-width="1.7"/>
<path d="M349.4 498.3V486.2" stroke="#ff0000" stroke-width="1.3"/>
<polygon points="349.0,498.3 349.0,493.2 349.5,493.7 350.0,491.2 350.5,490.5 351.0,490.9 351.5,491.2 352.0,492.9 352.5,491.1 353.0,492.6 353.5,492.1 354.0,493.6 354.5,492.9 355.0,491.4 355.5,494.2 356.0,495.3 356.5,495.5 357.0,495.5 357.5,496.8 358.0,496.4 358.5,496.0 359.0,496.9 359.5,496.9 360.0,496.3 360.5,496.0 361.0,496.7 361.5,497.0 362.0,496.9 362.5,496.6 363.0,496.2 363.5,496.4 364.0,496.4 364.5,497.0 365.0,497.0 365.5,496.5 366.0,497.1 366.5,496.9 367.0,497.1 367.5,496.8 368.1,497.0 368.6,496.7 369.1,496.8 369.6,496.7 370.1,497.2 370.6,496.9 371.1,496.9 371.6,496.9 372.1,497.0 372.6,497.3 373.1,497.1 373.6,497.0 374.1,497.2 374.6,496.9 375.1,496.7 375.6,497.2 376.1,497.0 376.6,496.9 377.1,497.5 377.6,497.5 378.1,497.2 378.6,497.1 379.1,497.4 379.6,497.1 380.1,497.4 380.6,497.4 381.1,497.4 381.6,497.5 382.1,497.2 382.6,497.2 383.1,497.0 383.6,497.1 384.1,497.1 384.6,497.2 385.1,497.1 385.6,497.4 386.1,497.1 386.6,497.4 387.1,497.6 387.6,497.4 388.1,497.5 388.6,497.5 389.1,497.6 389.6,497.3 390.1,497.4 390.6,497.6 391.1,497.3 391.6,497.5 392.1,497.6 392.6,497.6 393.1,497.6 393.6,497.5 394.1,497.5 394.6,497.5 395.1,497.6 395.6,497.3 396.1,497.4 396.6,497.7 397.1,497.7 397.6,497.6 398.1,497.8 398.6,497.5 399.1,497.7 399.6,497.8 400.1,497.5 400.6,497.5 401.1,497.8 401.6,497.7 402.1,497.7 402.6,497.7 403.1,497.8 403.6,497.8 404.1,497.7 404.6,497.7 405.2,497.8 405.7,497.7 406.2,497.8 406.7,497.9 407.2,497.9 407.7,497.7 408.2,497.8 408.7,497.6 409.2,497.6 409.7,497.7 410.2,497.7 410.7,497.7 411.2,497.7 411.7,497.7 412.2,497.6 412.7,497.6 413.2,497.8 413.7,497.8 414.2,497.6 414.7,497.6 415.2,497.7 415.7,497.6 416.2,497.8 416.7,497.9 417.2,497.6 417.7,497.7 418.2,497.8 418.7,497.8 419.2,497.8 419.7,497.8 420.2,497.7 420.7,497.8 421.2,497.6 421.7,497.8 422.2,497.9 422.7,497.9 423.2,497.7 423.7,497.7 424.2,497.6 424.7,497.9 425.2,497.8 425.7,497.6 426.2,497.7 426.7,497.8 427.2,497.8 427.7,497.8 428.2,497.7 428.7,497.9 429.2,497.9 429.7,497.9 430.2,497.9 430.7,497.7 431.2,497.8 431.7,497.7 432.2,497.8 432.7,497.8 433.2,497.7 433.7,497.7 434.2,497.6 434.7,497.8 435.2,497.9 435.7,497.7 436.2,497.8 436.7,497.8 437.2,497.7 437.7,497.8 438.2,497.7 438.7,497.9 439.2,497.9 439.7,497.7 440.2,497.9 440.7,497.8 441.2,497.9 441.7,497.7 442.3,497.9 442.8,497.7 443.3,497.9 443.8,497.7 444.3,497.8 444.8,497.7 445.3,497.8 445.8,497.8 446.3,497.8 446.8,497.9 447.3,497.8 447.8,497.8 448.3,497.8 448.8,497.9 449.3,498.0 449.8,497.9 450.3,497.9 450.8,497.7 451.3,497.9 451.8,497.8 452.3,497.7 452.8,497.9 453.3,497.9 453.8,497.9 454.3,497.7 454.8,497.9 455.3,497.7 455.8,497.8 456.3,497.8 456.8,497.9 457.3,497.7 457.8,498.0 458.3,497.9 458.8,497.8 459.3,497.7 459.8,497.8 460.3,497.9 460.8,497.9 461.3,497.9 461.8,497.8 462.3,498.0 462.8,498.0 463.3,497.8 463.8,497.7 464.3,497.9 464.8,497.8 465.3,497.7 465.8,498.0 466.3,497.9 466.8,497.9 467.3,498.0 467.8,497.7 468.3,497.8 468.8,497.9 469.3,497.7 469.8,497.7 470.3,497.8 470.8,497.9 471.3,497.8 471.8,497.9 472.3,498.0 472.8,498.0 473.3,497.8 473.8,497.8 474.3,497.9 474.8,497.8 475.3,497.8 475.8,497.9 476.3,497.9 476.8,497.9 477.3,498.0 477.8,497.9 478.3,497.7 478.8,497.8 479.3,497.8 479.9,497.9 480.4,498.0 480.9,497.8 481.4,497.8 481.9,497.9 482.4,497.9 482.9,498.0 483.4,498.0 483.9,497.9 484.4,497.9 484.9,498.0 485.4,498.0 485.9,497.8 486.4,497.8 486.9,498.0 487.4,498.0 487.9,497.8 488.4,498.0 488.9,497.8 489.4,498.0 489.9,497.9 490.4,497.9 490.9,497.8 491.4,498.0 491.9,497.9 492.4,497.9 492.9,497.8 493.4,497.8 493.9,498.0 494.4,498.0 494.9,497.8 495.4,497.9 495.9,497.9 496.4,498.0 496.9,498.0 497.4,497.9 497.9,497.8 498.4,497.9 498.9,497.9 499.4,497.9 499.9,497.9 500.4,497.9 500.9,497.9 501.4,497.9 501.9,497.9 502.4,497.9 502.9,497.8 503.4,497.9 503.9,498.0 504.4,497.8 504.9,498.0 505.4,497.9 505.9,498.0 506.4,498.0 506.9,497.9 507.4,497.9 507.9,497.9 508.4,497.9 508.9,497.9 509.4,498.0 509.9,497.8 510.4,498.0 510.9,498.0 511.4,497.8 511.9,498.0 512.4,497.9 512.9,498.0 513.4,497.9 513.9,498.0 514.4,497.9 514.9,498.0 515.4,497.9 515.9,497.9 516.4,497.9 517.0,497.8 517.5,497.8 518.0,498.0 518.5,497.8 518.5,498.3" fill="#ff0000"/>
<line x1="349" y1="498.30" x2="518.5" y2="498.30" stroke="#ff0000" stroke-width="0.9"/>
<path d="M340 436.5H527M340 501.5H527" stroke="#555" stroke-width="1" fill="none"/>
<line x1="340.5" y1="436.5" x2="340.5" y2="501.5" stroke="#555" stroke-width="1"/>
<line x1="527" y1="436" x2="527" y2="502" stroke="#a8a8a8" stroke-width="2"/>
<line x1="349" y1="501.5" x2="349" y2="500" stroke="#444" stroke-width="0.8"/>
<text x="349" y="508.9" font-size="8.6" text-anchor="middle">0</text>
<line x1="377.2" y1="501.5" x2="377.2" y2="500" stroke="#444" stroke-width="0.8"/>
<text x="377.2" y="508.9" font-size="8.6" text-anchor="middle">1000</text>
<line x1="405.5" y1="501.5" x2="405.5" y2="500" stroke="#444" stroke-width="0.8"/>
<text x="405.5" y="508.9" font-size="8.6" text-anchor="middle">2000</text>
<line x1="433.7" y1="501.5" x2="433.7" y2="500" stroke="#444" stroke-width="0.8"/>
<text x="433.7" y="508.9" font-size="8.6" text-anchor="middle">3000</text>
<line x1="462" y1="501.5" x2="462" y2="500" stroke="#444" stroke-width="0.8"/>
<text x="462" y="508.9" font-size="8.6" text-anchor="middle">4000</text>
<line x1="490.2" y1="501.5" x2="490.2" y2="500" stroke="#444" stroke-width="0.8"/>
<text x="490.2" y="508.9" font-size="8.6" text-anchor="middle">5000</text>
<line x1="518.5" y1="501.5" x2="518.5" y2="500" stroke="#444" stroke-width="0.8"/>
<text x="518.5" y="508.9" font-size="8.6" text-anchor="middle">6000</text>
<path transform="translate(118.7 555) scale(0.09121 0.08125)" d="M0 -16l1-97 1 163 1-108 1 188 1-98 1-91 1 67 1-49 1 49 1 55 1-79 1 1 1 80 1-141 1 133 1-23 1 0 1 25 1-83 1 33 1-36 1-4 1 104 1-90 1 36 1-85 1 139 1-36 1 19 1-171 1 143 1 30 1-53 1-84 1 179 1-78 1-68 1-16 1 65 1-122 1 84 1 92 1-67 1-21 1-17 1 41 1-16 1-4 1 62 1 39 1-58 1-49 1 7 1-3 1 47 1 79 1-125 1 55 1-45 1-5 1-110 1 28 1 6 1 131 1 77 1-28 1-100 1 2 1 0 1-39 1 88 1-20 1 85 1-84 1 68 1-188 1 48 1 60 1 24 1-100 1 47 1-39 1 75 1 5 1 40 1-73 1 17 1 33 1 28 1 1 1-34 1-61 1 63 1 60 1-235 1 115 1 21 1 1 1 7 1 103 1-133 1 45 1-22 1 20 1 52 1 12 1-108 1 68 1 134 1-174 1-31 1-27 1 131 1-212 1 134 1 186 1-158 1-104 1 106 1-16 1 42 1-13 1-44 1 68 1-10 1 19 1-35 1 59 1 65 1 38 1-126 1-57 1 7 1-2 1-81 1 35 1 55 1-113 1 91 1 137 1-162 1 8 1-1 1 20 1-7 1 60 1-115 1 48 1 77 1 11 1-135 1 72 1-5 1 51 1-129 1 37 1 62 1-9 1 16 1-40 1 14 1 6 1-43 1 50 1-63 1 9 1-21 1 32 1-49 1-22 1 81 1 40 1 13 1 17 1-101 1 34 1-113 1 116 1 4 1 0 1 102 1-121 1 25 1-37 1 50 1-63 1 41 1-62 1 39 1 37 1-98 1 74 1-15 1-50 1 106 1-102 1 89 1 52 1-27 1 39 1-76 1-97 1 14 1 68 1 58 1 52 1-69 1 1 1-14 1 4 1 110 1-208 1 147 1-75 1-67 1 68 1-98 1 260 1-113 1-31 1 32 1-21 1-29 1 18 1 41 1 14 1-117 1-70 1 92 1 71 1-24 1 117 1-97 1-38 1 113 1-94 1 44 1 37 1-242 1 18 1 45 1 112 1-6 1-27 1 1 1-67 1 65 1 3 1-42 1-29 1-15 1 139 1-103 1-40 1 6 1 26 1 32 1 35 1-36 1-12 1 37 1 186 1-187 1-12 1 47 1 37 1-52 1-139 1 64 1 33 1-78 1-1 1 103 1-19 1-8 1 50 1-132 1 20 1 78 1 43 1-18 1 22 1 41 1 17 1-172 1 85 1-49 1-9 1 53 1 12 1-7 1 27 1 5 1 3 1 36 1-70 1-18 1 48 1-18 1 84 1-162 1 71 1-42 1 72 1-57 1-49 1 96 1-19 1-17 1-24 1 120 1-95 1 4 1-40 1 35 1-2 1 106 1-105 1-39 1 3 1-73 1 168 1-109 1 81 1-49 1 24 1-28 1 10 1 4 1 35 1-87 1 66 1-69 1 55 1 11 1-73 1 69 1 5 1 104 1-191 1-44 1 83 1 41 1-47 1 41 1-42 1 46 1-47 1 118 1-83 1 54 1 82 1-101 1-71 1 59 1 57 1-98 1-46 1 115 1 20 1-97 1 145 1-90 1-9 1-105 1 111 1 132 1-67 1-116 1 11 1 159 1-123 1 61 1-164 1 121 1-70 1 83 1-4 1-37 1 24 1 73 1-94 1-50 1 36 1 65 1 7 1 6 1-96 1 1 1 64 1 15 1-71 1 8 1 44 1-57 1 7 1 38 1-58 1 20 1-1 1-43 1 130 1-31 1-123 1 120 1-206 1 187 1-36 1-15 1 50 1-67 1 141 1-108 1 94 1-117 1-73 1 156 1-86 1 90 1 53 1-119 1 61 1-88 1 32 1 67 1 22 1-87 1 86 1-39 1-49 1 69 1-91 1-38 1 23 1 53 1 35 1-34 1-20 1 19 1-45 1-25 1-12 1 119 1 57 1-109 1-48 1 36 1 68 1 20 1-204 1 70 1 77 1-54 1 42 1-11 1 23 1 66 1-69 1 41 1-113 1 54 1-79 1 101 1 30 1-46 1 32 1 35 1-77 1 69 1-75 1 171 1-139 1 37 1-74 1 31 1-97 1 82 1-63 1 110 1-6 1-1 1 57 1-80 1-87 1 32 1 135 1-88 1 29 1-101 1 125 1-36 1-75 1-79 1 168 1-55 1-11 1 130 1-175 1 194 1-93 1-30 1 80 1-34 1-80 1 47 1-30 1 58 1 36 1-49 1-2 1 38 1 6 1-61 1 28 1-64 1 185 1-147 1 19 1-7 1-27 1 68 1-49 1 38 1-11 1-65 1 55 1 76 1-127 1 120 1-105 1 15 1 130 1-69 1-70 1 40 1-6 1 50 1-27 1-11 1-42 1 31 1-110 1 99 1-40 1 84 1-99 1 32 1-92 1 181 1-200 1 105 1 178 1-146 1 122 1-119 1 25 1 16 1-2 1-81 1 84 1 6 1-123 1 7 1 48 1 41 1 33 1-86 1 81 1-12 1-61 1 46 1 78 1-48 1-91 1-10 1 14 1-28 1 41 1 3 1 93 1-99 1-3 1 50 1 74 1-114 1-28 1 52 1-2 1 0 1 62 1-125 1 6 1 103 1-58 1-54 1 8 1 38 1-36 1 26 1 51 1-59 1 69 1-99 1 102 1-11 1-36 1 41 1 8 1-101 1-23 1-2 1 40 1-40 1 57 1 7 1-20 1-2 1 81 1 6 1-75 1 30 1-117 1 79 1 46 1-82 1 63 1-46 1 8 1-41 1 132 1-91 1 130 1-53 1-133 1 53 1 137 1-72 1 64 1-172 1-29 1 153 1-86 1 25 1 46 1 22 1-52 1 33 1 95 1-120 1-1 1-99 1 6 1 82 1-17 1-61 1 73 1 33 1-107 1 66 1-18 1-53 1 52 1 11 1 92 1-102 1-8 1 98 1-26 1-44 1-9 1 22 1-65 1 94 1-53 1-20 1 107 1 15 1-23 1-72 1 34 1-12 1 13 1-73 1-3 1-17 1 116 1 42 1-32 1-32 1 33 1-133 1 77 1-4 1 149 1-72 1-140 1-7 1 100 1-91 1 104 1-1 1 8 1-58 1 40 1 10 1-99 1 95 1 59 1-78 1-55 1 95 1-100 1 63 1 76 1-197 1 75 1 31 1 87 1-44 1-15 1-66 1 115 1-98 1 3 1-51 1 74 1 41 1 66 1-120 1-13 1 67 1-59 1-45 1 179 1-46 1-150 1 64 1 48 1-47 1 174 1-174 1 58 1-41 1 75 1-119 1 39 1-33 1 88 1-18 1-79 1 48 1-26 1-17 1 47 1-65 1 18 1 88 1-82 1 30 1-63 1-12 1 65 1 6 1-2 1 100 1 4 1-106 1-29 1 72 1-38 1 90 1-125 1 78 1-1 1-28 1 52 1-103 1-17 1 143 1-122 1 142 1 48 1-59 1-89 1 92 1-48 1-24 1 23 1-26 1-24 1 3 1 1 1-15 1 89 1-230 1 234 1-45 1-59 1-20 1 15 1 85 1 41 1-33 1-51 1 75 1-59 1-12 1 26 1-2 1-2 1-51 1 15 1 11 1-31 1 73 1-35 1-10 1 4 1 69 1-21 1 15 1 2 1-46 1-31 1-16 1-23 1 16 1 55 1-57 1 6 1 36 1 29 1-90 1-34 1 137 1-17 1 2 1-33 1 6 1-6 1 40 1 34 1-45 1 36 1 27 1-87 1-92 1 100 1-97 1 96 1-57 1 27 1-120 1 214 1-35 1-147 1 55 1 97 1 14 1 11 1-99 1-27 1 115 1-90 1 86 1-155 1 75 1 83 1-63 1 23 1-24 1 35 1-53 1 10 1-25 1 21 1-5 1 3 1 34 1-89 1 107 1-19 1 85 1-43 1 11 1-74 1-49 1 89 1 43 1-152 1 93 1-79 1 28 1 32 1-43 1-30 1 127 1-41 1 24 1 4 1-45 1 19 1-78 1 27 1 158 1-102 1-7 1 36 1 40 1-32 1-68 1 25 1-68 1 106 1 18 1-41 1-88 1 9 1 23 1 31 1-39 1 75 1-25 1-112 1 97 1-20 1 68 1-141 1 123 1 7 1 2 1-51 1 29 1-36 1 27 1 20 1 20 1 48 1 25 1-203 1 107 1 2 1-150 1 166 1-6 1-68 1 13 1 52 1 0 1-62 1-35 1 121 1-125 1 32 1 74 1-16 1-36 1-6 1 82 1 39 1-123 1 24 1-10 1-79 1 42 1 88 1 6 1-84 1-38 1 124 1-75 1-53 1 33 1 93 1-69 1-69 1 105 1-63 1 64 1-9 1 42 1-39 1-97 1 80 1-15 1 64 1 24 1-43 1-77 1 27 1-15 1 81 1-60 1 96 1-58 1-2 1-77 1 108 1-93 1 57 1 8 1-92 1 33 1 111 1-40 1-19 1-169 1 187 1-41 1-5 1 16 1 104 1-154 1 26 1 130 1-73 1-39 1 66 1-36 1 37 1-28 1 28 1-139 1 115 1-146 1 98 1 109 1-110 1-47 1 14 1 18 1 25 1 26 1 4 1-65 1 38 1 12 1-19 1 41 1-26 1 58 1-11 1-151 1 95 1 3 1 52 1-111 1 52 1-8 1 41 1-90 1 184 1-129 1-1 1 71 1-93 1 29 1-72 1 131 1-94 1 79 1-44 1 2 1 107 1-139 1 42 1-25 1-38 1 101 1-67 1 86 1-44 1-103 1 109 1 48 1-104 1 7 1 156 1-192 1 86 1-61 1 132 1-126 1-14 1 59 1-95 1 83 1-12 1-18 1 69 1 29 1-9 1-99 1 18 1 6 1 109 1-113 1-17 1 37 1-50 1 40 1-6 1 1 1 36 1-8 1 0 1 40 1-104 1 52 1-27 1-9 1 22 1-16 1 25 1-24 1-48 1 73 1-6 1-1 1 13 1 51 1-163 1 47 1 54 1-8 1 28 1-40 1 58 1-47 1 29 1-17 1-7 1 46 1-32 1-56 1 60 1 25 1-116 1 85 1 13 1-57 1-100 1 86 1 33 1 73 1-61 1-80 1 46 1 54 1 64 1-185 1 115 1-10 1 43 1-30 1-42 1-28 1 66 1 99 1-85 1-42 1 14 1-155 1 196 1-22 1-15 1-37 1 118 1 13 1-80 1 26 1-73 1-62 1 105 1 27 1-6 1-13 1-49 1 82 1-82 1 6 1 112 1 18 1-106 1 5 1-87 1 159 1-165 1 33 1 56 1-35 1-15 1 43 1-50 1 39 1-86 1 92 1-43 1 28 1 27 1 130 1-196 1 115 1-8 1-20 1-42 1 91 1-79 1-83 1 146 1-111 1-15 1 129 1 6 1-57 1 0 1 4 1 58 1-29 1-95 1 55 1 8 1-19 1 9 1 43 1-137 1 31 1 6 1 99 1-90 1 52 1-7 1-1 1 52 1 4 1 2 1-9 1-71 1-3 1 83 1 1 1-114 1-22 1 160 1-78 1 1 1-101 1 158 1-28 1-112 1 174 1-114 1 41 1-70 1-58 1 83 1 45 1-57 1 53 1 120 1-163 1-5 1 43 1 16 1-91 1 125 1-51 1-70 1 132 1-92 1 142 1-151 1 34 1-45 1 109 1-13 1-23 1-60 1-47 1 174 1-194 1 75 1-9 1 2 1 77 1-113 1 105 1 3 1-97 1-42 1 64 1 25 1 18 1-18 1 17 1 53 1-93 1-2 1 6 1 7 1-32 1 23 1-41 1 60 1-5 1-31 1 105 1-37 1-85 1 86 1-21 1-32 1 65 1-30 1 16 1-17 1 14 1-9 1-73 1 18 1 36 1-62 1 136 1-59 1 6 1-60 1 31 1 38 1-64 1-4 1 112 1-132 1 89 1-16 1 59 1-39 1 11 1-3 1 11 1-27 1 23 1 7 1-122 1 86 1-26 1 37 1-11 1-50 1-40 1 18 1 83 1 15 1-72 1 127 1-131 1 33 1-109 1 160 1-89 1 98 1-175 1 83 1 26 1-23 1 6 1 34 1-16 1 9 1-40 1 28 1-35 1 72 1 4 1-123 1 168 1-60 1 47 1-42 1-77 1 60 1 54 1-72 1 2 1 59 1-27 1-18 1-108 1 110 1 86 1-144 1 33 1 60 1 10 1-52 1 64 1-63 1 34 1-74 1 170 1-123 1-5 1-80 1 103 1-96 1 84 1-2 1-5 1-28 1 102 1 6 1-111 1 40 1-66 1-20 1 63 1 165 1-221 1 62 1-15 1 36 1 17 1-56 1 97 1-89 1 18 1 18 1-90 1 93 1-86 1 82 1-169 1 143 1-14 1 21 1 81 1-16 1-163 1 169 1-144 1 4 1 110 1-61 1 3 1 96 1-156 1 48 1 102 1-118 1 53 1-26 1-17 1 30 1 14 1 23 1-64 1 23 1 84 1-127 1 95 1 44 1-68 1 11 1-98 1-71 1 195 1-53 1-78 1 70 1 24 1 27 1-152 1 62 1-22 1 119 1-82 1-59 1 111 1-66 1 5 1 66 1 0 1-54 1 36 1 16 1-14 1 22 1-48 1-1 1-99 1 131 1-20 1 91 1-87 1 70 1-78 1-1 1-47 1 30 1 50 1-39 1 30 1-61 1-26 1 84 1-37 1 36 1 132 1-81 1-67 1 27 1-59 1-8 1 60 1-95 1 91 1-107 1 49 1 29 1-34 1 172 1-196 1 113 1-67 1 37 1-46 1 34 1 36 1-30 1-78 1 52 1-29 1 49 1-24 1 16 1 110 1-30 1 62 1-173 1 42 1-102 1 237 1-63 1-39 1 24 1-100 1 46 1 22 1 22 1 11 1 26 1-17 1-64 1-10 1 54 1-56 1 25 1 0 1-5 1-50 1 14 1 15 1-46 1 106 1 14 1-90 1-97 1 80 1 1 1 62 1 49 1-50 1 6 1-58 1 78 1-14 1-108 1 135 1-54 1 131 1-207 1 99 1-91 1 49 1 127 1-115 1-72 1 78 1 148 1-89 1-38 1-18 1-51 1 23 1 2 1-3 1-30 1 17 1 57 1 21 1 23 1-57 1-9 1-73 1 35 1 48 1-62 1 95 1-60 1-64 1 157 1-71 1-4 1 19 1-6 1 40 1-178 1 138 1-9 1 15 1-45 1 53 1 35 1-39 1 33 1-6 1-16 1-8 1-17 1-151 1 178 1-97 1 39 1-43 1 41 1 51 1-49 1-68 1 126 1-7 1-109 1 141 1-138 1 132 1-162 1 243 1-107 1 56 1-168 1 83 1-25 1 52 1 74 1-24 1-48 1-18 1-55 1-56 1 22 1 44 1-44 1-40 1 78 1 93 1-229 1 27 1 181 1 20 1-105 1 40 1 136 1-100 1-84 1 38 1 5 1 64 1-92 1-43 1 71 1-23 1-4 1-121 1 203 1-67 1 60 1 102 1-131 1 15 1 63 1-4 1-157 1 93 1-55 1-11 1-24 1 97 1-5 1-29 1 101 1 4 1-84 1 45 1-42 1-122 1 205 1-149 1 55 1 143 1-168 1 6 1 52 1-137 1 84 1-35 1 47 1-6 1-25 1 28 1-65 1 238 1-199 1-24 1-41 1-20 1 33 1 121 1 73 1-103 1-12 1 93 1-87 1-7 1 127 1-40 1-173 1 143 1 6 1-140 1 213 1-175 1 39 1 115 1-189 1 73 1 115 1-45 1-120 1 84 1 45 1 52 1-46 1-61 1-28 1-16 1-67 1 122 1-85 1 48 1 76 1-49 1 47 1-72 1 37 1-14 1 30 1 17 1-27 1-130 1 138 1-115 1 98 1-43 1-96 1 14 1 11 1 80 1-4 1 85 1 4 1-101 1 49 1 11 1-73 1 38 1 16 1 101 1-140 1 20 1 57 1-151 1 237 1-86 1-44 1-77 1 61 1-32 1-28 1-114 1 204 1 60 1-73 1 95 1-69 1-5 1-146 1 139 1-56 1 6 1 78 1-14 1 16 1-17 1-52 1-1 1 46 1-34 1-143 1 133 1 4 1 94 1-86 1 10 1 26 1-108 1 54 1 38 1 6 1-172 1 192 1-7 1-14 1 40 1 37 1-134 1 31 1 45 1-33 1 8 1 22 1-19 1-60 1 100 1-41 1-2 1-16 1 6 1-2 1-52 1 55 1 83 1-50 1-69 1 42 1-31 1 9 1 15 1-30 1 14 1-71 1 156 1-8 1-46 1-1 1 16 1-49 1 142 1-52 1 21 1-76 1-13 1-87 1 87 1-44 1-83 1 171 1-20 1-40 1 41 1-66 1 1 1 78 1-37 1 5 1-3 1 94 1-179 1 89 1 7 1-21 1 65 1-44 1 48 1-117 1 47 1 102 1-235 1 113 1-96 1 171 1-100 1 117 1-172 1 203 1-145 1 73 1 30 1 6 1-115 1 32 1-10 1-65 1 106 1-23 1-27 1 72 1 7 1-13 1-9 1 59 1-97 1-81 1 72 1-21 1-18 1 26 1 40 1 19 1 27 1-160 1 151 1 26 1-76 1 4 1 16 1-35 1 36 1-6 1 6 1-9 1 29 1 102 1-67 1-209 1 163 1-39 1 90 1-21 1-33 1-23 1 85 1-28 1-24 1 21 1 46 1-89 1 83 1-85 1 139 1-125 1-2 1-53 1-4 1 66 1-52 1 136 1-196 1-2 1 146 1-111 1 132 1-70 1-53 1 14 1 76 1-57 1-121 1 158 1 9 1 37 1-133 1 121 1-143 1 226 1-43 1-1 1-195 1 88 1 5 1 14 1 71 1-103 1 81 1 17 1-25 1-52 1 121 1-77 1-85 1 110 1-75 1 5 1 23 1 33 1-58 1-8 1 54 1 104 1-99 1-111 1 90 1-42 1-81 1 78 1-91 1 71 1 120 1-29 1-83 1 1 1 95 1-206 1 226 1-69 1 33 1-114 1 149 1-91 1-62 1-68 1 148 1 3 1 16 1-77 1-2 1 86 1-24 1 48 1-50 1 73 1-83 1 49 1-52 1 110 1-75 1 11 1-112 1 61 1 38" stroke="#0000ff" stroke-width="0.6" fill="none" vector-effect="non-scaling-stroke" stroke-linejoin="round"/>
<path transform="translate(118.7 555) scale(0.09121 0.08125)" d="M0 -2l1 16 1 3 1-15 1 114 1-123 1-105 1 97 1 47 1-32 1-20 1 26 1 17 1-23 1-16 1 16 1 14 1 2 1-6 1-9 1-4 1-7 1-14 1 5 1 22 1 4 1-13 1 12 1 18 1-22 1-20 1 27 1 13 1-38 1-18 1 36 1 24 1-8 1-8 1-12 1-97 1 77 1 66 1-42 1-50 1 22 1 62 1-12 1-41 1 3 1 20 1 9 1 7 1-8 1-15 1 7 1 8 1-29 1-22 1 16 1 20 1 2 1 2 1 2 1-6 1 4 1 14 1-6 1-11 1 9 1 5 1-20 1-12 1 12 1 7 1-8 1-3 1 7 1 7 1 2 1-8 1-10 1 9 1 21 1 1 1-16 1-8 1 3 1 4 1-2 1-8 1-3 1 10 1 5 1-13 1-1 1 28 1 10 1-30 1-19 1 17 1 12 1-12 1-7 1 5 1 2 1 5 1 16 1 4 1-15 1-12 1 1 1 3 1-4 1-73 1 66 1 53 1-16 1-44 1 2 1 31 1 0 1-7 1-6 1-2 1 11 1-6 1-14 1-3 1 18 1 13 1-16 1-16 1 18 1 14 1-20 1-18 1 14 1 16 1-1 1-8 1-5 1 3 1 10 1 0 1-17 1-7 1 20 1 17 1-9 1-17 1-5 1 3 1 6 1 1 1-3 1 0 1 7 1-1 1-7 1-2 1 1 1 4 1 11 1 5 1-14 1-8 1 11 1 2 1-11 1 4 1 11 1-10 1-11 1 8 1-1 1-18 1 3 1 23 1 10 1 1 1 5 1-7 1-17 1-1 1 9 1-3 1-5 1-45 1 27 1 38 1-5 1-13 1-10 1 16 1 11 1-10 1-18 1 8 1 11 1-10 1-12 1 17 1 24 1 1 1-17 1-14 1-7 1-8 1 0 1 13 1 5 1-6 1 6 1 16 1 3 1-6 1 0 1-7 1-15 1 7 1 18 1-10 1-20 1 6 1 8 1-11 1 4 1 19 1-7 1-20 1 11 1 26 1 5 1-8 1-6 1-13 1-5 1 6 1-14 1-28 1 7 1 44 1 25 1-9 1-16 1-6 1 4 1 3 1-8 1-11 1 2 1 6 1-3 1-4 1 1 1 1 1 5 1 7 1-1 1 4 1 16 1 57 1-79 1-55 1 29 1 46 1-1 1-30 1-15 1 13 1 23 1 8 1-24 1-13 1 24 1 5 1-16 1 0 1 7 1-6 1-2 1 9 1-5 1-6 1 16 1 11 1-18 1-15 1 7 1 2 1-4 1 5 1 6 1-2 1 0 1-1 1-3 1 6 1 6 1-6 1-5 1 9 1 1 1-8 1-5 1-6 1-5 1 14 1 15 1-10 1-14 1 5 1 2 1 1 1 24 1 14 1-30 1-23 1 17 1 1 1-28 1 5 1 33 1-1 1-18 1 16 1 23 1-17 1-23 1 3 1 5 1-11 1 2 1 21 1 4 1-69 1 34 1 80 1-35 1-54 1 0 1 48 1-2 1-20 1 8 1 11 1-3 1-8 1-1 1-21 1-12 1 33 1 19 1-25 1-12 1 23 1 5 1-14 1 4 1 2 1-21 1 3 1 30 1-2 1-27 1 12 1 27 1-15 1-33 1-4 1 14 1 8 1 5 1 0 1-4 1 5 1 8 1-3 1-5 1 1 1-2 1-6 1 1 1 1 1-1 1 5 1 6 1-3 1-9 1-9 1-3 1 13 1 13 1-7 1-12 1 9 1 10 1-12 1 0 1 25 1 5 1-28 1-16 1 7 1 4 1-5 1 0 1 2 1-1 1-59 1 64 1 51 1-24 1-16 1-8 1 20 1-5 1-37 1-7 1 36 1 10 1-16 1-12 1 6 1 9 1 4 1 4 1-9 1-16 1 6 1 14 1-8 1-17 1 4 1 20 1 15 1 5 1-7 1-18 1-10 1 5 1 3 1-4 1-2 1 0 1-2 1 4 1 10 1 4 1-7 1-5 1 6 1 11 1 6 1-8 1-15 1-8 1 2 1 6 1 3 1 2 1 0 1-1 1-4 1-4 1 4 1 10 1 5 1-4 1-9 1-6 1-2 1 6 1 15 1 8 1-11 1-14 1 0 1 4 1-4 1-1 1 12 1 6 1-66 1 33 1 82 1-30 1-44 1-14 1 44 1 24 1-25 1-47 1 7 1 37 1 12 1-29 1-21 1 16 1 20 1-2 1-11 1-11 1-1 1 24 1 22 1-17 1-27 1 7 1 19 1-15 1-24 1 14 1 23 1-7 1-11 1 11 1 9 1-4 1-5 1-6 1-6 1 1 1 0 1-7 1 10 1 23 1-5 1-17 1 10 1 9 1-28 1-19 1 27 1 19 1-18 1-6 1 18 1 5 1-15 1-2 1 11 1 3 1-11 1-15 1-4 1 14 1 9 1-7 1 0 1 15 1 5 1-11 1-9 1 0 1 2 1 2 1 46 1-58 1-23 1 36 1 29 1-17 1-14 1-6 1-1 1 9 1 10 1-16 1-11 1 12 1 16 1-13 1-16 1 12 1 10 1-5 1-2 1 9 1 7 1-5 1-11 1-4 1 3 1-3 1-9 1 0 1 7 1 3 1 7 1 12 1-1 1-13 1-3 1 6 1 3 1 4 1 1 1-19 1-16 1 10 1 9 1-7 1 7 1 18 1-9 1-17 1 11 1 19 1-3 1-10 1-5 1-6 1-1 1 5 1-4 1-1 1 15 1 5 1-16 1-7 1 7 1 0 1-3 1 6 1 1 1-4 1 9 1 8 1-8 1-5 1 86 1-76 1-80 1 33 1 76 1-3 1-41 1-26 1 18 1 29 1-14 1-23 1 9 1 30 1-1 1-11 1 0 1-5 1-18 1 6 1 30 1-8 1-33 1 2 1 22 1 2 1-6 1 4 1-2 1-5 1 9 1 2 1-9 1 4 1 7 1-13 1-8 1 15 1 2 1-19 1 0 1 23 1 7 1-13 1-3 1 9 1-3 1-14 1-6 1 10 1 8 1-5 1-10 1 4 1 15 1 5 1-10 1-8 1 6 1 13 1-2 1-15 1-7 1 5 1 2 1-2 1-2 1-5 1 0 1 22 1 18 1-18 1-26 1 11 1-57 1 58 1 32 1-21 1-26 1-3 1 35 1 8 1-29 1-23 1 18 1 22 1-1 1 0 1 4 1-8 1-11 1 3 1 9 1 0 1-8 1-3 1 5 1 3 1-1 1-1 1-2 1-2 1 4 1 3 1-9 1-8 1 14 1 20 1-5 1-17 1-4 1 3 1-3 1 0 1 9 1 4 1-6 1-5 1-2 1 4 1 6 1 2 1-3 1 0 1 0 1-5 1-7 1 1 1 10 1 7 1-8 1-12 1 6 1 17 1-2 1-12 1 3 1 8 1-9 1-11 1 5 1 2 1 0 1 11 1 2 1-14 1-4 1 11 1-67 1 46 1 78 1-13 1-76 1-9 1 44 1 17 1-20 1-12 1 6 1 8 1 1 1-6 1-8 1 14 1 9 1-16 1-16 1 15 1 10 1-14 1 1 1 20 1 2 1-14 1-1 1 0 1-6 1 2 1 3 1-9 1-5 1 8 1 7 1 7 1 6 1-9 1-16 1 5 1 12 1-2 1 1 1 7 1-12 1-14 1 13 1 12 1-19 1-8 1 19 1 5 1-14 1 0 1 9 1-4 1-1 1 9 1 0 1-5 1 1 1-3 1-6 1 7 1 10 1-7 1-7 1 2 1-8 1-12 1 13 1 17 1-3 1-2 1 49 1-40 1-61 1 28 1 52 1-5 1-33 1 0 1 15 1-4 1-14 1-5 1 4 1 11 1 12 1-14 1-10 1 14 1 15 1-15 1-17 1 14 1 14 1-16 1-13 1 14 1 13 1-6 1-3 1 3 1-11 1-12 1 9 1 14 1-7 1-8 1 13 1 14 1-11 1-24 1-4 1 19 1 20 1 1 1-12 1-8 1 0 1-2 1-4 1 2 1 4 1-5 1-5 1 6 1 9 1 1 1-1 1 3 1 0 1-4 1-2 1 0 1-2 1 0 1 0 1-8 1-4 1 13 1 12 1-7 1-10 1 8 1 6 1-12 1-47 1 37 1 50 1-13 1-43 1 4 1 35 1 5 1-30 1-14 1 13 1 20 1-5 1-12 1-8 1 5 1 6 1 3 1-3 1 0 1 7 1-3 1-8 1-3 1 3 1 3 1 1 1 3 1 0 1-1 1-1 1-2 1 6 1 13 1-5 1-27 1-12 1 16 1 9 1-7 1 5 1 11 1-6 1-2 1 16 1 1 1-18 1 3 1 14 1-20 1-26 1 14 1 21 1-12 1-5 1 29 1 12 1-30 1-25 1 13 1 21 1 5 1-3 1-8 1-12 1 0 1 20 1 11 1-17 1-20 1 4 1 14 1-4 1-10 1-48 1 63 1 42 1-21 1-47 1-1 1 37 1 17 1-22 1-20 1-1 1 8 1 6 1 5 1-5 1-7 1 1 1 9 1-2 1-12 1 5 1 16 1 3 1-9 1-6 1-2 1 2 1 3 1-6 1-9 1 8 1 14 1-4 1-5 1 7 1-2 1-17 1 1 1 18 1 0 1-15 1 0 1 13 1 8 1-3 1-10 1-8 1 4 1 7 1-4 1-5 1 2 1-3 1-2 1 16 1 12 1-14 1-8 1 13 1-5 1-22 1 4 1 18 1-8 1-12 1 20 1 17 1-15 1-11 1 7 1-5 1-12 1 10 1 16 1-38 1 6 1 38 1-7 1-19 1 1 1 16 1 3 1-18 1-3 1 10 1-2 1 1 1-1 1 5 1-1 1-7 1-6 1 2 1 3 1 8 1 11 1 0 1-14 1-9 1 4 1 3 1 0 1 8 1 7 1-10 1-15 1 2 1 10 1 1 1-6 1-2 1 11 1 12 1-4 1-18 1-7 1 6 1 8 1 6 1 3 1-13 1-13 1 14 1 19 1-7 1-12 1 5 1-4 1-16 1 5 1 18 1-5 1-11 1 10 1 6 1-9 1 10 1 20 1-12 1-30 1 0 1 20 1-2 1-17 1-2 1 15 1 10 1-7 1 55 1-47 1-48 1 26 1 27 1 28 1-51 1-26 1 39 1 30 1-33 1-32 1 14 1 25 1-7 1-13 1 9 1 10 1 6 1 1 1-12 1-13 1 0 1 3 1 0 1 12 1 11 1-12 1-13 1 10 1 10 1-10 1-10 1-1 1 2 1 11 1 14 1-9 1-21 1 1 1 15 1-1 1-7 1 9 1 9 1-5 1-15 1-9 1 7 1 18 1 8 1-7 1-7 1-8 1-14 1-1 1 18 1 9 1-6 1 4 1 13 1-4 1-15 1-5 1 1 1-2 1 0 1 2 1 3 1 9 1 7 1-12 1-17 1 5 1 85 1-60 1-58 1 35 1 35 1-19 1-31 1 2 1 18 1 3 1-2 1 5 1 2 1 0 1 10 1 1 1-19 1-8 1 13 1 2 1-21 1-12 1 16 1 18 1 6 1 0 1-4 1 0 1 6 1-3 1-17 1-6 1 10 1-3 1-7 1 14 1 15 1-16 1-17 1 15 1 20 1-8 1-13 1 3 1-2 1-13 1 2 1 18 1 7 1-7 1-4 1 1 1-3 1-2 1 6 1 1 1-6 1 1 1 5 1-11 1-14 1 12 1 25 1 3 1-15 1-7 1-2 1-3 1 5 1 10 1 2 1-4 1-5 1-8 1 40 1-17 1-54 1 11 1 31 1 14 1-36 1 6 1 30 1 14 1-14 1-33 1 1 1 17 1 10 1-13 1-15 1 2 1 18 1 9 1-12 1-9 1 3 1 7 1 6 1 0 1-7 1-4 1 6 1-1 1-7 1 7 1 6 1-18 1-10 1 24 1 17 1-22 1-18 1 13 1 12 1-2 1 4 1 8 1-8 1-14 1-3 1 4 1-2 1-2 1 5 1 11 1 7 1-3 1-12 1-8 1-1 1 2 1 4 1 8 1 8 1-1 1-6 1-4 1-4 1-6 1-3 1 12 1 14 1-4 1-19 1-6 1 9 1 9 1 69 1-54 1-67 1 45 1 42 1-32 1-45 1-3 1 53 1 24 1-25 1-18 1 4 1 3 1-1 1 5 1 3 1-9 1-10 1 2 1 13 1 8 1-10 1-11 1 7 1 15 1 5 1-6 1-2 1-5 1-9 1-1 1-3 1-11 1-2 1 21 1 21 1-1 1-9 1 0 1-2 1-14 1-11 1 11 1 17 1-4 1-18 1 3 1 18 1 0 1-8 1 4 1 0 1-15 1-3 1 12 1-1 1-6 1 15 1 10 1-18 1-11 1 19 1 10 1-14 1-11 1 0 1-1 1 5 1 12 1-6 1-15 1 9 1 20 1-43 1 16 1 40 1-8 1-44 1-3 1 23 1 23 1-17 1-16 1 2 1 18 1 10 1-6 1-10 1 5 1-5 1-14 1 5 1 16 1-6 1-23 1-1 1 22 1 8 1-6 1 3 1 10 1-2 1-8 1-1 1-2 1-8 1-4 1 4 1 1 1-2 1 2 1 3 1 1 1 8 1 8 1-9 1-17 1 2 1 14 1 5 1-5 1-5 1-5 1-2 1 5 1 5 1-2 1 0 1 1 1-6 1 0 1 8 1-2 1-8 1 9 1 8 1-18 1-11 1 19 1 12 1-13 1 2 1 16 1-11 1-28 1 3 1 23 1 33 1-33 1-28 1 14 1 28 1-9 1-25 1-2 1 16 1 14 1-7 1-9 1 1 1 6 1-5 1 3 1 8 1-6 1-14 1 0 1 11 1 6 1-1 1-1 1-10 1-11 1 7 1 15 1-8 1-13 1 20 1 30 1-16 1-42 1-1 1 35 1 10 1-20 1-11 1 3 1-2 1-1 1 10 1 11 1-1 1-6 1-3 1-1 1-3 1-9 1-5 1 14 1 16 1-2 1-7 1 5 1 0 1-15 1-5 1 15 1 9 1-12 1-16 1-3 1 8 1 9 1 5 1 3 1-2 1-2 1 6 1 5 1-13 1-18 1 46 1-13 1-33 1 2 1 22 1 7 1-24 1-3 1 22 1 0 1-21 1-5 1 19 1 11 1-5 1-5 1-3 1 0 1 7 1 1 1-10 1-8 1 1 1 5 1 4 1 4 1-2 1-3 1 1 1 4 1-3 1-5 1 2 1 7 1 3 1-9 1-12 1 4 1 14 1 4 1-7 1-3 1 4 1 2 1-3 1-5 1-4 1 5 1 10 1-4 1-12 1-2 1 6 1 5 1 6 1 3 1-11 1-13 1 5 1 13 1 11 1 6 1-12 1-25 1-1 1 27 1 6 1-20 1-2 1 7 1-19 1-15 1 21 1 25 1-77 1 71 1 86 1-63 1-68 1 19 1 28 1-7 1-19 1 3 1 12 1-3 1 4 1-6 1 7 1 9 1-6 1-20 1 0 1 34 1 16 1-21 1-23 1 2 1 5 1-4 1 2 1 9 1 4 1 1 1 0 1-5 1-12 1-7 1 4 1 2 1 2 1 15 1 16 1-3 1-13 1-3 1-5 1-17 1-3 1 19 1 15 1-6 1-10 1 1 1 6 1 5 1-3 1-14 1-8 1 6 1 7 1 4 1 8 1 3 1-9 1-3 1 6 1-5 1-11 1 5 1 9 1-6 1-3 1 11 1 4 1-10 1-5 1 0 1-69 1 50 1 75 1-14 1-49 1-8 1 21 1 19 1-3 1-27 1-4 1 12 1 7 1-11 1 2 1 9 1 0 1-10 1 8 1 8 1-17 1-13 1 14 1 13 1-6 1-4 1 5 1 2 1 2 1 1 1-9 1-11 1 7 1 9 1-1 1 0 1-1 1-11 1-3 1 19 1 10 1-20 1-16 1 5 1 10 1 9 1 10 1 1 1-8 1-3 1-2 1-11 1-2 1 5 1-3 1-1 1 15 1 4 1-16 1-1 1 18 1-1 1-16 1 2 1 5 1-13 1-3 1 24 1 16 1-11 1-16 1-7 1 1 1 9 1-78 1 68 1 64 1-41 1-38 1-5 1 36 1 20 1-27 1-10 1 19 1 10 1-16 1-12 1 4 1 11 1-6 1-9 1 1 1 16 1 9 1-11 1-19 1 1 1 11 1-1 1-7 1 2 1 7 1 5 1 1 1-2 1-2 1 6 1 4 1-10 1-8 1 5 1 4 1-4 1 0 1 4 1-12 1-11 1 10 1 11 1-8 1 0 1 20 1 11 1-12 1-9 1 1 1-3 1-1 1 6 1-9 1-19 1 2 1 21 1 9 1-6 1 1 1 0 1-13 1-5 1 11 1 7 1-4 1 2 1 8 1-2 1-6 1-4 1 48 1-50 1-36 1 38 1 21 1-13 1-21 1-3 1 19 1 7 1-10 1-14 1 3 1 14 1 10 1-5 1-8 1 7 1 10 1-8 1-17 1-2 1 11 1 0 1-6 1 2 1 6 1 0 1-3 1-4 1-6 1 0 1 11 1 8 1 2 1 1 1-1 1-4 1 0 1-1 1-12 1-9 1 12 1 13 1-8 1-15 1-3 1 7 1 12 1 12 1 0 1-7 1-5 1-10 1-9 1 15 1 25 1-6 1-23 1 2 1 8 1-13 1-5 1 20 1 5 1-17 1-2 1 8 1-11 1-8 1 23 1 20 1-10 1-16 1 64 1-71 1-72 1 81 1 62 1-34 1-71 1 14 1 32 1 18 1-17 1-18 1 0 1 8 1 9 1-6 1-4 1 15 1 15 1-2 1-11 1-10 1-14 1-4 1 13 1 10 1-8 1-7 1 10 1 11 1-3 1-9 1-8 1-2 1 7 1 10 1-1 1-3 1 7 1-1 1-15 1-2 1 15 1 6 1-8 1-5 1-3 1-7 1 4 1 14 1 0 1-16 1-6 1 10 1 9 1 1 1-3 1 0 1 6 1 3 1-6 1-6 1 5 1-1 1-12 1-6 1 6 1 6 1 3 1 5 1 2 1-4 1-5 1-4 1 43 1-34 1-20 1 10 1 30 1 6 1-28 1-29 1 13 1 28" stroke="#00ff00" stroke-width="0.35" fill="none" vector-effect="non-scaling-stroke" stroke-linejoin="round"/>
<path transform="translate(118.7 555) scale(0.09121 0.08125)" d="M0 4l1-44 1 59 1-42 1 143 1-103 1-101 1 73 1 6 1 13 1 3 1-16 1 20 1 16 1-71 1 50 1 7 1 11 1-4 1-33 1 24 1-29 1-21 1 60 1-19 1-5 1-33 1 55 1-2 1 10 1-86 1 71 1 23 1-53 1-41 1 104 1-16 1-36 1-17 1 13 1-98 1 87 1 73 1-73 1-31 1 9 1 51 1 5 1-28 1 19 1 28 1-5 1-28 1-12 1-5 1 9 1 43 1-46 1 2 1-14 1 16 1-48 1 18 1 5 1 46 1 33 1-23 1-26 1-6 1-2 1-15 1 25 1 15 1 17 1-28 1 27 1-88 1 31 1 19 1 33 1-55 1-1 1-4 1 42 1 23 1-18 1-34 1 14 1 16 1 19 1-2 1-26 1-27 1 42 1 6 1-83 1 56 1 18 1-12 1-16 1 53 1-55 1 25 1-26 1 12 1 27 1-6 1-21 1 36 1 37 1-78 1 5 1-24 1 61 1-119 1 69 1 98 1-76 1-49 1 40 1 16 1 12 1-8 1-18 1 23 1 4 1 0 1-15 1 10 1 52 1 24 1-79 1-31 1 26 1-2 1-50 1 22 1 35 1-45 1 27 1 61 1-74 1 13 1 3 1-3 1 0 1-5 1-12 1 39 1 9 1-14 1-43 1 45 1-10 1 24 1-65 1 12 1 37 1-3 1-15 1-12 1 19 1-3 1 8 1 13 1-34 1-2 1-7 1 33 1-46 1-20 1 56 1 10 1-6 1 16 1-33 1 3 1-50 1 58 1 7 1-6 1 48 1-42 1-9 1-16 1 33 1-38 1 19 1-44 1 29 1 43 1-52 1 19 1-22 1-6 1 67 1-59 1 27 1 30 1-15 1 15 1-34 1-22 1 19 1 19 1 15 1 1 1-27 1 2 1-11 1 16 1 40 1-88 1 71 1-19 1-25 1 28 1-51 1 96 1-40 1-19 1 23 1-2 1-24 1-8 1 22 1 5 1-43 1-3 1 26 1 13 1-4 1 61 1-31 1-26 1 46 1-52 1 11 1 35 1-105 1-23 1 21 1 78 1 23 1-30 1-13 1-3 1 5 1-13 1-5 1-13 1-5 1 59 1-40 1-17 1 11 1-9 1 12 1 26 1-24 1 15 1 23 1 92 1-115 1-33 1 40 1 37 1-22 1-61 1 2 1 14 1 1 1-8 1 30 1-8 1 1 1 34 1-68 1 5 1 45 1-3 1-3 1 20 1 9 1 7 1-71 1 48 1-29 1-16 1 40 1-4 1-8 1 7 1 15 1 14 1 5 1-32 1-9 1 16 1-6 1 35 1-71 1 39 1-26 1 24 1-2 1-38 1 45 1 2 1-5 1-13 1 25 1-22 1-1 1-14 1 33 1-3 1 39 1-81 1-14 1 41 1-63 1 71 1-10 1 23 1-26 1 4 1-2 1 11 1-2 1 10 1-45 1 4 1-5 1 40 1 4 1-83 1 39 1 79 1 3 1-95 1-16 1 35 1 35 1-29 1 15 1-7 1 20 1-27 1 45 1-48 1 20 1 55 1-46 1-40 1 18 1 42 1-34 1-29 1 50 1 8 1-38 1 57 1-34 1-9 1-52 1 54 1 75 1-50 1-61 1 9 1 69 1-30 1 15 1-72 1 35 1-9 1 53 1-9 1-31 1-5 1 39 1-37 1-19 1 34 1 20 1-3 1 6 1-60 1 1 1 43 1 2 1-28 1 3 1 16 1-27 1 5 1 31 1-18 1-12 1 20 1-4 1 6 1-22 1-32 1 50 1-76 1 70 1-7 1-8 1-23 1 28 1 64 1-64 1 55 1-68 1-7 1 59 1-76 1 37 1 59 1-44 1-5 1-18 1-3 1 31 1 27 1-35 1 49 1-54 1-16 1 39 1-42 1-14 1 2 1 49 1 11 1-25 1 2 1-7 1-37 1 1 1 13 1 54 1 4 1-51 1-3 1-9 1 45 1 39 1-103 1 21 1 36 1-26 1 13 1-4 1 3 1 29 1-24 1 14 1-35 1 26 1-33 1 18 1 18 1-14 1 12 1 24 1-30 1 24 1-34 1 68 1-56 1 8 1-16 1 16 1-57 1 43 1-13 1 20 1 3 1-4 1 25 1-15 1-72 1 45 1 82 1-59 1 6 1-67 1 81 1 8 1-69 1-48 1 82 1 5 1-4 1 33 1-79 1 69 1-17 1-10 1 23 1-19 1-22 1 25 1 6 1 25 1-18 1-14 1 2 1 7 1-11 1-13 1 25 1-28 1 77 1-63 1 13 1-17 1-7 1 37 1-21 1 23 1-27 1-26 1 17 1 51 1-27 1 20 1-35 1-3 1 29 1-17 1-18 1 21 1 2 1 5 1 2 1 7 1-26 1 5 1-41 1 52 1-32 1 15 1-29 1 21 1-32 1 65 1-73 1 51 1 72 1-62 1 42 1-59 1 19 1 3 1 21 1-56 1 5 1 46 1-33 1-25 1 36 1 5 1 9 1-33 1 32 1 7 1-50 1 24 1 48 1-48 1-29 1 9 1 11 1-3 1 7 1-1 1 29 1-20 1-8 1 10 1 34 1-56 1-9 1 5 1 12 1 21 1 27 1-43 1-18 1 31 1-15 1-13 1-6 1 27 1-4 1-22 1 10 1-6 1 43 1-57 1 42 1 11 1-19 1 14 1 4 1-16 1-49 1 5 1 49 1-52 1 22 1-5 1 4 1 17 1 21 1 12 1-29 1-9 1-43 1 49 1 7 1-25 1 21 1-20 1 7 1-24 1 57 1-40 1 104 1-80 1-85 1 52 1 92 1-26 1-9 1-72 1-4 1 68 1-58 1 13 1 35 1 18 1-19 1-2 1 49 1-67 1 5 1-28 1-5 1 41 1-26 1-23 1 43 1 9 1-49 1 37 1-9 1-21 1 25 1 2 1 34 1-50 1 23 1 18 1-14 1-9 1-20 1 16 1-24 1 55 1-24 1-19 1 31 1 26 1-7 1-52 1 26 1-13 1 31 1-32 1-11 1-9 1 30 1 37 1-33 1-9 1 27 1-41 1 34 1-24 1 46 1-15 1-34 1-22 1 36 1-39 1 33 1 29 1 4 1-31 1 7 1 2 1-71 1 74 1 32 1-41 1-33 1 37 1-20 1 35 1 20 1-107 1 48 1 30 1 31 1-22 1-21 1-7 1 36 1-43 1 10 1-33 1 37 1 6 1 40 1-30 1-28 1 32 1-22 1-18 1 63 1-22 1-65 1 31 1 41 1-26 1 74 1-82 1 12 1-11 1 26 1-35 1 16 1 2 1 26 1-13 1-37 1 21 1-9 1-19 1 29 1-26 1 18 1 26 1-34 1 12 1-22 1 7 1 12 1-9 1 0 1 62 1-5 1-41 1-2 1 21 1-35 1 30 1-27 1 11 1 14 1-3 1 21 1-49 1-10 1 68 1-109 1 102 1 55 1-33 1-62 1 32 1 2 1-12 1 9 1-33 1 5 1 6 1-13 1 3 1 41 1-82 1 80 1-16 1-44 1 2 1 22 1 31 1 19 1-17 1-15 1 27 1-25 1-23 1 16 1-2 1 3 1-3 1-25 1 18 1 3 1 21 1 7 1-26 1-24 1 57 1-3 1-12 1 14 1-21 1-15 1-9 1 0 1 8 1 5 1-19 1 5 1 23 1-11 1-29 1 11 1 35 1 9 1-5 1-18 1 9 1-19 1 24 1 10 1-12 1 20 1-1 1-17 1-34 1 4 1-41 1 64 1-16 1-7 1-41 1 127 1-41 1-92 1 28 1 62 1 16 1-22 1-37 1 3 1 50 1-49 1 16 1-49 1 33 1 32 1-26 1 11 1 2 1 24 1-54 1 3 1 12 1 4 1 9 1-18 1 24 1-35 1 19 1 20 1 32 1-28 1-13 1-23 1 2 1 32 1 11 1-61 1 58 1-35 1-27 1 18 1 0 1-3 1 63 1-20 1-9 1-9 1-20 1 11 1-16 1 12 1 48 1-40 1 18 1 17 1-2 1-6 1-40 1 4 1-10 1 49 1 11 1-39 1-22 1 11 1-5 1 2 1-19 1 63 1-18 1-56 1 64 1-23 1 10 1-78 1 65 1 40 1-11 1-31 1 10 1-8 1 35 1-26 1 1 1 30 1 6 1-57 1 23 1-12 1-43 1 69 1 2 1-39 1 10 1 23 1-7 1-26 1-13 1 52 1-47 1 14 1 33 1-11 1-32 1 1 1 45 1 11 1-24 1 8 1-40 1-28 1 30 1 42 1-9 1-49 1 8 1 50 1-39 1 3 1-11 1 35 1 8 1-47 1 20 1-44 1 46 1 21 1-2 1-5 1-25 1 33 1-24 1 5 1 17 1-20 1-24 1 20 1 0 1 33 1-42 1 62 1-29 1-20 1-3 1 8 1-20 1 20 1-12 1-42 1 36 1 74 1-37 1-23 1-75 1 90 1 17 1-26 1-14 1 40 1-45 1 1 1 57 1-35 1-18 1 36 1-8 1 13 1-28 1 26 1-52 1 49 1-58 1 22 1 37 1-33 1-14 1-3 1 23 1-5 1 11 1 13 1-32 1 19 1 3 1-14 1 2 1 3 1 41 1-15 1-62 1 43 1 3 1 26 1-62 1 18 1-7 1 21 1-20 1 50 1-34 1-13 1 33 1-28 1 16 1-18 1 25 1-12 1-1 1-15 1 14 1 39 1-33 1-23 1 9 1-7 1 31 1-16 1 19 1-20 1-44 1 51 1 34 1-59 1 2 1 83 1-76 1 24 1-33 1 42 1-30 1-12 1 21 1-27 1 15 1 13 1-4 1 21 1 9 1-20 1-27 1 4 1 8 1 58 1-53 1-4 1 2 1-17 1 23 1-13 1 12 1 25 1-24 1-5 1 24 1-53 1 22 1-3 1 3 1 16 1-13 1 13 1 1 1-45 1 25 1 8 1-2 1 21 1 16 1-63 1 4 1 16 1 17 1 12 1-43 1 25 1 6 1-8 1-1 1 10 1 15 1-19 1-28 1 38 1 8 1-58 1 50 1 9 1-48 1-24 1 33 1 9 1 23 1-23 1-28 1 6 1 44 1 50 1-97 1 27 1-8 1 32 1 6 1-36 1-17 1 37 1 53 1-48 1-33 1 11 1-64 1 84 1-20 1-5 1 12 1 48 1 5 1-57 1 18 1-23 1-33 1 32 1 37 1 17 1-47 1-12 1 28 1-23 1 15 1 21 1 9 1-40 1 0 1-14 1 47 1-78 1 52 1-7 1-16 1 15 1 9 1-8 1 3 1-40 1 14 1-5 1 38 1 9 1 41 1-73 1 34 1-16 1-7 1-6 1 61 1-58 1-25 1 73 1-50 1-6 1 33 1 2 1-18 1 10 1-11 1 24 1 2 1-34 1 14 1-9 1-13 1 58 1-5 1-103 1 32 1 28 1 36 1-57 1 29 1 1 1-10 1 32 1-19 1 25 1-3 1-26 1 1 1 16 1-6 1-47 1 12 1 40 1-31 1 15 1-30 1 61 1-8 1-51 1 60 1-32 1 8 1-23 1-33 1 41 1 16 1-41 1 28 1 71 1-75 1-21 1 40 1-3 1-26 1 45 1-14 1-25 1 21 1-26 1 60 1-42 1 14 1-35 1 35 1 4 1-7 1-12 1-26 1 58 1-62 1 10 1 4 1 8 1 28 1-38 1 51 1-12 1-52 1-8 1 13 1 25 1 15 1-5 1 8 1 8 1-48 1 22 1-1 1-20 1-8 1 16 1 2 1-6 1 17 1 0 1 30 1-4 1-51 1 30 1-6 1-7 1 11 1-5 1 12 1-4 1 17 1-25 1-24 1 12 1 14 1-18 1 48 1-16 1-10 1-30 1 29 1 7 1-29 1 7 1 30 1-57 1 52 1-2 1 17 1-10 1-10 1 14 1 6 1-17 1 23 1-13 1-51 1 15 1 7 1 19 1-13 1 1 1-33 1 20 1 36 1-10 1-17 1 36 1-65 1 46 1-43 1 51 1-20 1 22 1-64 1 14 1 17 1 4 1-9 1 34 1 0 1-32 1-30 1 47 1-14 1 69 1-27 1-90 1 95 1-6 1-5 1-56 1-21 1 56 1 40 1-43 1-5 1 45 1-28 1-16 1-38 1 40 1 26 1-48 1 2 1 34 1 29 1-42 1 24 1-38 1 29 1-14 1 53 1-41 1-11 1-25 1 25 1-32 1 20 1-14 1 24 1-3 1 51 1-14 1-29 1 13 1-49 1-2 1 25 1 78 1-88 1 21 1-30 1 25 1 22 1-26 1 63 1-70 1 0 1 18 1-26 1 30 1-45 1 57 1-73 1 50 1-6 1 15 1 36 1-17 1-64 1 70 1-63 1 0 1 64 1-43 1-3 1 29 1-49 1 4 1 57 1-9 1-11 1-17 1-19 1 21 1 38 1-17 1-24 1-1 1 31 1-33 1 47 1-3 1-25 1 10 1-50 1-25 1 89 1-18 1-53 1 37 1 7 1 24 1-56 1 3 1 9 1 42 1-25 1-25 1 31 1-16 1 6 1 5 1 2 1-14 1-8 1 31 1-8 1 11 1-1 1-1 1-49 1 27 1 20 1 31 1-37 1 17 1-31 1 15 1-40 1 23 1 14 1 1 1 16 1-48 1 13 1 32 1-28 1 8 1 54 1-21 1-41 1 11 1 7 1-10 1 14 1-37 1 39 1-39 1-8 1 11 1 2 1 90 1-101 1 35 1-2 1 15 1-22 1 1 1 9 1-8 1-6 1 12 1-21 1 22 1-22 1 16 1 37 1-11 1 26 1-64 1 12 1-27 1 97 1-47 1-3 1-1 1-38 1 29 1 11 1 8 1-9 1 13 1 7 1-34 1-28 1 53 1-24 1 5 1 7 1-36 1 5 1 17 1-4 1-13 1 39 1-4 1-22 1-24 1 3 1-8 1 30 1 27 1-16 1 2 1-9 1 18 1-16 1-26 1 42 1-16 1 49 1-87 1 53 1-45 1 16 1 41 1-38 1-8 1 24 1 48 1-40 1 1 1-10 1-27 1 9 1 13 1-10 1-24 1 5 1 53 1 12 1-24 1-20 1 6 1-16 1-6 1 4 1-4 1 43 1-9 1-43 1 42 1-19 1 15 1 19 1-28 1 13 1-48 1 49 1-15 1 1 1-12 1 24 1 1 1-8 1 28 1-6 1-8 1 0 1-12 1-67 1 63 1-33 1 29 1-17 1 13 1 23 1-19 1-40 1 49 1 12 1-57 1 67 1-47 1 35 1-62 1 83 1-37 1 37 1-53 1 24 1-19 1 11 1 25 1 15 1-15 1-20 1-24 1-28 1 3 1 28 1 12 1-36 1 3 1 69 1-109 1-12 1 97 1 25 1-80 1 40 1 106 1-71 1-82 1 25 1 19 1 31 1-45 1-11 1 24 1-15 1 4 1-41 1 84 1-33 1 39 1 23 1-76 1 41 1 44 1-29 1-72 1 36 1-34 1 4 1 9 1 37 1 4 1-10 1 39 1 4 1-47 1 17 1-17 1-69 1 79 1-25 1 34 1 34 1-64 1 10 1 9 1-58 1 30 1 0 1 29 1-13 1-9 1 4 1-26 1 104 1-80 1-12 1-25 1-10 1 12 1 51 1 34 1-49 1 15 1 39 1-45 1-6 1 51 1-4 1-80 1 53 1-2 1-52 1 91 1-69 1 13 1 39 1-116 1 50 1 110 1-27 1-87 1 41 1 21 1 42 1-42 1-40 1 2 1-14 1 1 1 36 1-43 1 24 1 43 1-27 1 7 1-13 1 2 1-12 1 22 1 13 1-25 1-35 1 47 1-46 1 61 1-41 1-41 1-8 1 35 1 48 1-36 1 48 1-3 1-59 1 17 1 35 1-29 1-15 1 19 1 42 1-57 1 13 1 38 1-65 1 90 1-28 1-47 1-18 1 25 1-7 1 2 1-78 1 99 1 26 1-47 1 50 1-22 1 11 1-72 1 52 1-23 1-1 1 33 1 0 1 28 1-23 1-21 1-17 1 4 1 12 1-96 1 82 1 45 1 23 1-84 1 16 1 35 1-37 1 16 1 1 1 14 1-59 1 76 1-27 1 0 1 26 1 2 1-52 1-10 1 53 1-2 1-15 1 5 1-14 1-6 1 37 1-18 1-13 1-3 1 22 1-16 1-21 1 19 1 35 1-9 1-31 1 7 1-15 1 21 1-4 1-18 1 20 1-34 1 47 1 2 1-5 1-13 1 14 1-13 1 55 1-27 1-2 1-10 1-8 1-41 1 25 1-11 1-41 1 70 1 28 1-38 1 10 1-22 1-9 1 38 1-27 1 4 1 10 1 38 1-60 1 21 1 9 1-5 1 6 1 24 1-10 1-72 1 46 1 47 1-109 1 48 1-26 1 58 1-34 1 37 1-62 1 72 1-59 1 37 1 6 1 7 1-36 1 21 1-14 1-43 1 47 1 10 1-24 1 31 1 2 1-20 1 16 1 11 1-29 1-30 1 8 1 8 1-12 1 20 1 13 1-2 1 23 1-61 1 65 1 0 1-49 1 24 1 9 1-23 1 5 1-7 1 17 1-7 1 21 1 29 1-33 1-70 1 60 1-11 1 33 1 16 1-22 1-35 1 37 1-2 1-10 1-6 1 35 1-23 1 6 1-27 1 59 1-51 1-7 1-29 1 32 1 15 1-39 1 115 1-127 1-38 1 107 1-16 1 28 1-76 1-11 1 42 1 28 1-37 1-49 1 46 1 28 1 17 1-64 1 46 1-39 1 94 1-32 1 7 1-81 1 40 1-9 1-6 1 49 1-49 1 17 1 15 1 6 1-24 1 38 1-38 1-13 1 46 1-39 1-1 1 5 1 28 1-30 1-1 1 18 1 31 1-17 1-40 1 13 1-19 1-23 1 19 1-24 1 31 1 43 1-22 1-27 1 20 1 28 1-76 1 77 1-14 1 11 1-65 1 75 1-32 1-38 1-29 1 57 1 2 1 10 1-23 1 6 1 24 1-1 1 16 1-30 1 59 1-70 1 18 1-24 1 70 1-6 1-33 1-46 1 10 1 42" stroke="#ff0000" stroke-width="0.7" fill="none" vector-effect="non-scaling-stroke" stroke-linejoin="round"/>
<path d="M118 522.5H306M118 587.5H306" stroke="#555" stroke-width="1" fill="none"/>
<line x1="119" y1="522" x2="119" y2="588" stroke="#a0a0a0" stroke-width="2"/>
<line x1="305.5" y1="522.5" x2="305.5" y2="587.5" stroke="#666" stroke-width="1"/>
<line x1="118.7" y1="522.5" x2="120.2" y2="522.5" stroke="#444" stroke-width="0.8"/>
<text x="118" y="525.4" font-size="8.6" text-anchor="end">4</text>
<line x1="118.7" y1="538.8" x2="120.2" y2="538.8" stroke="#444" stroke-width="0.8"/>
<text x="118" y="541.6" font-size="8.6" text-anchor="end">2</text>
<line x1="118.7" y1="555" x2="120.2" y2="555" stroke="#444" stroke-width="0.8"/>
<text x="118" y="557.9" font-size="8.6" text-anchor="end">0</text>
<line x1="118.7" y1="571.2" x2="120.2" y2="571.2" stroke="#444" stroke-width="0.8"/>
<text x="118" y="574.1" font-size="8.6" text-anchor="end">-2</text>
<line x1="118.7" y1="587.5" x2="120.2" y2="587.5" stroke="#444" stroke-width="0.8"/>
<text x="118" y="590.4" font-size="8.6" text-anchor="end">-4</text>
<line x1="118.7" y1="587.5" x2="118.7" y2="586" stroke="#444" stroke-width="0.8"/>
<text x="118.7" y="594.9" font-size="8.6" text-anchor="middle">0</text>
<line x1="164.3" y1="587.5" x2="164.3" y2="586" stroke="#444" stroke-width="0.8"/>
<text x="164.3" y="594.9" font-size="8.6" text-anchor="middle">500</text>
<line x1="209.9" y1="587.5" x2="209.9" y2="586" stroke="#444" stroke-width="0.8"/>
<text x="209.9" y="594.9" font-size="8.6" text-anchor="middle">1000</text>
<line x1="255.5" y1="587.5" x2="255.5" y2="586" stroke="#444" stroke-width="0.8"/>
<text x="255.5" y="594.9" font-size="8.6" text-anchor="middle">1500</text>
<line x1="301.1" y1="587.5" x2="301.1" y2="586" stroke="#444" stroke-width="0.8"/>
<text x="301.1" y="594.9" font-size="8.6" text-anchor="middle">2000</text>
<polygon points="349.0,584.1 349.0,582.3 349.5,580.9 350.0,581.9 350.5,581.4 351.0,581.6 351.5,581.3 352.0,580.6 352.5,580.8 353.0,581.0 353.5,581.1 354.0,581.2 354.5,581.3 355.0,582.2 355.5,582.0 356.0,581.9 356.5,581.9 357.0,580.9 357.5,580.8 358.0,580.6 358.5,581.1 359.0,582.1 359.5,581.5 360.0,582.1 360.5,582.0 361.0,580.5 361.5,581.6 362.0,580.7 362.5,580.6 363.0,581.9 363.5,581.4 364.0,581.1 364.5,581.4 365.0,582.3 365.5,580.6 366.0,580.5 366.5,581.6 367.0,582.0 367.5,580.9 368.0,581.9 368.5,580.5 369.0,581.5 369.5,581.6 370.0,581.4 370.5,581.2 371.0,581.6 371.5,580.7 372.0,581.5 372.5,581.3 373.0,580.8 373.5,580.9 374.0,581.8 374.5,580.7 375.0,581.5 375.5,581.2 376.0,580.4 376.5,581.7 377.0,580.9 377.5,582.0 378.0,581.0 378.5,580.5 379.0,581.3 379.5,581.3 380.0,581.8 380.5,581.4 381.0,581.0 381.5,581.8 382.0,580.9 382.6,581.3 383.1,581.9 383.6,582.0 384.1,581.6 384.6,581.4 385.1,580.8 385.6,582.2 386.1,582.2 386.6,582.0 387.1,581.6 387.6,580.9 388.1,582.0 388.6,580.6 389.1,581.4 389.6,582.0 390.1,581.0 390.6,581.0 391.1,582.3 391.6,581.2 392.1,582.4 392.6,581.2 393.1,582.1 393.6,580.9 394.1,580.8 394.6,581.0 395.1,580.7 395.6,580.8 396.1,581.7 396.6,581.3 397.1,581.0 397.6,581.8 398.1,582.1 398.6,580.9 399.1,582.0 399.6,581.4 400.1,581.8 400.6,582.0 401.1,580.9 401.6,581.9 402.1,581.7 402.6,581.8 403.1,581.5 403.6,582.2 404.1,580.8 404.6,582.0 405.1,581.0 405.6,580.8 406.1,580.8 406.6,582.0 407.1,580.7 407.6,582.3 408.1,580.9 408.6,580.9 409.1,581.3 409.6,581.3 410.1,582.2 410.6,581.1 411.1,582.1 411.6,580.8 412.1,580.9 412.6,581.7 413.1,581.5 413.6,581.8 414.1,581.9 414.6,581.9 415.1,581.8 415.6,582.4 416.1,581.2 416.6,581.4 417.1,581.6 417.6,581.8 418.1,581.7 418.6,581.3 419.1,581.7 419.6,581.8 420.1,582.1 420.6,581.9 421.1,581.0 421.6,582.1 422.1,581.1 422.6,581.6 423.1,581.9 423.6,582.1 424.1,581.2 424.6,582.5 425.1,581.2 425.6,581.9 426.1,582.1 426.6,581.4 427.1,582.4 427.6,582.1 428.1,582.2 428.6,581.3 429.1,581.7 429.6,581.2 430.1,581.7 430.6,581.8 431.1,581.7 431.6,581.6 432.1,580.9 432.6,581.9 433.1,581.7 433.6,581.5 434.1,581.1 434.6,581.0 435.1,581.5 435.6,580.9 436.1,581.7 436.6,581.8 437.1,581.9 437.6,581.3 438.1,581.3 438.6,582.4 439.1,581.1 439.6,581.4 440.1,582.1 440.6,582.2 441.1,582.2 441.6,581.3 442.1,581.9 442.6,582.2 443.1,581.0 443.6,581.1 444.1,581.2 444.6,580.9 445.1,581.6 445.6,581.8 446.1,581.9 446.6,582.1 447.1,581.1 447.6,581.7 448.1,581.1 448.6,581.2 449.2,581.6 449.7,582.0 450.2,581.5 450.7,581.7 451.2,581.3 451.7,581.8 452.2,582.1 452.7,581.0 453.2,582.6 453.7,582.3 454.2,581.2 454.7,581.0 455.2,582.2 455.7,582.2 456.2,581.9 456.7,582.1 457.2,581.9 457.7,581.2 458.2,582.5 458.7,582.1 459.2,582.2 459.7,582.3 460.2,582.5 460.7,581.2 461.2,581.6 461.7,582.5 462.2,581.7 462.7,582.1 463.2,581.3 463.7,581.7 464.2,582.4 464.7,582.3 465.2,582.6 465.7,582.6 466.2,582.2 466.7,581.9 467.2,582.6 467.7,581.7 468.2,581.5 468.7,582.1 469.2,582.7 469.7,581.4 470.2,581.5 470.7,581.2 471.2,582.5 471.7,582.6 472.2,581.2 472.7,582.5 473.2,581.5 473.7,581.6 474.2,582.3 474.7,581.6 475.2,581.7 475.7,582.5 476.2,582.7 476.7,582.1 477.2,581.5 477.7,582.0 478.2,582.5 478.7,582.4 479.2,582.1 479.7,581.7 480.2,581.4 480.7,582.6 481.2,581.5 481.7,581.4 482.2,582.0 482.7,581.7 483.2,581.3 483.7,581.8 484.2,582.1 484.7,582.7 485.2,582.6 485.7,581.7 486.2,582.5 486.7,581.8 487.2,582.3 487.7,582.6 488.2,582.8 488.7,581.5 489.2,581.5 489.7,582.7 490.2,582.1 490.2,584.1" fill="#0000ff"/>
<line x1="349" y1="584.10" x2="490.2" y2="584.10" stroke="#0000ff" stroke-width="0.9"/>
<path d="M350.6 584.1V561.6M356.1 584.1V567.8M371.5 584.1V567.2M376.5 584.1V563.3M380.8 584.1V568.7M390.0 584.1V574.7M394.5 584.1V578.1M399.6 584.1V580.5M403.5 584.1V581.1M363.7 584.1V579.6" stroke="#70f070" stroke-width="1.7"/>
<polygon points="349.0,584.1 349.0,581.6 349.5,581.9 350.0,581.4 350.5,581.5 351.0,581.8 351.5,581.8 352.0,581.7 352.5,582.3 353.0,581.4 353.5,581.6 354.0,581.4 354.5,582.3 355.0,582.1 355.5,582.3 356.0,581.5 356.5,581.8 357.0,582.2 357.5,582.5 358.0,582.0 358.5,582.5 359.0,581.6 359.5,582.5 360.0,582.6 360.5,581.6 361.0,581.5 361.5,582.5 362.0,581.9 362.5,581.5 363.0,581.5 363.5,582.4 364.0,581.9 364.5,581.6 365.0,581.9 365.5,582.2 366.0,582.2 366.5,581.9 367.0,581.9 367.5,581.7 368.0,581.7 368.5,582.6 369.0,581.6 369.5,582.4 370.0,581.5 370.5,582.6 371.0,582.5 371.5,582.3 372.0,582.2 372.5,582.3 373.0,582.1 373.5,581.9 374.0,582.4 374.5,582.5 375.0,581.9 375.5,582.2 376.0,581.9 376.5,581.9 377.0,581.9 377.5,582.4 378.0,582.3 378.5,581.9 379.0,582.2 379.5,582.2 380.0,581.9 380.5,581.9 381.0,582.0 381.5,582.1 382.0,581.8 382.5,582.5 383.0,582.7 383.5,582.0 384.0,582.1 384.5,581.8 385.0,581.8 385.5,582.6 386.0,581.9 386.5,581.6 387.0,581.8 387.5,582.1 388.0,582.6 388.5,581.9 389.0,581.9 389.6,582.4 390.1,582.4 390.6,582.3 391.1,582.6 391.6,582.2 392.1,582.4 392.6,582.5 393.1,582.7 393.6,581.9 394.1,582.5 394.6,581.8 395.1,581.8 395.6,582.2 396.1,582.0 396.6,582.3 397.1,581.8 397.6,582.8 398.1,582.0 398.6,582.3 399.1,582.8 399.6,582.6 400.1,582.0 400.6,582.7 401.1,582.0 401.6,582.4 402.1,582.0 402.6,581.9 403.1,582.4 403.6,582.7 404.1,582.8 404.6,582.1 405.1,582.6 405.6,582.3 406.1,582.0 406.6,582.2 407.1,582.5 407.6,582.0 408.1,582.5 408.6,582.2 409.1,582.8 409.6,582.6 410.1,582.4 410.6,582.2 411.1,582.1 411.6,582.3 412.1,582.9 412.6,582.0 413.1,582.7 413.6,581.9 414.1,582.5 414.6,582.7 415.1,582.6 415.6,582.6 416.1,582.8 416.6,582.2 417.1,582.8 417.6,582.8 418.1,582.0 418.6,582.7 419.1,582.7 419.6,582.3 420.1,582.0 420.6,582.7 421.1,582.9 421.6,582.9 422.1,582.4 422.6,582.5 423.1,582.1 423.6,582.4 424.1,583.0 424.6,582.5 425.1,582.8 425.6,582.2 426.1,583.0 426.6,582.7 427.1,582.5 427.6,582.4 428.1,582.5 428.6,583.0 429.1,582.3 429.6,582.7 430.1,582.4 430.6,582.7 431.1,582.9 431.6,582.6 432.1,582.6 432.6,582.7 433.1,582.4 433.6,583.1 434.1,582.6 434.6,582.6 435.1,582.4 435.6,582.3 436.1,582.9 436.6,583.1 437.1,582.9 437.6,582.9 438.1,582.7 438.6,583.1 439.1,582.6 439.6,582.7 440.1,582.7 440.6,582.6 441.1,582.5 441.6,583.0 442.1,582.8 442.6,582.7 443.1,582.7 443.6,582.7 444.1,582.9 444.6,582.7 445.1,582.6 445.6,583.2 446.1,582.5 446.6,582.9 447.1,582.6 447.6,582.9 448.1,582.9 448.6,583.1 449.1,582.8 449.6,583.0 450.1,582.8 450.6,582.6 451.1,582.6 451.6,582.6 452.1,582.8 452.6,583.2 453.1,583.2 453.6,582.9 454.1,582.9 454.6,583.0 455.1,582.6 455.6,583.0 456.1,583.0 456.6,582.8 457.1,582.9 457.6,582.9 458.1,582.8 458.6,583.0 459.1,582.7 459.6,583.0 460.1,582.9 460.6,583.0 461.1,583.0 461.6,583.3 462.1,583.1 462.6,582.8 463.1,583.3 463.6,583.0 464.1,583.3 464.6,582.9 465.1,583.1 465.6,583.3 466.1,583.3 466.6,583.0 467.1,582.9 467.6,583.1 468.1,583.2 468.6,583.1 469.1,582.9 469.6,583.0 470.1,583.2 470.7,582.9 471.2,583.3 471.7,583.1 472.2,583.3 472.7,583.1 473.2,583.4 473.7,583.2 474.2,583.1 474.7,583.0 475.2,583.2 475.7,583.3 476.2,583.2 476.7,583.0 477.2,583.4 477.7,583.2 478.2,583.1 478.7,583.0 479.2,583.3 479.7,583.3 480.2,583.3 480.7,583.2 481.2,583.1 481.7,583.3 482.2,583.2 482.7,583.5 483.2,583.4 483.7,583.1 484.2,583.1 484.7,583.2 485.2,583.5 485.7,583.2 486.2,583.4 486.7,583.4 487.2,583.1 487.7,583.5 488.2,583.3 488.7,583.2 489.2,583.5 489.7,583.4 490.2,583.5 490.7,583.4 491.2,583.6 491.7,583.4 492.2,583.4 492.7,583.4 493.2,583.3 493.7,583.3 494.2,583.4 494.7,583.3 495.2,583.6 495.7,583.4 496.2,583.3 496.7,583.6 497.2,583.4 497.7,583.6 498.2,583.4 498.7,583.6 498.7,584.1" fill="#00ff00"/>
<line x1="349" y1="584.10" x2="498.7" y2="584.10" stroke="#00ff00" stroke-width="0.9"/>
<path d="M415.8 584.1V582.2M404.5 584.1V581.4M374.4 584.1V577.3M381.6 584.1V577.9M364.5 584.1V578.9M371.3 584.1V580.0M409.3 584.1V582.0M354.9 584.1V579.4M374.5 584.1V575.5M413.2 584.1V581.7M409.1 584.1V581.5M376.7 584.1V576.8M391.4 584.1V577.1M396.9 584.1V579.6M416.5 584.1V582.3M350.1 584.1V575.3M370.5 584.1V575.8M368.0 584.1V577.1M350.0 584.1V578.1M353.4 584.1V525.5M358.3 584.1V567.2M360.0 584.1V579.6M362.6 584.1V573.5M364.7 584.1V581.1M368.6 584.1V574.1M369.3 584.1V575.0M371.5 584.1V569.0M373.4 584.1V571.1M374.4 584.1V576.6M378.8 584.1V578.1M380.8 584.1V569.6M381.5 584.1V572.0M387.6 584.1V579.6M390.0 584.1V575.6M394.5 584.1V578.7M396.4 584.1V579.6M399.6 584.1V581.1M405.5 584.1V580.5M411.1 584.1V580.5M416.8 584.1V578.1M422.4 584.1V581.1M426.7 584.1V580.5M433.7 584.1V581.1M436.6 584.1V581.4" stroke="#ff8c8c" stroke-width="1.7"/>
<path d="M406.7 584.1V580.9M417.4 584.1V581.7M413.5 584.1V579.9M383.9 584.1V578.5M386.4 584.1V579.8M357.5 584.1V575.8M412.5 584.1V580.3M352.9 584.1V575.8M368.6 584.1V578.2M383.7 584.1V580.6M392.5 584.1V580.0M366.5 584.1V575.6M392.7 584.1V578.4M369.0 584.1V576.2M350.4 584.1V578.8M372.5 584.1V579.0M407.8 584.1V579.6M372.7 584.1V579.6M380.3 584.1V578.0M415.5 584.1V581.1M402.6 584.1V578.6M352.0 584.1V578.2M376.5 584.1V566.0M385.4 584.1V572.6" stroke="#ff0000" stroke-width="1.3"/>
<path d="M350.6 584.1V563.3" stroke="#ff0000" stroke-width="1.6"/>
<path d="M356.1 584.1V570.5" stroke="#ff0000" stroke-width="1.5"/>
<polygon points="349.0,584.1 349.0,580.4 349.5,580.5 350.0,580.9 350.5,580.0 351.0,581.7 351.5,581.3 352.0,580.0 352.5,581.5 353.0,581.8 353.5,580.4 354.0,580.5 354.5,579.9 355.0,581.4 355.5,581.0 356.0,581.4 356.5,581.0 357.0,581.3 357.5,581.7 358.0,580.7 358.5,580.1 359.0,580.8 359.5,581.6 360.0,580.4 360.5,580.1 361.0,580.6 361.5,581.2 362.0,581.0 362.5,581.8 363.0,581.6 363.5,581.1 364.0,581.8 364.5,580.7 365.0,580.3 365.5,581.2 366.0,581.5 366.5,580.1 367.0,581.5 367.5,580.9 368.0,580.6 368.5,580.5 369.0,580.6 369.5,581.0 370.0,580.6 370.5,581.7 371.0,580.2 371.5,580.3 372.0,580.3 372.5,580.4 373.0,581.7 373.5,581.1 374.0,580.8 374.5,581.9 375.0,581.9 375.5,581.5 376.0,580.2 376.5,580.4 377.0,581.9 377.5,580.2 378.0,580.6 378.5,581.5 379.0,582.0 379.5,580.6 380.0,581.8 380.5,581.4 381.0,580.4 381.5,580.8 382.0,580.4 382.5,581.0 383.0,581.2 383.5,581.2 384.0,580.9 384.5,581.1 385.0,580.6 385.5,581.4 386.0,581.9 386.5,581.7 387.0,581.9 387.5,582.0 388.0,581.2 388.5,582.0 389.0,580.6 389.5,581.9 390.0,581.2 390.5,580.5 391.0,580.4 391.5,581.8 392.0,580.5 392.5,580.6 393.0,581.8 393.5,580.4 394.0,580.8 394.5,580.9 395.0,580.8 395.5,581.8 396.1,581.3 396.6,582.1 397.1,580.7 397.6,581.6 398.1,581.0 398.6,580.9 399.1,581.5 399.6,581.4 400.1,580.5 400.6,581.8 401.1,581.4 401.6,582.1 402.1,582.2 402.6,582.0 403.1,581.7 403.6,582.0 404.1,581.5 404.6,581.0 405.1,581.2 405.6,582.0 406.1,581.1 406.6,580.8 407.1,582.0 407.6,581.6 408.1,582.1 408.6,580.9 409.1,581.6 409.6,582.1 410.1,581.3 410.6,581.7 411.1,580.9 411.6,582.2 412.1,581.6 412.6,581.4 413.1,582.1 413.6,581.7 414.1,582.0 414.6,582.1 415.1,581.4 415.6,582.2 416.1,581.1 416.6,582.0 417.1,582.3 417.6,581.9 418.1,582.2 418.6,581.7 419.1,581.3 419.6,582.1 420.1,582.1 420.6,582.4 421.1,581.9 421.6,581.3 422.1,581.5 422.6,582.4 423.1,581.9 423.6,582.0 424.1,581.7 424.6,581.5 425.1,581.7 425.6,581.9 426.1,581.7 426.6,582.3 427.1,581.9 427.6,582.1 428.1,581.6 428.6,582.5 429.1,582.5 429.6,582.1 430.1,581.9 430.6,582.1 431.1,581.7 431.6,582.0 432.1,582.6 432.6,582.6 433.1,582.4 433.6,582.4 434.1,582.2 434.6,582.3 435.1,582.0 435.6,582.7 436.1,582.7 436.6,582.0 437.1,581.9 437.6,582.3 438.1,582.8 438.6,582.4 439.1,582.4 439.6,582.7 440.1,582.0 440.6,581.9 441.1,582.0 441.6,582.6 442.1,582.9 442.6,582.2 443.1,582.3 443.6,582.2 444.1,582.3 444.6,582.3 445.1,582.3 445.6,582.4 446.1,582.2 446.6,582.6 447.1,582.6 447.6,582.7 448.1,582.5 448.6,582.2 449.1,582.5 449.6,582.5 450.1,582.5 450.6,582.2 451.1,582.6 451.6,582.3 452.1,582.8 452.6,583.0 453.1,582.7 453.6,582.7 454.1,582.9 454.6,582.8 455.1,582.8 455.6,582.3 456.1,582.5 456.6,583.1 457.1,582.9 457.6,582.5 458.1,582.4 458.6,582.5 459.1,582.3 459.6,582.7 460.1,582.7 460.6,582.8 461.1,582.9 461.6,582.7 462.1,582.7 462.6,583.1 463.1,582.5 463.6,583.2 464.1,582.5 464.6,582.7 465.1,583.0 465.6,582.4 466.1,582.9 466.6,582.7 467.1,582.6 467.6,582.9 468.1,583.1 468.6,583.2 469.1,582.7 469.6,582.9 470.1,583.1 470.6,583.0 471.1,582.9 471.6,582.9 472.1,582.9 472.6,583.1 473.1,583.2 473.6,582.6 474.1,583.2 474.6,582.8 475.1,583.2 475.6,582.6 476.1,582.9 476.6,583.0 477.1,582.9 477.6,583.0 478.1,582.9 478.6,583.0 479.1,583.3 479.6,583.1 480.1,582.9 480.6,583.2 481.1,583.1 481.6,583.3 482.1,583.1 482.6,582.8 483.1,583.0 483.6,583.1 484.1,583.4 484.6,583.3 485.1,583.3 485.6,583.1 486.1,583.0 486.6,582.9 487.1,582.9 487.6,583.3 488.1,583.2 488.6,583.3 489.1,583.0 489.7,583.2 490.2,583.1 490.7,583.3 491.2,583.3 491.7,583.2 492.2,583.5 492.7,583.2 493.2,583.5 493.7,583.6 494.2,583.6 494.7,583.5 495.2,583.6 495.7,583.7 496.2,583.6 496.7,583.6 497.2,583.5 497.7,583.7 498.2,583.8 498.7,583.7 499.2,583.6 499.7,583.7 500.2,583.9 500.7,583.7 500.7,584.1" fill="#ff0000"/>
<line x1="349" y1="584.10" x2="500.7" y2="584.10" stroke="#ff0000" stroke-width="0.9"/>
<path d="M340 522.5H527M340 587.5H527" stroke="#555" stroke-width="1" fill="none"/>
<line x1="340.5" y1="522.5" x2="340.5" y2="587.5" stroke="#555" stroke-width="1"/>
<line x1="527" y1="522" x2="527" y2="588" stroke="#a8a8a8" stroke-width="2"/>
<line x1="349" y1="587.5" x2="349" y2="586" stroke="#444" stroke-width="0.8"/>
<text x="349" y="594.9" font-size="8.6" text-anchor="middle">0</text>
<line x1="377.2" y1="587.5" x2="377.2" y2="586" stroke="#444" stroke-width="0.8"/>
<text x="377.2" y="594.9" font-size="8.6" text-anchor="middle">1000</text>
<line x1="405.5" y1="587.5" x2="405.5" y2="586" stroke="#444" stroke-width="0.8"/>
<text x="405.5" y="594.9" font-size="8.6" text-anchor="middle">2000</text>
<line x1="433.7" y1="587.5" x2="433.7" y2="586" stroke="#444" stroke-width="0.8"/>
<text x="433.7" y="594.9" font-size="8.6" text-anchor="middle">3000</text>
<line x1="462" y1="587.5" x2="462" y2="586" stroke="#444" stroke-width="0.8"/>
<text x="462" y="594.9" font-size="8.6" text-anchor="middle">4000</text>
<line x1="490.2" y1="587.5" x2="490.2" y2="586" stroke="#444" stroke-width="0.8"/>
<text x="490.2" y="594.9" font-size="8.6" text-anchor="middle">5000</text>
<line x1="518.5" y1="587.5" x2="518.5" y2="586" stroke="#444" stroke-width="0.8"/>
<text x="518.5" y="594.9" font-size="8.6" text-anchor="middle">6000</text>
<path transform="translate(118.7 634.5) scale(0.81620 0.08000)" d="M0 -17l1-108 1 179 1-118 1 195 1-95 1-89 1 63 1-58 1 56 1 63 1-89 1-1 1 91 1-155 1 145 1-26 1 0 1 27 1-90 1 37 1-39 1-2 1 114 1-103 1 40 1-92 1 151 1-41 1 23 1-186 1 154 1 33 1-55 1-91 1 194 1-88 1-74 1-18 1 74 1-125 1 84 1 95 1-70 1-17 1-22 1 39 1-16 1 0 1 68 1 40 1-64 1-54 1 8 1-2 1 51 1 86 1-134 1 63 1-52 1-7 1-121 1 30 1 6 1 145 1 85 1-32 1-110 1 4 1-1 1-44 1 99 1-21 1 92 1-93 1 76 1-207 1 52 1 65 1 27 1-109 1 52 1-44 1 82 1 4 1 46 1-80 1 19 1 36 1 30 1 3 1-38 1-67 1 68 1 68 1-258 1 123 1 22 1 4 1 10 1 111 1-147 1 51 1-24 1 22 1 56 1 13 1-121 1 75 1 149 1-190 1-34 1-30 1 144 1-225 1 140 1 199 1-172 1-109 1 116 1-21 1 46 1-14 1-47 1 75 1-12 1 21 1-37 1 65 1 70 1 41 1-138 1-60 1 5 1-4 1-87 1 40 1 60 1-126 1 100 1 151 1-177 1 8 1-2 1 22 1-6 1 67 1-129 1 52 1 85 1 14 1-148 1 79 1-7 1 57 1-142 1 41 1 68 1-10 1 18 1-44 1 15 1 7 1-49 1 55 1-68 1 10 1-24 1 36 1-53 1-25 1 88 1 45 1 16 1 17 1-111 1 40 1-125 1 125 1 3 1 0 1 113 1-133 1 29 1-41 1 54 1-69 1 47 1-65 1 41 1 36 1-107 1 83 1-16 1-56 1 115 1-110 1 98 1 58 1-32 1 44 1-82 1-109 1 13 1 75 1 66 1 59 1-76 1 2 1-16 1 3 1 121 1-228 1 161 1-84 1-73 1 75 1-109 1 287 1-122 1-36 1 34 1-22 1-30 1 19 1 45 1 17 1-130 1-79 1 102 1 80 1-28 1 127 1-108 1-41 1 125 1-102 1 49 1 40 1-265 1 24 1 48 1 119 1-9 1-29 1 2 1-73 1 71 1 4 1-46 1-31 1-16 1 152 1-113 1-43 1 6 1 29 1 34 1 38 1-40 1-13 1 39 1 198 1-197 1-7 1 47 1 37 1-58 1-149 1 72 1 35 1-88 1-2 1 116 1-20 1-12 1 56 1-145 1 23 1 85 1 48 1-20 1 24 1 45 1 20 1-192 1 93 1-52 1-9 1 58 1 13 1-8 1 30 1 5 1 3 1 40 1-77 1-20 1 53 1-20 1 92 1-177 1 77 1-46 1 80 1-62 1-54 1 107 1-23 1-21 1-25 1 134 1-105 1 4 1-44 1 36 1-4 1 119 1-112 1-45 1 4 1-78 1 185 1-124 1 89 1-52 1 25 1-33 1 12 1 8 1 38 1-97 1 74 1-77 1 60 1 11 1-74 1 73 1-3 1 118 1-204 1-49 1 87 1 44 1-49 1 44 1-46 1 50 1-51 1 130 1-88 1 59 1 87 1-112 1-76 1 66 1 60 1-108 1-49 1 126 1 21 1-104 1 159 1-101 1-11 1-112 1 121 1 142 1-72 1-124 1 12 1 174 1-136 1 66 1-180 1 133 1-77 1 90 1-3 1-41 1 27 1 79 1-102 1-54 1 39 1 71 1 7 1 6 1-105 1 3 1 70 1 17 1-80 1 9 1 48 1-61 1 7 1 40 1-62 1 22 1-4 1-47 1 145 1-32 1-136 1 131 1-226 1 206 1-40 1-17 1 62 1-80 1 150 1-117 1 106 1-129 1-82 1 173 1-92 1 100 1 55 1-132 1 69 1-96 1 35 1 72 1 24 1-96 1 95 1-41 1-55 1 75 1-99 1-41 1 25 1 57 1 37 1-38 1-21 1 22 1-49 1-27 1-14 1 132 1 62 1-119 1-53 1 39 1 74 1 22 1-224 1 78 1 84 1-61 1 46 1-11 1 27 1 72 1-75 1 43 1-124 1 60 1-87 1 111 1 33 1-50 1 35 1 37 1-85 1 76 1-81 1 189 1-153 1 40 1-84 1 35 1-107 1 92 1-69 1 121 1-7 1-1 1 62 1-89 1-89 1 32 1 141 1-94 1 36 1-110 1 134 1-43 1-80 1-82 1 184 1-64 1-14 1 147 1-191 1 212 1-105" stroke="#0000ff" stroke-width="1.0" fill="none" vector-effect="non-scaling-stroke" stroke-linejoin="round"/>
<path transform="translate(118.7 634.5) scale(0.81620 0.08000)" d="M0 -2l1 16 1 3 1-15 1 114 1-123 1-105 1 97 1 47 1-32 1-20 1 26 1 17 1-23 1-16 1 16 1 14 1 2 1-6 1-9 1-4 1-7 1-14 1 5 1 22 1 4 1-13 1 12 1 18 1-22 1-20 1 27 1 13 1-38 1-18 1 36 1 24 1-8 1-8 1-12 1-97 1 77 1 66 1-42 1-50 1 22 1 62 1-12 1-41 1 3 1 20 1 9 1 7 1-8 1-15 1 7 1 8 1-29 1-22 1 16 1 20 1 2 1 2 1 2 1-6 1 4 1 14 1-6 1-11 1 9 1 5 1-20 1-12 1 12 1 7 1-8 1-3 1 7 1 7 1 2 1-8 1-10 1 9 1 21 1 1 1-16 1-8 1 3 1 4 1-2 1-8 1-3 1 10 1 5 1-13 1-1 1 28 1 10 1-30 1-19 1 17 1 12 1-12 1-7 1 5 1 2 1 5 1 16 1 4 1-15 1-12 1 1 1 3 1-4 1-73 1 66 1 53 1-16 1-44 1 2 1 31 1 0 1-7 1-6 1-2 1 11 1-6 1-14 1-3 1 18 1 13 1-16 1-16 1 18 1 14 1-20 1-18 1 14 1 16 1-1 1-8 1-5 1 3 1 10 1 0 1-17 1-7 1 20 1 17 1-9 1-17 1-5 1 3 1 6 1 1 1-3 1 0 1 7 1-1 1-7 1-2 1 1 1 4 1 11 1 5 1-14 1-8 1 11 1 2 1-11 1 4 1 11 1-10 1-11 1 8 1-1 1-18 1 3 1 23 1 10 1 1 1 5 1-7 1-17 1-1 1 9 1-3 1-5 1-45 1 27 1 38 1-5 1-13 1-10 1 16 1 11 1-10 1-18 1 8 1 11 1-10 1-12 1 17 1 24 1 1 1-17 1-14 1-7 1-8 1 0 1 13 1 5 1-6 1 6 1 16 1 3 1-6 1 0 1-7 1-15 1 7 1 18 1-10 1-20 1 6 1 8 1-11 1 4 1 19 1-7 1-20 1 11 1 26 1 5 1-8 1-6 1-13 1-5 1 6 1-14 1-28 1 7 1 44 1 25 1-9 1-16 1-6 1 4 1 3 1-8 1-11 1 2 1 6 1-3 1-4 1 1 1 1 1 5 1 7 1-1 1 4 1 16 1 57 1-79 1-55 1 29 1 46 1-1 1-30 1-15 1 13 1 23 1 8 1-24 1-13 1 24 1 5 1-16 1 0 1 7 1-6 1-2 1 9 1-5 1-6 1 16 1 11 1-18 1-15 1 7 1 2 1-4 1 5 1 6 1-2 1 0 1-1 1-3 1 6 1 6 1-6 1-5 1 9 1 1 1-8 1-5 1-6 1-5 1 14 1 15 1-10 1-14 1 5 1 2 1 1 1 24 1 14 1-30 1-23 1 17 1 1 1-28 1 5 1 33 1-1 1-18 1 16 1 23 1-17 1-23 1 3 1 5 1-11 1 2 1 21 1 4 1-69 1 34 1 80 1-35 1-54 1 0 1 48 1-2 1-20 1 8 1 11 1-3 1-8 1-1 1-21 1-12 1 33 1 19 1-25 1-12 1 23 1 5 1-14 1 4 1 2 1-21 1 3 1 30 1-2 1-27 1 12 1 27 1-15 1-33 1-4 1 14 1 8 1 5 1 0 1-4 1 5 1 8 1-3 1-5 1 1 1-2 1-6 1 1 1 1 1-1 1 5 1 6 1-3 1-9 1-9 1-3 1 13 1 13 1-7 1-12 1 9 1 10 1-12 1 0 1 25 1 5 1-28 1-16 1 7 1 4 1-5 1 0 1 2 1-1 1-59 1 64 1 51 1-24 1-16 1-8 1 20 1-5 1-37 1-7 1 36 1 10 1-16 1-12 1 6 1 9 1 4 1 4 1-9 1-16 1 6 1 14 1-8 1-17 1 4 1 20 1 15 1 5 1-7 1-18 1-10 1 5 1 3 1-4 1-2 1 0 1-2 1 4 1 10 1 4 1-7 1-5 1 6 1 11 1 6 1-8 1-15 1-8 1 2 1 6 1 3 1 2 1 0 1-1 1-4 1-4 1 4 1 10 1 5 1-4 1-9 1-6 1-2 1 6 1 15 1 8 1-11 1-14 1 0 1 4 1-4 1-1 1 12 1 6 1-66 1 33 1 82 1-30 1-44 1-14 1 44 1 24 1-25 1-47 1 7 1 37 1 12 1-29 1-21 1 16 1 20" stroke="#00ff00" stroke-width="0.9" fill="none" vector-effect="non-scaling-stroke" stroke-linejoin="round"/>
<path transform="translate(118.7 634.5) scale(0.81620 0.08000)" d="M0 -3l1-60 1 98 1-61 1 164 1-123 1-102 1 89 1-22 1 40 1 8 1-48 1 20 1 32 1-85 1 91 1-10 1-5 1 19 1-48 1 22 1-46 1-1 1 71 1-60 1 35 1-52 1 79 1-24 1 28 1-112 1 94 1 19 1-65 1-41 1 122 1-53 1-34 1 4 1 10 1-103 1 91 1 79 1-60 1-41 1 11 1 39 1-4 1-24 1 34 1 35 1-32 1-27 1-3 1 2 1 25 1 48 1-92 1 35 1-21 1 5 1-63 1 9 1 24 1 69 1 34 1 2 1-66 1-24 1 25 1-19 1 41 1-20 1 35 1-29 1 43 1-108 1 27 1 35 1 16 1-62 1 27 1-26 1 56 1 5 1 26 1-70 1 21 1 47 1-11 1-25 1-14 1-20 1 54 1 37 1-154 1 86 1 5 1-12 1 8 1 70 1-72 1 3 1-17 1 14 1 43 1 16 1-71 1 46 1 74 1-114 1-15 1-6 1 72 1-162 1 103 1 136 1-90 1-83 1 60 1 8 1 27 1-4 1-43 1 30 1 16 1-8 1-33 1 48 1 58 1 23 1-91 1-33 1 10 1 13 1-73 1 21 1 49 1-80 1 60 1 88 1-96 1-8 1 5 1 5 1-5 1 44 1-78 1 47 1 45 1-4 1-80 1 37 1-3 1 43 1-87 1 28 1 44 1-29 1 23 1-19 1 10 1 9 1-31 1 42 1-62 1-9 1 7 1 17 1-46 1 6 1 63 1 21 1 14 1-10 1-62 1 22 1-71 1 84 1-6 1-5 1 71 1-68 1 6 1-22 1 39 1-45 1 14 1-52 1 39 1 29 1-45 1 34 1-19 1-13 1 58 1-56 1 39 1 25 1 3 1 19 1-52 1-46 1 9 1 35 1 23 1 32 1-32 1-14 1 1 1 13 1 54 1-121 1 98 1-52 1-46 1 49 1-47 1 150 1-95 1 2 1 28 1-25 1-25 1-2 1 44 1 3 1-60 1-35 1 39 1 49 1-19 1 78 1-54 1-17 1 60 1-62 1 32 1 0 1-140 1 10 1 23 1 89 1-1 1-12 1 0 1-56 1 40 1 3 1-19 1-21 1-24 1 94 1-50 1-26 1-11 1 13 1 26 1 29 1-18 1-14 1 41 1 126 1-154 1-22 1 27 1 53 1-20 1-104 1 24 1 23 1-29 1 12 1 55 1-18 1 3 1 18 1-73 1-3 1 32 1 62 1-42 1 12 1 57 1 2 1-92 1 58 1-44 1-28 1 45 1 16 1-17 1 19 1-1 1 2 1 30 1-49 1-12 1 54 1-28 1 45 1-82 1 33 1-19 1 22 1-23 1-28 1 46 1 18 1-21 1-20 1 64 1-55 1 10 1-37 1 41 1 1 1 44 1-60 1-12 1 0 1-51 1 97 1-58 1 62 1-46 1 15 1-7 1-11 1 8 1 31 1-72 1 45 1-23 1 25 1 20 1-74 1 36 1 35 1 45 1-116 1-25 1 75 1 28 1-61 1 25 1-16 1 43 1-45 1 55 1-32 1 18 1 65 1-55 1-61 1 55 1 34 1-67 1-35 1 81 1 16 1-79 1 97 1-50 1-1 1-74 1 62 1 105 1-46 1-84 1-8 1 103 1-70 1 36 1-88 1 70 1-37 1 46 1 11 1-25 1 7 1 49 1-79 1-29 1 29 1 27 1 19 1 20 1-70 1-8 1 36 1 10 1-38 1 18 1 19 1-44 1 18 1 23 1-36 1-1 1 8 1-8 1 46 1-22 1-49 1 64 1-133 1 112 1-21 1-2 1 1 1-10 1 109 1-86 1 56 1-62 1-35 1 77 1-72 1 49 1 52 1-63 1 26 1-47 1 14 1 44 1 29 1-69 1 46 1-16 1-42 1 45 1-47 1-31 1 19 1 44 1 36 1-29 1-34 1 12 1-25 1-24 1 14 1 69 1 16 1-54 1-40 1 34 1 45 1 4 1-126 1 41 1 75 1-42 1 26 1-9 1-4 1 50 1-56 1 25 1-50 1 31 1-61 1 61 1 34 1-39 1 18 1 33 1-42 1 38 1-66 1 117 1-70 1-1 1-38 1 24 1-64 1 65 1-52 1 57 1 9 1-6 1 44 1-56 1-76 1 30 1 115 1-44 1-23 1-49 1 73 1-20 1-21 1-91 1 123 1-34 1 8 1 71 1-150 1 158 1-65" stroke="#ff0000" stroke-width="1.1" fill="none" vector-effect="non-scaling-stroke" stroke-linejoin="round"/>
<path d="M118 602.5H527M118 666.5H527" stroke="#555" stroke-width="1" fill="none"/>
<line x1="119" y1="602" x2="119" y2="667" stroke="#a0a0a0" stroke-width="2"/>
<line x1="527" y1="602" x2="527" y2="667" stroke="#a8a8a8" stroke-width="2"/>
<line x1="118.7" y1="602.5" x2="120.2" y2="602.5" stroke="#444" stroke-width="0.8"/>
<text x="118" y="605.4" font-size="8.6" text-anchor="end">4</text>
<line x1="118.7" y1="618.5" x2="120.2" y2="618.5" stroke="#444" stroke-width="0.8"/>
<text x="118" y="621.4" font-size="8.6" text-anchor="end">2</text>
<line x1="118.7" y1="634.5" x2="120.2" y2="634.5" stroke="#444" stroke-width="0.8"/>
<text x="118" y="637.4" font-size="8.6" text-anchor="end">0</text>
<line x1="118.7" y1="650.5" x2="120.2" y2="650.5" stroke="#444" stroke-width="0.8"/>
<text x="118" y="653.4" font-size="8.6" text-anchor="end">-2</text>
<line x1="118.7" y1="666.5" x2="120.2" y2="666.5" stroke="#444" stroke-width="0.8"/>
<text x="118" y="669.4" font-size="8.6" text-anchor="end">-4</text>
<line x1="118.7" y1="666.5" x2="118.7" y2="665" stroke="#444" stroke-width="0.8"/>
<text x="118.7" y="673.9" font-size="8.6" text-anchor="middle">0</text>
<line x1="200.3" y1="666.5" x2="200.3" y2="665" stroke="#444" stroke-width="0.8"/>
<text x="200.3" y="673.9" font-size="8.6" text-anchor="middle">100</text>
<line x1="281.9" y1="666.5" x2="281.9" y2="665" stroke="#444" stroke-width="0.8"/>
<text x="281.9" y="673.9" font-size="8.6" text-anchor="middle">200</text>
<line x1="363.6" y1="666.5" x2="363.6" y2="665" stroke="#444" stroke-width="0.8"/>
<text x="363.6" y="673.9" font-size="8.6" text-anchor="middle">300</text>
<line x1="445.2" y1="666.5" x2="445.2" y2="665" stroke="#444" stroke-width="0.8"/>
<text x="445.2" y="673.9" font-size="8.6" text-anchor="middle">400</text>
<line x1="526.8" y1="666.5" x2="526.8" y2="665" stroke="#444" stroke-width="0.8"/>
<text x="526.8" y="673.9" font-size="8.6" text-anchor="middle">500</text>
<path transform="translate(118.7 715.5) scale(0.09121 0.08250)" d="M0 -54l1 73 1 35 1-6 1-42 1 11 1-30 1-13 1 105 1 49 1-204 1 15 1 7 1 159 1-13 1-85 1-69 1 146 1-2 1-9 1-211 1-21 1 161 1 20 1-22 1 20 1-13 1-24 1 24 1-10 1 20 1 22 1-67 1 37 1-35 1 53 1 11 1-23 1 77 1-119 1 0 1 30 1-52 1 60 1-50 1-2 1 15 1-18 1 63 1 9 1-43 1 45 1 5 1-42 1 57 1-83 1 1 1 2 1 37 1-51 1 27 1 67 1 29 1-104 1-16 1 34 1-39 1 75 1-41 1-39 1 21 1 45 1-21 1-41 1 99 1 39 1-81 1-104 1 9 1 91 1-45 1 18 1 10 1 32 1 29 1-90 1 63 1-60 1 73 1 23 1-29 1-48 1 16 1 79 1-22 1-52 1 15 1-18 1-26 1 103 1-72 1 19 1-77 1 82 1 18 1-73 1 62 1-132 1 57 1 37 1 32 1-18 1-15 1-5 1 76 1-70 1 13 1-68 1 78 1-1 1-32 1-46 1 23 1 78 1-18 1-107 1 14 1 135 1 150 1-219 1-61 1 66 1 7 1 70 1-60 1-52 1 38 1-112 1 110 1 28 1-33 1-20 1 70 1 5 1-56 1 15 1-7 1 9 1 12 1-5 1-14 1 10 1-21 1-43 1 102 1-36 1-8 1-39 1-4 1 7 1 42 1 11 1-62 1 12 1-12 1 10 1 80 1-9 1-69 1-7 1 49 1-103 1 76 1 48 1 42 1-34 1 22 1-18 1-102 1 44 1 0 1 29 1-65 1 36 1 7 1 5 1 15 1-58 1 42 1 62 1-15 1-102 1 30 1 38 1-12 1 50 1-32 1-24 1 15 1-43 1 132 1-145 1 21 1 25 1 57 1 28 1-171 1 76 1 1 1-16 1 19 1 46 1-32 1-76 1 23 1 110 1-87 1-51 1 10 1 25 1 68 1-59 1 52 1-11 1-38 1-31 1 25 1-46 1-5 1 53 1-4 1 102 1-86 1 61 1-118 1 64 1-9 1 16 1-44 1 15 1-71 1 93 1-28 1 44 1 34 1-62 1 2 1 32 1-113 1 150 1-54 1 59 1-79 1-61 1 43 1-25 1 6 1-33 1 68 1 54 1-28 1 30 1-68 1-17 1 78 1-67 1 9 1 31 1-52 1 52 1-9 1-56 1 14 1 21 1 6 1 10 1 41 1 41 1-105 1 51 1-51 1-22 1 47 1 0 1 14 1 8 1-23 1-27 1-16 1 68 1 12 1-37 1 34 1-29 1-40 1 81 1-54 1 44 1-62 1 52 1-9 1-62 1-44 1 140 1-63 1-26 1-34 1 123 1-6 1 16 1-79 1 40 1-26 1 29 1-23 1 74 1-146 1-10 1 26 1-10 1 88 1 47 1-49 1-17 1-27 1 14 1 110 1-208 1 120 1 1 1 23 1-50 1 19 1 68 1-4 1-65 1-7 1 11 1 0 1 21 1 62 1-58 1-3 1 2 1 32 1-13 1-40 1 17 1-37 1-9 1 20 1 43 1 59 1-111 1-12 1 83 1-71 1-11 1-3 1 0 1-41 1 61 1 11 1-50 1 21 1-21 1 130 1-93 1 9 1 56 1-84 1 45 1 18 1-3 1-95 1 104 1-23 1-65 1-14 1 117 1-50 1 67 1-102 1 8 1-16 1 58 1-31 1 41 1 13 1-99 1 43 1 28 1-67 1 121 1-83 1-7 1 8 1 66 1-107 1 39 1-11 1 92 1-63 1 2 1 63 1-39 1-47 1 131 1-102 1 31 1-25 1 11 1-99 1 53 1-39 1 77 1-78 1 57 1-19 1 1 1 54 1-70 1 77 1-104 1 74 1-25 1 7 1-19 1 14 1-26 1 46 1 71 1-26 1-99 1 13 1 8 1 53 1-66 1 44 1-29 1 7 1 27 1-3 1 24 1-16 1-37 1-39 1 112 1-66 1-97 1 141 1 48 1-47 1 11 1-10 1-28 1 11 1-32 1-37 1 83 1-67 1-12 1 96 1 14 1 32 1-106 1 40 1 53 1-150 1 4 1 8 1 83 1-44 1-6 1 42 1-3 1 18 1 10 1-39 1-92 1 81 1 46 1-25 1-70 1 38 1-91 1 176 1-79 1-10 1 19 1-62 1 44 1 54 1 6 1-14 1 62 1-109 1 64 1 26 1-6 1 36 1-39 1 15 1-139 1 167 1 11 1-77 1-174 1 105 1 153 1 15 1-139 1-125 1 57 1 191 1-34 1-85 1-59 1 136 1 46 1-152 1 67 1-75 1-81 1 159 1-88 1 20 1 46 1-36 1 6 1-5 1 19 1-26 1 8 1 43 1 10 1-58 1 80 1-132 1 116 1 49 1-118 1 16 1 46 1-53 1-24 1 95 1-20 1-79 1-80 1 168 1-6 1-9 1-16 1 48 1-114 1 1 1 29 1 23 1-9 1 28 1 22 1-36 1-4 1-41 1 65 1 25 1-88 1 47 1-11 1-30 1 10 1 90 1-173 1 129 1 47 1-83 1 46 1 9 1-67 1 88 1 14 1-70 1-35 1 8 1 24 1 23 1-60 1-52 1 90 1 15 1-10 1 62 1-52 1-26 1 42 1-88 1 112 1-51 1 66 1-65 1 19 1-28 1-17 1 40 1-19 1 56 1-56 1 8 1 60 1-42 1-79 1-80 1 132 1-10 1-27 1 74 1-43 1 81 1-39 1-8 1-102 1 8 1 41 1 5 1 60 1 6 1-108 1 60 1-40 1 62 1-8 1 0 1 3 1-64 1 84 1 26 1-136 1 61 1 77 1-52 1-30 1 1 1-34 1 91 1 3 1-1 1 55 1-70 1-58 1 44 1-26 1-45 1 46 1 59 1 21 1-92 1 30 1 16 1-69 1 115 1-8 1-100 1-68 1 162 1 107 1-24 1-188 1-52 1 105 1 46 1 77 1-174 1 21 1-17 1 24 1 44 1-68 1 17 1 39 1-97 1 100 1-11 1 0 1 67 1-114 1 65 1-25 1-20 1 41 1-55 1 6 1 36 1 36 1-33 1 39 1-29 1 67 1-132 1 132 1-84 1-14 1 8 1 32 1-43 1 7 1-29 1 43 1 50 1-23 1-91 1 19 1 37 1 63 1-142 1 125 1-112 1 107 1-90 1 5 1 66 1-56 1 11 1 18 1 10 1-45 1-27 1 0 1 118 1-106 1 57 1-36 1-44 1 123 1-11 1 39 1-100 1 6 1 116 1-68 1-31 1 14 1-41 1 3 1 22 1-17 1-14 1 123 1-144 1 94 1-91 1 67 1-1 1 19 1-77 1 75 1-21 1 108 1-158 1 76 1 10 1-42 1-1 1-24 1 62 1 23 1-34 1 30 1-89 1 64 1 14 1-8 1-53 1-5 1-22 1-14 1 65 1-2 1-53 1 21 1 31 1 25 1 15 1-72 1 36 1 36 1-15 1 15 1-20 1-103 1 68 1 19 1-23 1-3 1 77 1-79 1-42 1 34 1 74 1-96 1 92 1-32 1 9 1-126 1 99 1-21 1 24 1 47 1-47 1 10 1-19 1 28 1-24 1 65 1-65 1-26 1 35 1 51 1-124 1 60 1 41 1 87 1-197 1-70 1 169 1 70 1-43 1-74 1 45 1-47 1 90 1-3 1-84 1 35 1-47 1 37 1 36 1-97 1 92 1-76 1 69 1 41 1-29 1 56 1-20 1-97 1 64 1 5 1-56 1 34 1 23 1-47 1 85 1-93 1 18 1 81 1-162 1 129 1-52 1 20 1-1 1-42 1 10 1-71 1 79 1-7 1 5 1 15 1-10 1 19 1 21 1 3 1-18 1 15 1 48 1-27 1 24 1-81 1 0 1-22 1 28 1 33 1-5 1-35 1-66 1 82 1 31 1-34 1-61 1 29 1 48 1 26 1-23 1 109 1-142 1-1 1 119 1-66 1-36 1-103 1 119 1-2 1 0 1-24 1-16 1 57 1-32 1-1 1-46 1 36 1-2 1 49 1-9 1-46 1 4 1-7 1 12 1 7 1-48 1-3 1 153 1-72 1-11 1-83 1 37 1 40 1-89 1 86 1 35 1-53 1 12 1 52 1 26 1-164 1 125 1-74 1 29 1-5 1-97 1 78 1 56 1-28 1 3 1-97 1 81 1-78 1 137 1-25 1-42 1-21 1 47 1 41 1-34 1-64 1 17 1 113 1-64 1-25 1 9 1-22 1-40 1 54 1-23 1 3 1 42 1 46 1-42 1 14 1-2 1-6 1-115 1 23 1 51 1-56 1 58 1-45 1 108 1-72 1-38 1 28 1-91 1 150 1-29 1 1 1-44 1 91 1-35 1-6 1 35 1-8 1-45 1 17 1-16 1 22 1-22 1 3 1 21 1 16 1 14 1-43 1-47 1 25 1-58 1 93 1-2 1-61 1 117 1 23 1-178 1 43 1 139 1-100 1 18 1 14 1-41 1 24 1-21 1 22 1 3 1-4 1 20 1-96 1 74 1 5 1-113 1 81 1-18 1 77 1-88 1 125 1-72 1-50 1 72 1-94 1 32 1-2 1 18 1 52 1-6 1-31 1-22 1-37 1 108 1-55 1 64 1-90 1 50 1 62 1-116 1 47 1-27 1 1 1 7 1-50 1 35 1-18 1 116 1-12 1 34 1-142 1 13 1 74 1-31 1-11 1 16 1-63 1 2 1 14 1 13 1 26 1-20 1 20 1 42 1-132 1 103 1-44 1-1 1 39 1 0 1 85 1-155 1 45 1 16 1-3 1 70 1-125 1 46 1 60 1 19 1-32 1-11 1-66 1 76 1 18 1-137 1 37 1 43 1 106 1-164 1 110 1-66 1-41 1 108 1-27 1 5 1-96 1-28 1 83 1 44 1 21 1-39 1-39 1 3 1 18 1 11 1 52 1-74 1 42 1-30 1 15 1-9 1-47 1 104 1-77 1-4 1 60 1-67 1 71 1 51 1-124 1 38 1 7 1-54 1-6 1 2 1 112 1-22 1-5 1-29 1 24 1-87 1 11 1 7 1 46 1-106 1 189 1-111 1 52 1-37 1-47 1 72 1-105 1 61 1 5 1 3 1 39 1-16 1 52 1-135 1 95 1 13 1-13 1 38 1-115 1 79 1-38 1 6 1-4 1 31 1-47 1-37 1 114 1 13 1-77 1 38 1 30 1-155 1 103 1 104 1-176 1 78 1-64 1 71 1-86 1 108 1 42 1-92 1 30 1-5 1-18 1-51 1 42 1 31 1 14 1-68 1-10 1 17 1 48 1 49 1-47 1-28 1-73 1-14 1 90 1 36 1-107 1 81 1-34 1 11 1-10 1 31 1-25 1 55 1-47 1 8 1 22 1 27 1-37 1-44 1 31 1-10 1-58 1 84 1 6 1 42 1-45 1 13 1 28 1-63 1 31 1-28 1 105 1-106 1-43 1 66 1-22 1 62 1-133 1-2 1 56 1 58 1-15 1-31 1 57 1-53 1-76 1-25 1 171 1-70 1 42 1 1 1-11 1-85 1 78 1-76 1 35 1 7 1-50 1 48 1-68 1 54 1 2 1 41 1-48 1 42 1 2 1 7 1-71 1 75 1-102 1 85 1-3 1-23 1 0 1-36 1 41 1 42 1-9 1-47 1 28 1 3 1 65 1-2 1-26 1-83 1 43 1 71 1-92 1 6 1-7 1 13 1 5 1 33 1-49 1 74 1-140 1 143 1-14 1-37 1 35 1-91 1 85 1-52 1 58 1 18 1-54 1-6 1-46 1 73 1-28 1 23 1-74 1 85 1-50 1-21 1-16 1 56 1-23 1 0 1 33 1-3 1 36 1-28 1-75 1 134 1 22 1-50 1-23 1-61 1 243 1-124 1-89 1-129 1 112 1 26 1 64 1-80 1-120 1 155 1 18 1 0 1-41 1-8 1 55 1-14 1-25 1 9 1-26 1 87 1-66 1-45 1 63 1-86 1 54 1 15 1 23 1-37 1 31 1-64 1 21 1-17 1 15 1-6 1 79 1-28 1-77 1 69 1-11 1 12 1-66 1 74 1-65 1 92 1-105 1 68 1-101 1 71 1 41 1-91 1 17 1 47 1 0 1-8 1 73 1-43 1 16 1-3 1-47 1-53 1 59 1-41 1 85 1-16 1-2 1-32 1 21 1-7 1-4 1-23 1 9 1-25 1 27 1-9 1 66 1-37 1 14 1-37 1 89 1-20 1-47 1 21 1-77 1 56 1-1 1 17 1 5 1-4 1-28 1 3 1-60 1 81 1 37 1-41 1 18 1-3 1-57 1 90 1-102 1 103 1-96 1 102 1-49 1 69 1-72 1 45 1-45 1-83 1 22 1 46 1-26 1 36 1 2 1-42 1 77 1-24 1 51 1-71 1 97 1-56 1-99 1 60 1-52 1 49 1-38 1 32 1 41 1 2 1-41 1 64 1-67 1 11 1-32 1 115 1-104 1 48 1-39 1-90 1 24 1 75 1 81 1-168 1 42 1 80 1-38 1-38 1 38 1 36 1-118 1 108 1-62 1 31 1 29 1 52 1-105 1-32 1 119 1-89 1 27 1-9 1-45 1 11 1-11 1-18 1 160 1-37 1-116 1 50 1-9 1 16 1-14 1-13 1 102 1-111 1 91 1-47 1-14 1-4 1 80 1-103 1 63 1-28 1 44 1 27 1-77 1 99 1-30 1-68 1 48 1-101 1 101 1-88 1 145 1-50 1-62 1 8 1-52 1 74 1-37 1-48 1 83 1 4 1 65 1 0 1-50 1-22 1-7 1 1 1 15 1-34 1 82 1-92 1 37 1-39 1 15 1 148 1-132 1-29 1 36 1 21 1-64 1 20 1 52 1-53 1 65 1-17 1-39 1 22 1-35 1-36 1 7 1 6 1 21 1 128 1-86 1-110 1 69 1-11 1 7 1-10 1 29 1 63 1-11 1-60 1-46 1 37 1 20 1 71 1-58 1-35 1 9 1 19 1 35 1-32 1 63 1-22 1-109 1 70 1 28 1-24 1-3 1 46 1-59 1 9 1-21 1 11 1-69 1 68 1-37 1-17 1 120 1-53 1 25 1 32 1-119 1 56 1-44 1 96 1-89 1 80 1-48 1 61 1-90 1-10 1 129 1-64 1-56 1 19 1 38 1 14 1 23 1-31 1 74 1-116 1 22 1-20 1-22 1 62 1 50 1-137 1-19 1 144 1-113 1 88 1 20 1-3 1-134 1 82 1-39 1 94 1-114 1 42 1 39 1-58 1-3 1 127 1-68 1 7 1 6 1-93 1 116 1-59 1 22 1-19 1 5 1 21 1-75 1 68 1-52 1-92 1 165 1-16 1-51 1-18 1 33 1-28 1 103 1-47 1 41 1-50 1 11 1-35 1-36 1 45 1-56 1 47 1 48 1-91 1 48 1 1 1 8 1-37 1 72 1 20 1 10 1 26 1-89 1 92 1-132 1 93 1-41 1-76 1 68 1 62 1-66 1 27 1-130 1 116 1-57 1 60 1-100 1 153 1-31 1-112 1 5 1-16 1 124 1 71 1-134 1-1 1-9 1 136 1-54 1-28 1-34 1 33 1-4 1 43 1-35 1-63 1 64 1-35 1-17 1-14 1 52 1 11 1-97 1 51 1 18 1 92 1-113 1-46 1 117 1-63 1 58 1-45 1 58 1-72 1 0 1 29 1-15 1 111 1-128 1 56 1-86 1 86 1-105 1 102 1-34 1 1 1-8 1 28 1-64 1 36 1 16 1 44 1 14 1-52 1 23 1-45 1 43 1-77 1 70 1-43 1-93 1 59 1 21 1 30 1 36 1-6 1 9 1-19 1-20 1 39 1-2 1-90 1 31 1-52 1 38 1 18 1-42 1 81 1-29 1 26 1-33 1-15 1 47 1-49 1 56 1-23 1-95 1 50 1 46 1 44 1 7 1-74 1 47 1-48 1-13 1-10 1 59 1 10 1 7 1 45 1-65 1-51 1 11 1 114 1-45 1 7 1-1 1-110 1 40 1-56 1 94 1-34 1 35 1-30 1 135 1-108 1-44 1 38 1-26 1 62 1-27 1 9 1 4 1 41 1-131 1 86 1 36 1-53 1 44 1-76 1 30 1 27 1-17 1-52 1 46 1-36 1 22 1-26 1-7 1 23 1-24 1 18 1-1 1-25 1 117 1-50 1-83 1 19 1 30 1 35 1 0 1 17 1 16 1-41 1-75 1 101 1 9 1-42 1 58 1-97 1 28 1 25 1 26 1-138 1 141 1-29 1-2 1-46 1-50 1 82 1 23 1-29 1-64 1 45 1 10 1-56 1 78 1 4 1-64 1 92 1-75 1 74 1-110 1-4 1 111 1-15 1-29 1-15 1 84 1-18 1-43 1-15 1 0 1-24 1 126 1-98 1-10 1 31 1-1 1-17 1-78 1 84 1 24 1-76 1 14 1 42 1 7 1-47 1 47 1-20 1-8 1 55 1-14 1-29 1 27 1-128 1 89 1-21 1-11 1 29 1 50 1 17 1-115 1 58 1 68 1-21 1-35 1-6 1-52 1-9 1 63 1 9 1-59 1 60 1-41 1 18 1 48 1 12 1-10 1-45 1-12 1-1 1 10 1 9 1-12 1 46 1 14 1-46 1-32 1 6 1 19 1 27 1-8 1 58 1-115 1 75 1-111 1 133 1-9 1 5 1-10 1 33 1-81 1 36 1 50 1-86 1-71 1 101 1-59 1 106 1-96 1 11 1-35 1 84 1-2 1-38 1 17 1-13 1 15 1-58 1 9 1 67 1-60 1 48 1 32 1-36 1-34 1 69 1-75 1 24 1 31 1-91 1 74 1-77 1 92 1-61 1 56 1-64 1 103 1-73 1 33 1-22 1 19 1 25 1 25 1-119 1-25 1 108 1-1 1-33 1-25 1-64 1 126 1-55 1 86 1-68 1-31 1 49 1-32 1-26 1-16 1 7 1 89 1-21 1-32 1 109 1-124 1 74 1-31 1 3 1 33 1-4 1-21 1 49 1-98 1 29 1-68 1 52 1-17 1-45 1 123 1-67 1 34 1-66 1 10" stroke="#0000ff" stroke-width="0.6" fill="none" vector-effect="non-scaling-stroke" stroke-linejoin="round"/>
<path transform="translate(118.7 715.5) scale(0.09121 0.08250)" d="M0 -16l1 11 1 9 1-6 1-7 1 0 1 5 1-11 1 108 1-6 1-124 1-65 1 55 1 133 1-10 1-105 1-41 1 57 1 79 1-25 1-74 1-17 1 34 1 23 1 3 1-22 1 2 1 18 1 16 1-11 1-18 1 5 1 4 1-4 1-9 1-3 1 0 1 10 1 11 1-3 1-9 1-3 1 3 1 5 1 7 1-1 1-7 1-3 1 0 1-3 1 1 1 7 1 3 1-6 1-3 1-1 1 3 1 10 1-1 1-22 1-11 1 22 1 19 1-4 1-2 1 1 1-15 1-10 1 11 1 8 1-8 1-6 1 4 1 2 1 8 1 7 1-8 1-12 1 8 1 10 1-10 1-10 1 9 1 9 1-7 1-8 1 1 1 5 1 3 1 2 1 1 1-2 1-6 1-6 1 3 1 11 1 9 1-4 1-15 1-7 1 12 1 9 1-13 1-10 1 14 1 7 1-15 1 1 1 22 1 1 1-23 1-3 1 16 1 1 1-9 1-5 1-3 1 8 1 17 1 14 1-93 1-19 1 105 1 54 1-67 1-84 1 10 1 84 1 76 1-55 1-59 1-18 1 55 1 37 1-53 1-30 1-7 1 20 1 20 1 7 1-9 1-16 1 19 1 20 1-21 1-15 1 16 1 12 1-26 1-19 1 19 1 24 1-2 1-14 1-10 1 0 1 5 1 7 1 5 1 0 1-6 1-2 1 3 1-4 1-8 1 4 1 14 1 3 1-8 1-2 1 1 1-7 1-8 1 5 1 8 1 2 1 2 1 7 1 2 1-12 1-15 1 1 1 14 1 8 1-4 1-8 1-6 1 5 1 13 1-2 1-17 1 1 1 21 1 3 1-17 1-5 1 5 1-5 1 0 1 17 1 0 1-19 1 0 1 16 1-3 1-8 1 10 1 3 1-18 1-4 1 17 1 0 1-11 1 10 1 14 1-9 1-13 1 5 1 1 1-12 1-3 1 10 1 3 1-2 1 9 1 11 1-3 1-13 1-10 1-1 1 7 1 7 1-1 1-4 1 2 1 3 1-5 1-6 1 1 1 3 1 2 1 6 1 7 1-6 1-12 1 0 1 9 1-4 1-11 1 5 1 16 1 5 1-9 1-6 1 1 1 3 1-6 1-13 1-3 1 20 1 18 1-11 1-20 1 5 1 19 1 2 1-12 1-4 1 1 1-1 1 0 1-1 1-4 1-1 1 4 1 3 1 1 1 8 1 9 1-5 1-12 1-3 1-1 1-8 1-5 1 9 1 15 1 7 1-4 1-10 1-7 1 4 1 10 1-1 1-12 1-7 1 7 1 13 1 8 1-2 1-14 1-14 1 1 1 16 1 6 1-12 1-9 1 13 1 13 1-7 1-11 1 7 1 12 1-6 1-12 1-1 1 1 1-7 1-1 1 11 1 9 1-2 1-4 1-1 1-3 1 0 1 6 1 0 1-8 1-2 1 10 1 7 1-4 1-10 1-6 1 0 1 9 1 10 1-4 1-14 1-4 1 7 1 5 1 0 1 6 1 6 1-5 1-6 1 0 1-2 1-5 1 2 1 5 1 0 1-2 1-2 1-1 1 3 1 4 1-5 1-8 1 10 1 12 1-8 1-12 1 6 1 12 1-2 1-4 1 1 1-5 1-11 1-4 1 4 1 11 1 12 1-3 1-15 1-5 1 13 1 8 1-3 1-1 1 0 1-6 1-6 1-2 1 1 1 4 1 5 1-1 1-4 1 2 1 7 1 4 1-2 1-7 1-3 1 3 1-6 1-13 1 5 1 20 1 3 1-12 1 5 1 12 1-5 1-12 1-4 1-5 1-2 1 15 1 9 1-12 1-2 1 15 1-1 1-23 1-6 1 15 1 9 1-3 1-6 1 2 1 11 1 4 1-18 1-11 1 16 1 14 1-13 1-11 1 6 1-1 1-2 1 10 1 1 1-15 1 2 1 18 1 0 1-12 1 0 1 6 1-2 1-1 1 2 1-4 1-1 1 6 1-2 1-9 1-2 1 3 1 2 1 8 1 3 1-12 1-5 1 14 1 11 1-6 1-9 1-3 1 3 1 10 1 2 1-19 1-16 1 9 1 15 1-3 1-7 1 7 1 10 1 7 1 1 1-11 1-11 1 4 1 9 1-6 1-14 1 0 1 15 1 11 1-8 1-16 1-2 1 15 1 5 1-14 1-3 1 19 1 10 1-12 1-8 1 4 1-1 1-9 1 0 1 7 1-17 1 83 1 30 1-130 1-101 1 93 1 131 1 38 1-143 1-70 1 56 1 75 1 0 1-51 1-58 1 51 1 43 1 3 1-49 1-16 1 33 1 21 1-15 1-17 1-2 1 9 1 12 1 2 1-8 1-4 1 2 1-7 1-2 1 9 1 4 1-12 1-2 1 17 1 10 1-11 1-11 1 1 1 4 1-1 1-8 1-7 1 5 1 11 1 4 1 1 1 7 1-1 1-14 1-4 1 12 1 1 1-13 1-7 1 6 1 6 1 2 1-4 1-5 1 6 1 14 1 1 1-15 1-5 1 11 1 6 1-4 1-5 1-5 1-8 1-3 1 9 1 15 1 5 1-8 1-11 1-1 1 6 1 4 1 2 1-5 1-11 1-2 1 13 1 8 1-8 1-3 1 11 1 0 1-14 1-1 1 12 1 0 1-11 1-4 1 0 1-3 1 3 1 12 1 8 1 3 1 2 1-2 1-11 1-12 1-8 1 3 1 10 1 7 1-3 1-1 1 7 1 2 1-3 1-2 1-4 1-9 1 2 1 13 1 0 1-13 1 2 1 12 1-1 1-7 1 4 1 4 1-3 1 0 1-1 1-7 1-4 1 7 1 3 1-6 1 0 1 5 1 0 1 0 1 6 1 6 1-4 1-14 1-7 1 12 1 18 1-5 1-23 1-5 1 13 1 5 1 1 1-2 1 44 1-29 1-55 1-19 1 53 1 81 1-10 1-65 1-63 1 39 1 45 1 4 1-48 1-14 1 23 1 35 1 3 1-16 1-26 1-4 1 18 1 16 1-12 1-2 1 8 1-3 1-8 1 4 1 10 1-7 1-13 1 2 1 14 1-1 1-14 1-4 1 12 1 9 1-5 1-3 1 1 1-4 1 0 1 13 1 4 1-19 1-11 1 19 1 16 1-12 1-20 1 2 1 12 1 1 1-8 1-5 1 1 1 10 1 15 1 5 1-13 1-13 1 4 1 5 1-9 1-7 1 12 1 15 1-7 1-16 1-3 1 9 1 7 1 3 1-1 1-5 1-7 1-2 1 8 1 6 1-4 1-6 1 2 1 3 1-1 1 6 1 8 1-6 1-16 1-6 1 5 1 6 1 4 1-1 1-4 1 3 1 6 1-5 1-4 1 13 1 10 1-11 1-15 1-1 1 4 1 2 1 0 1-6 1-6 1 8 1 12 1 2 1 4 1 2 1-12 1-11 1 11 1 5 1-20 1-7 1 22 1 9 1-13 1-1 1 10 1-2 1-6 1 1 1-1 1 1 1 4 1-7 1-9 1 10 1 12 1-8 1-7 1 6 1 0 1-6 1 8 1 7 1-9 1-5 1 6 1-3 1-7 1 5 1 4 1-7 1 1 1 15 1 4 1-14 1-10 1 6 1 12 1 0 1-15 1-7 1 58 1 23 1-89 1-56 1 69 1 58 1-8 1-60 1-18 1 29 1 25 1 0 1-26 1-17 1 25 1 13 1-5 1-17 1-5 1 4 1 10 1 10 1-4 1-10 1 7 1 10 1-6 1-11 1 1 1 6 1-2 1-2 1 0 1-5 1-3 1 4 1 6 1 5 1 6 1-1 1-9 1 0 1 3 1-9 1-9 1 11 1 15 1-4 1-13 1-3 1-1 1 2 1 10 1 5 1-8 1-2 1 11 1-2 1-12 1 6 1 11 1-14 1-19 1 10 1 20 1 1 1-8 1-2 1-5 1-3 1 6 1 6 1 1 1 2 1-3 1-10 1-1 1 7 1-2 1-1 1 13 1 6 1-17 1-13 1 6 1 6 1 1 1 1 1-3 1-2 1 10 1 10 1-6 1-12 1 0 1 3 1-2 1-2 1 2 1 3 1-2 1-6 1-2 1 12 1 7 1-11 1-3 1 17 1 4 1-18 1-11 1 5 1 1 1-1 1 9 1 3 1-5 1 0 1 2 1-5 1 5 1 13 1-8 1-20 1 1 1 15 1 2 1-8 1-1 1 1 1 2 1 5 1 1 1-5 1-1 1 3 1 1 1-1 1-2 1-2 1 4 1 2 1-10 1-10 1 9 1 8 1-5 1 6 1 20 1-2 1-22 1-7 1 9 1-2 1-7 1 5 1 7 1-2 1-6 1-5 1 2 1 15 1 14 1-8 1-16 1-4 1 1 1 0 1 4 1 6 1-1 1-6 1 0 1 5 1 2 1-2 1-5 1-1 1 3 1 0 1 1 1 6 1-2 1-9 1 1 1 12 1-2 1-17 1-3 1 17 1 12 1-8 1-13 1-1 1 9 1 1 1-10 1 1 1 15 1 3 1-16 1-4 1 11 1-2 1-13 1 6 1 18 1 0 1-15 1-1 1 9 1 0 1-8 1-4 1 0 1 2 1 6 1 12 1 3 1-20 1-18 1 11 1 22 1-2 1-11 1 3 1 2 1-5 1 8 1 13 1-17 1-27 1 6 1 20 1-1 1 0 1 17 1-1 1-27 1-5 1 25 1 12 1-17 1-13 1 1 1 2 1-4 1 5 1 10 1-1 1-8 1 2 1 11 1 3 1-7 1 0 1 1 1-10 1-13 1 1 1 10 1 4 1 5 1 6 1 1 1-7 1-8 1 0 1 9 1 6 1-5 1-5 1 4 1-2 1-14 1-2 1 12 1 3 1-5 1 3 1 4 1-4 1 4 1 10 1-3 1-11 1 2 1 1 1-10 1 0 1 15 1-1 1-20 1-4 1 13 1 10 1 4 1 1 1-6 1-4 1 7 1 3 1-14 1-11 1 5 1 5 1 2 1 6 1 6 1-2 1-4 1 0 1-3 1-5 1 0 1 0 1-2 1 5 1 12 1 0 1-12 1-4 1 7 1 4 1-1 1 0 1-2 1-7 1-7 1 0 1 6 1 11 1 6 1-7 1-5 1 8 1 6 1-14 1-12 1 9 1 11 1-7 1-10 1 2 1 7 1 5 1 2 1-6 1-4 1 6 1 7 1-4 1-2 1 2 1-8 1-10 1 6 1 11 1-4 1-2 1 7 1-4 1-16 1 2 1 23 1 12 1-9 1-12 1-6 1 1 1 1 1-4 1-3 1 9 1 8 1-6 1-5 1 8 1 2 1-8 1 1 1 7 1-10 1-13 1 9 1 19 1 4 1-6 1-5 1-9 1-4 1 6 1 1 1-9 1 3 1 17 1 4 1-10 1-3 1 3 1-5 1-6 1 4 1 5 1 0 1-3 1-1 1 5 1 8 1-2 1-12 1 1 1 8 1-7 1-11 1 10 1 11 1-9 1-7 1 10 1 5 1-8 1 1 1 4 1-8 1-2 1 16 1 7 1-16 1-13 1 5 1 7 1-5 1-8 1 5 1 17 1 7 1-11 1-9 1 4 1 1 1-5 1 4 1 5 1-7 1-1 1 9 1-4 1-13 1 3 1 14 1 3 1-6 1-6 1-4 1 6 1 10 1-6 1-10 1 6 1 4 1-12 1 6 1 24 1-8 1-32 1 0 1 28 1 5 1-15 1-5 1 2 1-1 1 2 1 6 1 3 1 4 1-3 1-10 1-3 1 4 1-4 1-2 1 15 1 5 1-17 1-9 1 12 1 7 1-3 1 6 1 8 1-11 1-18 1 2 1 14 1-1 1-14 1-2 1 20 1 13 1-11 1-14 1-12 1 107 1-7 1-130 1 36 1-17 1 184 1-76 1-108 1-64 1 50 1 88 1 3 1-69 1-59 1 57 1 67 1-7 1-55 1-16 1 36 1 18 1-5 1-21 1 8 1-6 1-3 1 1 1 1 1-1 1 6 1 5 1 0 1 4 1 1 1-11 1-4 1 4 1-5 1-4 1 16 1 4 1-19 1-1 1 21 1-2 1-16 1 10 1 10 1-19 1-13 1 17 1 12 1-7 1-5 1 3 1 0 1 1 1 1 1-8 1-3 1 8 1 5 1 1 1 2 1-7 1-14 1 2 1 17 1 2 1-11 1-3 1 9 1 9 1-1 1-14 1-14 1 6 1 14 1 0 1-6 1 7 1 10 1-8 1-14 1-1 1 6 1 2 1 6 1 7 1-5 1-17 1-2 1 15 1 4 1-13 1-3 1 12 1 1 1-9 1 4 1 9 1-4 1-3 1 6 1 0 1-6 1-3 1-5 1-8 1 5 1 13 1-1 1-6 1 5 1 7 1 2 1 2 1-5 1-11 1-1 1 5 1-9 1-7 1 15 1 15 1-10 1-16 1-2 1 14 1 15 1 3 1-13 1-9 1 4 1 1 1-5 1 2 1-1 1-12 1 5 1 20 1-3 1-17 1 11 1 16 1-15 1-13 1 14 1 12 1-7 1-5 1-4 1-14 1-4 1 13 1 4 1-3 1 5 1 7 1 0 1 4 1 1 1-8 1-4 1 4 1-7 1-13 1 5 1 15 1 3 1-9 1-7 1 1 1 10 1 9 1-5 1-11 1 0 1 6 1 3 1 5 1 3 1-10 1-11 1 6 1 9 1-8 1-11 1-2 1 8 1 14 1 8 1-9 1-15 1 2 1 13 1 5 1-3 1-5 1-6 1-2 1 4 1 1 1-8 1-3 1 9 1 6 1-1 1 1 1 0 1-3 1-2 1 3 1 1 1-6 1-2 1 6 1 0 1-7 1 2 1 16 1 4 1-16 1-15 1 0 1 10 1 11 1 6 1-7 1-10 1 6 1 6 1-10 1-9 1 9 1 4 1-8 1 8 1 18 1-6 1-22 1-1 1 13 1-2 1-6 1 6 1 2 1-8 1 3 1 10 1-6 1-13 1 3 1 12 1 2 1-4 1-1 1 2 1 2 1 0 1-7 1-5 1 2 1 3 1-2 1 2 1 7 1 0 1-5 1-1 1 4 1 0 1-6 1-5 1 6 1 13 1 0 1-15 1-9 1 10 1 10 1-4 1-4 1-1 1-3 1 1 1 8 1 4 1-6 1-2 1 2 1-6 1-4 1 8 1 6 1-9 1-6 1 11 1 7 1-8 1-6 1 10 1 4 1-13 1-9 1 9 1 11 1-2 1-4 1 1 1-2 1-6 1 0 1 5 1 3 1-1 1-1 1 1 1 4 1 2 1-7 1-8 1 5 1 12 1-2 1-11 1-3 1 2 1-2 1 5 1 10 1-3 1-7 1 6 1 9 1-11 1-16 1 4 1 12 1-4 1-4 1 15 1 8 1-20 1-15 1 21 1 22 1-17 1-26 1 5 1 17 1-8 1-13 1 14 1 21 1-4 1-18 1-1 1 4 1-6 1 2 1 20 1 4 1-24 1-11 1 18 1 8 1-15 1-1 1 11 1-13 1-17 1 18 1 26 1-6 1-29 1 79 1-6 1-76 1-55 1 55 1 75 1-4 1-73 1-32 1 34 1 63 1 13 1-70 1-35 1 26 1 41 1 1 1-29 1-2 1 19 1 2 1 1 1-14 1-5 1 4 1 2 1 3 1 1 1-6 1-6 1 7 1 11 1-2 1-11 1 1 1 7 1-2 1-11 1-1 1 18 1 16 1-6 1-20 1-10 1 5 1 7 1 5 1 0 1-2 1-4 1-5 1-8 1-1 1 15 1 17 1-2 1-13 1-1 1 10 1 0 1-10 1-3 1 5 1-7 1-14 1 5 1 17 1 1 1-10 1 6 1 14 1-7 1-8 1 8 1 3 1-16 1-5 1 11 1-1 1-8 1 7 1 8 1-3 1-2 1 1 1-3 1 0 1 7 1-4 1-9 1 5 1 7 1-6 1-4 1 5 1-1 1 0 1 6 1-6 1-16 1 13 1 28 1-2 1-27 1-9 1 7 1 3 1 3 1 6 1-1 1-4 1-1 1-1 1-3 1-1 1 1 1 6 1 9 1-1 1-9 1-1 1 6 1-2 1 0 1 7 1-9 1-19 1 3 1 15 1 0 1-5 1 5 1 3 1-4 1 6 1 7 1-8 1-4 1 9 1-3 1-16 1-4 1 11 1 9 1-2 1-6 1-6 1 1 1 8 1 3 1-4 1-2 1 2 1 5 1 5 1-2 1-9 1-5 1 5 1 6 1-1 1-9 1-8 1 6 1 11 1-2 1-11 1 6 1 17 1 1 1-15 1-7 1 3 1 5 1 4 1 0 1-11 1-7 1 6 1 13 1 9 1-3 1-16 1-12 1 7 1 10 1-2 1 3 1 12 1-3 1-17 1-3 1 8 1-1 1-4 1 5 1 4 1 0 1 0 1-1 1 1 1 2 1-8 1-12 1 9 1 21 1-4 1-21 1 0 1 12 1 1 1-4 1 2 1-2 1-4 1 4 1 5 1 0 1 5 1 0 1-15 1-9 1 12 1 10 1-7 1-3 1 5 1-2 1-5 1 3 1 5 1-3 1-1 1 1 1 0 1 1 1 4 1 0 1-1 1 2 1-3 1-10 1-4 1 1 1 1 1 1 1 8 1 10 1 4 1-4 1-7 1-2 1 0 1-4 1-4 1 5 1 6 1-4 1-10 1-3 1 6 1 7 1 9 1 8 1 0 1-13 1-14 1 3 1 14 1-3 1-21 1-2 1 21 1 3 1-14 1 8 1 21 1-7 1-19 1 7 1 12 1-8 1-10 1 0 1-7 1-6 1 11 1 9 1-4 1 3 1 14 1 0 1-12 1-4 1 3 1-2 1-4 1-2 1 0 1 5 1 3 1-10 1-8 1 13 1 16 1 0 1-4 1 2 1-3 1-12 1-10 1 2 1 7 1 1 1 0 1 8 1 8 1-7 1-13 1 7 1 18 1-2 1-20 1-11 1 1 1 5 1 11 1 10 1-2 1-6 1-4 1-4 1-1 1 11 1 9 1-8 1-9 1-1 1-5 1-5 1 8 1 9 1-1 1 2 1 7 1-4 1-7 1 6" stroke="#00ff00" stroke-width="0.35" fill="none" vector-effect="non-scaling-stroke" stroke-linejoin="round"/>
<path transform="translate(118.7 715.5) scale(0.09121 0.08250)" d="M0 -27l1 24 1 14 1-7 1-6 1-9 1 0 1-4 1 111 1-3 1-144 1-52 1 61 1 133 1-10 1-108 1-48 1 83 1 62 1-21 1-88 1-35 1 54 1 37 1-6 1-23 1 4 1-1 1 30 1-8 1-18 1 20 1-19 1 6 1-6 1 1 1-3 1 4 1 22 1-26 1 4 1-5 1-2 1 16 1-11 1 9 1-7 1-13 1 14 1 1 1-2 1 16 1-12 1 2 1 5 1-24 1 13 1 6 1 5 1-22 1-6 1 16 1 20 1-14 1-3 1 13 1-25 1 8 1-1 1 4 1 2 1-5 1-1 1 0 1 21 1-12 1-5 1-10 1 1 1 22 1-13 1-7 1 0 1 16 1 2 1-13 1-4 1-12 1 21 1 4 1 9 1-9 1-6 1 8 1-3 1-3 1 13 1-4 1-26 1 12 1-2 1 15 1-18 1 3 1 17 1-19 1 7 1-15 1 18 1 19 1-25 1-6 1 14 1-5 1 6 1-7 1-2 1-3 1 19 1 11 1-80 1-28 1 102 1 54 1-63 1-78 1-8 1 102 1 88 1-83 1-47 1-15 1 46 1 44 1-48 1-36 1-8 1 9 1 33 1 6 1-10 1-17 1 16 1 22 1-22 1-10 1 11 1 15 1-14 1-30 1 15 1 26 1 2 1-21 1-6 1 2 1 2 1 9 1 4 1-5 1-1 1-5 1 0 1-1 1-7 1-3 1 19 1 16 1-15 1-7 1 4 1-16 1 4 1 6 1 13 1-2 1 8 1-4 1-5 1-7 1-23 1 23 1-8 1 14 1 6 1-24 1 8 1 3 1 18 1-8 1-19 1 1 1 14 1 10 1-14 1 3 1-3 1-8 1 4 1 9 1 18 1-38 1 5 1 17 1-1 1-7 1-3 1 5 1-17 1 4 1 19 1 15 1-25 1-3 1 16 1 6 1-20 1-15 1 9 1-5 1 8 1-2 1 5 1 5 1-7 1 14 1 8 1-21 1-9 1 1 1 4 1 23 1-15 1 4 1-3 1 2 1-10 1 0 1-5 1 2 1-4 1 22 1-9 1-2 1 6 1 0 1 6 1-3 1-32 1 18 1 22 1 9 1-24 1-10 1 9 1 1 1-9 1-18 1 3 1 32 1 11 1-12 1-25 1 11 1 34 1-24 1-3 1-3 1-6 1 18 1-13 1 0 1-4 1-8 1 13 1-1 1-1 1 24 1-7 1-4 1-11 1-10 1 9 1-1 1 5 1-7 1 9 1 17 1-18 1 1 1-13 1 4 1 18 1-9 1-6 1-1 1-2 1 16 1-7 1 7 1 4 1-30 1-8 1 36 1-12 1-7 1-6 1 27 1-2 1-8 1-14 1 19 1 13 1-22 1-3 1 10 1-24 1 4 1-7 1 13 1 25 1-1 1-11 1-11 1-1 1 6 1 15 1-29 1 10 1 9 1 9 1-3 1-11 1 4 1 4 1-22 1 10 1 16 1-5 1-2 1-7 1 3 1 11 1-15 1 19 1-3 1-12 1 10 1-10 1 4 1-11 1 9 1 11 1-18 1 3 1-2 1 3 1 2 1 2 1-7 1-15 1 20 1 9 1-5 1-16 1 4 1 29 1-22 1 2 1 12 1-18 1 0 1-11 1 6 1 12 1 12 1-3 1-26 1-8 1 36 1 1 1 4 1-21 1 7 1-10 1 1 1-5 1 1 1 12 1-11 1 9 1-1 1-12 1 30 1-7 1-15 1 4 1 12 1-12 1-8 1-18 1 28 1 4 1 1 1-4 1-3 1 11 1 4 1-17 1 9 1-10 1-8 1 10 1 17 1-34 1 9 1 21 1-3 1-28 1 7 1 16 1-1 1 5 1-21 1 11 1 4 1 3 1-13 1-1 1-2 1 22 1 10 1-18 1-3 1-8 1-4 1 20 1-8 1-5 1-13 1 21 1 10 1-19 1 7 1 0 1-2 1-9 1 15 1 5 1-24 1 23 1 10 1-24 1 4 1 0 1-3 1 9 1-7 1-11 1 4 1 3 1 12 1 3 1 4 1-4 1-15 1 27 1 0 1-29 1-14 1-3 1 27 1-9 1-4 1 11 1 8 1 5 1-1 1-8 1-20 1 10 1 17 1-5 1-26 1 12 1 6 1 16 1-10 1-16 1-3 1 9 1 2 1-2 1 2 1 20 1 8 1-26 1 9 1-4 1 13 1-3 1-16 1 13 1-36 1 98 1 22 1-117 1-106 1 80 1 139 1 37 1-144 1-72 1 52 1 82 1 8 1-48 1-66 1 63 1 32 1-13 1-36 1-18 1 29 1 23 1-19 1-15 1 9 1 3 1 5 1 6 1-11 1 5 1-1 1 0 1-6 1-2 1 24 1-36 1 24 1 8 1-12 1 11 1-13 1-4 1 4 1 1 1-3 1-6 1-19 1 32 1 10 1-3 1 0 1-1 1-16 1-4 1 11 1 6 1-18 1-5 1 15 1 5 1-1 1-3 1 1 1-3 1-2 1 16 1-10 1-19 1 17 1 17 1-31 1 24 1-2 1-19 1 1 1 11 1 5 1-1 1 13 1-19 1-12 1 16 1-2 1 7 1-11 1-13 1 2 1 17 1 12 1-15 1-3 1 15 1 8 1-32 1 7 1 13 1 7 1-16 1 3 1-18 1-6 1 19 1 3 1 11 1 4 1 8 1-4 1-4 1-23 1-28 1 23 1-1 1 14 1 7 1-13 1 19 1 0 1-4 1-15 1-1 1-7 1 5 1 19 1 5 1-28 1 3 1 10 1 6 1-3 1-2 1 0 1-7 1 21 1-1 1-34 1 12 1 23 1-17 1-11 1 10 1-9 1 18 1-7 1 11 1 19 1-17 1-14 1-22 1 24 1 15 1-4 1-4 1-24 1 5 1 13 1 0 1-4 1 51 1-26 1-56 1-32 1 66 1 89 1-17 1-77 1-59 1 50 1 43 1 7 1-65 1-11 1 20 1 35 1 14 1-33 1-20 1 19 1-3 1 22 1-16 1 8 1 12 1-28 1 14 1-6 1 7 1-2 1-24 1 14 1 13 1 8 1-19 1-9 1 11 1 17 1-13 1 16 1-13 1 2 1-8 1 1 1 11 1-15 1-23 1 24 1 33 1-13 1-42 1 13 1 21 1-2 1-24 1 22 1-11 1 4 1 3 1 12 1-7 1-13 1-2 1 9 1 1 1-20 1 12 1 13 1 11 1-28 1-2 1 7 1 3 1 16 1-8 1 4 1-16 1 3 1 14 1-7 1 1 1-8 1 0 1 2 1 3 1 1 1 12 1 15 1-42 1 6 1-16 1 15 1 10 1 4 1-12 1 10 1 1 1 3 1-8 1 22 1-6 1-11 1-7 1-9 1 13 1 4 1-11 1 3 1-12 1 17 1 7 1 6 1 0 1-9 1-12 1-12 1 20 1 7 1-28 1-3 1 27 1 16 1-18 1-17 1 20 1-2 1-2 1 7 1-10 1-6 1 12 1-5 1-8 1 4 1 17 1-19 1-10 1 12 1 13 1-16 1 11 1 5 1 2 1-28 1 14 1 1 1-10 1 15 1-3 1-11 1 5 1 21 1 1 1-11 1-16 1 6 1 10 1 9 1-29 1-1 1 56 1 32 1-93 1-73 1 81 1 69 1-16 1-54 1-16 1 15 1 35 1 9 1-39 1-20 1 27 1 13 1 1 1-33 1 14 1-6 1 9 1 26 1-20 1 2 1 8 1-8 1 16 1-16 1-12 1 11 1 3 1-1 1 10 1-25 1-10 1 24 1-13 1 19 1 7 1-7 1-4 1-10 1 3 1-10 1-3 1 17 1 13 1-14 1-15 1 12 1 8 1-5 1 3 1 7 1-2 1-1 1 5 1-20 1 5 1 0 1 19 1-14 1-21 1 20 1-11 1 23 1 0 1-20 1-1 1-1 1 7 1 10 1 3 1 3 1-15 1 1 1 8 1-7 1 1 1-11 1 14 1 7 1-14 1-4 1 1 1-1 1 7 1 4 1-10 1 0 1 14 1 14 1-22 1-10 1 9 1-3 1 2 1-6 1-9 1 16 1 7 1-16 1 18 1-11 1 6 1 2 1-24 1 38 1 5 1-31 1 1 1-5 1 8 1-17 1 16 1 7 1-1 1-1 1-5 1 1 1 7 1 18 1-20 1-35 1 25 1-1 1 13 1-9 1 3 1-5 1 3 1 14 1-8 1-5 1-2 1 9 1 4 1-6 1-1 1-10 1 0 1 23 1-29 1-8 1 21 1 9 1-10 1 4 1 23 1-10 1-30 1 8 1 3 1-5 1 1 1-9 1 30 1-18 1-7 1 7 1-26 1 40 1 9 1-2 1-21 1 3 1 2 1-8 1 18 1-15 1-1 1 7 1-3 1 17 1-27 1 7 1 13 1-3 1 0 1 0 1-8 1-5 1 0 1 2 1-1 1 3 1 23 1-16 1-31 1 27 1 32 1-19 1-19 1 5 1-3 1 15 1-17 1-7 1 22 1-2 1-4 1-23 1 28 1 0 1-30 1 22 1 5 1 6 1-20 1 21 1-9 1-7 1 6 1-15 1 0 1 4 1 18 1 1 1 2 1-12 1-23 1 6 1 36 1-12 1-7 1-8 1 15 1 8 1-14 1 25 1-24 1-34 1 17 1 10 1 1 1-7 1 28 1 1 1-15 1-18 1 23 1 13 1-19 1-2 1 2 1-14 1-3 1 5 1 10 1 5 1-17 1 10 1 21 1-19 1 8 1-10 1 2 1 3 1-12 1 5 1-8 1 7 1 9 1 5 1 3 1-8 1-4 1 5 1 3 1-1 1 2 1-22 1 26 1 0 1-33 1 2 1 11 1 21 1-23 1 19 1-6 1-7 1 10 1 12 1-7 1-36 1 16 1 12 1-2 1-4 1 3 1 3 1-18 1 5 1 0 1 19 1-1 1 6 1-4 1-17 1 13 1 1 1-7 1-18 1 7 1 13 1-5 1 13 1 2 1-12 1 7 1-6 1-12 1 4 1 1 1 7 1-4 1 5 1 5 1 8 1-18 1-8 1 9 1 7 1-15 1 29 1-19 1-7 1-3 1-8 1 12 1 6 1-1 1 0 1 1 1 8 1 11 1-14 1-21 1 21 1 9 1-9 1-18 1-7 1 20 1 0 1 7 1-12 1 6 1 3 1-10 1 13 1 3 1-6 1-4 1-6 1 0 1 15 1 0 1-24 1 14 1-8 1-6 1-4 1 36 1 5 1-11 1 0 1-16 1-4 1-4 1 9 1 2 1 7 1-7 1-6 1 6 1 9 1 2 1-16 1 10 1-6 1-13 1 0 1 12 1 7 1 5 1 3 1-11 1-11 1 6 1-5 1 17 1-23 1 1 1 26 1 11 1-16 1-12 1 9 1-5 1-15 1 7 1 7 1 10 1-9 1 4 1 15 1-10 1-1 1-6 1-1 1-1 1 4 1-11 1 1 1 26 1-27 1-9 1 10 1 13 1 5 1-15 1 7 1-4 1-11 1 4 1 33 1-11 1-17 1-3 1 7 1-12 1-3 1-4 1 20 1 11 1-11 1-11 1 2 1 11 1-10 1 11 1 4 1-12 1-13 1 22 1-6 1-4 1-23 1 26 1 14 1-17 1 5 1-12 1 15 1 11 1-24 1 3 1 9 1-13 1 11 1 22 1 1 1-19 1-24 1 1 1 18 1 3 1-3 1-3 1 8 1-6 1-9 1 27 1-19 1 17 1-15 1 1 1 1 1-15 1 14 1-10 1 17 1 10 1-17 1-18 1 12 1 4 1 2 1 20 1-20 1 0 1-18 1 11 1 1 1 15 1-19 1-12 1 31 1 4 1-5 1-16 1-19 1 108 1 5 1-123 1 29 1-21 1 187 1-77 1-113 1-59 1 48 1 82 1 10 1-70 1-54 1 48 1 62 1-11 1-37 1-14 1 31 1 22 1-19 1-10 1 2 1 3 1-7 1 0 1 2 1-12 1 19 1 4 1-9 1-3 1 20 1-26 1 7 1 2 1-8 1-6 1 18 1 12 1-30 1 16 1 6 1-2 1-15 1 4 1 14 1-6 1-25 1 26 1-7 1 5 1 1 1-14 1 4 1 15 1-6 1-9 1 11 1-7 1 10 1 5 1-10 1-5 1-5 1-8 1 21 1 3 1-1 1-18 1 17 1 7 1-4 1-12 1-21 1 13 1 10 1-5 1 14 1-5 1 9 1-2 1-8 1-10 1 8 1 5 1-7 1 11 1 1 1-15 1-6 1 20 1-6 1-10 1-11 1 25 1 8 1-16 1 6 1 2 1-8 1 0 1-3 1 22 1-12 1 1 1-11 1 6 1-14 1 24 1-7 1-13 1-4 1 18 1 7 1-11 1 9 1-21 1 18 1-3 1-10 1-7 1 17 1 19 1-33 1 3 1 3 1 0 1 14 1 2 1-16 1 0 1 10 1-1 1-5 1-2 1-7 1 9 1-13 1 35 1-21 1-24 1 12 1 13 1 7 1-20 1 14 1 11 1-1 1-19 1 0 1 0 1-20 1 28 1-14 1 5 1 12 1 7 1-14 1-6 1 26 1-8 1-12 1 2 1-3 1-18 1-3 1 17 1 33 1-22 1-23 1 13 1-1 1 10 1-15 1 7 1 18 1-31 1 34 1-4 1-8 1-5 1-2 1 0 1 10 1-11 1-6 1 2 1-3 1 30 1 2 1-22 1-5 1-17 1 35 1-6 1 13 1-7 1-21 1 5 1-9 1 7 1-7 1-5 1 16 1 11 1 7 1-8 1 3 1-5 1-12 1 0 1 9 1-19 1 14 1 0 1 3 1 4 1-5 1 26 1-21 1-15 1-1 1 1 1 0 1 9 1 16 1-19 1 9 1 2 1-5 1-3 1-13 1 7 1 4 1-7 1 4 1 32 1-17 1-33 1 8 1 18 1-3 1-11 1 13 1 9 1-8 1-11 1 19 1-15 1-11 1 22 1-10 1 9 1-8 1 2 1 2 1 5 1 9 1-14 1-17 1 1 1 21 1-5 1 4 1 8 1-16 1 4 1-2 1 4 1-12 1 6 1-15 1 1 1 27 1 4 1-13 1-7 1-6 1 15 1 6 1-10 1-10 1 14 1-3 1 14 1-19 1 4 1 5 1-6 1-6 1 7 1 7 1-1 1 6 1-31 1 27 1 8 1-25 1 3 1 8 1 16 1-4 1-37 1 16 1 23 1-19 1 2 1 10 1 4 1-37 1 24 1-6 1 7 1-2 1 3 1 3 1-12 1 10 1 7 1-18 1 15 1 13 1-19 1 11 1-9 1-17 1 4 1 5 1 13 1-5 1-7 1 2 1-3 1 18 1-21 1-8 1 15 1-2 1-6 1 30 1 5 1-18 1-24 1 16 1 17 1-16 1-15 1-4 1 8 1 13 1-20 1 12 1 28 1-12 1-20 1 6 1 14 1-5 1-8 1 22 1 11 1-43 1 11 1 3 1-2 1-4 1-2 1 7 1-1 1-35 1 36 1 21 1-14 1-36 1 101 1-20 1-82 1-44 1 43 1 89 1 6 1-89 1-25 1 33 1 63 1 3 1-64 1-30 1 35 1 31 1 9 1-37 1-14 1 34 1-5 1-4 1-10 1-7 1 4 1 1 1 10 1-1 1 4 1-11 1-1 1 20 1-11 1-5 1-8 1 12 1-1 1-13 1 8 1 17 1 16 1-19 1-8 1-15 1 13 1-7 1 11 1 0 1 3 1-13 1-2 1-15 1 12 1 8 1 19 1 10 1-25 1 9 1 2 1 2 1-16 1-1 1 2 1-20 1-2 1 4 1 15 1 20 1-19 1 11 1 13 1-19 1 3 1 4 1-2 1-7 1-23 1 10 1 13 1-11 1 4 1 9 1 2 1-8 1 4 1 5 1-1 1 12 1-17 1-19 1 12 1 10 1 1 1 2 1 0 1-5 1-1 1 2 1-21 1-1 1 25 1 26 1-4 1-20 1-19 1 7 1 13 1 0 1 10 1-17 1-8 1 2 1-9 1 9 1-8 1 13 1 8 1 19 1-18 1-10 1-2 1 9 1 3 1-1 1 9 1-16 1-5 1-14 1 24 1-3 1-7 1 17 1-15 1-2 1 12 1 0 1-10 1 9 1-1 1 10 1-24 1-5 1 12 1-3 1 7 1-12 1-6 1 15 1 1 1 1 1 4 1-8 1 3 1 8 1 5 1 0 1-17 1-10 1 18 1 18 1-17 1-11 1-11 1 7 1 26 1-11 1-30 1 36 1 10 1-5 1-19 1-14 1 10 1 6 1 7 1-5 1-12 1 5 1-13 1 22 1 19 1-23 1 8 1-26 1 21 1-2 1-11 1 19 1 3 1-2 1-23 1 12 1 10 1-7 1-2 1-9 1 5 1 24 1-19 1 0 1 12 1 0 1-15 1-20 1 13 1 23 1-8 1-23 1 9 1 15 1-2 1-1 1-10 1 11 1-1 1-5 1 8 1 2 1-17 1 17 1-15 1-15 1 18 1 11 1-6 1-8 1 26 1-5 1-24 1 5 1 2 1-4 1 1 1 3 1 5 1-3 1 9 1-8 1 0 1 10 1-2 1-6 1-12 1-2 1 7 1-6 1 6 1 12 1 18 1-6 1-24 1-6 1 4 1 7 1-3 1 10 1 6 1-18 1 2 1-19 1 30 1-12 1 14 1 13 1 3 1-19 1-20 1 15 1 8 1-11 1-14 1-13 1 37 1 1 1-27 1-2 1 49 1-12 1-17 1 7 1 1 1-4 1-20 1 7 1 3 1-24 1 22 1 19 1-11 1-3 1 24 1-5 1-23 1 11 1-8 1-4 1 7 1 1 1-11 1 15 1-17 1 8 1-10 1 5 1 24 1 4 1-6 1 14 1-30 1-6 1-8 1 7 1 9 1-12 1 4 1 11 1 16 1-4 1-27 1 8 1 19 1 2 1-29 1-5 1-7 1 18 1 14 1-3 1 17 1-17 1 7 1-12 1-6 1 14 1 6 1-9 1 13 1-29 1-3 1-1 1 6 1 13 1-18 1 40 1-5 1-24 1 0 1-3" stroke="#ff0000" stroke-width="0.7" fill="none" vector-effect="non-scaling-stroke" stroke-linejoin="round"/>
<path d="M118 682.5H306M118 748.5H306" stroke="#555" stroke-width="1" fill="none"/>
<line x1="119" y1="682" x2="119" y2="749" stroke="#a0a0a0" stroke-width="2"/>
<line x1="305.5" y1="682.5" x2="305.5" y2="748.5" stroke="#666" stroke-width="1"/>
<line x1="118.7" y1="682.5" x2="120.2" y2="682.5" stroke="#444" stroke-width="0.8"/>
<text x="118" y="685.4" font-size="8.6" text-anchor="end">4</text>
<line x1="118.7" y1="699" x2="120.2" y2="699" stroke="#444" stroke-width="0.8"/>
<text x="118" y="701.9" font-size="8.6" text-anchor="end">2</text>
<line x1="118.7" y1="715.5" x2="120.2" y2="715.5" stroke="#444" stroke-width="0.8"/>
<text x="118" y="718.4" font-size="8.6" text-anchor="end">0</text>
<line x1="118.7" y1="732" x2="120.2" y2="732" stroke="#444" stroke-width="0.8"/>
<text x="118" y="734.9" font-size="8.6" text-anchor="end">-2</text>
<line x1="118.7" y1="748.5" x2="120.2" y2="748.5" stroke="#444" stroke-width="0.8"/>
<text x="118" y="751.4" font-size="8.6" text-anchor="end">-4</text>
<line x1="118.7" y1="748.5" x2="118.7" y2="747" stroke="#444" stroke-width="0.8"/>
<text x="118.7" y="755.9" font-size="8.6" text-anchor="middle">0</text>
<line x1="164.3" y1="748.5" x2="164.3" y2="747" stroke="#444" stroke-width="0.8"/>
<text x="164.3" y="755.9" font-size="8.6" text-anchor="middle">500</text>
<line x1="209.9" y1="748.5" x2="209.9" y2="747" stroke="#444" stroke-width="0.8"/>
<text x="209.9" y="755.9" font-size="8.6" text-anchor="middle">1000</text>
<line x1="255.5" y1="748.5" x2="255.5" y2="747" stroke="#444" stroke-width="0.8"/>
<text x="255.5" y="755.9" font-size="8.6" text-anchor="middle">1500</text>
<line x1="301.1" y1="748.5" x2="301.1" y2="747" stroke="#444" stroke-width="0.8"/>
<text x="301.1" y="755.9" font-size="8.6" text-anchor="middle">2000</text>
<polygon points="349.0,744.3 349.0,740.5 349.5,741.3 350.0,739.2 350.5,741.1 351.0,739.6 351.5,740.4 352.0,739.2 352.5,739.6 353.0,740.3 353.5,741.1 354.0,739.8 354.5,740.3 355.0,739.5 355.5,739.6 356.0,741.0 356.5,739.7 357.0,739.7 357.5,740.0 358.0,740.6 358.5,741.1 359.0,741.5 359.5,739.5 360.0,738.9 360.5,741.2 361.0,739.1 361.5,739.1 362.0,741.3 362.5,740.3 363.0,740.9 363.5,739.2 364.0,740.8 364.5,740.8 365.0,739.5 365.5,740.2 366.0,739.2 366.5,739.8 367.0,739.9 367.5,740.2 368.0,740.2 368.5,739.3 369.0,739.9 369.5,739.1 370.0,740.1 370.5,741.0 371.0,739.2 371.5,739.5 372.0,741.3 372.5,739.8 373.0,741.0 373.5,740.0 374.0,740.9 374.5,740.8 375.0,741.3 375.5,739.3 376.0,739.9 376.5,741.0 377.0,740.6 377.5,741.4 378.0,741.1 378.5,739.9 379.0,740.5 379.5,741.6 380.0,740.6 380.5,738.9 381.0,740.2 381.5,740.5 382.0,740.2 382.5,740.4 383.0,739.7 383.5,740.3 384.0,740.4 384.5,741.1 385.0,739.9 385.5,740.8 386.0,739.7 386.5,739.4 387.0,741.5 387.5,740.2 388.0,741.3 388.5,741.7 389.0,740.5 389.5,740.7 390.0,741.3 390.5,739.4 391.0,739.5 391.5,741.4 392.0,739.3 392.5,739.8 393.0,740.2 393.5,741.6 394.0,741.7 394.5,741.4 395.0,741.5 395.5,740.4 396.0,740.0 396.5,741.0 397.0,740.6 397.5,740.9 398.0,739.6 398.5,739.6 399.0,741.5 399.5,740.7 400.0,739.6 400.5,741.1 401.0,741.1 401.5,741.2 402.0,740.7 402.5,741.2 403.0,740.3 403.5,741.0 404.0,740.6 404.5,741.5 405.0,739.4 405.5,739.5 406.0,740.4 406.5,741.4 407.0,740.1 407.5,741.2 408.0,740.3 408.5,740.2 409.0,741.2 409.5,739.5 410.0,740.2 410.5,741.2 411.0,739.7 411.5,741.0 412.0,740.8 412.5,740.6 413.0,741.0 413.5,740.8 414.0,741.2 414.5,741.3 415.0,741.1 415.5,741.5 416.0,739.9 416.5,740.0 417.0,741.8 417.5,739.8 418.0,742.1 418.5,741.1 419.0,741.3 419.5,740.1 420.0,740.4 420.5,741.5 421.0,741.9 421.5,741.5 422.0,740.4 422.5,742.1 423.0,740.4 423.5,740.8 424.0,740.8 424.5,740.7 425.0,741.9 425.5,741.9 426.0,740.9 426.5,740.3 427.0,741.7 427.5,741.7 428.0,741.4 428.5,740.7 429.0,741.6 429.5,741.7 430.0,740.9 430.5,741.6 431.0,741.7 431.5,742.0 432.0,741.2 432.5,741.3 433.0,741.8 433.5,740.3 434.0,740.3 434.5,740.6 435.0,740.5 435.5,741.0 436.0,741.8 436.5,740.8 437.0,740.4 437.5,742.3 438.0,741.1 438.5,740.4 439.0,740.7 439.5,741.6 440.0,741.7 440.5,741.7 441.0,740.9 441.5,740.7 442.0,741.8 442.5,741.6 443.0,741.0 443.5,740.9 444.0,741.1 444.5,742.2 445.0,741.0 445.5,742.2 446.0,741.6 446.5,742.3 447.0,740.8 447.5,741.9 448.0,741.7 448.5,742.5 449.0,741.8 449.5,742.3 450.0,742.6 450.5,741.1 451.0,742.5 451.5,741.7 452.0,741.4 452.5,742.3 453.0,742.0 453.5,742.3 454.0,742.8 454.5,741.9 455.0,742.1 455.5,741.4 456.0,741.7 456.5,742.3 457.0,741.8 457.5,742.7 458.0,742.7 458.5,741.8 459.0,742.6 459.5,742.7 460.0,742.7 460.5,742.2 461.0,742.6 461.5,742.2 462.0,742.2 462.5,742.8 463.0,742.6 463.5,742.1 464.0,742.0 464.5,742.1 465.0,743.0 465.5,742.4 466.0,742.3 466.5,742.4 467.0,742.8 467.5,741.8 468.0,743.0 468.5,742.1 469.0,742.0 469.5,743.0 470.0,742.9 470.5,743.2 471.0,743.1 471.5,742.1 472.0,743.1 472.5,742.6 473.0,743.2 473.5,742.1 474.0,742.4 474.5,742.7 475.0,742.4 475.5,743.1 476.0,743.1 476.5,743.2 477.0,742.4 477.5,743.0 478.0,743.1 478.5,742.9 479.0,742.8 479.5,742.7 480.0,742.5 480.5,743.0 481.0,743.0 481.5,743.2 482.0,743.2 482.5,743.4 483.0,743.1 483.5,743.1 484.0,743.4 484.5,742.8 485.0,743.2 485.5,742.7 486.0,742.9 486.5,742.7 486.5,744.3" fill="#0000ff"/>
<line x1="349" y1="744.30" x2="486.5" y2="744.30" stroke="#0000ff" stroke-width="0.9"/>
<path d="M352.1 744.3V687.2M355.5 744.3V715.1M377.0 744.3V728.7M380.9 744.3V732.1M367.6 744.3V737.5" stroke="#70f070" stroke-width="1.7"/>
<polygon points="349.0,744.3 349.0,709.1 349.5,710.7 350.0,718.7 350.5,712.1 351.0,705.1 351.5,704.2 352.0,708.8 352.5,703.1 353.0,699.5 353.5,708.7 354.0,709.8 354.5,705.3 355.0,709.4 355.5,722.8 356.0,723.1 356.5,722.8 357.0,724.3 357.5,726.5 358.0,725.9 358.5,730.9 359.0,733.8 359.5,736.3 360.0,733.3 360.5,736.9 361.0,736.1 361.5,738.9 362.0,736.8 362.5,737.7 363.0,738.2 363.5,740.4 364.0,738.8 364.5,739.1 365.0,739.8 365.5,741.3 366.0,741.5 366.5,740.3 367.0,741.1 367.5,740.8 368.0,740.5 368.5,740.1 369.0,737.6 369.5,739.6 370.0,737.3 370.5,734.8 371.0,738.0 371.5,737.5 372.0,734.4 372.5,731.5 373.0,735.5 373.5,734.6 374.0,734.7 374.5,732.7 375.0,732.4 375.5,735.2 376.0,733.7 376.5,729.1 377.0,728.8 377.5,734.5 378.0,728.6 378.5,730.0 379.0,734.1 379.5,732.6 380.0,735.2 380.5,734.3 381.0,735.7 381.5,737.0 382.0,734.2 382.6,734.4 383.1,736.7 383.6,739.3 384.1,738.9 384.6,738.9 385.1,739.1 385.6,740.2 386.1,741.1 386.6,740.0 387.1,741.4 387.6,740.7 388.1,740.4 388.6,741.5 389.1,740.9 389.6,742.1 390.1,741.3 390.6,742.1 391.1,741.2 391.6,741.0 392.1,741.4 392.6,741.0 393.1,740.6 393.6,741.6 394.1,742.2 394.6,741.2 395.1,741.5 395.6,740.9 396.1,742.1 396.6,741.3 397.1,742.3 397.6,741.4 398.1,741.8 398.6,741.7 399.1,741.8 399.6,741.3 400.1,742.0 400.6,741.4 401.1,741.4 401.6,741.8 402.1,741.7 402.6,742.4 403.1,742.4 403.6,741.6 404.1,741.8 404.6,741.7 405.1,742.7 405.6,742.3 406.1,741.9 406.6,741.7 407.1,742.1 407.6,742.5 408.1,742.1 408.6,742.6 409.1,742.7 409.6,742.7 410.1,742.3 410.6,742.0 411.1,742.7 411.6,742.0 412.1,742.1 412.6,741.8 413.1,742.0 413.6,742.1 414.1,742.2 414.6,742.6 415.1,742.0 415.6,742.1 416.1,742.4 416.6,741.9 417.1,742.9 417.6,741.9 418.1,742.0 418.6,742.0 419.1,742.8 419.6,742.9 420.1,742.9 420.6,742.9 421.1,742.9 421.6,742.8 422.1,742.3 422.6,742.2 423.1,742.2 423.6,742.1 424.1,743.0 424.6,742.3 425.1,742.3 425.6,743.0 426.1,742.5 426.6,742.6 427.1,743.0 427.6,742.4 428.1,742.2 428.6,742.5 429.1,742.1 429.6,742.3 430.1,743.1 430.6,742.7 431.1,742.5 431.6,742.5 432.1,742.3 432.6,742.5 433.1,742.9 433.6,742.7 434.1,742.4 434.6,742.6 435.1,742.7 435.6,742.8 436.1,743.2 436.6,742.4 437.1,743.2 437.6,743.1 438.1,743.0 438.6,743.0 439.1,743.2 439.6,742.7 440.1,742.6 440.6,743.2 441.1,742.7 441.6,743.0 442.1,742.6 442.6,742.6 443.1,743.3 443.6,743.0 444.1,742.7 444.6,743.2 445.1,742.9 445.6,742.8 446.1,742.6 446.6,742.7 447.1,742.8 447.6,742.7 448.1,743.0 448.6,743.2 449.2,743.4 449.7,742.7 450.2,742.7 450.7,742.7 451.2,742.7 451.7,742.9 452.2,742.9 452.7,743.3 453.2,742.8 453.7,743.1 454.2,742.8 454.7,742.8 455.2,743.1 455.7,742.8 456.2,742.7 456.7,743.1 457.2,743.2 457.7,743.1 458.2,743.2 458.7,743.2 459.2,743.3 459.7,743.2 460.2,742.8 460.7,743.5 461.2,743.0 461.7,743.3 462.2,743.0 462.7,743.2 463.2,743.3 463.7,743.4 464.2,743.1 464.7,743.5 465.2,743.3 465.7,743.2 466.2,743.3 466.7,743.4 467.2,743.3 467.7,743.4 468.2,743.1 468.7,743.2 469.2,743.5 469.7,743.1 470.2,743.2 470.7,743.3 471.2,743.1 471.7,743.1 472.2,743.5 472.7,743.5 473.2,743.4 473.7,743.2 474.2,743.5 474.7,743.2 475.2,743.3 475.7,743.6 476.2,743.5 476.7,743.6 477.2,743.2 477.7,743.5 478.2,743.5 478.7,743.6 479.2,743.2 479.7,743.5 480.2,743.3 480.7,743.2 481.2,743.2 481.7,743.5 482.2,743.6 482.7,743.7 483.2,743.4 483.7,743.3 484.2,743.5 484.7,743.3 485.2,743.5 485.7,743.4 486.2,743.6 486.7,743.6 487.2,743.6 487.7,743.6 488.2,743.5 488.7,743.7 489.2,743.6 489.7,743.4 490.2,743.5 490.2,744.3" fill="#00ff00"/>
<line x1="349" y1="744.30" x2="490.2" y2="744.30" stroke="#00ff00" stroke-width="0.9"/>
<path d="M374.5 744.3V737.1M371.5 744.3V728.4M378.6 744.3V730.7M376.6 744.3V731.3M377.9 744.3V735.1M380.1 744.3V733.0M371.0 744.3V734.6M371.0 744.3V733.5M372.5 744.3V736.8M370.4 744.3V734.6M375.4 744.3V731.1M379.1 744.3V734.1M373.6 744.3V737.5M352.5 744.3V700.2M352.8 744.3V711.4M352.0 744.3V692.7M357.8 744.3V731.6M355.4 744.3V707.4M356.5 744.3V728.7M354.8 744.3V726.0M358.5 744.3V728.7M349.3 744.3V706.1M358.4 744.3V734.6M358.3 744.3V732.3M351.2 744.3V696.9M349.5 744.3V715.4M355.9 744.3V715.2M354.0 744.3V706.9M357.5 744.3V723.4M356.8 744.3V727.1M349.9 744.3V705.7M354.4 744.3V703.5M357.4 744.3V718.8M358.4 744.3V723.6M351.3 744.3V712.8M358.3 744.3V730.0M349.2 744.3V711.0M352.6 744.3V703.7M349.4 744.3V711.3M355.6 744.3V718.0M349.2 744.3V690.9M352.6 744.3V704.0M358.1 744.3V724.2M350.7 744.3V696.7M356.6 744.3V717.1M354.1 744.3V710.3M371.6 744.3V728.0M373.0 744.3V728.0M374.4 744.3V728.0M375.8 744.3V729.3" stroke="#ff8c8c" stroke-width="1.7"/>
<path d="M373.6 744.3V732.2M379.0 744.3V737.0M374.9 744.3V736.9M373.8 744.3V733.9M373.4 744.3V732.1M379.1 744.3V735.5M381.4 744.3V735.1M380.8 744.3V730.7M375.5 744.3V737.7M374.5 744.3V735.2M376.8 744.3V736.3M372.0 744.3V729.3M350.0 744.3V704.1M354.3 744.3V713.5M356.3 744.3V712.3M349.7 744.3V699.6M355.8 744.3V727.3M353.1 744.3V710.4M353.6 744.3V716.0M351.7 744.3V718.1M357.6 744.3V730.3M355.6 744.3V707.4M349.4 744.3V686.0M352.1 744.3V693.3" stroke="#ff0000" stroke-width="1.3"/>
<polygon points="349.0,744.3 349.0,702.3 349.5,708.8 350.0,713.3 350.5,710.2 351.0,712.1 351.5,703.5 352.0,706.5 352.5,721.0 353.0,720.3 353.5,726.3 354.0,726.5 354.5,726.7 355.0,724.1 355.5,726.1 356.0,728.6 356.5,726.9 357.0,731.1 357.5,731.0 358.0,735.1 358.5,732.4 359.0,736.1 359.5,734.0 360.0,733.3 360.5,734.2 361.0,735.7 361.5,736.5 362.0,738.0 362.5,737.7 363.0,739.2 363.5,740.3 364.0,740.3 364.5,741.3 365.0,740.6 365.6,740.6 366.1,741.5 366.6,741.8 367.1,741.5 367.6,740.2 368.1,739.6 368.6,739.6 369.1,737.4 369.6,737.7 370.1,737.6 370.6,733.7 371.1,735.2 371.6,730.8 372.1,729.0 372.6,727.7 373.1,728.7 373.6,732.8 374.1,729.3 374.6,731.3 375.1,729.1 375.6,731.3 376.1,734.1 376.6,733.1 377.1,734.7 377.6,732.8 378.1,735.2 378.6,732.3 379.1,736.7 379.6,737.0 380.1,738.0 380.6,738.6 381.1,738.1 381.6,739.4 382.1,736.7 382.6,739.0 383.1,739.0 383.6,739.4 384.1,739.4 384.6,740.0 385.1,741.8 385.6,741.9 386.1,742.4 386.6,741.3 387.1,742.0 387.6,742.4 388.1,741.6 388.6,741.4 389.1,741.4 389.6,741.1 390.1,741.7 390.6,742.2 391.1,742.4 391.6,741.6 392.1,742.0 392.6,741.8 393.1,741.6 393.6,742.5 394.1,742.1 394.6,741.8 395.1,742.5 395.6,741.4 396.1,741.5 396.6,741.5 397.1,742.1 397.7,742.4 398.2,742.8 398.7,741.7 399.2,742.2 399.7,742.7 400.2,742.6 400.7,742.0 401.2,741.7 401.7,742.2 402.2,742.0 402.7,742.4 403.2,742.8 403.7,742.0 404.2,743.0 404.7,742.4 405.2,742.6 405.7,742.9 406.2,742.8 406.7,742.3 407.2,742.7 407.7,742.5 408.2,742.4 408.7,742.7 409.2,742.3 409.7,742.2 410.2,742.3 410.7,742.2 411.2,742.2 411.7,742.4 412.2,742.4 412.7,742.4 413.2,743.0 413.7,742.4 414.2,742.8 414.7,742.8 415.2,742.8 415.7,742.3 416.2,742.2 416.7,742.6 417.2,742.2 417.7,742.1 418.2,742.6 418.7,742.9 419.2,742.5 419.7,742.9 420.2,742.8 420.7,742.8 421.2,742.6 421.7,742.7 422.2,742.1 422.7,742.3 423.2,742.9 423.7,742.4 424.2,742.4 424.7,742.7 425.2,742.2 425.7,742.3 426.2,742.8 426.7,742.5 427.2,743.0 427.7,743.1 428.2,742.2 428.7,742.3 429.2,743.1 429.7,742.3 430.3,742.2 430.8,742.9 431.3,743.1 431.8,742.5 432.3,742.3 432.8,742.9 433.3,742.9 433.8,742.3 434.3,742.3 434.8,742.7 435.3,743.2 435.8,742.4 436.3,743.0 436.8,743.0 437.3,742.5 437.8,742.5 438.3,742.3 438.8,742.4 439.3,742.6 439.8,742.6 440.3,742.9 440.8,742.5 441.3,742.9 441.8,742.5 442.3,743.0 442.8,742.4 443.3,742.4 443.8,742.4 444.3,743.0 444.8,742.9 445.3,742.9 445.8,743.0 446.3,742.5 446.8,743.2 447.3,743.2 447.8,742.4 448.3,742.7 448.8,742.6 449.3,742.7 449.8,742.7 450.3,742.5 450.8,743.2 451.3,742.6 451.8,743.0 452.3,743.0 452.8,743.2 453.3,743.1 453.8,743.1 454.3,742.6 454.8,742.9 455.3,742.8 455.8,743.1 456.3,743.2 456.8,743.0 457.3,743.3 457.8,743.2 458.3,742.9 458.8,743.0 459.3,742.9 459.8,743.2 460.3,743.0 460.8,743.3 461.3,743.0 461.8,743.3 462.3,742.8 462.9,743.4 463.4,742.8 463.9,742.8 464.4,743.2 464.9,742.9 465.4,743.0 465.9,743.1 466.4,743.2 466.9,743.1 467.4,743.4 467.9,743.1 468.4,743.4 468.9,743.2 469.4,743.4 469.9,743.0 470.4,743.0 470.9,743.0 471.4,743.1 471.9,743.1 472.4,743.0 472.9,743.2 473.4,743.0 473.9,743.4 474.4,743.4 474.9,743.1 475.4,743.6 475.9,743.0 476.4,743.1 476.9,743.6 477.4,743.1 477.9,743.3 478.4,743.3 478.9,743.2 479.4,743.1 479.9,743.5 480.4,743.7 480.9,743.3 481.4,743.5 481.9,743.4 482.4,743.4 482.9,743.4 483.4,743.7 483.9,743.4 484.4,743.5 484.9,743.5 485.4,743.4 485.9,743.5 486.4,743.4 486.9,743.7 487.4,743.4 487.9,743.4 488.4,743.5 488.9,743.7 489.4,743.6 489.9,743.8 490.4,743.9 490.9,743.7 491.4,744.0 491.9,744.0 492.4,743.9 492.9,744.0 493.4,744.1 493.9,744.0 494.4,744.1 494.4,744.3" fill="#ff0000"/>
<line x1="349" y1="744.30" x2="494.4" y2="744.30" stroke="#ff0000" stroke-width="0.9"/>
<path d="M340 682.5H527M340 748.5H527" stroke="#555" stroke-width="1" fill="none"/>
<line x1="340.5" y1="682.5" x2="340.5" y2="748.5" stroke="#555" stroke-width="1"/>
<line x1="527" y1="682" x2="527" y2="749" stroke="#a8a8a8" stroke-width="2"/>
<line x1="349" y1="748.5" x2="349" y2="747" stroke="#444" stroke-width="0.8"/>
<text x="349" y="755.9" font-size="8.6" text-anchor="middle">0</text>
<line x1="377.2" y1="748.5" x2="377.2" y2="747" stroke="#444" stroke-width="0.8"/>
<text x="377.2" y="755.9" font-size="8.6" text-anchor="middle">1000</text>
<line x1="405.5" y1="748.5" x2="405.5" y2="747" stroke="#444" stroke-width="0.8"/>
<text x="405.5" y="755.9" font-size="8.6" text-anchor="middle">2000</text>
<line x1="433.7" y1="748.5" x2="433.7" y2="747" stroke="#444" stroke-width="0.8"/>
<text x="433.7" y="755.9" font-size="8.6" text-anchor="middle">3000</text>
<line x1="462" y1="748.5" x2="462" y2="747" stroke="#444" stroke-width="0.8"/>
<text x="462" y="755.9" font-size="8.6" text-anchor="middle">4000</text>
<line x1="490.2" y1="748.5" x2="490.2" y2="747" stroke="#444" stroke-width="0.8"/>
<text x="490.2" y="755.9" font-size="8.6" text-anchor="middle">5000</text>
<line x1="518.5" y1="748.5" x2="518.5" y2="747" stroke="#444" stroke-width="0.8"/>
<text x="518.5" y="755.9" font-size="8.6" text-anchor="middle">6000</text>
<line x1="340.6" y1="34.6" x2="342.1" y2="34.6" stroke="#444" stroke-width="0.8"/>
<text x="339.3" y="37.5" font-size="8.6" text-anchor="end">0.04</text>
<line x1="340.6" y1="48.2" x2="342.1" y2="48.2" stroke="#444" stroke-width="0.8"/>
<text x="339.3" y="51.1" font-size="8.6" text-anchor="end">0.03</text>
<line x1="340.6" y1="61.8" x2="342.1" y2="61.8" stroke="#444" stroke-width="0.8"/>
<text x="339.3" y="64.7" font-size="8.6" text-anchor="end">0.02</text>
<line x1="340.6" y1="75.4" x2="342.1" y2="75.4" stroke="#444" stroke-width="0.8"/>
<text x="339.3" y="78.3" font-size="8.6" text-anchor="end">0.01</text>
<line x1="340.6" y1="89" x2="342.1" y2="89" stroke="#444" stroke-width="0.8"/>
<text x="339.3" y="91.9" font-size="8.6" text-anchor="end">0.00</text>
<line x1="340.6" y1="183.7" x2="342.1" y2="183.7" stroke="#444" stroke-width="0.8"/>
<text x="339.3" y="186.6" font-size="8.6" text-anchor="end">0.03</text>
<line x1="340.6" y1="204.3" x2="342.1" y2="204.3" stroke="#444" stroke-width="0.8"/>
<text x="339.3" y="207.2" font-size="8.6" text-anchor="end">0.02</text>
<line x1="340.6" y1="224.9" x2="342.1" y2="224.9" stroke="#444" stroke-width="0.8"/>
<text x="339.3" y="227.8" font-size="8.6" text-anchor="end">0.01</text>
<line x1="340.6" y1="245.5" x2="342.1" y2="245.5" stroke="#444" stroke-width="0.8"/>
<text x="339.3" y="248.4" font-size="8.6" text-anchor="end">0.00</text>
<line x1="340.6" y1="279.1" x2="342.1" y2="279.1" stroke="#444" stroke-width="0.8"/>
<text x="339.3" y="282" font-size="8.6" text-anchor="end">0.4</text>
<line x1="340.6" y1="293.2" x2="342.1" y2="293.2" stroke="#444" stroke-width="0.8"/>
<text x="339.3" y="296.1" font-size="8.6" text-anchor="end">0.3</text>
<line x1="340.6" y1="307.2" x2="342.1" y2="307.2" stroke="#444" stroke-width="0.8"/>
<text x="339.3" y="310.1" font-size="8.6" text-anchor="end">0.2</text>
<line x1="340.6" y1="321.2" x2="342.1" y2="321.2" stroke="#444" stroke-width="0.8"/>
<text x="339.3" y="324.1" font-size="8.6" text-anchor="end">0.1</text>
<line x1="340.6" y1="335.3" x2="342.1" y2="335.3" stroke="#444" stroke-width="0.8"/>
<text x="339.3" y="338.2" font-size="8.6" text-anchor="end">0.0</text>
<line x1="340.6" y1="442.6" x2="342.1" y2="442.6" stroke="#444" stroke-width="0.8"/>
<text x="339.3" y="445.5" font-size="8.6" text-anchor="end">0.6</text>
<line x1="340.6" y1="451.9" x2="342.1" y2="451.9" stroke="#444" stroke-width="0.8"/>
<text x="339.3" y="454.8" font-size="8.6" text-anchor="end">0.5</text>
<line x1="340.6" y1="461.2" x2="342.1" y2="461.2" stroke="#444" stroke-width="0.8"/>
<text x="339.3" y="464.1" font-size="8.6" text-anchor="end">0.4</text>
<line x1="340.6" y1="470.5" x2="342.1" y2="470.5" stroke="#444" stroke-width="0.8"/>
<text x="339.3" y="473.4" font-size="8.6" text-anchor="end">0.3</text>
<line x1="340.6" y1="479.7" x2="342.1" y2="479.7" stroke="#444" stroke-width="0.8"/>
<text x="339.3" y="482.6" font-size="8.6" text-anchor="end">0.2</text>
<line x1="340.6" y1="489" x2="342.1" y2="489" stroke="#444" stroke-width="0.8"/>
<text x="339.3" y="491.9" font-size="8.6" text-anchor="end">0.1</text>
<line x1="340.6" y1="498.3" x2="342.1" y2="498.3" stroke="#444" stroke-width="0.8"/>
<text x="339.3" y="501.2" font-size="8.6" text-anchor="end">0.0</text>
<line x1="340.6" y1="523.7" x2="342.1" y2="523.7" stroke="#444" stroke-width="0.8"/>
<text x="339.3" y="526.6" font-size="8.6" text-anchor="end">0.20</text>
<line x1="340.6" y1="538.8" x2="342.1" y2="538.8" stroke="#444" stroke-width="0.8"/>
<text x="339.3" y="541.7" font-size="8.6" text-anchor="end">0.15</text>
<line x1="340.6" y1="553.9" x2="342.1" y2="553.9" stroke="#444" stroke-width="0.8"/>
<text x="339.3" y="556.8" font-size="8.6" text-anchor="end">0.10</text>
<line x1="340.6" y1="569" x2="342.1" y2="569" stroke="#444" stroke-width="0.8"/>
<text x="339.3" y="571.9" font-size="8.6" text-anchor="end">0.05</text>
<line x1="340.6" y1="584.1" x2="342.1" y2="584.1" stroke="#444" stroke-width="0.8"/>
<text x="339.3" y="587" font-size="8.6" text-anchor="end">0.00</text>
<line x1="340.6" y1="689.9" x2="342.1" y2="689.9" stroke="#444" stroke-width="0.8"/>
<text x="339.3" y="692.8" font-size="8.6" text-anchor="end">0.08</text>
<line x1="340.6" y1="703.5" x2="342.1" y2="703.5" stroke="#444" stroke-width="0.8"/>
<text x="339.3" y="706.4" font-size="8.6" text-anchor="end">0.06</text>
<line x1="340.6" y1="717.1" x2="342.1" y2="717.1" stroke="#444" stroke-width="0.8"/>
<text x="339.3" y="720" font-size="8.6" text-anchor="end">0.04</text>
<line x1="340.6" y1="730.7" x2="342.1" y2="730.7" stroke="#444" stroke-width="0.8"/>
<text x="339.3" y="733.6" font-size="8.6" text-anchor="end">0.02</text>
<line x1="340.6" y1="744.3" x2="342.1" y2="744.3" stroke="#444" stroke-width="0.8"/>
<text x="339.3" y="747.2" font-size="8.6" text-anchor="end">0.00</text>
<ellipse cx="141.2" cy="59.5" rx="22.7" ry="11.4" fill="none" stroke="#000" stroke-width="1"/>
<ellipse cx="141.7" cy="305.2" rx="22.8" ry="11.15" fill="none" stroke="#000" stroke-width="1"/>
<ellipse cx="141.7" cy="554.35" rx="22.8" ry="10.95" fill="none" stroke="#000" stroke-width="1"/>
<text x="0" y="45.8" font-size="8.8">(a)</text>
<text x="0" y="56.1" font-size="8.8">SNR=0dB</text>
<text x="0" y="66.4" font-size="8.8">Fault Mode: ball race fault</text>
<text x="0" y="76.7" font-size="8.8">Fault Diameter: 14mils</text>
<text x="0" y="132.4" font-size="8.8">(b)</text>
<text x="0" y="142.7" font-size="8.8">Zoom plot of (a)</text>
<text x="0" y="153" font-size="8.8">From 0 to 500</text>
<text x="0" y="208.5" font-size="8.8">(c)</text>
<text x="0" y="218.8" font-size="8.8">SNR=0dB</text>
<text x="0" y="229.1" font-size="8.8">Fault Mode: ball race fault</text>
<text x="0" y="239.4" font-size="8.8">Fault Diameter: 21mils</text>
<text x="0" y="295.4" font-size="8.8">(d)</text>
<text x="0" y="305.7" font-size="8.8">SNR=-3dB</text>
<text x="0" y="316" font-size="8.8">Fault Mode: outer race fault</text>
<text x="0" y="326.3" font-size="8.8">Fault Diameter: 21mils</text>
<text x="0" y="382.4" font-size="8.8">(e)</text>
<text x="0" y="392.7" font-size="8.8">Zoom plot of (d)</text>
<text x="0" y="403" font-size="8.8">From 0 to 500</text>
<text x="0" y="458.6" font-size="8.8">(f)</text>
<text x="0" y="468.9" font-size="8.8">SNR=-3dB</text>
<text x="0" y="479.2" font-size="8.8">Fault Mode: outer race fault</text>
<text x="0" y="489.5" font-size="8.8">Fault Diameter: 7mils</text>
<text x="0" y="544.6" font-size="8.8">(g)</text>
<text x="0" y="554.9" font-size="8.8">SNR=-6dB</text>
<text x="0" y="565.2" font-size="8.8">Fault Mode: inner race fault</text>
<text x="0" y="575.5" font-size="8.8">Fault Diameter: 7mils</text>
<text x="0" y="630.4" font-size="8.8">(h)</text>
<text x="0" y="640.7" font-size="8.8">Zoom plot of (g)</text>
<text x="0" y="651" font-size="8.8">From 0 to 500</text>
<text x="0" y="704.8" font-size="8.8">(i)</text>
<text x="0" y="715.1" font-size="8.8">SNR=-6dB</text>
<text x="0" y="725.4" font-size="8.8">Fault Mode: inner race fault</text>
<text x="0" y="735.7" font-size="8.8">Fault Diameter: 14mils</text>
<text x="219.5" y="770.4" font-size="8.8" text-anchor="middle">Sampling points</text>
<text x="443.8" y="770.4" font-size="8.8" text-anchor="middle">Frequency(Hz)</text>
<rect x="118.6" y="0.7" width="406.6" height="13.7" fill="#fff" stroke="#000" stroke-width="0.9"/>
<line x1="122.3" y1="8.1" x2="142.6" y2="8.1" stroke="#5a5aff" stroke-width="1.0" stroke-dasharray="8.5 3"/>
<text x="145.3" y="11" font-size="8.8">Noisy Waveform/Spectrum</text>
<line x1="252.4" y1="8.1" x2="272.7" y2="8.1" stroke="#50eea0" stroke-width="1.0" stroke-dasharray="8.5 3"/>
<text x="275.1" y="11" font-size="8.8">Original Waveform/Spectrum</text>
<line x1="389.7" y1="8.1" x2="410.0" y2="8.1" stroke="#ff5050" stroke-width="1.0" stroke-dasharray="8.5 3"/>
<text x="411.7" y="11" font-size="8.8">Denoised Waveform/Spectrum</text>
</svg></body></html>
